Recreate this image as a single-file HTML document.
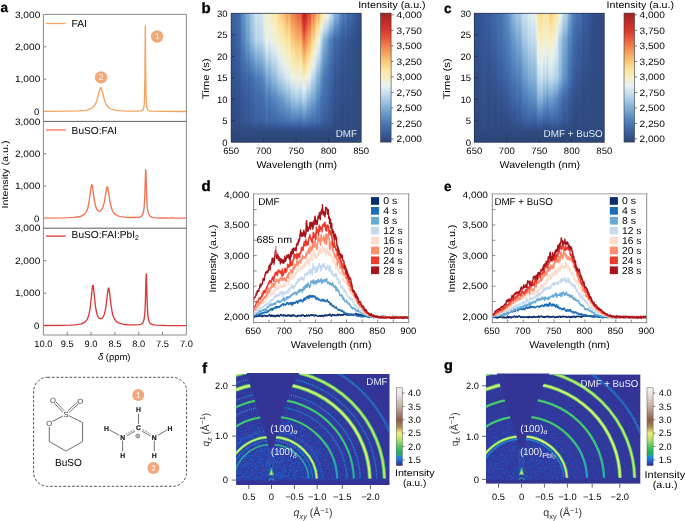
<!DOCTYPE html><html><head><meta charset="utf-8"><style>html,body{margin:0;padding:0;background:#fff;width:685px;height:521px;overflow:hidden}svg{display:block;font-family:"Liberation Sans",sans-serif;will-change:transform;text-rendering:geometricPrecision}</style></head><body><svg width="685" height="521" viewBox="0 0 685 521"><defs><linearGradient id="hb0" x2="0" y2="1"><stop offset="0" stop-color="#3d62a2"/><stop offset=".033" stop-color="#3d62a2"/><stop offset=".117" stop-color="#3a5c9d"/><stop offset=".207" stop-color="#365695"/><stop offset=".3" stop-color="#355492"/><stop offset=".4" stop-color="#34528e"/><stop offset=".5" stop-color="#32508a"/><stop offset=".583" stop-color="#324f88"/><stop offset=".667" stop-color="#314e87"/><stop offset=".75" stop-color="#304d84"/><stop offset=".833" stop-color="#2f4b81"/><stop offset=".86" stop-color="#2f4b81"/><stop offset=".88" stop-color="#2f4b80"/><stop offset=".9" stop-color="#2f4a7f"/><stop offset=".917" stop-color="#2e4a7f"/><stop offset="1" stop-color="#2c4678"/></linearGradient><linearGradient id="hb1" x2="0" y2="1"><stop offset="0" stop-color="#3e65a4"/><stop offset=".033" stop-color="#3e65a4"/><stop offset=".117" stop-color="#3b5f9f"/><stop offset=".207" stop-color="#38599a"/><stop offset=".3" stop-color="#375796"/><stop offset=".4" stop-color="#355491"/><stop offset=".5" stop-color="#33528d"/><stop offset=".583" stop-color="#33518b"/><stop offset=".667" stop-color="#324f89"/><stop offset=".75" stop-color="#314e86"/><stop offset=".833" stop-color="#304c83"/><stop offset=".86" stop-color="#304c83"/><stop offset=".88" stop-color="#304c82"/><stop offset=".9" stop-color="#2f4b80"/><stop offset=".917" stop-color="#2f4a7f"/><stop offset="1" stop-color="#2c4679"/></linearGradient><linearGradient id="hb2" x2="0" y2="1"><stop offset="0" stop-color="#3d62a2"/><stop offset=".033" stop-color="#3d62a2"/><stop offset=".117" stop-color="#3a5d9e"/><stop offset=".207" stop-color="#385899"/><stop offset=".3" stop-color="#365694"/><stop offset=".4" stop-color="#345390"/><stop offset=".5" stop-color="#33518b"/><stop offset=".583" stop-color="#324f89"/><stop offset=".667" stop-color="#314e86"/><stop offset=".75" stop-color="#304c84"/><stop offset=".833" stop-color="#2f4b81"/><stop offset=".86" stop-color="#2f4a80"/><stop offset=".88" stop-color="#2e4a7f"/><stop offset=".9" stop-color="#2e4a7f"/><stop offset=".917" stop-color="#2e4a7e"/><stop offset="1" stop-color="#2c4678"/></linearGradient><linearGradient id="hb3" x2="0" y2="1"><stop offset="0" stop-color="#3c61a1"/><stop offset=".033" stop-color="#3c61a1"/><stop offset=".117" stop-color="#3a5d9d"/><stop offset=".207" stop-color="#385899"/><stop offset=".3" stop-color="#365694"/><stop offset=".4" stop-color="#34538f"/><stop offset=".5" stop-color="#33508a"/><stop offset=".583" stop-color="#324f88"/><stop offset=".667" stop-color="#314d85"/><stop offset=".75" stop-color="#304c82"/><stop offset=".833" stop-color="#2f4a80"/><stop offset=".86" stop-color="#2e4a7e"/><stop offset=".88" stop-color="#2e497d"/><stop offset=".9" stop-color="#2e4a7e"/><stop offset=".917" stop-color="#2e497e"/><stop offset="1" stop-color="#2c4678"/></linearGradient><linearGradient id="hb4" x2="0" y2="1"><stop offset="0" stop-color="#3e64a4"/><stop offset=".033" stop-color="#3e64a4"/><stop offset=".117" stop-color="#3c60a1"/><stop offset=".207" stop-color="#3a5c9d"/><stop offset=".3" stop-color="#38599a"/><stop offset=".4" stop-color="#365694"/><stop offset=".5" stop-color="#34538f"/><stop offset=".583" stop-color="#33518c"/><stop offset=".667" stop-color="#324f88"/><stop offset=".75" stop-color="#314e86"/><stop offset=".833" stop-color="#304c83"/><stop offset=".86" stop-color="#2f4b81"/><stop offset=".88" stop-color="#2f4b80"/><stop offset=".9" stop-color="#2f4a7f"/><stop offset=".917" stop-color="#2e4a7e"/><stop offset="1" stop-color="#2c4678"/></linearGradient><linearGradient id="hb5" x2="0" y2="1"><stop offset="0" stop-color="#4068a7"/><stop offset=".033" stop-color="#4068a7"/><stop offset=".117" stop-color="#3e65a4"/><stop offset=".207" stop-color="#3c61a1"/><stop offset=".3" stop-color="#3a5d9e"/><stop offset=".4" stop-color="#38599a"/><stop offset=".5" stop-color="#365694"/><stop offset=".583" stop-color="#345390"/><stop offset=".667" stop-color="#33518c"/><stop offset=".75" stop-color="#325089"/><stop offset=".833" stop-color="#314e87"/><stop offset=".86" stop-color="#304d85"/><stop offset=".88" stop-color="#304c83"/><stop offset=".9" stop-color="#2f4b81"/><stop offset=".917" stop-color="#2f4a7f"/><stop offset="1" stop-color="#2c4678"/></linearGradient><linearGradient id="hb6" x2="0" y2="1"><stop offset="0" stop-color="#4069a8"/><stop offset=".033" stop-color="#4069a8"/><stop offset=".117" stop-color="#3f66a5"/><stop offset=".207" stop-color="#3d63a3"/><stop offset=".3" stop-color="#3b5f9f"/><stop offset=".4" stop-color="#395a9b"/><stop offset=".5" stop-color="#365695"/><stop offset=".583" stop-color="#355491"/><stop offset=".667" stop-color="#33528d"/><stop offset=".75" stop-color="#32508a"/><stop offset=".833" stop-color="#314f87"/><stop offset=".86" stop-color="#314d85"/><stop offset=".88" stop-color="#304c83"/><stop offset=".9" stop-color="#2f4b81"/><stop offset=".917" stop-color="#2f4a7f"/><stop offset="1" stop-color="#2c4678"/></linearGradient><linearGradient id="hb7" x2="0" y2="1"><stop offset="0" stop-color="#4069a8"/><stop offset=".033" stop-color="#4069a8"/><stop offset=".117" stop-color="#3f66a5"/><stop offset=".207" stop-color="#3d63a3"/><stop offset=".3" stop-color="#3b5e9f"/><stop offset=".4" stop-color="#38599a"/><stop offset=".5" stop-color="#355593"/><stop offset=".583" stop-color="#34528e"/><stop offset=".667" stop-color="#32508a"/><stop offset=".75" stop-color="#314e87"/><stop offset=".833" stop-color="#304d84"/><stop offset=".86" stop-color="#2f4b81"/><stop offset=".88" stop-color="#2f4a7f"/><stop offset=".9" stop-color="#2f4a7f"/><stop offset=".917" stop-color="#2e497e"/><stop offset="1" stop-color="#2c4678"/></linearGradient><linearGradient id="hb8" x2="0" y2="1"><stop offset="0" stop-color="#436eac"/><stop offset=".033" stop-color="#436dac"/><stop offset=".117" stop-color="#416aa9"/><stop offset=".207" stop-color="#3f67a6"/><stop offset=".3" stop-color="#3c61a1"/><stop offset=".4" stop-color="#395c9c"/><stop offset=".5" stop-color="#365695"/><stop offset=".583" stop-color="#345390"/><stop offset=".667" stop-color="#33508b"/><stop offset=".75" stop-color="#324f88"/><stop offset=".833" stop-color="#314d85"/><stop offset=".86" stop-color="#2f4b82"/><stop offset=".88" stop-color="#2f4a80"/><stop offset=".9" stop-color="#2f4a7f"/><stop offset=".917" stop-color="#2e497e"/><stop offset="1" stop-color="#2c4678"/></linearGradient><linearGradient id="hb9" x2="0" y2="1"><stop offset="0" stop-color="#4c79b5"/><stop offset=".033" stop-color="#4b78b4"/><stop offset=".117" stop-color="#4774b1"/><stop offset=".207" stop-color="#4470ae"/><stop offset=".3" stop-color="#4069a8"/><stop offset=".4" stop-color="#3d62a2"/><stop offset=".5" stop-color="#395b9c"/><stop offset=".583" stop-color="#375797"/><stop offset=".667" stop-color="#355491"/><stop offset=".75" stop-color="#34528e"/><stop offset=".833" stop-color="#32508a"/><stop offset=".86" stop-color="#314e87"/><stop offset=".88" stop-color="#304d84"/><stop offset=".9" stop-color="#2f4b81"/><stop offset=".917" stop-color="#2e4a7f"/><stop offset="1" stop-color="#2c4678"/></linearGradient><linearGradient id="hb10" x2="0" y2="1"><stop offset="0" stop-color="#5483bc"/><stop offset=".033" stop-color="#5282bb"/><stop offset=".117" stop-color="#4f7db8"/><stop offset=".207" stop-color="#4b78b4"/><stop offset=".3" stop-color="#446fad"/><stop offset=".4" stop-color="#3f67a6"/><stop offset=".5" stop-color="#3b5f9f"/><stop offset=".583" stop-color="#395a9b"/><stop offset=".667" stop-color="#365695"/><stop offset=".75" stop-color="#355492"/><stop offset=".833" stop-color="#34528e"/><stop offset=".86" stop-color="#32508a"/><stop offset=".88" stop-color="#314e87"/><stop offset=".9" stop-color="#304c82"/><stop offset=".917" stop-color="#2f4a80"/><stop offset="1" stop-color="#2c4679"/></linearGradient><linearGradient id="hb11" x2="0" y2="1"><stop offset="0" stop-color="#5b8cc3"/><stop offset=".033" stop-color="#598ac2"/><stop offset=".117" stop-color="#5585be"/><stop offset=".207" stop-color="#5180ba"/><stop offset=".3" stop-color="#4976b2"/><stop offset=".4" stop-color="#426caa"/><stop offset=".5" stop-color="#3d63a2"/><stop offset=".583" stop-color="#3a5d9e"/><stop offset=".667" stop-color="#385899"/><stop offset=".75" stop-color="#365695"/><stop offset=".833" stop-color="#355491"/><stop offset=".86" stop-color="#33518d"/><stop offset=".88" stop-color="#325089"/><stop offset=".9" stop-color="#304c83"/><stop offset=".917" stop-color="#2f4b80"/><stop offset="1" stop-color="#2c4779"/></linearGradient><linearGradient id="hb12" x2="0" y2="1"><stop offset="0" stop-color="#6191c5"/><stop offset=".033" stop-color="#5f8fc4"/><stop offset=".117" stop-color="#5989c1"/><stop offset=".207" stop-color="#5484bd"/><stop offset=".3" stop-color="#4b79b5"/><stop offset=".4" stop-color="#436eac"/><stop offset=".5" stop-color="#3d63a3"/><stop offset=".583" stop-color="#3b5e9e"/><stop offset=".667" stop-color="#385999"/><stop offset=".75" stop-color="#365695"/><stop offset=".833" stop-color="#355491"/><stop offset=".86" stop-color="#33518c"/><stop offset=".88" stop-color="#324f89"/><stop offset=".9" stop-color="#304c83"/><stop offset=".917" stop-color="#2f4a80"/><stop offset="1" stop-color="#2c4679"/></linearGradient><linearGradient id="hb13" x2="0" y2="1"><stop offset="0" stop-color="#6494c7"/><stop offset=".033" stop-color="#6191c5"/><stop offset=".117" stop-color="#5b8cc2"/><stop offset=".207" stop-color="#5686be"/><stop offset=".3" stop-color="#4c7ab5"/><stop offset=".4" stop-color="#436dac"/><stop offset=".5" stop-color="#3d63a2"/><stop offset=".583" stop-color="#3a5d9d"/><stop offset=".667" stop-color="#375897"/><stop offset=".75" stop-color="#365593"/><stop offset=".833" stop-color="#34538f"/><stop offset=".86" stop-color="#32508a"/><stop offset=".88" stop-color="#314e86"/><stop offset=".9" stop-color="#304c82"/><stop offset=".917" stop-color="#2e4a7f"/><stop offset="1" stop-color="#2c4678"/></linearGradient><linearGradient id="hb14" x2="0" y2="1"><stop offset="0" stop-color="#709fcd"/><stop offset=".033" stop-color="#6e9ccc"/><stop offset=".117" stop-color="#6796c8"/><stop offset=".207" stop-color="#6090c5"/><stop offset=".3" stop-color="#5282bb"/><stop offset=".4" stop-color="#4673b0"/><stop offset=".5" stop-color="#3e65a5"/><stop offset=".583" stop-color="#3b60a0"/><stop offset=".667" stop-color="#385a9b"/><stop offset=".75" stop-color="#375797"/><stop offset=".833" stop-color="#355593"/><stop offset=".86" stop-color="#33528d"/><stop offset=".88" stop-color="#324f89"/><stop offset=".9" stop-color="#304c83"/><stop offset=".917" stop-color="#2f4a7f"/><stop offset="1" stop-color="#2c4678"/></linearGradient><linearGradient id="hb15" x2="0" y2="1"><stop offset="0" stop-color="#83aed6"/><stop offset=".033" stop-color="#80acd4"/><stop offset=".117" stop-color="#78a6d1"/><stop offset=".207" stop-color="#719fcd"/><stop offset=".3" stop-color="#5c8dc3"/><stop offset=".4" stop-color="#4d7bb6"/><stop offset=".5" stop-color="#416ba9"/><stop offset=".583" stop-color="#3e64a4"/><stop offset=".667" stop-color="#3b5e9e"/><stop offset=".75" stop-color="#395b9c"/><stop offset=".833" stop-color="#385899"/><stop offset=".86" stop-color="#355592"/><stop offset=".88" stop-color="#33528d"/><stop offset=".9" stop-color="#314d85"/><stop offset=".917" stop-color="#2f4b80"/><stop offset="1" stop-color="#2c4779"/></linearGradient><linearGradient id="hb16" x2="0" y2="1"><stop offset="0" stop-color="#83aed6"/><stop offset=".033" stop-color="#80acd4"/><stop offset=".117" stop-color="#79a6d1"/><stop offset=".207" stop-color="#719fcd"/><stop offset=".3" stop-color="#5c8cc3"/><stop offset=".4" stop-color="#4c7ab5"/><stop offset=".5" stop-color="#4068a7"/><stop offset=".583" stop-color="#3d62a2"/><stop offset=".667" stop-color="#3a5c9d"/><stop offset=".75" stop-color="#38599a"/><stop offset=".833" stop-color="#375796"/><stop offset=".86" stop-color="#34538f"/><stop offset=".88" stop-color="#32508a"/><stop offset=".9" stop-color="#304c84"/><stop offset=".917" stop-color="#2f4a7f"/><stop offset="1" stop-color="#2c4678"/></linearGradient><linearGradient id="hb17" x2="0" y2="1"><stop offset="0" stop-color="#83aed5"/><stop offset=".033" stop-color="#80acd4"/><stop offset=".117" stop-color="#78a6d1"/><stop offset=".207" stop-color="#719fcd"/><stop offset=".3" stop-color="#5a8bc2"/><stop offset=".4" stop-color="#4a78b4"/><stop offset=".5" stop-color="#3f66a5"/><stop offset=".583" stop-color="#3c60a0"/><stop offset=".667" stop-color="#385a9b"/><stop offset=".75" stop-color="#375897"/><stop offset=".833" stop-color="#365594"/><stop offset=".86" stop-color="#33518c"/><stop offset=".88" stop-color="#314e86"/><stop offset=".9" stop-color="#304c82"/><stop offset=".917" stop-color="#2e497e"/><stop offset="1" stop-color="#2c4678"/></linearGradient><linearGradient id="hb18" x2="0" y2="1"><stop offset="0" stop-color="#8db6da"/><stop offset=".033" stop-color="#8ab3d9"/><stop offset=".117" stop-color="#82add5"/><stop offset=".207" stop-color="#7aa7d1"/><stop offset=".3" stop-color="#6191c5"/><stop offset=".4" stop-color="#4d7bb6"/><stop offset=".5" stop-color="#3f67a6"/><stop offset=".583" stop-color="#3c61a1"/><stop offset=".667" stop-color="#395b9c"/><stop offset=".75" stop-color="#385999"/><stop offset=".833" stop-color="#365695"/><stop offset=".86" stop-color="#33528d"/><stop offset=".88" stop-color="#314e87"/><stop offset=".9" stop-color="#304c83"/><stop offset=".917" stop-color="#2e497e"/><stop offset="1" stop-color="#2c4678"/></linearGradient><linearGradient id="hb19" x2="0" y2="1"><stop offset="0" stop-color="#9ec3e2"/><stop offset=".033" stop-color="#9bc1e0"/><stop offset=".117" stop-color="#93bbdd"/><stop offset=".207" stop-color="#8ab4d9"/><stop offset=".3" stop-color="#6e9ccb"/><stop offset=".4" stop-color="#5383bc"/><stop offset=".5" stop-color="#426caa"/><stop offset=".583" stop-color="#3e65a5"/><stop offset=".667" stop-color="#3b5f9f"/><stop offset=".75" stop-color="#3a5c9d"/><stop offset=".833" stop-color="#38599a"/><stop offset=".86" stop-color="#355491"/><stop offset=".88" stop-color="#32508a"/><stop offset=".9" stop-color="#304d84"/><stop offset=".917" stop-color="#2e4a7f"/><stop offset="1" stop-color="#2c4678"/></linearGradient><linearGradient id="hb20" x2="0" y2="1"><stop offset="0" stop-color="#a7c9e4"/><stop offset=".033" stop-color="#a4c7e3"/><stop offset=".117" stop-color="#9cc1e1"/><stop offset=".207" stop-color="#93badd"/><stop offset=".3" stop-color="#74a2cf"/><stop offset=".4" stop-color="#5787bf"/><stop offset=".5" stop-color="#436ead"/><stop offset=".583" stop-color="#4068a7"/><stop offset=".667" stop-color="#3c61a1"/><stop offset=".75" stop-color="#3b5e9e"/><stop offset=".833" stop-color="#395b9c"/><stop offset=".86" stop-color="#355593"/><stop offset=".88" stop-color="#33518c"/><stop offset=".9" stop-color="#304d85"/><stop offset=".917" stop-color="#2e4a7f"/><stop offset="1" stop-color="#2c4678"/></linearGradient><linearGradient id="hb21" x2="0" y2="1"><stop offset="0" stop-color="#abcce5"/><stop offset=".033" stop-color="#a8cae4"/><stop offset=".117" stop-color="#a0c4e2"/><stop offset=".207" stop-color="#97bdde"/><stop offset=".3" stop-color="#77a5d0"/><stop offset=".4" stop-color="#5889c1"/><stop offset=".5" stop-color="#4470ae"/><stop offset=".583" stop-color="#4069a8"/><stop offset=".667" stop-color="#3c62a1"/><stop offset=".75" stop-color="#3b5e9f"/><stop offset=".833" stop-color="#395b9c"/><stop offset=".86" stop-color="#355593"/><stop offset=".88" stop-color="#33518b"/><stop offset=".9" stop-color="#304d84"/><stop offset=".917" stop-color="#2e4a7f"/><stop offset="1" stop-color="#2c4678"/></linearGradient><linearGradient id="hb22" x2="0" y2="1"><stop offset="0" stop-color="#b3d1e7"/><stop offset=".033" stop-color="#b0cfe7"/><stop offset=".117" stop-color="#a8c9e4"/><stop offset=".207" stop-color="#9ec3e2"/><stop offset=".3" stop-color="#7daad3"/><stop offset=".4" stop-color="#5c8dc3"/><stop offset=".5" stop-color="#4672b0"/><stop offset=".583" stop-color="#416ba9"/><stop offset=".667" stop-color="#3d63a3"/><stop offset=".75" stop-color="#3c60a0"/><stop offset=".833" stop-color="#3a5c9d"/><stop offset=".86" stop-color="#365694"/><stop offset=".88" stop-color="#33518c"/><stop offset=".9" stop-color="#314d85"/><stop offset=".917" stop-color="#2e4a7f"/><stop offset="1" stop-color="#2c4678"/></linearGradient><linearGradient id="hb23" x2="0" y2="1"><stop offset="0" stop-color="#bfd8ea"/><stop offset=".033" stop-color="#bcd6ea"/><stop offset=".117" stop-color="#b3d1e7"/><stop offset=".207" stop-color="#a9cbe5"/><stop offset=".3" stop-color="#86b1d7"/><stop offset=".4" stop-color="#6393c6"/><stop offset=".5" stop-color="#4977b3"/><stop offset=".583" stop-color="#436eac"/><stop offset=".667" stop-color="#3f66a6"/><stop offset=".75" stop-color="#3d62a2"/><stop offset=".833" stop-color="#3b5e9f"/><stop offset=".86" stop-color="#375797"/><stop offset=".88" stop-color="#34528e"/><stop offset=".9" stop-color="#314e86"/><stop offset=".917" stop-color="#2f4a7f"/><stop offset="1" stop-color="#2c4678"/></linearGradient><linearGradient id="hb24" x2="0" y2="1"><stop offset="0" stop-color="#cbe0ed"/><stop offset=".033" stop-color="#c8deed"/><stop offset=".117" stop-color="#bfd8ea"/><stop offset=".207" stop-color="#b5d2e8"/><stop offset=".3" stop-color="#90b8db"/><stop offset=".4" stop-color="#6a99ca"/><stop offset=".5" stop-color="#4d7bb6"/><stop offset=".583" stop-color="#4572af"/><stop offset=".667" stop-color="#4169a8"/><stop offset=".75" stop-color="#3e65a4"/><stop offset=".833" stop-color="#3c61a1"/><stop offset=".86" stop-color="#385999"/><stop offset=".88" stop-color="#355390"/><stop offset=".9" stop-color="#314e86"/><stop offset=".917" stop-color="#2f4a80"/><stop offset="1" stop-color="#2c4679"/></linearGradient><linearGradient id="hb25" x2="0" y2="1"><stop offset="0" stop-color="#d3e5ee"/><stop offset=".033" stop-color="#d0e3ee"/><stop offset=".117" stop-color="#c7deec"/><stop offset=".207" stop-color="#bed7ea"/><stop offset=".3" stop-color="#97bdde"/><stop offset=".4" stop-color="#6f9ecc"/><stop offset=".5" stop-color="#507eb9"/><stop offset=".583" stop-color="#4874b1"/><stop offset=".667" stop-color="#426baa"/><stop offset=".75" stop-color="#3f67a6"/><stop offset=".833" stop-color="#3d62a2"/><stop offset=".86" stop-color="#38599a"/><stop offset=".88" stop-color="#355491"/><stop offset=".9" stop-color="#314e87"/><stop offset=".917" stop-color="#2f4a80"/><stop offset="1" stop-color="#2c4679"/></linearGradient><linearGradient id="hb26" x2="0" y2="1"><stop offset="0" stop-color="#cce0ed"/><stop offset=".033" stop-color="#c9dfed"/><stop offset=".117" stop-color="#c1d9eb"/><stop offset=".207" stop-color="#b8d3e8"/><stop offset=".3" stop-color="#92badc"/><stop offset=".4" stop-color="#6c9bcb"/><stop offset=".5" stop-color="#4e7cb7"/><stop offset=".583" stop-color="#4672af"/><stop offset=".667" stop-color="#4069a8"/><stop offset=".75" stop-color="#3e64a4"/><stop offset=".833" stop-color="#3b60a0"/><stop offset=".86" stop-color="#375797"/><stop offset=".88" stop-color="#34528e"/><stop offset=".9" stop-color="#314e86"/><stop offset=".917" stop-color="#2e4a7f"/><stop offset="1" stop-color="#2c4678"/></linearGradient><linearGradient id="hb27" x2="0" y2="1"><stop offset="0" stop-color="#c6ddec"/><stop offset=".033" stop-color="#c3dbec"/><stop offset=".117" stop-color="#bbd6e9"/><stop offset=".207" stop-color="#b2d0e7"/><stop offset=".3" stop-color="#8db6da"/><stop offset=".4" stop-color="#6998c9"/><stop offset=".5" stop-color="#4d7bb6"/><stop offset=".583" stop-color="#4470ae"/><stop offset=".667" stop-color="#4067a7"/><stop offset=".75" stop-color="#3d63a2"/><stop offset=".833" stop-color="#3b5e9e"/><stop offset=".86" stop-color="#365694"/><stop offset=".88" stop-color="#33518b"/><stop offset=".9" stop-color="#304d85"/><stop offset=".917" stop-color="#2e497e"/><stop offset="1" stop-color="#2c4678"/></linearGradient><linearGradient id="hb28" x2="0" y2="1"><stop offset="0" stop-color="#d0e3ee"/><stop offset=".033" stop-color="#cee1ed"/><stop offset=".117" stop-color="#c6dcec"/><stop offset=".207" stop-color="#bcd7ea"/><stop offset=".3" stop-color="#96bdde"/><stop offset=".4" stop-color="#709fcd"/><stop offset=".5" stop-color="#5180ba"/><stop offset=".583" stop-color="#4875b2"/><stop offset=".667" stop-color="#416ba9"/><stop offset=".75" stop-color="#3f65a5"/><stop offset=".833" stop-color="#3c60a0"/><stop offset=".86" stop-color="#375897"/><stop offset=".88" stop-color="#34528d"/><stop offset=".9" stop-color="#314e85"/><stop offset=".917" stop-color="#2e4a7e"/><stop offset="1" stop-color="#2c4678"/></linearGradient><linearGradient id="hb29" x2="0" y2="1"><stop offset="0" stop-color="#d0e3ee"/><stop offset=".033" stop-color="#cde1ed"/><stop offset=".117" stop-color="#c5dcec"/><stop offset=".207" stop-color="#bcd7ea"/><stop offset=".3" stop-color="#97bede"/><stop offset=".4" stop-color="#719fcd"/><stop offset=".5" stop-color="#5281bb"/><stop offset=".583" stop-color="#4875b2"/><stop offset=".667" stop-color="#416ba9"/><stop offset=".75" stop-color="#3e65a5"/><stop offset=".833" stop-color="#3c60a0"/><stop offset=".86" stop-color="#375797"/><stop offset=".88" stop-color="#33518c"/><stop offset=".9" stop-color="#314d85"/><stop offset=".917" stop-color="#2e497e"/><stop offset="1" stop-color="#2c4678"/></linearGradient><linearGradient id="hb30" x2="0" y2="1"><stop offset="0" stop-color="#d3e5ee"/><stop offset=".033" stop-color="#d0e3ee"/><stop offset=".117" stop-color="#c8deed"/><stop offset=".207" stop-color="#bfd8eb"/><stop offset=".3" stop-color="#9ac0e0"/><stop offset=".4" stop-color="#74a2cf"/><stop offset=".5" stop-color="#5483bc"/><stop offset=".583" stop-color="#4a77b3"/><stop offset=".667" stop-color="#426caa"/><stop offset=".75" stop-color="#3f66a5"/><stop offset=".833" stop-color="#3c60a0"/><stop offset=".86" stop-color="#375797"/><stop offset=".88" stop-color="#33518c"/><stop offset=".9" stop-color="#314d85"/><stop offset=".917" stop-color="#2e497e"/><stop offset="1" stop-color="#2c4678"/></linearGradient><linearGradient id="hb31" x2="0" y2="1"><stop offset="0" stop-color="#d5e6ef"/><stop offset=".033" stop-color="#d3e5ee"/><stop offset=".117" stop-color="#cbe0ed"/><stop offset=".207" stop-color="#c2daeb"/><stop offset=".3" stop-color="#9dc2e1"/><stop offset=".4" stop-color="#77a4d0"/><stop offset=".5" stop-color="#5686be"/><stop offset=".583" stop-color="#4b79b5"/><stop offset=".667" stop-color="#426dab"/><stop offset=".75" stop-color="#3f67a6"/><stop offset=".833" stop-color="#3c61a1"/><stop offset=".86" stop-color="#375797"/><stop offset=".88" stop-color="#33518c"/><stop offset=".9" stop-color="#314d85"/><stop offset=".917" stop-color="#2e497e"/><stop offset="1" stop-color="#2c4678"/></linearGradient><linearGradient id="hb32" x2="0" y2="1"><stop offset="0" stop-color="#dfecf0"/><stop offset=".033" stop-color="#dceaf0"/><stop offset=".117" stop-color="#d4e5ef"/><stop offset=".207" stop-color="#cce0ed"/><stop offset=".3" stop-color="#a6c8e4"/><stop offset=".4" stop-color="#7eaad3"/><stop offset=".5" stop-color="#5a8bc2"/><stop offset=".583" stop-color="#4f7db8"/><stop offset=".667" stop-color="#446fae"/><stop offset=".75" stop-color="#4069a8"/><stop offset=".833" stop-color="#3d63a3"/><stop offset=".86" stop-color="#38599a"/><stop offset=".88" stop-color="#34528e"/><stop offset=".9" stop-color="#314e86"/><stop offset=".917" stop-color="#2e497e"/><stop offset="1" stop-color="#2c4678"/></linearGradient><linearGradient id="hb33" x2="0" y2="1"><stop offset="0" stop-color="#e6f1f2"/><stop offset=".033" stop-color="#e3eff1"/><stop offset=".117" stop-color="#dae9f0"/><stop offset=".207" stop-color="#d1e4ee"/><stop offset=".3" stop-color="#accce5"/><stop offset=".4" stop-color="#84afd6"/><stop offset=".5" stop-color="#6090c5"/><stop offset=".583" stop-color="#5181ba"/><stop offset=".667" stop-color="#4571af"/><stop offset=".75" stop-color="#416aa9"/><stop offset=".833" stop-color="#3e64a3"/><stop offset=".86" stop-color="#38599a"/><stop offset=".88" stop-color="#34538f"/><stop offset=".9" stop-color="#314e86"/><stop offset=".917" stop-color="#2e4a7e"/><stop offset="1" stop-color="#2c4678"/></linearGradient><linearGradient id="hb34" x2="0" y2="1"><stop offset="0" stop-color="#f1f0d7"/><stop offset=".033" stop-color="#eff0db"/><stop offset=".117" stop-color="#ebf1e8"/><stop offset=".207" stop-color="#e4f0f1"/><stop offset=".3" stop-color="#bfd8ea"/><stop offset=".4" stop-color="#95bcde"/><stop offset=".5" stop-color="#6e9ccc"/><stop offset=".583" stop-color="#598ac1"/><stop offset=".667" stop-color="#4b79b4"/><stop offset=".75" stop-color="#4470ae"/><stop offset=".833" stop-color="#4068a7"/><stop offset=".86" stop-color="#3a5d9e"/><stop offset=".88" stop-color="#365694"/><stop offset=".9" stop-color="#324f88"/><stop offset=".917" stop-color="#2f4a80"/><stop offset="1" stop-color="#2c4679"/></linearGradient><linearGradient id="hb35" x2="0" y2="1"><stop offset="0" stop-color="#f8ebb9"/><stop offset=".033" stop-color="#f8ecbc"/><stop offset=".117" stop-color="#f5efca"/><stop offset=".207" stop-color="#eff0db"/><stop offset=".3" stop-color="#d3e5ee"/><stop offset=".4" stop-color="#a8cae4"/><stop offset=".5" stop-color="#7daad3"/><stop offset=".583" stop-color="#6595c7"/><stop offset=".667" stop-color="#5180ba"/><stop offset=".75" stop-color="#4977b3"/><stop offset=".833" stop-color="#436dac"/><stop offset=".86" stop-color="#3c61a1"/><stop offset=".88" stop-color="#385999"/><stop offset=".9" stop-color="#32508a"/><stop offset=".917" stop-color="#2f4b81"/><stop offset="1" stop-color="#2d477a"/></linearGradient><linearGradient id="hb36" x2="0" y2="1"><stop offset="0" stop-color="#f7eec3"/><stop offset=".033" stop-color="#f5eec7"/><stop offset=".117" stop-color="#f0f0d7"/><stop offset=".207" stop-color="#ebf1e9"/><stop offset=".3" stop-color="#cbe0ed"/><stop offset=".4" stop-color="#a2c6e3"/><stop offset=".5" stop-color="#7aa7d1"/><stop offset=".583" stop-color="#6191c5"/><stop offset=".667" stop-color="#4e7db7"/><stop offset=".75" stop-color="#4673b0"/><stop offset=".833" stop-color="#416aa9"/><stop offset=".86" stop-color="#3b5e9f"/><stop offset=".88" stop-color="#365695"/><stop offset=".9" stop-color="#324f89"/><stop offset=".917" stop-color="#2f4a80"/><stop offset="1" stop-color="#2c4779"/></linearGradient><linearGradient id="hb37" x2="0" y2="1"><stop offset="0" stop-color="#f4efcd"/><stop offset=".033" stop-color="#f2efd1"/><stop offset=".117" stop-color="#edf1e2"/><stop offset=".207" stop-color="#e6f1f2"/><stop offset=".3" stop-color="#c4dcec"/><stop offset=".4" stop-color="#9dc2e1"/><stop offset=".5" stop-color="#78a5d0"/><stop offset=".583" stop-color="#5e8fc4"/><stop offset=".667" stop-color="#4c7ab5"/><stop offset=".75" stop-color="#4470ae"/><stop offset=".833" stop-color="#3f67a6"/><stop offset=".86" stop-color="#3a5c9d"/><stop offset=".88" stop-color="#355592"/><stop offset=".9" stop-color="#314f88"/><stop offset=".917" stop-color="#2e4a7f"/><stop offset="1" stop-color="#2c4678"/></linearGradient><linearGradient id="hb38" x2="0" y2="1"><stop offset="0" stop-color="#f0f0d7"/><stop offset=".033" stop-color="#eff0db"/><stop offset=".117" stop-color="#eaf2ec"/><stop offset=".207" stop-color="#deecf0"/><stop offset=".3" stop-color="#bed7ea"/><stop offset=".4" stop-color="#98bfdf"/><stop offset=".5" stop-color="#75a3cf"/><stop offset=".583" stop-color="#5b8cc3"/><stop offset=".667" stop-color="#4977b3"/><stop offset=".75" stop-color="#426dab"/><stop offset=".833" stop-color="#3e64a4"/><stop offset=".86" stop-color="#385a9b"/><stop offset=".88" stop-color="#34538f"/><stop offset=".9" stop-color="#314e86"/><stop offset=".917" stop-color="#2e497e"/><stop offset="1" stop-color="#2c4678"/></linearGradient><linearGradient id="hb39" x2="0" y2="1"><stop offset="0" stop-color="#f5efca"/><stop offset=".033" stop-color="#f3efce"/><stop offset=".117" stop-color="#eef1e0"/><stop offset=".207" stop-color="#e6f1f2"/><stop offset=".3" stop-color="#c6ddec"/><stop offset=".4" stop-color="#a1c5e2"/><stop offset=".5" stop-color="#7daad3"/><stop offset=".583" stop-color="#6191c5"/><stop offset=".667" stop-color="#4c7ab5"/><stop offset=".75" stop-color="#446fad"/><stop offset=".833" stop-color="#3f66a5"/><stop offset=".86" stop-color="#395b9c"/><stop offset=".88" stop-color="#355491"/><stop offset=".9" stop-color="#314e87"/><stop offset=".917" stop-color="#2e4a7e"/><stop offset="1" stop-color="#2c4678"/></linearGradient><linearGradient id="hb40" x2="0" y2="1"><stop offset="0" stop-color="#f8ebb8"/><stop offset=".033" stop-color="#f8ecbb"/><stop offset=".117" stop-color="#f3efce"/><stop offset=".207" stop-color="#ecf1e4"/><stop offset=".3" stop-color="#d2e4ee"/><stop offset=".4" stop-color="#adcde6"/><stop offset=".5" stop-color="#88b2d8"/><stop offset=".583" stop-color="#6a99ca"/><stop offset=".667" stop-color="#5180ba"/><stop offset=".75" stop-color="#4774b1"/><stop offset=".833" stop-color="#4069a8"/><stop offset=".86" stop-color="#3a5d9e"/><stop offset=".88" stop-color="#365594"/><stop offset=".9" stop-color="#324f88"/><stop offset=".917" stop-color="#2f4a7f"/><stop offset="1" stop-color="#2c4678"/></linearGradient><linearGradient id="hb41" x2="0" y2="1"><stop offset="0" stop-color="#f8eab5"/><stop offset=".033" stop-color="#f8ebb8"/><stop offset=".117" stop-color="#f5efca"/><stop offset=".207" stop-color="#edf1e1"/><stop offset=".3" stop-color="#d4e6ef"/><stop offset=".4" stop-color="#b1cfe7"/><stop offset=".5" stop-color="#8db6da"/><stop offset=".583" stop-color="#6d9bcb"/><stop offset=".667" stop-color="#5281bb"/><stop offset=".75" stop-color="#4875b1"/><stop offset=".833" stop-color="#4069a8"/><stop offset=".86" stop-color="#3a5d9e"/><stop offset=".88" stop-color="#365593"/><stop offset=".9" stop-color="#324f88"/><stop offset=".917" stop-color="#2e4a7f"/><stop offset="1" stop-color="#2c4678"/></linearGradient><linearGradient id="hb42" x2="0" y2="1"><stop offset="0" stop-color="#f9e9b0"/><stop offset=".033" stop-color="#f9eab2"/><stop offset=".117" stop-color="#f6eec4"/><stop offset=".207" stop-color="#eff0dc"/><stop offset=".3" stop-color="#d8e8ef"/><stop offset=".4" stop-color="#b6d2e8"/><stop offset=".5" stop-color="#92badc"/><stop offset=".583" stop-color="#719fcd"/><stop offset=".667" stop-color="#5484bd"/><stop offset=".75" stop-color="#4976b3"/><stop offset=".833" stop-color="#416aa8"/><stop offset=".86" stop-color="#3a5e9e"/><stop offset=".88" stop-color="#365694"/><stop offset=".9" stop-color="#324f88"/><stop offset=".917" stop-color="#2e4a7f"/><stop offset="1" stop-color="#2c4678"/></linearGradient><linearGradient id="hb43" x2="0" y2="1"><stop offset="0" stop-color="#f9e9b0"/><stop offset=".033" stop-color="#f9eab3"/><stop offset=".117" stop-color="#f6eec5"/><stop offset=".207" stop-color="#eef0df"/><stop offset=".3" stop-color="#d8e8ef"/><stop offset=".4" stop-color="#b6d3e8"/><stop offset=".5" stop-color="#93bbdd"/><stop offset=".583" stop-color="#72a0cd"/><stop offset=".667" stop-color="#5484bd"/><stop offset=".75" stop-color="#4976b2"/><stop offset=".833" stop-color="#4069a8"/><stop offset=".86" stop-color="#3a5d9d"/><stop offset=".88" stop-color="#355593"/><stop offset=".9" stop-color="#324f88"/><stop offset=".917" stop-color="#2e4a7f"/><stop offset="1" stop-color="#2c4678"/></linearGradient><linearGradient id="hb44" x2="0" y2="1"><stop offset="0" stop-color="#f9e9b1"/><stop offset=".033" stop-color="#f9eab4"/><stop offset=".117" stop-color="#f5eec7"/><stop offset=".207" stop-color="#edf1e1"/><stop offset=".3" stop-color="#d7e7ef"/><stop offset=".4" stop-color="#b6d3e8"/><stop offset=".5" stop-color="#95bcdd"/><stop offset=".583" stop-color="#72a0ce"/><stop offset=".667" stop-color="#5584bd"/><stop offset=".75" stop-color="#4976b2"/><stop offset=".833" stop-color="#4068a7"/><stop offset=".86" stop-color="#3a5c9d"/><stop offset=".88" stop-color="#355492"/><stop offset=".9" stop-color="#314f87"/><stop offset=".917" stop-color="#2e4a7e"/><stop offset="1" stop-color="#2c4678"/></linearGradient><linearGradient id="hb45" x2="0" y2="1"><stop offset="0" stop-color="#fae6a6"/><stop offset=".033" stop-color="#fae7a9"/><stop offset=".117" stop-color="#f8ecbc"/><stop offset=".207" stop-color="#f1f0d6"/><stop offset=".3" stop-color="#dfecf0"/><stop offset=".4" stop-color="#bfd8ea"/><stop offset=".5" stop-color="#9dc3e1"/><stop offset=".583" stop-color="#79a6d1"/><stop offset=".667" stop-color="#5889c0"/><stop offset=".75" stop-color="#4b79b4"/><stop offset=".833" stop-color="#416aa9"/><stop offset=".86" stop-color="#3a5e9e"/><stop offset=".88" stop-color="#365593"/><stop offset=".9" stop-color="#324f88"/><stop offset=".917" stop-color="#2e4a7f"/><stop offset="1" stop-color="#2c4678"/></linearGradient><linearGradient id="hb46" x2="0" y2="1"><stop offset="0" stop-color="#fbe39d"/><stop offset=".033" stop-color="#fbe5a0"/><stop offset=".117" stop-color="#f9eab4"/><stop offset=".207" stop-color="#f4efcd"/><stop offset=".3" stop-color="#e6f1f2"/><stop offset=".4" stop-color="#c7ddec"/><stop offset=".5" stop-color="#a5c8e4"/><stop offset=".583" stop-color="#7fabd4"/><stop offset=".667" stop-color="#5b8cc3"/><stop offset=".75" stop-color="#4d7bb6"/><stop offset=".833" stop-color="#426caa"/><stop offset=".86" stop-color="#3b5f9f"/><stop offset=".88" stop-color="#365694"/><stop offset=".9" stop-color="#324f89"/><stop offset=".917" stop-color="#2e4a7f"/><stop offset="1" stop-color="#2c4678"/></linearGradient><linearGradient id="hb47" x2="0" y2="1"><stop offset="0" stop-color="#fad58c"/><stop offset=".033" stop-color="#fbd88f"/><stop offset=".117" stop-color="#fae6a5"/><stop offset=".207" stop-color="#f8ecbc"/><stop offset=".3" stop-color="#edf1e3"/><stop offset=".4" stop-color="#d4e5ef"/><stop offset=".5" stop-color="#b3d1e7"/><stop offset=".583" stop-color="#89b3d8"/><stop offset=".667" stop-color="#6393c6"/><stop offset=".75" stop-color="#5180ba"/><stop offset=".833" stop-color="#436fad"/><stop offset=".86" stop-color="#3c61a1"/><stop offset=".88" stop-color="#375898"/><stop offset=".9" stop-color="#32508a"/><stop offset=".917" stop-color="#2f4a80"/><stop offset="1" stop-color="#2c4679"/></linearGradient><linearGradient id="hb48" x2="0" y2="1"><stop offset="0" stop-color="#fbd88f"/><stop offset=".033" stop-color="#fbda92"/><stop offset=".117" stop-color="#fae7a8"/><stop offset=".207" stop-color="#f7eec0"/><stop offset=".3" stop-color="#ecf1e6"/><stop offset=".4" stop-color="#d2e4ee"/><stop offset=".5" stop-color="#b3d0e7"/><stop offset=".583" stop-color="#89b3d8"/><stop offset=".667" stop-color="#6292c6"/><stop offset=".75" stop-color="#5180b9"/><stop offset=".833" stop-color="#436dac"/><stop offset=".86" stop-color="#3c60a0"/><stop offset=".88" stop-color="#375796"/><stop offset=".9" stop-color="#325089"/><stop offset=".917" stop-color="#2f4a7f"/><stop offset="1" stop-color="#2c4678"/></linearGradient><linearGradient id="hb49" x2="0" y2="1"><stop offset="0" stop-color="#fad48a"/><stop offset=".033" stop-color="#fbd78e"/><stop offset=".117" stop-color="#fae6a5"/><stop offset=".207" stop-color="#f8edbd"/><stop offset=".3" stop-color="#edf1e2"/><stop offset=".4" stop-color="#d6e7ef"/><stop offset=".5" stop-color="#b7d3e8"/><stop offset=".583" stop-color="#8db6da"/><stop offset=".667" stop-color="#6695c8"/><stop offset=".75" stop-color="#5281bb"/><stop offset=".833" stop-color="#436eac"/><stop offset=".86" stop-color="#3c60a1"/><stop offset=".88" stop-color="#375796"/><stop offset=".9" stop-color="#325089"/><stop offset=".917" stop-color="#2f4a7f"/><stop offset="1" stop-color="#2c4678"/></linearGradient><linearGradient id="hb50" x2="0" y2="1"><stop offset="0" stop-color="#face82"/><stop offset=".033" stop-color="#fad186"/><stop offset=".117" stop-color="#fbe49e"/><stop offset=".207" stop-color="#f8ebb7"/><stop offset=".3" stop-color="#eff0da"/><stop offset=".4" stop-color="#dceaf0"/><stop offset=".5" stop-color="#bdd7ea"/><stop offset=".583" stop-color="#92badc"/><stop offset=".667" stop-color="#6b9aca"/><stop offset=".75" stop-color="#5484bd"/><stop offset=".833" stop-color="#446fad"/><stop offset=".86" stop-color="#3c61a1"/><stop offset=".88" stop-color="#375797"/><stop offset=".9" stop-color="#32508a"/><stop offset=".917" stop-color="#2f4a7f"/><stop offset="1" stop-color="#2c4678"/></linearGradient><linearGradient id="hb51" x2="0" y2="1"><stop offset="0" stop-color="#fac97d"/><stop offset=".033" stop-color="#facc80"/><stop offset=".117" stop-color="#fbe099"/><stop offset=".207" stop-color="#f9eab3"/><stop offset=".3" stop-color="#f1f0d4"/><stop offset=".4" stop-color="#e0edf1"/><stop offset=".5" stop-color="#c2daeb"/><stop offset=".583" stop-color="#97bede"/><stop offset=".667" stop-color="#6e9dcc"/><stop offset=".75" stop-color="#5686be"/><stop offset=".833" stop-color="#4470ae"/><stop offset=".86" stop-color="#3d62a2"/><stop offset=".88" stop-color="#375898"/><stop offset=".9" stop-color="#32508a"/><stop offset=".917" stop-color="#2f4a7f"/><stop offset="1" stop-color="#2c4678"/></linearGradient><linearGradient id="hb52" x2="0" y2="1"><stop offset="0" stop-color="#fac97c"/><stop offset=".033" stop-color="#facc80"/><stop offset=".117" stop-color="#fbe099"/><stop offset=".207" stop-color="#f9eab4"/><stop offset=".3" stop-color="#f1f0d5"/><stop offset=".4" stop-color="#e0edf1"/><stop offset=".5" stop-color="#c3dbeb"/><stop offset=".583" stop-color="#98bfdf"/><stop offset=".667" stop-color="#709ecd"/><stop offset=".75" stop-color="#5686be"/><stop offset=".833" stop-color="#4470ae"/><stop offset=".86" stop-color="#3c61a1"/><stop offset=".88" stop-color="#375797"/><stop offset=".9" stop-color="#32508a"/><stop offset=".917" stop-color="#2e4a7f"/><stop offset="1" stop-color="#2c4678"/></linearGradient><linearGradient id="hb53" x2="0" y2="1"><stop offset="0" stop-color="#f9be73"/><stop offset=".033" stop-color="#fac377"/><stop offset=".117" stop-color="#fbd890"/><stop offset=".207" stop-color="#f9e8ac"/><stop offset=".3" stop-color="#f5efca"/><stop offset=".4" stop-color="#e8f2f2"/><stop offset=".5" stop-color="#cbe0ed"/><stop offset=".583" stop-color="#a0c4e2"/><stop offset=".667" stop-color="#76a4d0"/><stop offset=".75" stop-color="#598ac1"/><stop offset=".833" stop-color="#4672af"/><stop offset=".86" stop-color="#3d63a3"/><stop offset=".88" stop-color="#375898"/><stop offset=".9" stop-color="#32508a"/><stop offset=".917" stop-color="#2f4a7f"/><stop offset="1" stop-color="#2c4678"/></linearGradient><linearGradient id="hb54" x2="0" y2="1"><stop offset="0" stop-color="#f8b76e"/><stop offset=".033" stop-color="#f9bc72"/><stop offset=".117" stop-color="#fad389"/><stop offset=".207" stop-color="#fae6a6"/><stop offset=".3" stop-color="#f7eec3"/><stop offset=".4" stop-color="#eaf1ea"/><stop offset=".5" stop-color="#d0e3ee"/><stop offset=".583" stop-color="#a5c8e4"/><stop offset=".667" stop-color="#7ba8d2"/><stop offset=".75" stop-color="#5c8dc3"/><stop offset=".833" stop-color="#4773b0"/><stop offset=".86" stop-color="#3e64a3"/><stop offset=".88" stop-color="#385999"/><stop offset=".9" stop-color="#33508b"/><stop offset=".917" stop-color="#2f4a7f"/><stop offset="1" stop-color="#2c4678"/></linearGradient><linearGradient id="hb55" x2="0" y2="1"><stop offset="0" stop-color="#f7a964"/><stop offset=".033" stop-color="#f7af68"/><stop offset=".117" stop-color="#faca7e"/><stop offset=".207" stop-color="#fbe29c"/><stop offset=".3" stop-color="#f8ebb8"/><stop offset=".4" stop-color="#eff0dd"/><stop offset=".5" stop-color="#dae9f0"/><stop offset=".583" stop-color="#aecee6"/><stop offset=".667" stop-color="#83aed5"/><stop offset=".75" stop-color="#6191c5"/><stop offset=".833" stop-color="#4976b2"/><stop offset=".86" stop-color="#3f66a5"/><stop offset=".88" stop-color="#385a9b"/><stop offset=".9" stop-color="#33518b"/><stop offset=".917" stop-color="#2f4a80"/><stop offset="1" stop-color="#2c4679"/></linearGradient><linearGradient id="hb56" x2="0" y2="1"><stop offset="0" stop-color="#f6a762"/><stop offset=".033" stop-color="#f7ac66"/><stop offset=".117" stop-color="#fac87c"/><stop offset=".207" stop-color="#fbe19b"/><stop offset=".3" stop-color="#f8ebb6"/><stop offset=".4" stop-color="#eff0da"/><stop offset=".5" stop-color="#dcebf0"/><stop offset=".583" stop-color="#b1cfe7"/><stop offset=".667" stop-color="#85b0d7"/><stop offset=".75" stop-color="#6292c6"/><stop offset=".833" stop-color="#4976b3"/><stop offset=".86" stop-color="#3f65a5"/><stop offset=".88" stop-color="#385a9b"/><stop offset=".9" stop-color="#33518b"/><stop offset=".917" stop-color="#2f4a80"/><stop offset="1" stop-color="#2c4679"/></linearGradient><linearGradient id="hb57" x2="0" y2="1"><stop offset="0" stop-color="#f7af68"/><stop offset=".033" stop-color="#f8b46c"/><stop offset=".117" stop-color="#facf84"/><stop offset=".207" stop-color="#fbe5a2"/><stop offset=".3" stop-color="#f8edbd"/><stop offset=".4" stop-color="#edf1e2"/><stop offset=".5" stop-color="#d8e8ef"/><stop offset=".583" stop-color="#adcde6"/><stop offset=".667" stop-color="#83aed5"/><stop offset=".75" stop-color="#6090c5"/><stop offset=".833" stop-color="#4774b1"/><stop offset=".86" stop-color="#3e64a3"/><stop offset=".88" stop-color="#375898"/><stop offset=".9" stop-color="#33508a"/><stop offset=".917" stop-color="#2e4a7f"/><stop offset="1" stop-color="#2c4678"/></linearGradient><linearGradient id="hb58" x2="0" y2="1"><stop offset="0" stop-color="#f7af68"/><stop offset=".033" stop-color="#f8b56c"/><stop offset=".117" stop-color="#fad085"/><stop offset=".207" stop-color="#fae6a4"/><stop offset=".3" stop-color="#f7edbe"/><stop offset=".4" stop-color="#edf1e2"/><stop offset=".5" stop-color="#d8e8ef"/><stop offset=".583" stop-color="#aecee6"/><stop offset=".667" stop-color="#84afd6"/><stop offset=".75" stop-color="#6090c5"/><stop offset=".833" stop-color="#4773b0"/><stop offset=".86" stop-color="#3d63a3"/><stop offset=".88" stop-color="#375898"/><stop offset=".9" stop-color="#32508a"/><stop offset=".917" stop-color="#2e4a7f"/><stop offset="1" stop-color="#2c4678"/></linearGradient><linearGradient id="hb59" x2="0" y2="1"><stop offset="0" stop-color="#f49b5b"/><stop offset=".033" stop-color="#f6a25e"/><stop offset=".117" stop-color="#f9bf74"/><stop offset=".207" stop-color="#fbda92"/><stop offset=".3" stop-color="#f9e8ae"/><stop offset=".4" stop-color="#f3efcf"/><stop offset=".5" stop-color="#e5f0f1"/><stop offset=".583" stop-color="#bad5e9"/><stop offset=".667" stop-color="#8fb7db"/><stop offset=".75" stop-color="#6797c8"/><stop offset=".833" stop-color="#4a77b3"/><stop offset=".86" stop-color="#3f66a5"/><stop offset=".88" stop-color="#38599a"/><stop offset=".9" stop-color="#33518b"/><stop offset=".917" stop-color="#2f4a7f"/><stop offset="1" stop-color="#2c4678"/></linearGradient><linearGradient id="hb60" x2="0" y2="1"><stop offset="0" stop-color="#f08952"/><stop offset=".033" stop-color="#f29055"/><stop offset=".117" stop-color="#f7af68"/><stop offset=".207" stop-color="#facd82"/><stop offset=".3" stop-color="#fbe49f"/><stop offset=".4" stop-color="#f7edbf"/><stop offset=".5" stop-color="#ebf1e8"/><stop offset=".583" stop-color="#c5dcec"/><stop offset=".667" stop-color="#98bfdf"/><stop offset=".75" stop-color="#6d9ccb"/><stop offset=".833" stop-color="#4c7ab5"/><stop offset=".86" stop-color="#4068a7"/><stop offset=".88" stop-color="#395b9c"/><stop offset=".9" stop-color="#33518c"/><stop offset=".917" stop-color="#2f4a80"/><stop offset="1" stop-color="#2c4679"/></linearGradient><linearGradient id="hb61" x2="0" y2="1"><stop offset="0" stop-color="#ee7f4d"/><stop offset=".033" stop-color="#f08651"/><stop offset=".117" stop-color="#f6a661"/><stop offset=".207" stop-color="#fac679"/><stop offset=".3" stop-color="#fbde97"/><stop offset=".4" stop-color="#f8ebb8"/><stop offset=".5" stop-color="#eef0e0"/><stop offset=".583" stop-color="#cbe0ed"/><stop offset=".667" stop-color="#9ec3e1"/><stop offset=".75" stop-color="#719fcd"/><stop offset=".833" stop-color="#4d7bb6"/><stop offset=".86" stop-color="#4068a7"/><stop offset=".88" stop-color="#395b9c"/><stop offset=".9" stop-color="#33518d"/><stop offset=".917" stop-color="#2f4a80"/><stop offset="1" stop-color="#2c4779"/></linearGradient><linearGradient id="hb62" x2="0" y2="1"><stop offset="0" stop-color="#f08751"/><stop offset=".033" stop-color="#f28f55"/><stop offset=".117" stop-color="#f7ad66"/><stop offset=".207" stop-color="#facb7f"/><stop offset=".3" stop-color="#fbe39d"/><stop offset=".4" stop-color="#f7edbe"/><stop offset=".5" stop-color="#ebf1e7"/><stop offset=".583" stop-color="#c7ddec"/><stop offset=".667" stop-color="#9ac0e0"/><stop offset=".75" stop-color="#6d9ccb"/><stop offset=".833" stop-color="#4b78b4"/><stop offset=".86" stop-color="#3f66a5"/><stop offset=".88" stop-color="#385a9a"/><stop offset=".9" stop-color="#33518b"/><stop offset=".917" stop-color="#2f4a7f"/><stop offset="1" stop-color="#2c4678"/></linearGradient><linearGradient id="hb63" x2="0" y2="1"><stop offset="0" stop-color="#ee7f4d"/><stop offset=".033" stop-color="#f08751"/><stop offset=".117" stop-color="#f6a561"/><stop offset=".207" stop-color="#fac478"/><stop offset=".3" stop-color="#fbde96"/><stop offset=".4" stop-color="#f8ebb8"/><stop offset=".5" stop-color="#edf1e1"/><stop offset=".583" stop-color="#cbe0ed"/><stop offset=".667" stop-color="#9fc4e2"/><stop offset=".75" stop-color="#709ecd"/><stop offset=".833" stop-color="#4b79b5"/><stop offset=".86" stop-color="#3f67a6"/><stop offset=".88" stop-color="#385a9b"/><stop offset=".9" stop-color="#33518c"/><stop offset=".917" stop-color="#2f4a7f"/><stop offset="1" stop-color="#2c4678"/></linearGradient><linearGradient id="hb64" x2="0" y2="1"><stop offset="0" stop-color="#eb7448"/><stop offset=".033" stop-color="#ee7d4c"/><stop offset=".117" stop-color="#f49b5b"/><stop offset=".207" stop-color="#f9bb71"/><stop offset=".3" stop-color="#fbd78e"/><stop offset=".4" stop-color="#f9e9b0"/><stop offset=".5" stop-color="#f0f0d8"/><stop offset=".583" stop-color="#d1e4ee"/><stop offset=".667" stop-color="#a5c8e4"/><stop offset=".75" stop-color="#73a1ce"/><stop offset=".833" stop-color="#4c7ab6"/><stop offset=".86" stop-color="#4067a7"/><stop offset=".88" stop-color="#395a9b"/><stop offset=".9" stop-color="#33518c"/><stop offset=".917" stop-color="#2f4a7f"/><stop offset="1" stop-color="#2c4678"/></linearGradient><linearGradient id="hb65" x2="0" y2="1"><stop offset="0" stop-color="#ea7046"/><stop offset=".033" stop-color="#ed7a4b"/><stop offset=".117" stop-color="#f49859"/><stop offset=".207" stop-color="#f8b76e"/><stop offset=".3" stop-color="#fad58b"/><stop offset=".4" stop-color="#f9e8ae"/><stop offset=".5" stop-color="#f1f0d6"/><stop offset=".583" stop-color="#d3e5ee"/><stop offset=".667" stop-color="#a7c9e4"/><stop offset=".75" stop-color="#74a2cf"/><stop offset=".833" stop-color="#4c7ab5"/><stop offset=".86" stop-color="#3f67a6"/><stop offset=".88" stop-color="#395a9b"/><stop offset=".9" stop-color="#33518c"/><stop offset=".917" stop-color="#2f4a7f"/><stop offset="1" stop-color="#2c4678"/></linearGradient><linearGradient id="hb66" x2="0" y2="1"><stop offset="0" stop-color="#e86b44"/><stop offset=".033" stop-color="#eb7448"/><stop offset=".117" stop-color="#f39357"/><stop offset=".207" stop-color="#f8b36b"/><stop offset=".3" stop-color="#fad287"/><stop offset=".4" stop-color="#fae8ab"/><stop offset=".5" stop-color="#f1efd4"/><stop offset=".583" stop-color="#d5e6ef"/><stop offset=".667" stop-color="#aacbe5"/><stop offset=".75" stop-color="#75a3cf"/><stop offset=".833" stop-color="#4c7ab5"/><stop offset=".86" stop-color="#3f67a6"/><stop offset=".88" stop-color="#385a9b"/><stop offset=".9" stop-color="#33518c"/><stop offset=".917" stop-color="#2f4a7f"/><stop offset="1" stop-color="#2c4678"/></linearGradient><linearGradient id="hb67" x2="0" y2="1"><stop offset="0" stop-color="#e66441"/><stop offset=".033" stop-color="#e96e45"/><stop offset=".117" stop-color="#f28f55"/><stop offset=".207" stop-color="#f8b16a"/><stop offset=".3" stop-color="#fad287"/><stop offset=".4" stop-color="#f9e8ad"/><stop offset=".5" stop-color="#f0f0d8"/><stop offset=".583" stop-color="#d2e4ee"/><stop offset=".667" stop-color="#a7c9e4"/><stop offset=".75" stop-color="#73a1ce"/><stop offset=".833" stop-color="#4b79b4"/><stop offset=".86" stop-color="#3f66a5"/><stop offset=".88" stop-color="#38599a"/><stop offset=".9" stop-color="#33518b"/><stop offset=".917" stop-color="#2e4a7f"/><stop offset="1" stop-color="#2c4678"/></linearGradient><linearGradient id="hb68" x2="0" y2="1"><stop offset="0" stop-color="#e76642"/><stop offset=".033" stop-color="#ea7046"/><stop offset=".117" stop-color="#f39357"/><stop offset=".207" stop-color="#f8b76e"/><stop offset=".3" stop-color="#fbd78e"/><stop offset=".4" stop-color="#f8eab5"/><stop offset=".5" stop-color="#edf1e3"/><stop offset=".583" stop-color="#cbe0ed"/><stop offset=".667" stop-color="#a0c4e2"/><stop offset=".75" stop-color="#6e9dcc"/><stop offset=".833" stop-color="#4976b2"/><stop offset=".86" stop-color="#3e64a4"/><stop offset=".88" stop-color="#375897"/><stop offset=".9" stop-color="#32508a"/><stop offset=".917" stop-color="#2e497e"/><stop offset="1" stop-color="#2c4678"/></linearGradient><linearGradient id="hb69" x2="0" y2="1"><stop offset="0" stop-color="#e66140"/><stop offset=".033" stop-color="#e96c44"/><stop offset=".117" stop-color="#f29156"/><stop offset=".207" stop-color="#f8b76e"/><stop offset=".3" stop-color="#fbd88f"/><stop offset=".4" stop-color="#f8ebb7"/><stop offset=".5" stop-color="#ebf1e9"/><stop offset=".583" stop-color="#c7ddec"/><stop offset=".667" stop-color="#9cc2e1"/><stop offset=".75" stop-color="#6c9bcb"/><stop offset=".833" stop-color="#4774b1"/><stop offset=".86" stop-color="#3d63a3"/><stop offset=".88" stop-color="#375796"/><stop offset=".9" stop-color="#32508a"/><stop offset=".917" stop-color="#2e497e"/><stop offset="1" stop-color="#2c4678"/></linearGradient><linearGradient id="hb70" x2="0" y2="1"><stop offset="0" stop-color="#dd4935"/><stop offset=".033" stop-color="#e15239"/><stop offset=".117" stop-color="#ee7c4b"/><stop offset=".207" stop-color="#f6a662"/><stop offset=".3" stop-color="#facd81"/><stop offset=".4" stop-color="#f9e8ac"/><stop offset=".5" stop-color="#eef0de"/><stop offset=".583" stop-color="#cee2ee"/><stop offset=".667" stop-color="#a2c6e3"/><stop offset=".75" stop-color="#709ecd"/><stop offset=".833" stop-color="#4a77b3"/><stop offset=".86" stop-color="#3e65a4"/><stop offset=".88" stop-color="#375898"/><stop offset=".9" stop-color="#33508b"/><stop offset=".917" stop-color="#2e4a7e"/><stop offset="1" stop-color="#2c4678"/></linearGradient><linearGradient id="hb71" x2="0" y2="1"><stop offset="0" stop-color="#cd302b"/><stop offset=".033" stop-color="#d3332b"/><stop offset=".117" stop-color="#e3593c"/><stop offset=".207" stop-color="#f18a53"/><stop offset=".3" stop-color="#f8b76e"/><stop offset=".4" stop-color="#fbe099"/><stop offset=".5" stop-color="#f5efc9"/><stop offset=".583" stop-color="#dbeaf0"/><stop offset=".667" stop-color="#aecee6"/><stop offset=".75" stop-color="#78a6d1"/><stop offset=".833" stop-color="#4e7cb7"/><stop offset=".86" stop-color="#4068a7"/><stop offset=".88" stop-color="#395b9c"/><stop offset=".9" stop-color="#33518c"/><stop offset=".917" stop-color="#2f4a80"/><stop offset="1" stop-color="#2c4679"/></linearGradient><linearGradient id="hb72" x2="0" y2="1"><stop offset="0" stop-color="#b92828"/><stop offset=".033" stop-color="#c32b2a"/><stop offset=".117" stop-color="#da4131"/><stop offset=".207" stop-color="#eb7448"/><stop offset=".3" stop-color="#f6a661"/><stop offset=".4" stop-color="#fad48b"/><stop offset=".5" stop-color="#f8edbd"/><stop offset=".583" stop-color="#e4eff1"/><stop offset=".667" stop-color="#b6d3e8"/><stop offset=".75" stop-color="#7eabd4"/><stop offset=".833" stop-color="#517fb9"/><stop offset=".86" stop-color="#416ba9"/><stop offset=".88" stop-color="#3a5d9d"/><stop offset=".9" stop-color="#34528d"/><stop offset=".917" stop-color="#2f4b80"/><stop offset="1" stop-color="#2c4779"/></linearGradient><linearGradient id="hb73" x2="0" y2="1"><stop offset="0" stop-color="#af2626"/><stop offset=".033" stop-color="#bc2929"/><stop offset=".117" stop-color="#d83b2e"/><stop offset=".207" stop-color="#ea7046"/><stop offset=".3" stop-color="#f6a35f"/><stop offset=".4" stop-color="#fad48a"/><stop offset=".5" stop-color="#f7edbe"/><stop offset=".583" stop-color="#e3eff1"/><stop offset=".667" stop-color="#b5d2e8"/><stop offset=".75" stop-color="#7daad3"/><stop offset=".833" stop-color="#507fb9"/><stop offset=".86" stop-color="#416aa9"/><stop offset=".88" stop-color="#3a5d9d"/><stop offset=".9" stop-color="#34528d"/><stop offset=".917" stop-color="#2f4b80"/><stop offset="1" stop-color="#2c4779"/></linearGradient><linearGradient id="hb74" x2="0" y2="1"><stop offset="0" stop-color="#c12b2a"/><stop offset=".033" stop-color="#c82e2a"/><stop offset=".117" stop-color="#dd4935"/><stop offset=".207" stop-color="#ee7e4c"/><stop offset=".3" stop-color="#f7af68"/><stop offset=".4" stop-color="#fbdd95"/><stop offset=".5" stop-color="#f5efca"/><stop offset=".583" stop-color="#d9e9ef"/><stop offset=".667" stop-color="#abcce5"/><stop offset=".75" stop-color="#78a5d0"/><stop offset=".833" stop-color="#4e7db8"/><stop offset=".86" stop-color="#4069a8"/><stop offset=".88" stop-color="#3a5c9d"/><stop offset=".9" stop-color="#33528d"/><stop offset=".917" stop-color="#2f4b80"/><stop offset="1" stop-color="#2c4779"/></linearGradient><linearGradient id="hb75" x2="0" y2="1"><stop offset="0" stop-color="#cc302b"/><stop offset=".033" stop-color="#d2332b"/><stop offset=".117" stop-color="#e3583b"/><stop offset=".207" stop-color="#f18b53"/><stop offset=".3" stop-color="#f9bb71"/><stop offset=".4" stop-color="#fbe5a0"/><stop offset=".5" stop-color="#f0f0d7"/><stop offset=".583" stop-color="#d0e3ee"/><stop offset=".667" stop-color="#a1c6e3"/><stop offset=".75" stop-color="#72a0ce"/><stop offset=".833" stop-color="#4d7bb6"/><stop offset=".86" stop-color="#4068a7"/><stop offset=".88" stop-color="#395b9c"/><stop offset=".9" stop-color="#33518c"/><stop offset=".917" stop-color="#2f4a80"/><stop offset="1" stop-color="#2c4679"/></linearGradient><linearGradient id="hb76" x2="0" y2="1"><stop offset="0" stop-color="#d6382d"/><stop offset=".033" stop-color="#da4131"/><stop offset=".117" stop-color="#e86a44"/><stop offset=".207" stop-color="#f49a5b"/><stop offset=".3" stop-color="#fac87b"/><stop offset=".4" stop-color="#f9e8ac"/><stop offset=".5" stop-color="#ecf1e6"/><stop offset=".583" stop-color="#c6dcec"/><stop offset=".667" stop-color="#97bedf"/><stop offset=".75" stop-color="#6c9bcb"/><stop offset=".833" stop-color="#4b78b4"/><stop offset=".86" stop-color="#3f66a6"/><stop offset=".88" stop-color="#385a9b"/><stop offset=".9" stop-color="#33518c"/><stop offset=".917" stop-color="#2f4a80"/><stop offset="1" stop-color="#2c4679"/></linearGradient><linearGradient id="hb77" x2="0" y2="1"><stop offset="0" stop-color="#dd4834"/><stop offset=".033" stop-color="#e05138"/><stop offset=".117" stop-color="#ed7b4b"/><stop offset=".207" stop-color="#f7a862"/><stop offset=".3" stop-color="#fad287"/><stop offset=".4" stop-color="#f8ebb7"/><stop offset=".5" stop-color="#e7f2f2"/><stop offset=".583" stop-color="#bcd6ea"/><stop offset=".667" stop-color="#8eb7da"/><stop offset=".75" stop-color="#6696c8"/><stop offset=".833" stop-color="#4976b2"/><stop offset=".86" stop-color="#3e65a4"/><stop offset=".88" stop-color="#38599a"/><stop offset=".9" stop-color="#33518b"/><stop offset=".917" stop-color="#2f4a7f"/><stop offset="1" stop-color="#2c4678"/></linearGradient><linearGradient id="hb78" x2="0" y2="1"><stop offset="0" stop-color="#de4a35"/><stop offset=".033" stop-color="#e15339"/><stop offset=".117" stop-color="#ee7c4c"/><stop offset=".207" stop-color="#f6a762"/><stop offset=".3" stop-color="#fad287"/><stop offset=".4" stop-color="#f8ebb7"/><stop offset=".5" stop-color="#e6f1f2"/><stop offset=".583" stop-color="#bad5e9"/><stop offset=".667" stop-color="#8bb5d9"/><stop offset=".75" stop-color="#6695c8"/><stop offset=".833" stop-color="#4a77b3"/><stop offset=".86" stop-color="#3f66a5"/><stop offset=".88" stop-color="#395a9b"/><stop offset=".9" stop-color="#33518c"/><stop offset=".917" stop-color="#2f4a80"/><stop offset="1" stop-color="#2c4679"/></linearGradient><linearGradient id="hb79" x2="0" y2="1"><stop offset="0" stop-color="#e05138"/><stop offset=".033" stop-color="#e35a3c"/><stop offset=".117" stop-color="#ef844f"/><stop offset=".207" stop-color="#f7af68"/><stop offset=".3" stop-color="#fbd78e"/><stop offset=".4" stop-color="#f7edbe"/><stop offset=".5" stop-color="#e0edf1"/><stop offset=".583" stop-color="#b5d2e8"/><stop offset=".667" stop-color="#88b2d8"/><stop offset=".75" stop-color="#6494c7"/><stop offset=".833" stop-color="#4a77b3"/><stop offset=".86" stop-color="#3f66a5"/><stop offset=".88" stop-color="#395a9b"/><stop offset=".9" stop-color="#33518c"/><stop offset=".917" stop-color="#2f4b80"/><stop offset="1" stop-color="#2c4779"/></linearGradient><linearGradient id="hb80" x2="0" y2="1"><stop offset="0" stop-color="#ed794a"/><stop offset=".033" stop-color="#ef824e"/><stop offset=".117" stop-color="#f7a863"/><stop offset=".207" stop-color="#face83"/><stop offset=".3" stop-color="#f9e8ad"/><stop offset=".4" stop-color="#edf1e2"/><stop offset=".5" stop-color="#c8deec"/><stop offset=".583" stop-color="#9fc4e2"/><stop offset=".667" stop-color="#79a7d1"/><stop offset=".75" stop-color="#5a8ac2"/><stop offset=".833" stop-color="#4470ae"/><stop offset=".86" stop-color="#3d62a2"/><stop offset=".88" stop-color="#375797"/><stop offset=".9" stop-color="#32508a"/><stop offset=".917" stop-color="#2e4a7f"/><stop offset="1" stop-color="#2c4678"/></linearGradient><linearGradient id="hb81" x2="0" y2="1"><stop offset="0" stop-color="#f08851"/><stop offset=".033" stop-color="#f28f55"/><stop offset=".117" stop-color="#f8b56d"/><stop offset=".207" stop-color="#fbd990"/><stop offset=".3" stop-color="#f8ecb9"/><stop offset=".4" stop-color="#e8f2f2"/><stop offset=".5" stop-color="#bcd6ea"/><stop offset=".583" stop-color="#97bedf"/><stop offset=".667" stop-color="#75a2cf"/><stop offset=".75" stop-color="#5788c0"/><stop offset=".833" stop-color="#436fad"/><stop offset=".86" stop-color="#3c61a1"/><stop offset=".88" stop-color="#375796"/><stop offset=".9" stop-color="#325089"/><stop offset=".917" stop-color="#2e4a7f"/><stop offset="1" stop-color="#2c4678"/></linearGradient><linearGradient id="hb82" x2="0" y2="1"><stop offset="0" stop-color="#ee7c4b"/><stop offset=".033" stop-color="#ef834f"/><stop offset=".117" stop-color="#f7ab65"/><stop offset=".207" stop-color="#fad288"/><stop offset=".3" stop-color="#f9eab3"/><stop offset=".4" stop-color="#eaf1ec"/><stop offset=".5" stop-color="#bfd8eb"/><stop offset=".583" stop-color="#9cc1e0"/><stop offset=".667" stop-color="#7aa7d1"/><stop offset=".75" stop-color="#5b8cc2"/><stop offset=".833" stop-color="#4672b0"/><stop offset=".86" stop-color="#3e64a3"/><stop offset=".88" stop-color="#38599a"/><stop offset=".9" stop-color="#33508b"/><stop offset=".917" stop-color="#2f4b80"/><stop offset="1" stop-color="#2c4779"/></linearGradient><linearGradient id="hb83" x2="0" y2="1"><stop offset="0" stop-color="#f18d54"/><stop offset=".033" stop-color="#f39357"/><stop offset=".117" stop-color="#f9bb71"/><stop offset=".207" stop-color="#fbdf98"/><stop offset=".3" stop-color="#f7eec2"/><stop offset=".4" stop-color="#dfedf1"/><stop offset=".5" stop-color="#b2d0e7"/><stop offset=".583" stop-color="#92badc"/><stop offset=".667" stop-color="#74a2cf"/><stop offset=".75" stop-color="#5888c0"/><stop offset=".833" stop-color="#4470ae"/><stop offset=".86" stop-color="#3d62a2"/><stop offset=".88" stop-color="#375899"/><stop offset=".9" stop-color="#32508a"/><stop offset=".917" stop-color="#2f4a80"/><stop offset="1" stop-color="#2c4679"/></linearGradient><linearGradient id="hb84" x2="0" y2="1"><stop offset="0" stop-color="#f49b5b"/><stop offset=".033" stop-color="#f5a05e"/><stop offset=".117" stop-color="#fac97c"/><stop offset=".207" stop-color="#fae7a7"/><stop offset=".3" stop-color="#f1f0d5"/><stop offset=".4" stop-color="#d2e4ee"/><stop offset=".5" stop-color="#a5c8e4"/><stop offset=".583" stop-color="#88b2d8"/><stop offset=".667" stop-color="#6d9bcb"/><stop offset=".75" stop-color="#5584bd"/><stop offset=".833" stop-color="#436fad"/><stop offset=".86" stop-color="#3c61a1"/><stop offset=".88" stop-color="#375898"/><stop offset=".9" stop-color="#32508a"/><stop offset=".917" stop-color="#2f4a80"/><stop offset="1" stop-color="#2c4679"/></linearGradient><linearGradient id="hb85" x2="0" y2="1"><stop offset="0" stop-color="#f7b069"/><stop offset=".033" stop-color="#f8b56c"/><stop offset=".117" stop-color="#fbda92"/><stop offset=".207" stop-color="#f7edbf"/><stop offset=".3" stop-color="#e8f2f1"/><stop offset=".4" stop-color="#c0d9eb"/><stop offset=".5" stop-color="#94bcdd"/><stop offset=".583" stop-color="#7aa7d1"/><stop offset=".667" stop-color="#6191c6"/><stop offset=".75" stop-color="#4f7eb8"/><stop offset=".833" stop-color="#426caa"/><stop offset=".86" stop-color="#3b5f9f"/><stop offset=".88" stop-color="#365695"/><stop offset=".9" stop-color="#324f89"/><stop offset=".917" stop-color="#2f4a7f"/><stop offset="1" stop-color="#2c4678"/></linearGradient><linearGradient id="hb86" x2="0" y2="1"><stop offset="0" stop-color="#fac377"/><stop offset=".033" stop-color="#fac87b"/><stop offset=".117" stop-color="#fae6a6"/><stop offset=".207" stop-color="#eff0db"/><stop offset=".3" stop-color="#d5e6ef"/><stop offset=".4" stop-color="#adcde6"/><stop offset=".5" stop-color="#84afd6"/><stop offset=".583" stop-color="#6d9ccb"/><stop offset=".667" stop-color="#5888c0"/><stop offset=".75" stop-color="#4b78b4"/><stop offset=".833" stop-color="#4069a8"/><stop offset=".86" stop-color="#3a5d9e"/><stop offset=".88" stop-color="#365593"/><stop offset=".9" stop-color="#324f88"/><stop offset=".917" stop-color="#2e4a7f"/><stop offset="1" stop-color="#2c4678"/></linearGradient><linearGradient id="hb87" x2="0" y2="1"><stop offset="0" stop-color="#f8b46c"/><stop offset=".033" stop-color="#f8b86f"/><stop offset=".117" stop-color="#fbe29c"/><stop offset=".207" stop-color="#f1f0d5"/><stop offset=".3" stop-color="#d8e8ef"/><stop offset=".4" stop-color="#afcee6"/><stop offset=".5" stop-color="#86b1d7"/><stop offset=".583" stop-color="#6f9dcc"/><stop offset=".667" stop-color="#598ac1"/><stop offset=".75" stop-color="#4d7bb6"/><stop offset=".833" stop-color="#436dac"/><stop offset=".86" stop-color="#3c61a1"/><stop offset=".88" stop-color="#375898"/><stop offset=".9" stop-color="#32508a"/><stop offset=".917" stop-color="#2f4b81"/><stop offset="1" stop-color="#2d4779"/></linearGradient><linearGradient id="hb88" x2="0" y2="1"><stop offset="0" stop-color="#f9c075"/><stop offset=".033" stop-color="#fac478"/><stop offset=".117" stop-color="#fae7aa"/><stop offset=".207" stop-color="#eaf1eb"/><stop offset=".3" stop-color="#cadfed"/><stop offset=".4" stop-color="#a1c5e3"/><stop offset=".5" stop-color="#7aa7d2"/><stop offset=".583" stop-color="#6595c7"/><stop offset=".667" stop-color="#5483bc"/><stop offset=".75" stop-color="#4a77b3"/><stop offset=".833" stop-color="#426cab"/><stop offset=".86" stop-color="#3c60a0"/><stop offset=".88" stop-color="#375898"/><stop offset=".9" stop-color="#32508a"/><stop offset=".917" stop-color="#2f4b81"/><stop offset="1" stop-color="#2d477a"/></linearGradient><linearGradient id="hb89" x2="0" y2="1"><stop offset="0" stop-color="#fbda92"/><stop offset=".033" stop-color="#fbdc95"/><stop offset=".117" stop-color="#f5efc9"/><stop offset=".207" stop-color="#d0e3ee"/><stop offset=".3" stop-color="#aecde6"/><stop offset=".4" stop-color="#8ab4d9"/><stop offset=".5" stop-color="#6897c9"/><stop offset=".583" stop-color="#5788c0"/><stop offset=".667" stop-color="#4b79b5"/><stop offset=".75" stop-color="#446fad"/><stop offset=".833" stop-color="#3f67a6"/><stop offset=".86" stop-color="#3a5c9d"/><stop offset=".88" stop-color="#355593"/><stop offset=".9" stop-color="#324f88"/><stop offset=".917" stop-color="#2f4a80"/><stop offset="1" stop-color="#2c4679"/></linearGradient><linearGradient id="hb90" x2="0" y2="1"><stop offset="0" stop-color="#fbe5a1"/><stop offset=".033" stop-color="#fae6a4"/><stop offset=".117" stop-color="#eef0e0"/><stop offset=".207" stop-color="#bdd7ea"/><stop offset=".3" stop-color="#9dc3e1"/><stop offset=".4" stop-color="#7da9d3"/><stop offset=".5" stop-color="#5f8fc4"/><stop offset=".583" stop-color="#5382bb"/><stop offset=".667" stop-color="#4875b2"/><stop offset=".75" stop-color="#426cab"/><stop offset=".833" stop-color="#3e64a3"/><stop offset=".86" stop-color="#395a9b"/><stop offset=".88" stop-color="#355491"/><stop offset=".9" stop-color="#314e87"/><stop offset=".917" stop-color="#2f4a7f"/><stop offset="1" stop-color="#2c4678"/></linearGradient><linearGradient id="hb91" x2="0" y2="1"><stop offset="0" stop-color="#f9eab4"/><stop offset=".033" stop-color="#f8ebb7"/><stop offset=".117" stop-color="#e1eef1"/><stop offset=".207" stop-color="#a7c9e4"/><stop offset=".3" stop-color="#8bb4d9"/><stop offset=".4" stop-color="#6e9dcc"/><stop offset=".5" stop-color="#5686be"/><stop offset=".583" stop-color="#4d7bb6"/><stop offset=".667" stop-color="#4471ae"/><stop offset=".75" stop-color="#4068a7"/><stop offset=".833" stop-color="#3c60a0"/><stop offset=".86" stop-color="#375797"/><stop offset=".88" stop-color="#34528d"/><stop offset=".9" stop-color="#314e85"/><stop offset=".917" stop-color="#2e4a7f"/><stop offset="1" stop-color="#2c4678"/></linearGradient><linearGradient id="hb92" x2="0" y2="1"><stop offset="0" stop-color="#f4efcb"/><stop offset=".033" stop-color="#f3efce"/><stop offset=".117" stop-color="#cde1ed"/><stop offset=".207" stop-color="#90b9dc"/><stop offset=".3" stop-color="#78a6d1"/><stop offset=".4" stop-color="#6090c5"/><stop offset=".5" stop-color="#4e7cb7"/><stop offset=".583" stop-color="#4774b1"/><stop offset=".667" stop-color="#426cab"/><stop offset=".75" stop-color="#3e64a4"/><stop offset=".833" stop-color="#3a5c9d"/><stop offset=".86" stop-color="#355593"/><stop offset=".88" stop-color="#32508a"/><stop offset=".9" stop-color="#304d84"/><stop offset=".917" stop-color="#2e497e"/><stop offset="1" stop-color="#2c4678"/></linearGradient><linearGradient id="hb93" x2="0" y2="1"><stop offset="0" stop-color="#f2efd2"/><stop offset=".033" stop-color="#f1f0d6"/><stop offset=".117" stop-color="#c5dcec"/><stop offset=".207" stop-color="#85b0d6"/><stop offset=".3" stop-color="#6f9ecc"/><stop offset=".4" stop-color="#598ac1"/><stop offset=".5" stop-color="#4b78b4"/><stop offset=".583" stop-color="#4571af"/><stop offset=".667" stop-color="#426baa"/><stop offset=".75" stop-color="#3d63a3"/><stop offset=".833" stop-color="#395b9c"/><stop offset=".86" stop-color="#355592"/><stop offset=".88" stop-color="#32508a"/><stop offset=".9" stop-color="#304d84"/><stop offset=".917" stop-color="#2e4a7f"/><stop offset="1" stop-color="#2c4678"/></linearGradient><linearGradient id="hb94" x2="0" y2="1"><stop offset="0" stop-color="#f2efd3"/><stop offset=".033" stop-color="#f0f0d7"/><stop offset=".117" stop-color="#c0d9eb"/><stop offset=".207" stop-color="#7daad3"/><stop offset=".3" stop-color="#6a99ca"/><stop offset=".4" stop-color="#5787bf"/><stop offset=".5" stop-color="#4976b2"/><stop offset=".583" stop-color="#4470ae"/><stop offset=".667" stop-color="#426caa"/><stop offset=".75" stop-color="#3d63a3"/><stop offset=".833" stop-color="#395b9c"/><stop offset=".86" stop-color="#355593"/><stop offset=".88" stop-color="#33518b"/><stop offset=".9" stop-color="#304d84"/><stop offset=".917" stop-color="#2f4a7f"/><stop offset="1" stop-color="#2c4678"/></linearGradient><linearGradient id="hb95" x2="0" y2="1"><stop offset="0" stop-color="#f0f0d9"/><stop offset=".033" stop-color="#eff0dd"/><stop offset=".117" stop-color="#bbd6e9"/><stop offset=".207" stop-color="#77a5d0"/><stop offset=".3" stop-color="#6595c7"/><stop offset=".4" stop-color="#5484bd"/><stop offset=".5" stop-color="#4774b1"/><stop offset=".583" stop-color="#436fad"/><stop offset=".667" stop-color="#416aa9"/><stop offset=".75" stop-color="#3d63a2"/><stop offset=".833" stop-color="#395b9c"/><stop offset=".86" stop-color="#365593"/><stop offset=".88" stop-color="#33518c"/><stop offset=".9" stop-color="#304d85"/><stop offset=".917" stop-color="#2f4a80"/><stop offset="1" stop-color="#2c4679"/></linearGradient><linearGradient id="hb96" x2="0" y2="1"><stop offset="0" stop-color="#eaf2ed"/><stop offset=".033" stop-color="#e8f2f1"/><stop offset=".117" stop-color="#adcde6"/><stop offset=".207" stop-color="#6c9bcb"/><stop offset=".3" stop-color="#5c8cc3"/><stop offset=".4" stop-color="#4f7eb8"/><stop offset=".5" stop-color="#446fad"/><stop offset=".583" stop-color="#416baa"/><stop offset=".667" stop-color="#3f67a6"/><stop offset=".75" stop-color="#3c60a0"/><stop offset=".833" stop-color="#38599a"/><stop offset=".86" stop-color="#355491"/><stop offset=".88" stop-color="#33508b"/><stop offset=".9" stop-color="#304d84"/><stop offset=".917" stop-color="#2f4a80"/><stop offset="1" stop-color="#2c4679"/></linearGradient><linearGradient id="hb97" x2="0" y2="1"><stop offset="0" stop-color="#dfecf0"/><stop offset=".033" stop-color="#dceaf0"/><stop offset=".117" stop-color="#9fc4e2"/><stop offset=".207" stop-color="#6192c6"/><stop offset=".3" stop-color="#5585bd"/><stop offset=".4" stop-color="#4a78b4"/><stop offset=".5" stop-color="#426baa"/><stop offset=".583" stop-color="#3f67a6"/><stop offset=".667" stop-color="#3d63a3"/><stop offset=".75" stop-color="#3a5d9e"/><stop offset=".833" stop-color="#375797"/><stop offset=".86" stop-color="#34538f"/><stop offset=".88" stop-color="#325089"/><stop offset=".9" stop-color="#304c83"/><stop offset=".917" stop-color="#2f4a7f"/><stop offset="1" stop-color="#2c4678"/></linearGradient><linearGradient id="hb98" x2="0" y2="1"><stop offset="0" stop-color="#d5e6ef"/><stop offset=".033" stop-color="#d2e4ee"/><stop offset=".117" stop-color="#95bcde"/><stop offset=".207" stop-color="#598ac1"/><stop offset=".3" stop-color="#507fb9"/><stop offset=".4" stop-color="#4673b0"/><stop offset=".5" stop-color="#4068a7"/><stop offset=".583" stop-color="#3e65a4"/><stop offset=".667" stop-color="#3c61a1"/><stop offset=".75" stop-color="#395b9c"/><stop offset=".833" stop-color="#365695"/><stop offset=".86" stop-color="#34528e"/><stop offset=".88" stop-color="#324f89"/><stop offset=".9" stop-color="#304c83"/><stop offset=".917" stop-color="#2f4a80"/><stop offset="1" stop-color="#2c4679"/></linearGradient><linearGradient id="hb99" x2="0" y2="1"><stop offset="0" stop-color="#c2daeb"/><stop offset=".033" stop-color="#bfd8eb"/><stop offset=".117" stop-color="#85b0d6"/><stop offset=".207" stop-color="#517fb9"/><stop offset=".3" stop-color="#4976b2"/><stop offset=".4" stop-color="#426cab"/><stop offset=".5" stop-color="#3d63a3"/><stop offset=".583" stop-color="#3b60a0"/><stop offset=".667" stop-color="#3a5c9d"/><stop offset=".75" stop-color="#375898"/><stop offset=".833" stop-color="#355491"/><stop offset=".86" stop-color="#33508b"/><stop offset=".88" stop-color="#314e86"/><stop offset=".9" stop-color="#304c82"/><stop offset=".917" stop-color="#2e4a7f"/><stop offset="1" stop-color="#2c4678"/></linearGradient><linearGradient id="hb100" x2="0" y2="1"><stop offset="0" stop-color="#bdd7ea"/><stop offset=".033" stop-color="#bad5e9"/><stop offset=".117" stop-color="#81add5"/><stop offset=".207" stop-color="#4f7eb8"/><stop offset=".3" stop-color="#4874b1"/><stop offset=".4" stop-color="#416baa"/><stop offset=".5" stop-color="#3d62a2"/><stop offset=".583" stop-color="#3b5f9f"/><stop offset=".667" stop-color="#395b9c"/><stop offset=".75" stop-color="#375797"/><stop offset=".833" stop-color="#355491"/><stop offset=".86" stop-color="#33518b"/><stop offset=".88" stop-color="#314e87"/><stop offset=".9" stop-color="#304c82"/><stop offset=".917" stop-color="#2f4a7f"/><stop offset="1" stop-color="#2c4679"/></linearGradient><linearGradient id="hb101" x2="0" y2="1"><stop offset="0" stop-color="#b4d1e7"/><stop offset=".033" stop-color="#b1cfe7"/><stop offset=".117" stop-color="#7ba8d2"/><stop offset=".207" stop-color="#4d7bb6"/><stop offset=".3" stop-color="#4572af"/><stop offset=".4" stop-color="#4069a8"/><stop offset=".5" stop-color="#3c61a1"/><stop offset=".583" stop-color="#3a5d9e"/><stop offset=".667" stop-color="#385a9b"/><stop offset=".75" stop-color="#365695"/><stop offset=".833" stop-color="#34538f"/><stop offset=".86" stop-color="#33508a"/><stop offset=".88" stop-color="#314e87"/><stop offset=".9" stop-color="#304c82"/><stop offset=".917" stop-color="#2f4a80"/><stop offset="1" stop-color="#2c4679"/></linearGradient><linearGradient id="hb102" x2="0" y2="1"><stop offset="0" stop-color="#9ac0e0"/><stop offset=".033" stop-color="#98bedf"/><stop offset=".117" stop-color="#6998c9"/><stop offset=".207" stop-color="#4571af"/><stop offset=".3" stop-color="#416aa8"/><stop offset=".4" stop-color="#3d62a2"/><stop offset=".5" stop-color="#395a9b"/><stop offset=".583" stop-color="#375898"/><stop offset=".667" stop-color="#365593"/><stop offset=".75" stop-color="#34528e"/><stop offset=".833" stop-color="#324f89"/><stop offset=".86" stop-color="#314d85"/><stop offset=".88" stop-color="#304c82"/><stop offset=".9" stop-color="#2f4b80"/><stop offset=".917" stop-color="#2e4a7e"/><stop offset="1" stop-color="#2c4678"/></linearGradient><linearGradient id="hb103" x2="0" y2="1"><stop offset="0" stop-color="#85afd6"/><stop offset=".033" stop-color="#82add5"/><stop offset=".117" stop-color="#5a8bc2"/><stop offset=".207" stop-color="#4069a8"/><stop offset=".3" stop-color="#3d63a2"/><stop offset=".4" stop-color="#395c9c"/><stop offset=".5" stop-color="#365694"/><stop offset=".583" stop-color="#345390"/><stop offset=".667" stop-color="#33518c"/><stop offset=".75" stop-color="#314f87"/><stop offset=".833" stop-color="#304c83"/><stop offset=".86" stop-color="#2f4a80"/><stop offset=".88" stop-color="#2e497e"/><stop offset=".9" stop-color="#2e4a7f"/><stop offset=".917" stop-color="#2e497d"/><stop offset="1" stop-color="#2c4678"/></linearGradient><linearGradient id="hb104" x2="0" y2="1"><stop offset="0" stop-color="#7fabd4"/><stop offset=".033" stop-color="#7ca9d2"/><stop offset=".117" stop-color="#5788bf"/><stop offset=".207" stop-color="#4067a7"/><stop offset=".3" stop-color="#3c61a1"/><stop offset=".4" stop-color="#395b9b"/><stop offset=".5" stop-color="#355592"/><stop offset=".583" stop-color="#34538e"/><stop offset=".667" stop-color="#33508b"/><stop offset=".75" stop-color="#314e87"/><stop offset=".833" stop-color="#304c83"/><stop offset=".86" stop-color="#2f4b80"/><stop offset=".88" stop-color="#2e4a7e"/><stop offset=".9" stop-color="#2e4a7f"/><stop offset=".917" stop-color="#2e497e"/><stop offset="1" stop-color="#2c4678"/></linearGradient><linearGradient id="hb105" x2="0" y2="1"><stop offset="0" stop-color="#7fabd4"/><stop offset=".033" stop-color="#7ca9d2"/><stop offset=".117" stop-color="#5888c0"/><stop offset=".207" stop-color="#4069a8"/><stop offset=".3" stop-color="#3d63a2"/><stop offset=".4" stop-color="#3a5c9d"/><stop offset=".5" stop-color="#365695"/><stop offset=".583" stop-color="#355491"/><stop offset=".667" stop-color="#33528d"/><stop offset=".75" stop-color="#325089"/><stop offset=".833" stop-color="#314d85"/><stop offset=".86" stop-color="#304c83"/><stop offset=".88" stop-color="#2f4b81"/><stop offset=".9" stop-color="#2f4a80"/><stop offset=".917" stop-color="#2e4a7f"/><stop offset="1" stop-color="#2c4678"/></linearGradient><linearGradient id="hb106" x2="0" y2="1"><stop offset="0" stop-color="#7ba8d2"/><stop offset=".033" stop-color="#79a6d1"/><stop offset=".117" stop-color="#5787bf"/><stop offset=".207" stop-color="#4069a8"/><stop offset=".3" stop-color="#3d63a3"/><stop offset=".4" stop-color="#3a5d9d"/><stop offset=".5" stop-color="#365796"/><stop offset=".583" stop-color="#355592"/><stop offset=".667" stop-color="#34538f"/><stop offset=".75" stop-color="#33518b"/><stop offset=".833" stop-color="#314e87"/><stop offset=".86" stop-color="#314d85"/><stop offset=".88" stop-color="#304d84"/><stop offset=".9" stop-color="#2f4b81"/><stop offset=".917" stop-color="#2f4a80"/><stop offset="1" stop-color="#2c4679"/></linearGradient><linearGradient id="hb107" x2="0" y2="1"><stop offset="0" stop-color="#72a0ce"/><stop offset=".033" stop-color="#709ecd"/><stop offset=".117" stop-color="#5382bb"/><stop offset=".207" stop-color="#3f67a6"/><stop offset=".3" stop-color="#3c61a1"/><stop offset=".4" stop-color="#395b9c"/><stop offset=".5" stop-color="#365694"/><stop offset=".583" stop-color="#355491"/><stop offset=".667" stop-color="#34528e"/><stop offset=".75" stop-color="#32508a"/><stop offset=".833" stop-color="#314e86"/><stop offset=".86" stop-color="#314d85"/><stop offset=".88" stop-color="#304c84"/><stop offset=".9" stop-color="#2f4b81"/><stop offset=".917" stop-color="#2f4a80"/><stop offset="1" stop-color="#2c4679"/></linearGradient><linearGradient id="hb108" x2="0" y2="1"><stop offset="0" stop-color="#6191c5"/><stop offset=".033" stop-color="#5f8fc4"/><stop offset=".117" stop-color="#4a78b4"/><stop offset=".207" stop-color="#3c61a1"/><stop offset=".3" stop-color="#3a5c9d"/><stop offset=".4" stop-color="#375796"/><stop offset=".5" stop-color="#34528e"/><stop offset=".583" stop-color="#33518c"/><stop offset=".667" stop-color="#325089"/><stop offset=".75" stop-color="#314e86"/><stop offset=".833" stop-color="#304c82"/><stop offset=".86" stop-color="#2f4b81"/><stop offset=".88" stop-color="#2f4a80"/><stop offset=".9" stop-color="#2f4a7f"/><stop offset=".917" stop-color="#2e4a7f"/><stop offset="1" stop-color="#2c4678"/></linearGradient><linearGradient id="hb109" x2="0" y2="1"><stop offset="0" stop-color="#598ac1"/><stop offset=".033" stop-color="#5888c0"/><stop offset=".117" stop-color="#4773b0"/><stop offset=".207" stop-color="#3b60a0"/><stop offset=".3" stop-color="#395b9b"/><stop offset=".4" stop-color="#365694"/><stop offset=".5" stop-color="#33518d"/><stop offset=".583" stop-color="#33508b"/><stop offset=".667" stop-color="#324f89"/><stop offset=".75" stop-color="#314d85"/><stop offset=".833" stop-color="#2f4c82"/><stop offset=".86" stop-color="#2f4b81"/><stop offset=".88" stop-color="#2f4b80"/><stop offset=".9" stop-color="#2f4a7f"/><stop offset=".917" stop-color="#2e4a7f"/><stop offset="1" stop-color="#2c4678"/></linearGradient><linearGradient id="hb110" x2="0" y2="1"><stop offset="0" stop-color="#5585be"/><stop offset=".033" stop-color="#5483bc"/><stop offset=".117" stop-color="#4470ae"/><stop offset=".207" stop-color="#3b5f9f"/><stop offset=".3" stop-color="#395a9b"/><stop offset=".4" stop-color="#365694"/><stop offset=".5" stop-color="#33518c"/><stop offset=".583" stop-color="#33518b"/><stop offset=".667" stop-color="#32508a"/><stop offset=".75" stop-color="#314e86"/><stop offset=".833" stop-color="#304c83"/><stop offset=".86" stop-color="#304c82"/><stop offset=".88" stop-color="#2f4b81"/><stop offset=".9" stop-color="#2f4a80"/><stop offset=".917" stop-color="#2f4a7f"/><stop offset="1" stop-color="#2c4678"/></linearGradient><linearGradient id="hb111" x2="0" y2="1"><stop offset="0" stop-color="#4f7db8"/><stop offset=".033" stop-color="#4d7bb6"/><stop offset=".117" stop-color="#416aa9"/><stop offset=".207" stop-color="#395a9b"/><stop offset=".3" stop-color="#365796"/><stop offset=".4" stop-color="#34538f"/><stop offset=".5" stop-color="#324f88"/><stop offset=".583" stop-color="#314e87"/><stop offset=".667" stop-color="#314e86"/><stop offset=".75" stop-color="#304c83"/><stop offset=".833" stop-color="#2f4a80"/><stop offset=".86" stop-color="#2e4a7f"/><stop offset=".88" stop-color="#2e4a7e"/><stop offset=".9" stop-color="#2e4a7f"/><stop offset=".917" stop-color="#2e497e"/><stop offset="1" stop-color="#2c4678"/></linearGradient><linearGradient id="hb112" x2="0" y2="1"><stop offset="0" stop-color="#4976b2"/><stop offset=".033" stop-color="#4774b1"/><stop offset=".117" stop-color="#3e65a5"/><stop offset=".207" stop-color="#375796"/><stop offset=".3" stop-color="#355491"/><stop offset=".4" stop-color="#33518b"/><stop offset=".5" stop-color="#314d85"/><stop offset=".583" stop-color="#304d84"/><stop offset=".667" stop-color="#304c83"/><stop offset=".75" stop-color="#2f4a80"/><stop offset=".833" stop-color="#2e497d"/><stop offset=".86" stop-color="#2e487c"/><stop offset=".88" stop-color="#2d487c"/><stop offset=".9" stop-color="#2e497e"/><stop offset=".917" stop-color="#2e497d"/><stop offset="1" stop-color="#2c4678"/></linearGradient><linearGradient id="hb113" x2="0" y2="1"><stop offset="0" stop-color="#4d7bb6"/><stop offset=".033" stop-color="#4b79b5"/><stop offset=".117" stop-color="#4169a8"/><stop offset=".207" stop-color="#385a9b"/><stop offset=".3" stop-color="#375796"/><stop offset=".4" stop-color="#355491"/><stop offset=".5" stop-color="#33518b"/><stop offset=".583" stop-color="#32508a"/><stop offset=".667" stop-color="#324f88"/><stop offset=".75" stop-color="#314e86"/><stop offset=".833" stop-color="#304c83"/><stop offset=".86" stop-color="#304c82"/><stop offset=".88" stop-color="#2f4b82"/><stop offset=".9" stop-color="#2f4a80"/><stop offset=".917" stop-color="#2f4a7f"/><stop offset="1" stop-color="#2c4678"/></linearGradient><linearGradient id="hb114" x2="0" y2="1"><stop offset="0" stop-color="#507fb9"/><stop offset=".033" stop-color="#4e7cb7"/><stop offset=".117" stop-color="#426caa"/><stop offset=".207" stop-color="#3a5c9d"/><stop offset=".3" stop-color="#38599a"/><stop offset=".4" stop-color="#365695"/><stop offset=".5" stop-color="#345390"/><stop offset=".583" stop-color="#34528e"/><stop offset=".667" stop-color="#33528d"/><stop offset=".75" stop-color="#32508a"/><stop offset=".833" stop-color="#314e87"/><stop offset=".86" stop-color="#314e87"/><stop offset=".88" stop-color="#314e86"/><stop offset=".9" stop-color="#2f4b82"/><stop offset=".917" stop-color="#2f4b81"/><stop offset="1" stop-color="#2d477a"/></linearGradient><linearGradient id="hb115" x2="0" y2="1"><stop offset="0" stop-color="#4976b3"/><stop offset=".033" stop-color="#4774b1"/><stop offset=".117" stop-color="#3f66a5"/><stop offset=".207" stop-color="#375898"/><stop offset=".3" stop-color="#365694"/><stop offset=".4" stop-color="#345390"/><stop offset=".5" stop-color="#33518c"/><stop offset=".583" stop-color="#32508a"/><stop offset=".667" stop-color="#324f89"/><stop offset=".75" stop-color="#314e87"/><stop offset=".833" stop-color="#304d84"/><stop offset=".86" stop-color="#304c83"/><stop offset=".88" stop-color="#304c83"/><stop offset=".9" stop-color="#2f4b80"/><stop offset=".917" stop-color="#2f4a80"/><stop offset="1" stop-color="#2c4679"/></linearGradient><linearGradient id="hb116" x2="0" y2="1"><stop offset="0" stop-color="#426dab"/><stop offset=".033" stop-color="#416baa"/><stop offset=".117" stop-color="#3b5f9f"/><stop offset=".207" stop-color="#345390"/><stop offset=".3" stop-color="#33528d"/><stop offset=".4" stop-color="#32508a"/><stop offset=".5" stop-color="#314e86"/><stop offset=".583" stop-color="#314d85"/><stop offset=".667" stop-color="#304c84"/><stop offset=".75" stop-color="#2f4b81"/><stop offset=".833" stop-color="#2f4a7f"/><stop offset=".86" stop-color="#2e4a7f"/><stop offset=".88" stop-color="#2e4a7e"/><stop offset=".9" stop-color="#2e4a7f"/><stop offset=".917" stop-color="#2e4a7e"/><stop offset="1" stop-color="#2c4678"/></linearGradient><linearGradient id="hb117" x2="0" y2="1"><stop offset="0" stop-color="#416aa9"/><stop offset=".033" stop-color="#4068a7"/><stop offset=".117" stop-color="#3a5d9d"/><stop offset=".207" stop-color="#34528e"/><stop offset=".3" stop-color="#33518b"/><stop offset=".4" stop-color="#324f88"/><stop offset=".5" stop-color="#314e86"/><stop offset=".583" stop-color="#304d84"/><stop offset=".667" stop-color="#304c83"/><stop offset=".75" stop-color="#2f4b81"/><stop offset=".833" stop-color="#2f4a7f"/><stop offset=".86" stop-color="#2e4a7f"/><stop offset=".88" stop-color="#2e4a7e"/><stop offset=".9" stop-color="#2e4a7f"/><stop offset=".917" stop-color="#2e4a7e"/><stop offset="1" stop-color="#2c4678"/></linearGradient><linearGradient id="hb118" x2="0" y2="1"><stop offset="0" stop-color="#416baa"/><stop offset=".033" stop-color="#4069a8"/><stop offset=".117" stop-color="#3b5e9e"/><stop offset=".207" stop-color="#34538f"/><stop offset=".3" stop-color="#34528d"/><stop offset=".4" stop-color="#33518b"/><stop offset=".5" stop-color="#324f89"/><stop offset=".583" stop-color="#314f88"/><stop offset=".667" stop-color="#314e86"/><stop offset=".75" stop-color="#304d84"/><stop offset=".833" stop-color="#304c83"/><stop offset=".86" stop-color="#304c82"/><stop offset=".88" stop-color="#2f4c82"/><stop offset=".9" stop-color="#2f4a80"/><stop offset=".917" stop-color="#2f4a80"/><stop offset="1" stop-color="#2c4679"/></linearGradient><linearGradient id="hb119" x2="0" y2="1"><stop offset="0" stop-color="#426caa"/><stop offset=".033" stop-color="#416aa8"/><stop offset=".117" stop-color="#3b5f9f"/><stop offset=".207" stop-color="#355491"/><stop offset=".3" stop-color="#34538f"/><stop offset=".4" stop-color="#34528e"/><stop offset=".5" stop-color="#33518c"/><stop offset=".583" stop-color="#33508b"/><stop offset=".667" stop-color="#325089"/><stop offset=".75" stop-color="#324f88"/><stop offset=".833" stop-color="#314e86"/><stop offset=".86" stop-color="#314e86"/><stop offset=".88" stop-color="#314d85"/><stop offset=".9" stop-color="#2f4b81"/><stop offset=".917" stop-color="#2f4b81"/><stop offset="1" stop-color="#2d477a"/></linearGradient><linearGradient id="hb120" x2="0" y2="1"><stop offset="0" stop-color="#3f66a5"/><stop offset=".033" stop-color="#3e64a4"/><stop offset=".117" stop-color="#395a9b"/><stop offset=".207" stop-color="#33518c"/><stop offset=".3" stop-color="#33518b"/><stop offset=".4" stop-color="#32508a"/><stop offset=".5" stop-color="#325089"/><stop offset=".583" stop-color="#324f88"/><stop offset=".667" stop-color="#314e86"/><stop offset=".75" stop-color="#314d85"/><stop offset=".833" stop-color="#304c84"/><stop offset=".86" stop-color="#304c83"/><stop offset=".88" stop-color="#304c83"/><stop offset=".9" stop-color="#2f4b80"/><stop offset=".917" stop-color="#2f4a80"/><stop offset="1" stop-color="#2c4779"/></linearGradient><linearGradient id="hb121" x2="0" y2="1"><stop offset="0" stop-color="#3d62a2"/><stop offset=".033" stop-color="#3c60a0"/><stop offset=".117" stop-color="#375897"/><stop offset=".207" stop-color="#32508a"/><stop offset=".3" stop-color="#324f89"/><stop offset=".4" stop-color="#324f88"/><stop offset=".5" stop-color="#314e87"/><stop offset=".583" stop-color="#314e86"/><stop offset=".667" stop-color="#304d85"/><stop offset=".75" stop-color="#304c83"/><stop offset=".833" stop-color="#304c82"/><stop offset=".86" stop-color="#2f4b82"/><stop offset=".88" stop-color="#2f4b82"/><stop offset=".9" stop-color="#2f4a80"/><stop offset=".917" stop-color="#2f4a80"/><stop offset="1" stop-color="#2c4679"/></linearGradient><linearGradient id="hb122" x2="0" y2="1"><stop offset="0" stop-color="#3c60a0"/><stop offset=".033" stop-color="#3b5e9f"/><stop offset=".117" stop-color="#375796"/><stop offset=".207" stop-color="#32508a"/><stop offset=".3" stop-color="#325089"/><stop offset=".4" stop-color="#324f88"/><stop offset=".5" stop-color="#324f88"/><stop offset=".583" stop-color="#314e87"/><stop offset=".667" stop-color="#314e86"/><stop offset=".75" stop-color="#304d84"/><stop offset=".833" stop-color="#304c83"/><stop offset=".86" stop-color="#304c83"/><stop offset=".88" stop-color="#304c83"/><stop offset=".9" stop-color="#2f4b80"/><stop offset=".917" stop-color="#2f4a80"/><stop offset="1" stop-color="#2c4679"/></linearGradient><linearGradient id="hb123" x2="0" y2="1"><stop offset="0" stop-color="#3a5c9d"/><stop offset=".033" stop-color="#395b9c"/><stop offset=".117" stop-color="#365593"/><stop offset=".207" stop-color="#324f89"/><stop offset=".3" stop-color="#324f88"/><stop offset=".4" stop-color="#314f87"/><stop offset=".5" stop-color="#314e87"/><stop offset=".583" stop-color="#314e86"/><stop offset=".667" stop-color="#304d85"/><stop offset=".75" stop-color="#304c84"/><stop offset=".833" stop-color="#304c82"/><stop offset=".86" stop-color="#304c82"/><stop offset=".88" stop-color="#304c82"/><stop offset=".9" stop-color="#2f4a80"/><stop offset=".917" stop-color="#2f4a80"/><stop offset="1" stop-color="#2c4679"/></linearGradient><linearGradient id="hb124" x2="0" y2="1"><stop offset="0" stop-color="#385a9b"/><stop offset=".033" stop-color="#38599a"/><stop offset=".117" stop-color="#355491"/><stop offset=".207" stop-color="#324f88"/><stop offset=".3" stop-color="#314f88"/><stop offset=".4" stop-color="#314e87"/><stop offset=".5" stop-color="#314e86"/><stop offset=".583" stop-color="#314e86"/><stop offset=".667" stop-color="#314d85"/><stop offset=".75" stop-color="#304d84"/><stop offset=".833" stop-color="#304c83"/><stop offset=".86" stop-color="#304c82"/><stop offset=".88" stop-color="#304c82"/><stop offset=".9" stop-color="#2f4b80"/><stop offset=".917" stop-color="#2f4a80"/><stop offset="1" stop-color="#2c4679"/></linearGradient><linearGradient id="hb125" x2="0" y2="1"><stop offset="0" stop-color="#355593"/><stop offset=".033" stop-color="#355491"/><stop offset=".117" stop-color="#33518b"/><stop offset=".207" stop-color="#304d84"/><stop offset=".3" stop-color="#304c83"/><stop offset=".4" stop-color="#304c83"/><stop offset=".5" stop-color="#304c82"/><stop offset=".583" stop-color="#2f4b82"/><stop offset=".667" stop-color="#2f4b81"/><stop offset=".75" stop-color="#2f4b80"/><stop offset=".833" stop-color="#2f4a7f"/><stop offset=".86" stop-color="#2e4a7f"/><stop offset=".88" stop-color="#2e4a7f"/><stop offset=".9" stop-color="#2e4a7f"/><stop offset=".917" stop-color="#2e4a7f"/><stop offset="1" stop-color="#2c4678"/></linearGradient><linearGradient id="hb126" x2="0" y2="1"><stop offset="0" stop-color="#34528e"/><stop offset=".033" stop-color="#33528d"/><stop offset=".117" stop-color="#324f88"/><stop offset=".207" stop-color="#304c82"/><stop offset=".3" stop-color="#2f4b82"/><stop offset=".4" stop-color="#2f4b81"/><stop offset=".5" stop-color="#2f4b81"/><stop offset=".583" stop-color="#2f4b81"/><stop offset=".667" stop-color="#2f4b80"/><stop offset=".75" stop-color="#2f4a7f"/><stop offset=".833" stop-color="#2e4a7e"/><stop offset=".86" stop-color="#2e497e"/><stop offset=".88" stop-color="#2e497e"/><stop offset=".9" stop-color="#2e4a7f"/><stop offset=".917" stop-color="#2e4a7e"/><stop offset="1" stop-color="#2c4678"/></linearGradient><linearGradient id="hb127" x2="0" y2="1"><stop offset="0" stop-color="#33528d"/><stop offset=".033" stop-color="#33518c"/><stop offset=".117" stop-color="#324f89"/><stop offset=".207" stop-color="#304d85"/><stop offset=".3" stop-color="#304d84"/><stop offset=".4" stop-color="#304d84"/><stop offset=".5" stop-color="#304d84"/><stop offset=".583" stop-color="#304c83"/><stop offset=".667" stop-color="#304c83"/><stop offset=".75" stop-color="#304c82"/><stop offset=".833" stop-color="#2f4b81"/><stop offset=".86" stop-color="#2f4b81"/><stop offset=".88" stop-color="#2f4b81"/><stop offset=".9" stop-color="#2f4a80"/><stop offset=".917" stop-color="#2f4a80"/><stop offset="1" stop-color="#2c4679"/></linearGradient><linearGradient id="hb128" x2="0" y2="1"><stop offset="0" stop-color="#33518b"/><stop offset=".033" stop-color="#32508a"/><stop offset=".117" stop-color="#324f88"/><stop offset=".207" stop-color="#314e86"/><stop offset=".3" stop-color="#314d85"/><stop offset=".4" stop-color="#314d85"/><stop offset=".5" stop-color="#314d85"/><stop offset=".583" stop-color="#314d85"/><stop offset=".667" stop-color="#304d85"/><stop offset=".75" stop-color="#304d84"/><stop offset=".833" stop-color="#304c83"/><stop offset=".86" stop-color="#304c83"/><stop offset=".88" stop-color="#304c83"/><stop offset=".9" stop-color="#2f4b80"/><stop offset=".917" stop-color="#2f4b80"/><stop offset="1" stop-color="#2c4779"/></linearGradient><linearGradient id="hb129" x2="0" y2="1"><stop offset="0" stop-color="#314d85"/><stop offset=".033" stop-color="#314d85"/><stop offset=".117" stop-color="#304d84"/><stop offset=".207" stop-color="#304c83"/><stop offset=".3" stop-color="#304c83"/><stop offset=".4" stop-color="#304c83"/><stop offset=".5" stop-color="#304c83"/><stop offset=".583" stop-color="#304c83"/><stop offset=".667" stop-color="#304c83"/><stop offset=".75" stop-color="#304c82"/><stop offset=".833" stop-color="#2f4b82"/><stop offset=".86" stop-color="#2f4b82"/><stop offset=".88" stop-color="#2f4b82"/><stop offset=".9" stop-color="#2f4a80"/><stop offset=".917" stop-color="#2f4a80"/><stop offset="1" stop-color="#2c4679"/></linearGradient><linearGradient id="cbb" x1="0" y1="0" x2="0" y2="1"><stop offset="0.0000" stop-color="#9b2222"/><stop offset="0.0625" stop-color="#c02a2a"/><stop offset="0.1250" stop-color="#d5342b"/><stop offset="0.1875" stop-color="#e2553a"/><stop offset="0.2500" stop-color="#ee7d4c"/><stop offset="0.3125" stop-color="#f6a35f"/><stop offset="0.3750" stop-color="#fac77a"/><stop offset="0.4375" stop-color="#fbe49e"/><stop offset="0.5000" stop-color="#f7eec2"/><stop offset="0.5625" stop-color="#e8f2f2"/><stop offset="0.6250" stop-color="#c5dcec"/><stop offset="0.6875" stop-color="#9fc4e2"/><stop offset="0.7500" stop-color="#7ba8d2"/><stop offset="0.8125" stop-color="#5a8bc2"/><stop offset="0.8750" stop-color="#4470ae"/><stop offset="0.9375" stop-color="#38599a"/><stop offset="1.0000" stop-color="#2c4678"/></linearGradient><linearGradient id="hc0" x2="0" y2="1"><stop offset="0" stop-color="#34528e"/><stop offset=".033" stop-color="#34528e"/><stop offset=".117" stop-color="#33528d"/><stop offset=".207" stop-color="#33518b"/><stop offset=".3" stop-color="#324f89"/><stop offset=".4" stop-color="#314e86"/><stop offset=".5" stop-color="#304c83"/><stop offset=".583" stop-color="#304d84"/><stop offset=".667" stop-color="#314e86"/><stop offset=".75" stop-color="#304c84"/><stop offset=".833" stop-color="#2f4b81"/><stop offset=".86" stop-color="#2f4b80"/><stop offset=".88" stop-color="#2f4a80"/><stop offset=".9" stop-color="#2f4a7f"/><stop offset=".917" stop-color="#2e4a7f"/><stop offset="1" stop-color="#2c4678"/></linearGradient><linearGradient id="hc1" x2="0" y2="1"><stop offset="0" stop-color="#34528e"/><stop offset=".033" stop-color="#34528e"/><stop offset=".117" stop-color="#33528d"/><stop offset=".207" stop-color="#33518c"/><stop offset=".3" stop-color="#325089"/><stop offset=".4" stop-color="#314e86"/><stop offset=".5" stop-color="#304c84"/><stop offset=".583" stop-color="#304d85"/><stop offset=".667" stop-color="#314e85"/><stop offset=".75" stop-color="#304c83"/><stop offset=".833" stop-color="#2f4b81"/><stop offset=".86" stop-color="#2f4b80"/><stop offset=".88" stop-color="#2f4a7f"/><stop offset=".9" stop-color="#2e4a7f"/><stop offset=".917" stop-color="#2e4a7f"/><stop offset="1" stop-color="#2c4678"/></linearGradient><linearGradient id="hc2" x2="0" y2="1"><stop offset="0" stop-color="#34528e"/><stop offset=".033" stop-color="#34528e"/><stop offset=".117" stop-color="#33528d"/><stop offset=".207" stop-color="#33518c"/><stop offset=".3" stop-color="#325089"/><stop offset=".4" stop-color="#314e87"/><stop offset=".5" stop-color="#304d84"/><stop offset=".583" stop-color="#304d85"/><stop offset=".667" stop-color="#314d85"/><stop offset=".75" stop-color="#304c83"/><stop offset=".833" stop-color="#2f4b81"/><stop offset=".86" stop-color="#2f4a80"/><stop offset=".88" stop-color="#2e4a7f"/><stop offset=".9" stop-color="#2e4a7f"/><stop offset=".917" stop-color="#2e4a7e"/><stop offset="1" stop-color="#2c4678"/></linearGradient><linearGradient id="hc3" x2="0" y2="1"><stop offset="0" stop-color="#33528d"/><stop offset=".033" stop-color="#33528d"/><stop offset=".117" stop-color="#33518c"/><stop offset=".207" stop-color="#33518b"/><stop offset=".3" stop-color="#324f89"/><stop offset=".4" stop-color="#314e86"/><stop offset=".5" stop-color="#304c83"/><stop offset=".583" stop-color="#304c84"/><stop offset=".667" stop-color="#304d84"/><stop offset=".75" stop-color="#2f4b82"/><stop offset=".833" stop-color="#2f4a7f"/><stop offset=".86" stop-color="#2e497e"/><stop offset=".88" stop-color="#2e497d"/><stop offset=".9" stop-color="#2e4a7e"/><stop offset=".917" stop-color="#2e497e"/><stop offset="1" stop-color="#2c4678"/></linearGradient><linearGradient id="hc4" x2="0" y2="1"><stop offset="0" stop-color="#34528d"/><stop offset=".033" stop-color="#34528d"/><stop offset=".117" stop-color="#33528d"/><stop offset=".207" stop-color="#33518c"/><stop offset=".3" stop-color="#32508a"/><stop offset=".4" stop-color="#314e87"/><stop offset=".5" stop-color="#304d84"/><stop offset=".583" stop-color="#304d84"/><stop offset=".667" stop-color="#304d84"/><stop offset=".75" stop-color="#304c82"/><stop offset=".833" stop-color="#2f4a80"/><stop offset=".86" stop-color="#2e4a7e"/><stop offset=".88" stop-color="#2e497e"/><stop offset=".9" stop-color="#2e4a7e"/><stop offset=".917" stop-color="#2e497e"/><stop offset="1" stop-color="#2c4678"/></linearGradient><linearGradient id="hc5" x2="0" y2="1"><stop offset="0" stop-color="#34538f"/><stop offset=".033" stop-color="#34538f"/><stop offset=".117" stop-color="#34528e"/><stop offset=".207" stop-color="#34528e"/><stop offset=".3" stop-color="#33518b"/><stop offset=".4" stop-color="#324f88"/><stop offset=".5" stop-color="#314e86"/><stop offset=".583" stop-color="#314e86"/><stop offset=".667" stop-color="#314d85"/><stop offset=".75" stop-color="#304c83"/><stop offset=".833" stop-color="#2f4b81"/><stop offset=".86" stop-color="#2f4a7f"/><stop offset=".88" stop-color="#2e4a7e"/><stop offset=".9" stop-color="#2e4a7f"/><stop offset=".917" stop-color="#2e497e"/><stop offset="1" stop-color="#2c4678"/></linearGradient><linearGradient id="hc6" x2="0" y2="1"><stop offset="0" stop-color="#355491"/><stop offset=".033" stop-color="#355491"/><stop offset=".117" stop-color="#355491"/><stop offset=".207" stop-color="#355390"/><stop offset=".3" stop-color="#34528e"/><stop offset=".4" stop-color="#33508b"/><stop offset=".5" stop-color="#324f88"/><stop offset=".583" stop-color="#314f88"/><stop offset=".667" stop-color="#314e87"/><stop offset=".75" stop-color="#304d85"/><stop offset=".833" stop-color="#304c82"/><stop offset=".86" stop-color="#2f4b81"/><stop offset=".88" stop-color="#2f4a80"/><stop offset=".9" stop-color="#2f4a7f"/><stop offset=".917" stop-color="#2e4a7f"/><stop offset="1" stop-color="#2c4678"/></linearGradient><linearGradient id="hc7" x2="0" y2="1"><stop offset="0" stop-color="#365694"/><stop offset=".033" stop-color="#365694"/><stop offset=".117" stop-color="#365594"/><stop offset=".207" stop-color="#365593"/><stop offset=".3" stop-color="#355491"/><stop offset=".4" stop-color="#34528e"/><stop offset=".5" stop-color="#33518b"/><stop offset=".583" stop-color="#32508a"/><stop offset=".667" stop-color="#325089"/><stop offset=".75" stop-color="#314e87"/><stop offset=".833" stop-color="#304d84"/><stop offset=".86" stop-color="#304c83"/><stop offset=".88" stop-color="#2f4b82"/><stop offset=".9" stop-color="#2f4a80"/><stop offset=".917" stop-color="#2f4a7f"/><stop offset="1" stop-color="#2c4678"/></linearGradient><linearGradient id="hc8" x2="0" y2="1"><stop offset="0" stop-color="#365796"/><stop offset=".033" stop-color="#365796"/><stop offset=".117" stop-color="#365695"/><stop offset=".207" stop-color="#365695"/><stop offset=".3" stop-color="#355593"/><stop offset=".4" stop-color="#345390"/><stop offset=".5" stop-color="#33528d"/><stop offset=".583" stop-color="#33518c"/><stop offset=".667" stop-color="#33508b"/><stop offset=".75" stop-color="#324f88"/><stop offset=".833" stop-color="#314d85"/><stop offset=".86" stop-color="#304d84"/><stop offset=".88" stop-color="#304c83"/><stop offset=".9" stop-color="#2f4b80"/><stop offset=".917" stop-color="#2f4a80"/><stop offset="1" stop-color="#2c4679"/></linearGradient><linearGradient id="hc9" x2="0" y2="1"><stop offset="0" stop-color="#375796"/><stop offset=".033" stop-color="#375796"/><stop offset=".117" stop-color="#365796"/><stop offset=".207" stop-color="#365796"/><stop offset=".3" stop-color="#365593"/><stop offset=".4" stop-color="#355490"/><stop offset=".5" stop-color="#34528d"/><stop offset=".583" stop-color="#33518c"/><stop offset=".667" stop-color="#33508b"/><stop offset=".75" stop-color="#324f88"/><stop offset=".833" stop-color="#314d85"/><stop offset=".86" stop-color="#304c83"/><stop offset=".88" stop-color="#304c82"/><stop offset=".9" stop-color="#2f4b80"/><stop offset=".917" stop-color="#2f4a80"/><stop offset="1" stop-color="#2c4679"/></linearGradient><linearGradient id="hc10" x2="0" y2="1"><stop offset="0" stop-color="#385899"/><stop offset=".033" stop-color="#385899"/><stop offset=".117" stop-color="#375898"/><stop offset=".207" stop-color="#375898"/><stop offset=".3" stop-color="#365695"/><stop offset=".4" stop-color="#355492"/><stop offset=".5" stop-color="#34538f"/><stop offset=".583" stop-color="#33528d"/><stop offset=".667" stop-color="#33518b"/><stop offset=".75" stop-color="#324f88"/><stop offset=".833" stop-color="#314e86"/><stop offset=".86" stop-color="#304d84"/><stop offset=".88" stop-color="#304c83"/><stop offset=".9" stop-color="#2f4b80"/><stop offset=".917" stop-color="#2f4a80"/><stop offset="1" stop-color="#2c4679"/></linearGradient><linearGradient id="hc11" x2="0" y2="1"><stop offset="0" stop-color="#38599a"/><stop offset=".033" stop-color="#38599a"/><stop offset=".117" stop-color="#38599a"/><stop offset=".207" stop-color="#385899"/><stop offset=".3" stop-color="#365696"/><stop offset=".4" stop-color="#355492"/><stop offset=".5" stop-color="#34528e"/><stop offset=".583" stop-color="#33518c"/><stop offset=".667" stop-color="#32508a"/><stop offset=".75" stop-color="#314f88"/><stop offset=".833" stop-color="#314d85"/><stop offset=".86" stop-color="#304c83"/><stop offset=".88" stop-color="#304c82"/><stop offset=".9" stop-color="#2f4b80"/><stop offset=".917" stop-color="#2f4a7f"/><stop offset="1" stop-color="#2c4678"/></linearGradient><linearGradient id="hc12" x2="0" y2="1"><stop offset="0" stop-color="#385a9b"/><stop offset=".033" stop-color="#385a9b"/><stop offset=".117" stop-color="#38599a"/><stop offset=".207" stop-color="#385899"/><stop offset=".3" stop-color="#365695"/><stop offset=".4" stop-color="#355491"/><stop offset=".5" stop-color="#33528d"/><stop offset=".583" stop-color="#33508b"/><stop offset=".667" stop-color="#324f89"/><stop offset=".75" stop-color="#314e86"/><stop offset=".833" stop-color="#304c83"/><stop offset=".86" stop-color="#2f4b82"/><stop offset=".88" stop-color="#2f4b80"/><stop offset=".9" stop-color="#2f4a80"/><stop offset=".917" stop-color="#2e4a7f"/><stop offset="1" stop-color="#2c4678"/></linearGradient><linearGradient id="hc13" x2="0" y2="1"><stop offset="0" stop-color="#395a9b"/><stop offset=".033" stop-color="#395a9b"/><stop offset=".117" stop-color="#38599a"/><stop offset=".207" stop-color="#385899"/><stop offset=".3" stop-color="#365695"/><stop offset=".4" stop-color="#345390"/><stop offset=".5" stop-color="#33518c"/><stop offset=".583" stop-color="#325089"/><stop offset=".667" stop-color="#314e87"/><stop offset=".75" stop-color="#304d84"/><stop offset=".833" stop-color="#2f4b82"/><stop offset=".86" stop-color="#2f4a80"/><stop offset=".88" stop-color="#2e4a7f"/><stop offset=".9" stop-color="#2e4a7f"/><stop offset=".917" stop-color="#2e4a7e"/><stop offset="1" stop-color="#2c4678"/></linearGradient><linearGradient id="hc14" x2="0" y2="1"><stop offset="0" stop-color="#385a9b"/><stop offset=".033" stop-color="#385a9b"/><stop offset=".117" stop-color="#385999"/><stop offset=".207" stop-color="#375897"/><stop offset=".3" stop-color="#365593"/><stop offset=".4" stop-color="#34528e"/><stop offset=".5" stop-color="#325089"/><stop offset=".583" stop-color="#314e87"/><stop offset=".667" stop-color="#304d84"/><stop offset=".75" stop-color="#2f4b82"/><stop offset=".833" stop-color="#2f4a7f"/><stop offset=".86" stop-color="#2e497e"/><stop offset=".88" stop-color="#2e497d"/><stop offset=".9" stop-color="#2e497e"/><stop offset=".917" stop-color="#2e497e"/><stop offset="1" stop-color="#2c4678"/></linearGradient><linearGradient id="hc15" x2="0" y2="1"><stop offset="0" stop-color="#395b9c"/><stop offset=".033" stop-color="#395b9c"/><stop offset=".117" stop-color="#385a9a"/><stop offset=".207" stop-color="#375898"/><stop offset=".3" stop-color="#365594"/><stop offset=".4" stop-color="#34538e"/><stop offset=".5" stop-color="#325089"/><stop offset=".583" stop-color="#314e86"/><stop offset=".667" stop-color="#304c84"/><stop offset=".75" stop-color="#2f4b81"/><stop offset=".833" stop-color="#2e4a7e"/><stop offset=".86" stop-color="#2e497d"/><stop offset=".88" stop-color="#2d487c"/><stop offset=".9" stop-color="#2e497e"/><stop offset=".917" stop-color="#2e497d"/><stop offset="1" stop-color="#2c4678"/></linearGradient><linearGradient id="hc16" x2="0" y2="1"><stop offset="0" stop-color="#3b5f9f"/><stop offset=".033" stop-color="#3b5f9f"/><stop offset=".117" stop-color="#3a5e9e"/><stop offset=".207" stop-color="#395c9c"/><stop offset=".3" stop-color="#375898"/><stop offset=".4" stop-color="#355592"/><stop offset=".5" stop-color="#33528d"/><stop offset=".583" stop-color="#325089"/><stop offset=".667" stop-color="#314e86"/><stop offset=".75" stop-color="#304d84"/><stop offset=".833" stop-color="#2f4b81"/><stop offset=".86" stop-color="#2f4a7f"/><stop offset=".88" stop-color="#2e4a7e"/><stop offset=".9" stop-color="#2e4a7f"/><stop offset=".917" stop-color="#2e497e"/><stop offset="1" stop-color="#2c4678"/></linearGradient><linearGradient id="hc17" x2="0" y2="1"><stop offset="0" stop-color="#3d63a2"/><stop offset=".033" stop-color="#3d63a2"/><stop offset=".117" stop-color="#3c61a1"/><stop offset=".207" stop-color="#3b5e9f"/><stop offset=".3" stop-color="#395a9b"/><stop offset=".4" stop-color="#365695"/><stop offset=".5" stop-color="#34538f"/><stop offset=".583" stop-color="#33518b"/><stop offset=".667" stop-color="#324f88"/><stop offset=".75" stop-color="#314d85"/><stop offset=".833" stop-color="#304c83"/><stop offset=".86" stop-color="#2f4b81"/><stop offset=".88" stop-color="#2f4a80"/><stop offset=".9" stop-color="#2f4a7f"/><stop offset=".917" stop-color="#2e4a7f"/><stop offset="1" stop-color="#2c4678"/></linearGradient><linearGradient id="hc18" x2="0" y2="1"><stop offset="0" stop-color="#3f66a5"/><stop offset=".033" stop-color="#3f66a5"/><stop offset=".117" stop-color="#3d63a3"/><stop offset=".207" stop-color="#3c61a1"/><stop offset=".3" stop-color="#3a5c9d"/><stop offset=".4" stop-color="#375898"/><stop offset=".5" stop-color="#355491"/><stop offset=".583" stop-color="#33528d"/><stop offset=".667" stop-color="#324f89"/><stop offset=".75" stop-color="#314e86"/><stop offset=".833" stop-color="#304c83"/><stop offset=".86" stop-color="#304c82"/><stop offset=".88" stop-color="#2f4b81"/><stop offset=".9" stop-color="#2f4a80"/><stop offset=".917" stop-color="#2e4a7f"/><stop offset="1" stop-color="#2c4678"/></linearGradient><linearGradient id="hc19" x2="0" y2="1"><stop offset="0" stop-color="#3f66a6"/><stop offset=".033" stop-color="#3f66a6"/><stop offset=".117" stop-color="#3e64a3"/><stop offset=".207" stop-color="#3c61a1"/><stop offset=".3" stop-color="#3a5c9d"/><stop offset=".4" stop-color="#375897"/><stop offset=".5" stop-color="#355390"/><stop offset=".583" stop-color="#33518c"/><stop offset=".667" stop-color="#324f88"/><stop offset=".75" stop-color="#314d85"/><stop offset=".833" stop-color="#304c83"/><stop offset=".86" stop-color="#2f4b81"/><stop offset=".88" stop-color="#2f4a80"/><stop offset=".9" stop-color="#2f4a7f"/><stop offset=".917" stop-color="#2e4a7f"/><stop offset="1" stop-color="#2c4678"/></linearGradient><linearGradient id="hc20" x2="0" y2="1"><stop offset="0" stop-color="#3e65a5"/><stop offset=".033" stop-color="#3e65a5"/><stop offset=".117" stop-color="#3d63a3"/><stop offset=".207" stop-color="#3c60a0"/><stop offset=".3" stop-color="#395c9c"/><stop offset=".4" stop-color="#375796"/><stop offset=".5" stop-color="#34538f"/><stop offset=".583" stop-color="#33508a"/><stop offset=".667" stop-color="#314e86"/><stop offset=".75" stop-color="#304c83"/><stop offset=".833" stop-color="#2f4a80"/><stop offset=".86" stop-color="#2e4a7e"/><stop offset=".88" stop-color="#2e497d"/><stop offset=".9" stop-color="#2e4a7e"/><stop offset=".917" stop-color="#2e497e"/><stop offset="1" stop-color="#2c4678"/></linearGradient><linearGradient id="hc21" x2="0" y2="1"><stop offset="0" stop-color="#3f66a6"/><stop offset=".033" stop-color="#3f66a6"/><stop offset=".117" stop-color="#3e64a4"/><stop offset=".207" stop-color="#3c62a1"/><stop offset=".3" stop-color="#3a5d9d"/><stop offset=".4" stop-color="#375898"/><stop offset=".5" stop-color="#355491"/><stop offset=".583" stop-color="#33518b"/><stop offset=".667" stop-color="#314e86"/><stop offset=".75" stop-color="#304c83"/><stop offset=".833" stop-color="#2f4a7f"/><stop offset=".86" stop-color="#2e497e"/><stop offset=".88" stop-color="#2e497d"/><stop offset=".9" stop-color="#2e497e"/><stop offset=".917" stop-color="#2e497e"/><stop offset="1" stop-color="#2c4678"/></linearGradient><linearGradient id="hc22" x2="0" y2="1"><stop offset="0" stop-color="#416aa9"/><stop offset=".033" stop-color="#416aa9"/><stop offset=".117" stop-color="#4068a7"/><stop offset=".207" stop-color="#3e65a4"/><stop offset=".3" stop-color="#3c60a0"/><stop offset=".4" stop-color="#395b9c"/><stop offset=".5" stop-color="#365695"/><stop offset=".583" stop-color="#34538f"/><stop offset=".667" stop-color="#324f88"/><stop offset=".75" stop-color="#304d85"/><stop offset=".833" stop-color="#2f4b81"/><stop offset=".86" stop-color="#2f4a7f"/><stop offset=".88" stop-color="#2e497e"/><stop offset=".9" stop-color="#2e4a7f"/><stop offset=".917" stop-color="#2e497e"/><stop offset="1" stop-color="#2c4678"/></linearGradient><linearGradient id="hc23" x2="0" y2="1"><stop offset="0" stop-color="#446fad"/><stop offset=".033" stop-color="#446fad"/><stop offset=".117" stop-color="#426dab"/><stop offset=".207" stop-color="#416aa9"/><stop offset=".3" stop-color="#3e65a5"/><stop offset=".4" stop-color="#3b60a0"/><stop offset=".5" stop-color="#395a9b"/><stop offset=".583" stop-color="#365694"/><stop offset=".667" stop-color="#33518d"/><stop offset=".75" stop-color="#324f88"/><stop offset=".833" stop-color="#304d84"/><stop offset=".86" stop-color="#304c82"/><stop offset=".88" stop-color="#2f4b81"/><stop offset=".9" stop-color="#2f4a80"/><stop offset=".917" stop-color="#2e4a7f"/><stop offset="1" stop-color="#2c4678"/></linearGradient><linearGradient id="hc24" x2="0" y2="1"><stop offset="0" stop-color="#4571af"/><stop offset=".033" stop-color="#4571af"/><stop offset=".117" stop-color="#436fad"/><stop offset=".207" stop-color="#426cab"/><stop offset=".3" stop-color="#3f67a6"/><stop offset=".4" stop-color="#3c61a1"/><stop offset=".5" stop-color="#395c9c"/><stop offset=".583" stop-color="#365695"/><stop offset=".667" stop-color="#33528d"/><stop offset=".75" stop-color="#324f89"/><stop offset=".833" stop-color="#304d84"/><stop offset=".86" stop-color="#304c82"/><stop offset=".88" stop-color="#2f4b81"/><stop offset=".9" stop-color="#2f4a80"/><stop offset=".917" stop-color="#2e4a7f"/><stop offset="1" stop-color="#2c4678"/></linearGradient><linearGradient id="hc25" x2="0" y2="1"><stop offset="0" stop-color="#4571af"/><stop offset=".033" stop-color="#4571af"/><stop offset=".117" stop-color="#436fad"/><stop offset=".207" stop-color="#426dab"/><stop offset=".3" stop-color="#4067a7"/><stop offset=".4" stop-color="#3d62a2"/><stop offset=".5" stop-color="#3a5c9d"/><stop offset=".583" stop-color="#365695"/><stop offset=".667" stop-color="#33518c"/><stop offset=".75" stop-color="#324f88"/><stop offset=".833" stop-color="#304c83"/><stop offset=".86" stop-color="#2f4b81"/><stop offset=".88" stop-color="#2f4a80"/><stop offset=".9" stop-color="#2f4a7f"/><stop offset=".917" stop-color="#2e4a7f"/><stop offset="1" stop-color="#2c4678"/></linearGradient><linearGradient id="hc26" x2="0" y2="1"><stop offset="0" stop-color="#4470ae"/><stop offset=".033" stop-color="#4470ae"/><stop offset=".117" stop-color="#436eac"/><stop offset=".207" stop-color="#426cab"/><stop offset=".3" stop-color="#3f67a6"/><stop offset=".4" stop-color="#3c61a1"/><stop offset=".5" stop-color="#395c9c"/><stop offset=".583" stop-color="#365694"/><stop offset=".667" stop-color="#33508b"/><stop offset=".75" stop-color="#314e86"/><stop offset=".833" stop-color="#2f4b81"/><stop offset=".86" stop-color="#2e4a7f"/><stop offset=".88" stop-color="#2e497e"/><stop offset=".9" stop-color="#2e4a7e"/><stop offset=".917" stop-color="#2e497e"/><stop offset="1" stop-color="#2c4678"/></linearGradient><linearGradient id="hc27" x2="0" y2="1"><stop offset="0" stop-color="#4571af"/><stop offset=".033" stop-color="#4571af"/><stop offset=".117" stop-color="#436fad"/><stop offset=".207" stop-color="#426dab"/><stop offset=".3" stop-color="#4068a7"/><stop offset=".4" stop-color="#3d62a2"/><stop offset=".5" stop-color="#3a5c9d"/><stop offset=".583" stop-color="#365694"/><stop offset=".667" stop-color="#32508a"/><stop offset=".75" stop-color="#314d85"/><stop offset=".833" stop-color="#2f4a80"/><stop offset=".86" stop-color="#2e497e"/><stop offset=".88" stop-color="#2e497d"/><stop offset=".9" stop-color="#2e497e"/><stop offset=".917" stop-color="#2e497d"/><stop offset="1" stop-color="#2c4678"/></linearGradient><linearGradient id="hc28" x2="0" y2="1"><stop offset="0" stop-color="#4875b2"/><stop offset=".033" stop-color="#4875b2"/><stop offset=".117" stop-color="#4773b0"/><stop offset=".207" stop-color="#4571af"/><stop offset=".3" stop-color="#416baa"/><stop offset=".4" stop-color="#3e65a5"/><stop offset=".5" stop-color="#3b5f9f"/><stop offset=".583" stop-color="#375898"/><stop offset=".667" stop-color="#33528d"/><stop offset=".75" stop-color="#314e87"/><stop offset=".833" stop-color="#2f4b81"/><stop offset=".86" stop-color="#2f4a80"/><stop offset=".88" stop-color="#2e497e"/><stop offset=".9" stop-color="#2e4a7f"/><stop offset=".917" stop-color="#2e497e"/><stop offset="1" stop-color="#2c4678"/></linearGradient><linearGradient id="hc29" x2="0" y2="1"><stop offset="0" stop-color="#4d7bb6"/><stop offset=".033" stop-color="#4d7bb6"/><stop offset=".117" stop-color="#4b79b5"/><stop offset=".207" stop-color="#4976b3"/><stop offset=".3" stop-color="#4470ae"/><stop offset=".4" stop-color="#4069a8"/><stop offset=".5" stop-color="#3d63a3"/><stop offset=".583" stop-color="#395b9c"/><stop offset=".667" stop-color="#355490"/><stop offset=".75" stop-color="#32508a"/><stop offset=".833" stop-color="#304d84"/><stop offset=".86" stop-color="#2f4b82"/><stop offset=".88" stop-color="#2f4b80"/><stop offset=".9" stop-color="#2f4a80"/><stop offset=".917" stop-color="#2e4a7f"/><stop offset="1" stop-color="#2c4678"/></linearGradient><linearGradient id="hc30" x2="0" y2="1"><stop offset="0" stop-color="#5180ba"/><stop offset=".033" stop-color="#5180ba"/><stop offset=".117" stop-color="#4e7cb7"/><stop offset=".207" stop-color="#4b79b4"/><stop offset=".3" stop-color="#4572af"/><stop offset=".4" stop-color="#416baa"/><stop offset=".5" stop-color="#3e65a4"/><stop offset=".583" stop-color="#3a5c9d"/><stop offset=".667" stop-color="#355593"/><stop offset=".75" stop-color="#33518c"/><stop offset=".833" stop-color="#304d84"/><stop offset=".86" stop-color="#304c82"/><stop offset=".88" stop-color="#2f4b80"/><stop offset=".9" stop-color="#2f4a80"/><stop offset=".917" stop-color="#2e4a7f"/><stop offset="1" stop-color="#2c4678"/></linearGradient><linearGradient id="hc31" x2="0" y2="1"><stop offset="0" stop-color="#5382bb"/><stop offset=".033" stop-color="#5281bb"/><stop offset=".117" stop-color="#4f7db8"/><stop offset=".207" stop-color="#4b78b4"/><stop offset=".3" stop-color="#4571af"/><stop offset=".4" stop-color="#416baa"/><stop offset=".5" stop-color="#3e65a4"/><stop offset=".583" stop-color="#3a5c9d"/><stop offset=".667" stop-color="#355593"/><stop offset=".75" stop-color="#33508b"/><stop offset=".833" stop-color="#304c83"/><stop offset=".86" stop-color="#2f4b81"/><stop offset=".88" stop-color="#2e4a7f"/><stop offset=".9" stop-color="#2e4a7f"/><stop offset=".917" stop-color="#2e497e"/><stop offset="1" stop-color="#2c4678"/></linearGradient><linearGradient id="hc32" x2="0" y2="1"><stop offset="0" stop-color="#5989c1"/><stop offset=".033" stop-color="#5888c0"/><stop offset=".117" stop-color="#5383bc"/><stop offset=".207" stop-color="#4e7db7"/><stop offset=".3" stop-color="#4875b2"/><stop offset=".4" stop-color="#436eac"/><stop offset=".5" stop-color="#4068a7"/><stop offset=".583" stop-color="#3b5f9f"/><stop offset=".667" stop-color="#375797"/><stop offset=".75" stop-color="#34528e"/><stop offset=".833" stop-color="#304d85"/><stop offset=".86" stop-color="#304c82"/><stop offset=".88" stop-color="#2f4b80"/><stop offset=".9" stop-color="#2f4a80"/><stop offset=".917" stop-color="#2e497e"/><stop offset="1" stop-color="#2c4678"/></linearGradient><linearGradient id="hc33" x2="0" y2="1"><stop offset="0" stop-color="#5d8ec3"/><stop offset=".033" stop-color="#5b8cc3"/><stop offset=".117" stop-color="#5585be"/><stop offset=".207" stop-color="#507eb9"/><stop offset=".3" stop-color="#4a77b3"/><stop offset=".4" stop-color="#4470ae"/><stop offset=".5" stop-color="#4069a8"/><stop offset=".583" stop-color="#3c60a0"/><stop offset=".667" stop-color="#375898"/><stop offset=".75" stop-color="#34538e"/><stop offset=".833" stop-color="#304d85"/><stop offset=".86" stop-color="#304c82"/><stop offset=".88" stop-color="#2f4a80"/><stop offset=".9" stop-color="#2f4a80"/><stop offset=".917" stop-color="#2e497e"/><stop offset="1" stop-color="#2c4678"/></linearGradient><linearGradient id="hc34" x2="0" y2="1"><stop offset="0" stop-color="#6393c6"/><stop offset=".033" stop-color="#6191c5"/><stop offset=".117" stop-color="#5889c0"/><stop offset=".207" stop-color="#5181ba"/><stop offset=".3" stop-color="#4c79b5"/><stop offset=".4" stop-color="#4572af"/><stop offset=".5" stop-color="#416ba9"/><stop offset=".583" stop-color="#3d62a2"/><stop offset=".667" stop-color="#38599a"/><stop offset=".75" stop-color="#345390"/><stop offset=".833" stop-color="#314d85"/><stop offset=".86" stop-color="#304c82"/><stop offset=".88" stop-color="#2f4b80"/><stop offset=".9" stop-color="#2f4a80"/><stop offset=".917" stop-color="#2e497e"/><stop offset="1" stop-color="#2c4678"/></linearGradient><linearGradient id="hc35" x2="0" y2="1"><stop offset="0" stop-color="#6b9aca"/><stop offset=".033" stop-color="#6897c9"/><stop offset=".117" stop-color="#5d8ec4"/><stop offset=".207" stop-color="#5484bd"/><stop offset=".3" stop-color="#4e7db7"/><stop offset=".4" stop-color="#4875b2"/><stop offset=".5" stop-color="#436dac"/><stop offset=".583" stop-color="#3e64a4"/><stop offset=".667" stop-color="#395c9c"/><stop offset=".75" stop-color="#355592"/><stop offset=".833" stop-color="#314e86"/><stop offset=".86" stop-color="#304c83"/><stop offset=".88" stop-color="#2f4b81"/><stop offset=".9" stop-color="#2f4a80"/><stop offset=".917" stop-color="#2e497e"/><stop offset="1" stop-color="#2c4678"/></linearGradient><linearGradient id="hc36" x2="0" y2="1"><stop offset="0" stop-color="#72a0ce"/><stop offset=".033" stop-color="#709ecd"/><stop offset=".117" stop-color="#6494c7"/><stop offset=".207" stop-color="#5889c0"/><stop offset=".3" stop-color="#5281ba"/><stop offset=".4" stop-color="#4b78b4"/><stop offset=".5" stop-color="#4470ae"/><stop offset=".583" stop-color="#3f67a6"/><stop offset=".667" stop-color="#3b5e9e"/><stop offset=".75" stop-color="#365695"/><stop offset=".833" stop-color="#324f88"/><stop offset=".86" stop-color="#304d85"/><stop offset=".88" stop-color="#304c82"/><stop offset=".9" stop-color="#2f4b80"/><stop offset=".917" stop-color="#2e4a7e"/><stop offset="1" stop-color="#2c4678"/></linearGradient><linearGradient id="hc37" x2="0" y2="1"><stop offset="0" stop-color="#7eaad3"/><stop offset=".033" stop-color="#7ba8d2"/><stop offset=".117" stop-color="#6e9dcc"/><stop offset=".207" stop-color="#6090c5"/><stop offset=".3" stop-color="#5787bf"/><stop offset=".4" stop-color="#507eb9"/><stop offset=".5" stop-color="#4875b2"/><stop offset=".583" stop-color="#416baa"/><stop offset=".667" stop-color="#3c62a1"/><stop offset=".75" stop-color="#385999"/><stop offset=".833" stop-color="#33518c"/><stop offset=".86" stop-color="#324f88"/><stop offset=".88" stop-color="#314d85"/><stop offset=".9" stop-color="#2f4b81"/><stop offset=".917" stop-color="#2f4a7f"/><stop offset="1" stop-color="#2c4678"/></linearGradient><linearGradient id="hc38" x2="0" y2="1"><stop offset="0" stop-color="#88b2d8"/><stop offset=".033" stop-color="#85b0d7"/><stop offset=".117" stop-color="#76a4d0"/><stop offset=".207" stop-color="#6797c8"/><stop offset=".3" stop-color="#5c8dc3"/><stop offset=".4" stop-color="#5383bc"/><stop offset=".5" stop-color="#4b79b4"/><stop offset=".583" stop-color="#436eac"/><stop offset=".667" stop-color="#3e64a4"/><stop offset=".75" stop-color="#395b9c"/><stop offset=".833" stop-color="#34528e"/><stop offset=".86" stop-color="#32508a"/><stop offset=".88" stop-color="#314e87"/><stop offset=".9" stop-color="#304c82"/><stop offset=".917" stop-color="#2f4a80"/><stop offset="1" stop-color="#2c4679"/></linearGradient><linearGradient id="hc39" x2="0" y2="1"><stop offset="0" stop-color="#8bb4d9"/><stop offset=".033" stop-color="#88b2d8"/><stop offset=".117" stop-color="#78a5d1"/><stop offset=".207" stop-color="#6898c9"/><stop offset=".3" stop-color="#5d8dc3"/><stop offset=".4" stop-color="#5383bc"/><stop offset=".5" stop-color="#4b79b4"/><stop offset=".583" stop-color="#436eac"/><stop offset=".667" stop-color="#3e65a4"/><stop offset=".75" stop-color="#395b9c"/><stop offset=".833" stop-color="#34528e"/><stop offset=".86" stop-color="#325089"/><stop offset=".88" stop-color="#314e86"/><stop offset=".9" stop-color="#2f4b82"/><stop offset=".917" stop-color="#2e4a7f"/><stop offset="1" stop-color="#2c4678"/></linearGradient><linearGradient id="hc40" x2="0" y2="1"><stop offset="0" stop-color="#8db6da"/><stop offset=".033" stop-color="#8ab4d9"/><stop offset=".117" stop-color="#7aa7d1"/><stop offset=".207" stop-color="#6a99ca"/><stop offset=".3" stop-color="#5d8ec4"/><stop offset=".4" stop-color="#5483bc"/><stop offset=".5" stop-color="#4b78b4"/><stop offset=".583" stop-color="#436eac"/><stop offset=".667" stop-color="#3e65a4"/><stop offset=".75" stop-color="#395b9b"/><stop offset=".833" stop-color="#34528d"/><stop offset=".86" stop-color="#324f88"/><stop offset=".88" stop-color="#304d85"/><stop offset=".9" stop-color="#2f4b81"/><stop offset=".917" stop-color="#2e4a7f"/><stop offset="1" stop-color="#2c4678"/></linearGradient><linearGradient id="hc41" x2="0" y2="1"><stop offset="0" stop-color="#97bede"/><stop offset=".033" stop-color="#94bcdd"/><stop offset=".117" stop-color="#83aed5"/><stop offset=".207" stop-color="#719fcd"/><stop offset=".3" stop-color="#6494c7"/><stop offset=".4" stop-color="#5788bf"/><stop offset=".5" stop-color="#4e7cb7"/><stop offset=".583" stop-color="#4571af"/><stop offset=".667" stop-color="#4068a7"/><stop offset=".75" stop-color="#3a5d9e"/><stop offset=".833" stop-color="#345390"/><stop offset=".86" stop-color="#33508a"/><stop offset=".88" stop-color="#314e86"/><stop offset=".9" stop-color="#304c82"/><stop offset=".917" stop-color="#2e4a7f"/><stop offset="1" stop-color="#2c4678"/></linearGradient><linearGradient id="hc42" x2="0" y2="1"><stop offset="0" stop-color="#a1c5e3"/><stop offset=".033" stop-color="#9ec3e2"/><stop offset=".117" stop-color="#8cb5da"/><stop offset=".207" stop-color="#78a6d1"/><stop offset=".3" stop-color="#6a99ca"/><stop offset=".4" stop-color="#5c8cc3"/><stop offset=".5" stop-color="#5180ba"/><stop offset=".583" stop-color="#4875b2"/><stop offset=".667" stop-color="#416baa"/><stop offset=".75" stop-color="#3b60a0"/><stop offset=".833" stop-color="#365593"/><stop offset=".86" stop-color="#33528d"/><stop offset=".88" stop-color="#324f88"/><stop offset=".9" stop-color="#304c83"/><stop offset=".917" stop-color="#2f4a7f"/><stop offset="1" stop-color="#2c4678"/></linearGradient><linearGradient id="hc43" x2="0" y2="1"><stop offset="0" stop-color="#a9cae5"/><stop offset=".033" stop-color="#a5c8e4"/><stop offset=".117" stop-color="#93bbdd"/><stop offset=".207" stop-color="#7fabd4"/><stop offset=".3" stop-color="#709fcd"/><stop offset=".4" stop-color="#6191c5"/><stop offset=".5" stop-color="#5484bd"/><stop offset=".583" stop-color="#4b78b4"/><stop offset=".667" stop-color="#436dac"/><stop offset=".75" stop-color="#3d62a2"/><stop offset=".833" stop-color="#375796"/><stop offset=".86" stop-color="#34538f"/><stop offset=".88" stop-color="#32508a"/><stop offset=".9" stop-color="#304c83"/><stop offset=".917" stop-color="#2f4a80"/><stop offset="1" stop-color="#2c4679"/></linearGradient><linearGradient id="hc44" x2="0" y2="1"><stop offset="0" stop-color="#a6c8e4"/><stop offset=".033" stop-color="#a3c6e3"/><stop offset=".117" stop-color="#91b9dc"/><stop offset=".207" stop-color="#7eabd3"/><stop offset=".3" stop-color="#6f9ecc"/><stop offset=".4" stop-color="#6090c5"/><stop offset=".5" stop-color="#5483bc"/><stop offset=".583" stop-color="#4a78b4"/><stop offset=".667" stop-color="#426dab"/><stop offset=".75" stop-color="#3c61a1"/><stop offset=".833" stop-color="#365796"/><stop offset=".86" stop-color="#34528e"/><stop offset=".88" stop-color="#324f88"/><stop offset=".9" stop-color="#304c83"/><stop offset=".917" stop-color="#2e4a7f"/><stop offset="1" stop-color="#2c4678"/></linearGradient><linearGradient id="hc45" x2="0" y2="1"><stop offset="0" stop-color="#9ec3e2"/><stop offset=".033" stop-color="#9cc1e0"/><stop offset=".117" stop-color="#8bb5d9"/><stop offset=".207" stop-color="#7aa7d1"/><stop offset=".3" stop-color="#6b9aca"/><stop offset=".4" stop-color="#5c8dc3"/><stop offset=".5" stop-color="#5180ba"/><stop offset=".583" stop-color="#4875b1"/><stop offset=".667" stop-color="#416aa9"/><stop offset=".75" stop-color="#3b60a0"/><stop offset=".833" stop-color="#365593"/><stop offset=".86" stop-color="#33518b"/><stop offset=".88" stop-color="#314d85"/><stop offset=".9" stop-color="#304c82"/><stop offset=".917" stop-color="#2e497d"/><stop offset="1" stop-color="#2c4678"/></linearGradient><linearGradient id="hc46" x2="0" y2="1"><stop offset="0" stop-color="#a5c8e4"/><stop offset=".033" stop-color="#a2c6e3"/><stop offset=".117" stop-color="#92badc"/><stop offset=".207" stop-color="#80acd4"/><stop offset=".3" stop-color="#719fcd"/><stop offset=".4" stop-color="#6191c5"/><stop offset=".5" stop-color="#5484bc"/><stop offset=".583" stop-color="#4a78b4"/><stop offset=".667" stop-color="#426dab"/><stop offset=".75" stop-color="#3d62a2"/><stop offset=".833" stop-color="#375796"/><stop offset=".86" stop-color="#33528d"/><stop offset=".88" stop-color="#314e86"/><stop offset=".9" stop-color="#304c83"/><stop offset=".917" stop-color="#2e497e"/><stop offset="1" stop-color="#2c4678"/></linearGradient><linearGradient id="hc47" x2="0" y2="1"><stop offset="0" stop-color="#b4d1e8"/><stop offset=".033" stop-color="#b1d0e7"/><stop offset=".117" stop-color="#a0c4e2"/><stop offset=".207" stop-color="#8eb7da"/><stop offset=".3" stop-color="#7ca9d3"/><stop offset=".4" stop-color="#6b9aca"/><stop offset=".5" stop-color="#5a8bc2"/><stop offset=".583" stop-color="#507fb9"/><stop offset=".667" stop-color="#4672b0"/><stop offset=".75" stop-color="#3f66a6"/><stop offset=".833" stop-color="#395b9b"/><stop offset=".86" stop-color="#355592"/><stop offset=".88" stop-color="#32508a"/><stop offset=".9" stop-color="#304d84"/><stop offset=".917" stop-color="#2e4a7e"/><stop offset="1" stop-color="#2c4678"/></linearGradient><linearGradient id="hc48" x2="0" y2="1"><stop offset="0" stop-color="#c2daeb"/><stop offset=".033" stop-color="#bfd8ea"/><stop offset=".117" stop-color="#adcde6"/><stop offset=".207" stop-color="#9ac0e0"/><stop offset=".3" stop-color="#88b2d8"/><stop offset=".4" stop-color="#74a2cf"/><stop offset=".5" stop-color="#6292c6"/><stop offset=".583" stop-color="#5585bd"/><stop offset=".667" stop-color="#4a78b4"/><stop offset=".75" stop-color="#416aa9"/><stop offset=".833" stop-color="#3b5e9f"/><stop offset=".86" stop-color="#375796"/><stop offset=".88" stop-color="#34528d"/><stop offset=".9" stop-color="#314d85"/><stop offset=".917" stop-color="#2f4a7f"/><stop offset="1" stop-color="#2c4678"/></linearGradient><linearGradient id="hc49" x2="0" y2="1"><stop offset="0" stop-color="#c7ddec"/><stop offset=".033" stop-color="#c3dbec"/><stop offset=".117" stop-color="#b2d0e7"/><stop offset=".207" stop-color="#9fc4e2"/><stop offset=".3" stop-color="#8cb6da"/><stop offset=".4" stop-color="#79a6d1"/><stop offset=".5" stop-color="#6796c8"/><stop offset=".583" stop-color="#5788c0"/><stop offset=".667" stop-color="#4c7ab5"/><stop offset=".75" stop-color="#426caa"/><stop offset=".833" stop-color="#3b5fa0"/><stop offset=".86" stop-color="#375797"/><stop offset=".88" stop-color="#34528e"/><stop offset=".9" stop-color="#314e86"/><stop offset=".917" stop-color="#2f4a7f"/><stop offset="1" stop-color="#2c4678"/></linearGradient><linearGradient id="hc50" x2="0" y2="1"><stop offset="0" stop-color="#cee2ee"/><stop offset=".033" stop-color="#cadfed"/><stop offset=".117" stop-color="#bad5e9"/><stop offset=".207" stop-color="#a7c9e4"/><stop offset=".3" stop-color="#94bbdd"/><stop offset=".4" stop-color="#80acd4"/><stop offset=".5" stop-color="#6d9ccb"/><stop offset=".583" stop-color="#5b8cc3"/><stop offset=".667" stop-color="#4f7eb8"/><stop offset=".75" stop-color="#436fad"/><stop offset=".833" stop-color="#3c61a1"/><stop offset=".86" stop-color="#385999"/><stop offset=".88" stop-color="#34538f"/><stop offset=".9" stop-color="#314e86"/><stop offset=".917" stop-color="#2f4a7f"/><stop offset="1" stop-color="#2c4678"/></linearGradient><linearGradient id="hc51" x2="0" y2="1"><stop offset="0" stop-color="#cde1ed"/><stop offset=".033" stop-color="#c9deed"/><stop offset=".117" stop-color="#b9d4e9"/><stop offset=".207" stop-color="#a7c9e4"/><stop offset=".3" stop-color="#94bcdd"/><stop offset=".4" stop-color="#81acd5"/><stop offset=".5" stop-color="#6e9dcc"/><stop offset=".583" stop-color="#5c8dc3"/><stop offset=".667" stop-color="#4f7eb8"/><stop offset=".75" stop-color="#436ead"/><stop offset=".833" stop-color="#3c61a1"/><stop offset=".86" stop-color="#375898"/><stop offset=".88" stop-color="#34528e"/><stop offset=".9" stop-color="#314e86"/><stop offset=".917" stop-color="#2e4a7f"/><stop offset="1" stop-color="#2c4678"/></linearGradient><linearGradient id="hc52" x2="0" y2="1"><stop offset="0" stop-color="#c8deed"/><stop offset=".033" stop-color="#c4dbec"/><stop offset=".117" stop-color="#b4d1e8"/><stop offset=".207" stop-color="#a4c7e3"/><stop offset=".3" stop-color="#92badc"/><stop offset=".4" stop-color="#7fabd4"/><stop offset=".5" stop-color="#6d9ccb"/><stop offset=".583" stop-color="#5b8cc2"/><stop offset=".667" stop-color="#4e7db7"/><stop offset=".75" stop-color="#426dab"/><stop offset=".833" stop-color="#3b5fa0"/><stop offset=".86" stop-color="#375796"/><stop offset=".88" stop-color="#33518c"/><stop offset=".9" stop-color="#314d85"/><stop offset=".917" stop-color="#2e497e"/><stop offset="1" stop-color="#2c4678"/></linearGradient><linearGradient id="hc53" x2="0" y2="1"><stop offset="0" stop-color="#d3e5ee"/><stop offset=".033" stop-color="#cee2ee"/><stop offset=".117" stop-color="#c0d9eb"/><stop offset=".207" stop-color="#afcee6"/><stop offset=".3" stop-color="#9cc2e1"/><stop offset=".4" stop-color="#89b3d8"/><stop offset=".5" stop-color="#76a4d0"/><stop offset=".583" stop-color="#6292c6"/><stop offset=".667" stop-color="#5382bb"/><stop offset=".75" stop-color="#4571af"/><stop offset=".833" stop-color="#3d62a2"/><stop offset=".86" stop-color="#385999"/><stop offset=".88" stop-color="#34538f"/><stop offset=".9" stop-color="#314e86"/><stop offset=".917" stop-color="#2e4a7f"/><stop offset="1" stop-color="#2c4678"/></linearGradient><linearGradient id="hc54" x2="0" y2="1"><stop offset="0" stop-color="#e0edf1"/><stop offset=".033" stop-color="#dae9f0"/><stop offset=".117" stop-color="#cce1ed"/><stop offset=".207" stop-color="#bcd7ea"/><stop offset=".3" stop-color="#a9cae5"/><stop offset=".4" stop-color="#94bcdd"/><stop offset=".5" stop-color="#80acd4"/><stop offset=".583" stop-color="#6b9aca"/><stop offset=".667" stop-color="#5788c0"/><stop offset=".75" stop-color="#4976b2"/><stop offset=".833" stop-color="#3e65a5"/><stop offset=".86" stop-color="#395b9c"/><stop offset=".88" stop-color="#355491"/><stop offset=".9" stop-color="#314e87"/><stop offset=".917" stop-color="#2f4a7f"/><stop offset="1" stop-color="#2c4678"/></linearGradient><linearGradient id="hc55" x2="0" y2="1"><stop offset="0" stop-color="#dfecf0"/><stop offset=".033" stop-color="#d9e9ef"/><stop offset=".117" stop-color="#cce0ed"/><stop offset=".207" stop-color="#bcd7ea"/><stop offset=".3" stop-color="#a9cae5"/><stop offset=".4" stop-color="#95bcdd"/><stop offset=".5" stop-color="#81add5"/><stop offset=".583" stop-color="#6c9acb"/><stop offset=".667" stop-color="#5888c0"/><stop offset=".75" stop-color="#4976b2"/><stop offset=".833" stop-color="#3e65a4"/><stop offset=".86" stop-color="#395a9b"/><stop offset=".88" stop-color="#355490"/><stop offset=".9" stop-color="#314e87"/><stop offset=".917" stop-color="#2e4a7f"/><stop offset="1" stop-color="#2c4678"/></linearGradient><linearGradient id="hc56" x2="0" y2="1"><stop offset="0" stop-color="#dbeaf0"/><stop offset=".033" stop-color="#d5e6ef"/><stop offset=".117" stop-color="#c8deed"/><stop offset=".207" stop-color="#b9d4e9"/><stop offset=".3" stop-color="#a6c8e4"/><stop offset=".4" stop-color="#92badc"/><stop offset=".5" stop-color="#7fabd4"/><stop offset=".583" stop-color="#6a99ca"/><stop offset=".667" stop-color="#5787bf"/><stop offset=".75" stop-color="#4774b1"/><stop offset=".833" stop-color="#3d63a2"/><stop offset=".86" stop-color="#385899"/><stop offset=".88" stop-color="#34528e"/><stop offset=".9" stop-color="#314e86"/><stop offset=".917" stop-color="#2e497e"/><stop offset="1" stop-color="#2c4678"/></linearGradient><linearGradient id="hc57" x2="0" y2="1"><stop offset="0" stop-color="#e6f1f2"/><stop offset=".033" stop-color="#e1edf1"/><stop offset=".117" stop-color="#d3e5ee"/><stop offset=".207" stop-color="#c4dbec"/><stop offset=".3" stop-color="#b0cfe7"/><stop offset=".4" stop-color="#9bc1e0"/><stop offset=".5" stop-color="#87b2d7"/><stop offset=".583" stop-color="#71a0cd"/><stop offset=".667" stop-color="#5d8dc3"/><stop offset=".75" stop-color="#4a78b4"/><stop offset=".833" stop-color="#3e64a4"/><stop offset=".86" stop-color="#385a9b"/><stop offset=".88" stop-color="#345390"/><stop offset=".9" stop-color="#314e87"/><stop offset=".917" stop-color="#2e4a7e"/><stop offset="1" stop-color="#2c4678"/></linearGradient><linearGradient id="hc58" x2="0" y2="1"><stop offset="0" stop-color="#e4f0f1"/><stop offset=".033" stop-color="#dfecf0"/><stop offset=".117" stop-color="#d1e4ee"/><stop offset=".207" stop-color="#c2daeb"/><stop offset=".3" stop-color="#afcee6"/><stop offset=".4" stop-color="#9ac0e0"/><stop offset=".5" stop-color="#86b1d7"/><stop offset=".583" stop-color="#719fcd"/><stop offset=".667" stop-color="#5d8dc3"/><stop offset=".75" stop-color="#4a77b3"/><stop offset=".833" stop-color="#3d63a3"/><stop offset=".86" stop-color="#385999"/><stop offset=".88" stop-color="#34528e"/><stop offset=".9" stop-color="#314e86"/><stop offset=".917" stop-color="#2e497e"/><stop offset="1" stop-color="#2c4678"/></linearGradient><linearGradient id="hc59" x2="0" y2="1"><stop offset="0" stop-color="#deecf0"/><stop offset=".033" stop-color="#d9e9ef"/><stop offset=".117" stop-color="#cce0ed"/><stop offset=".207" stop-color="#bdd7ea"/><stop offset=".3" stop-color="#aacbe5"/><stop offset=".4" stop-color="#96bdde"/><stop offset=".5" stop-color="#82aed5"/><stop offset=".583" stop-color="#6e9dcc"/><stop offset=".667" stop-color="#5a8bc2"/><stop offset=".75" stop-color="#4874b1"/><stop offset=".833" stop-color="#3c60a0"/><stop offset=".86" stop-color="#375796"/><stop offset=".88" stop-color="#33508b"/><stop offset=".9" stop-color="#304d85"/><stop offset=".917" stop-color="#2e497d"/><stop offset="1" stop-color="#2c4678"/></linearGradient><linearGradient id="hc60" x2="0" y2="1"><stop offset="0" stop-color="#e6f1f2"/><stop offset=".033" stop-color="#e1eef1"/><stop offset=".117" stop-color="#d3e5ee"/><stop offset=".207" stop-color="#c5dcec"/><stop offset=".3" stop-color="#b1cfe7"/><stop offset=".4" stop-color="#9cc2e1"/><stop offset=".5" stop-color="#88b2d8"/><stop offset=".583" stop-color="#74a1ce"/><stop offset=".667" stop-color="#6090c5"/><stop offset=".75" stop-color="#4a77b3"/><stop offset=".833" stop-color="#3c61a1"/><stop offset=".86" stop-color="#375797"/><stop offset=".88" stop-color="#33518c"/><stop offset=".9" stop-color="#314d85"/><stop offset=".917" stop-color="#2e497d"/><stop offset="1" stop-color="#2c4678"/></linearGradient><linearGradient id="hc61" x2="0" y2="1"><stop offset="0" stop-color="#e7f2f2"/><stop offset=".033" stop-color="#e2eef1"/><stop offset=".117" stop-color="#d5e6ef"/><stop offset=".207" stop-color="#c6ddec"/><stop offset=".3" stop-color="#b2d0e7"/><stop offset=".4" stop-color="#9dc3e1"/><stop offset=".5" stop-color="#8ab3d8"/><stop offset=".583" stop-color="#75a3cf"/><stop offset=".667" stop-color="#6191c6"/><stop offset=".75" stop-color="#4a77b3"/><stop offset=".833" stop-color="#3c60a1"/><stop offset=".86" stop-color="#375796"/><stop offset=".88" stop-color="#33508b"/><stop offset=".9" stop-color="#304d85"/><stop offset=".917" stop-color="#2e497d"/><stop offset="1" stop-color="#2c4678"/></linearGradient><linearGradient id="hc62" x2="0" y2="1"><stop offset="0" stop-color="#f0f0da"/><stop offset=".033" stop-color="#edf1e1"/><stop offset=".117" stop-color="#e5f0f2"/><stop offset=".207" stop-color="#d5e6ef"/><stop offset=".3" stop-color="#c3daeb"/><stop offset=".4" stop-color="#adcde6"/><stop offset=".5" stop-color="#97bedf"/><stop offset=".583" stop-color="#80acd4"/><stop offset=".667" stop-color="#6a99ca"/><stop offset=".75" stop-color="#4e7db7"/><stop offset=".833" stop-color="#3d63a3"/><stop offset=".86" stop-color="#38599a"/><stop offset=".88" stop-color="#34528e"/><stop offset=".9" stop-color="#314e86"/><stop offset=".917" stop-color="#2e497e"/><stop offset="1" stop-color="#2c4678"/></linearGradient><linearGradient id="hc63" x2="0" y2="1"><stop offset="0" stop-color="#fae8ab"/><stop offset=".033" stop-color="#f9e9b1"/><stop offset=".117" stop-color="#f7eec3"/><stop offset=".207" stop-color="#eff0dc"/><stop offset=".3" stop-color="#e4eff1"/><stop offset=".4" stop-color="#cee1ed"/><stop offset=".5" stop-color="#b6d3e8"/><stop offset=".583" stop-color="#9ac0e0"/><stop offset=".667" stop-color="#7fabd4"/><stop offset=".75" stop-color="#5989c1"/><stop offset=".833" stop-color="#416ba9"/><stop offset=".86" stop-color="#3b5f9f"/><stop offset=".88" stop-color="#375796"/><stop offset=".9" stop-color="#325089"/><stop offset=".917" stop-color="#2f4b80"/><stop offset="1" stop-color="#2c4779"/></linearGradient><linearGradient id="hc64" x2="0" y2="1"><stop offset="0" stop-color="#fbdb93"/><stop offset=".033" stop-color="#fbe099"/><stop offset=".117" stop-color="#f9e8ac"/><stop offset=".207" stop-color="#f7eec1"/><stop offset=".3" stop-color="#eef0de"/><stop offset=".4" stop-color="#e0edf1"/><stop offset=".5" stop-color="#c9deed"/><stop offset=".583" stop-color="#aacbe5"/><stop offset=".667" stop-color="#8bb5d9"/><stop offset=".75" stop-color="#6090c5"/><stop offset=".833" stop-color="#436eac"/><stop offset=".86" stop-color="#3d62a2"/><stop offset=".88" stop-color="#38599a"/><stop offset=".9" stop-color="#33508b"/><stop offset=".917" stop-color="#2f4b81"/><stop offset="1" stop-color="#2d477a"/></linearGradient><linearGradient id="hc65" x2="0" y2="1"><stop offset="0" stop-color="#fbde96"/><stop offset=".033" stop-color="#fbe39c"/><stop offset=".117" stop-color="#f9e9b0"/><stop offset=".207" stop-color="#f6eec6"/><stop offset=".3" stop-color="#edf1e3"/><stop offset=".4" stop-color="#ddebf0"/><stop offset=".5" stop-color="#c7ddec"/><stop offset=".583" stop-color="#a7c9e4"/><stop offset=".667" stop-color="#88b2d8"/><stop offset=".75" stop-color="#5c8dc3"/><stop offset=".833" stop-color="#426baa"/><stop offset=".86" stop-color="#3c60a0"/><stop offset=".88" stop-color="#375797"/><stop offset=".9" stop-color="#325089"/><stop offset=".917" stop-color="#2f4b80"/><stop offset="1" stop-color="#2c4779"/></linearGradient><linearGradient id="hc66" x2="0" y2="1"><stop offset="0" stop-color="#fbdc94"/><stop offset=".033" stop-color="#fbe19a"/><stop offset=".117" stop-color="#f9e9ae"/><stop offset=".207" stop-color="#f6eec4"/><stop offset=".3" stop-color="#edf1e1"/><stop offset=".4" stop-color="#dfecf0"/><stop offset=".5" stop-color="#c9deed"/><stop offset=".583" stop-color="#a7c9e4"/><stop offset=".667" stop-color="#87b1d7"/><stop offset=".75" stop-color="#5b8cc3"/><stop offset=".833" stop-color="#416aa9"/><stop offset=".86" stop-color="#3b5f9f"/><stop offset=".88" stop-color="#365796"/><stop offset=".9" stop-color="#324f89"/><stop offset=".917" stop-color="#2f4a80"/><stop offset="1" stop-color="#2c4679"/></linearGradient><linearGradient id="hc67" x2="0" y2="1"><stop offset="0" stop-color="#fad389"/><stop offset=".033" stop-color="#fbd88f"/><stop offset=".117" stop-color="#fbe5a2"/><stop offset=".207" stop-color="#f8ebb7"/><stop offset=".3" stop-color="#f2efd2"/><stop offset=".4" stop-color="#e8f2f1"/><stop offset=".5" stop-color="#d1e4ee"/><stop offset=".583" stop-color="#aecee6"/><stop offset=".667" stop-color="#8bb5d9"/><stop offset=".75" stop-color="#5e8fc4"/><stop offset=".833" stop-color="#426baa"/><stop offset=".86" stop-color="#3b60a0"/><stop offset=".88" stop-color="#375797"/><stop offset=".9" stop-color="#325089"/><stop offset=".917" stop-color="#2f4b80"/><stop offset="1" stop-color="#2c4779"/></linearGradient><linearGradient id="hc68" x2="0" y2="1"><stop offset="0" stop-color="#fbdb93"/><stop offset=".033" stop-color="#fbe099"/><stop offset=".117" stop-color="#fae8ab"/><stop offset=".207" stop-color="#f7edbe"/><stop offset=".3" stop-color="#eff0db"/><stop offset=".4" stop-color="#e2eef1"/><stop offset=".5" stop-color="#cadfed"/><stop offset=".583" stop-color="#a6c9e4"/><stop offset=".667" stop-color="#83aed6"/><stop offset=".75" stop-color="#5989c1"/><stop offset=".833" stop-color="#4068a7"/><stop offset=".86" stop-color="#3a5d9d"/><stop offset=".88" stop-color="#365593"/><stop offset=".9" stop-color="#324f88"/><stop offset=".917" stop-color="#2f4a7f"/><stop offset="1" stop-color="#2c4678"/></linearGradient><linearGradient id="hc69" x2="0" y2="1"><stop offset="0" stop-color="#fae7aa"/><stop offset=".033" stop-color="#f9e9af"/><stop offset=".117" stop-color="#f7edbf"/><stop offset=".207" stop-color="#f1f0d5"/><stop offset=".3" stop-color="#e8f2f1"/><stop offset=".4" stop-color="#d2e4ee"/><stop offset=".5" stop-color="#bbd5e9"/><stop offset=".583" stop-color="#97bede"/><stop offset=".667" stop-color="#76a3cf"/><stop offset=".75" stop-color="#5281ba"/><stop offset=".833" stop-color="#3d62a2"/><stop offset=".86" stop-color="#375899"/><stop offset=".88" stop-color="#33528d"/><stop offset=".9" stop-color="#314e86"/><stop offset=".917" stop-color="#2e497d"/><stop offset="1" stop-color="#2c4678"/></linearGradient><linearGradient id="hc70" x2="0" y2="1"><stop offset="0" stop-color="#fae7a9"/><stop offset=".033" stop-color="#f9e9ae"/><stop offset=".117" stop-color="#f7edbe"/><stop offset=".207" stop-color="#f1efd4"/><stop offset=".3" stop-color="#e8f2f2"/><stop offset=".4" stop-color="#d1e3ee"/><stop offset=".5" stop-color="#b8d4e9"/><stop offset=".583" stop-color="#93bbdd"/><stop offset=".667" stop-color="#719fcd"/><stop offset=".75" stop-color="#4f7eb8"/><stop offset=".833" stop-color="#3c61a1"/><stop offset=".86" stop-color="#375797"/><stop offset=".88" stop-color="#33518b"/><stop offset=".9" stop-color="#314d85"/><stop offset=".917" stop-color="#2e497d"/><stop offset="1" stop-color="#2c4678"/></linearGradient><linearGradient id="hc71" x2="0" y2="1"><stop offset="0" stop-color="#fbda92"/><stop offset=".033" stop-color="#fbdf97"/><stop offset=".117" stop-color="#fae7a8"/><stop offset=".207" stop-color="#f8ecba"/><stop offset=".3" stop-color="#f0f0d9"/><stop offset=".4" stop-color="#e0edf1"/><stop offset=".5" stop-color="#c7ddec"/><stop offset=".583" stop-color="#9ec3e1"/><stop offset=".667" stop-color="#77a4d0"/><stop offset=".75" stop-color="#5382bc"/><stop offset=".833" stop-color="#3e64a4"/><stop offset=".86" stop-color="#385a9a"/><stop offset=".88" stop-color="#34538f"/><stop offset=".9" stop-color="#314e86"/><stop offset=".917" stop-color="#2e497e"/><stop offset="1" stop-color="#2c4678"/></linearGradient><linearGradient id="hc72" x2="0" y2="1"><stop offset="0" stop-color="#fbe5a1"/><stop offset=".033" stop-color="#fae6a6"/><stop offset=".117" stop-color="#f8ebb6"/><stop offset=".207" stop-color="#f4efca"/><stop offset=".3" stop-color="#eaf1eb"/><stop offset=".4" stop-color="#d3e5ee"/><stop offset=".5" stop-color="#b8d4e9"/><stop offset=".583" stop-color="#90b8db"/><stop offset=".667" stop-color="#6b9aca"/><stop offset=".75" stop-color="#4d7bb6"/><stop offset=".833" stop-color="#3c60a0"/><stop offset=".86" stop-color="#365695"/><stop offset=".88" stop-color="#32508a"/><stop offset=".9" stop-color="#304d84"/><stop offset=".917" stop-color="#2e497d"/><stop offset="1" stop-color="#2c4678"/></linearGradient><linearGradient id="hc73" x2="0" y2="1"><stop offset="0" stop-color="#f9e8ac"/><stop offset=".033" stop-color="#f9e9b1"/><stop offset=".117" stop-color="#f7eec2"/><stop offset=".207" stop-color="#eff0da"/><stop offset=".3" stop-color="#e2eef1"/><stop offset=".4" stop-color="#c9dfed"/><stop offset=".5" stop-color="#afcee6"/><stop offset=".583" stop-color="#88b2d8"/><stop offset=".667" stop-color="#6393c7"/><stop offset=".75" stop-color="#4977b3"/><stop offset=".833" stop-color="#3a5e9e"/><stop offset=".86" stop-color="#355592"/><stop offset=".88" stop-color="#314f88"/><stop offset=".9" stop-color="#304c83"/><stop offset=".917" stop-color="#2d487c"/><stop offset="1" stop-color="#2c4678"/></linearGradient><linearGradient id="hc74" x2="0" y2="1"><stop offset="0" stop-color="#fbdc94"/><stop offset=".033" stop-color="#fbe099"/><stop offset=".117" stop-color="#f9e8ad"/><stop offset=".207" stop-color="#f7eec3"/><stop offset=".3" stop-color="#ecf1e4"/><stop offset=".4" stop-color="#d9e8ef"/><stop offset=".5" stop-color="#bfd8ea"/><stop offset=".583" stop-color="#94bbdd"/><stop offset=".667" stop-color="#6c9bcb"/><stop offset=".75" stop-color="#4f7db8"/><stop offset=".833" stop-color="#3d63a2"/><stop offset=".86" stop-color="#385899"/><stop offset=".88" stop-color="#33528d"/><stop offset=".9" stop-color="#314e86"/><stop offset=".917" stop-color="#2e497d"/><stop offset="1" stop-color="#2c4678"/></linearGradient><linearGradient id="hc75" x2="0" y2="1"><stop offset="0" stop-color="#fad288"/><stop offset=".033" stop-color="#fbd78e"/><stop offset=".117" stop-color="#fae6a4"/><stop offset=".207" stop-color="#f8ecbc"/><stop offset=".3" stop-color="#eff0db"/><stop offset=".4" stop-color="#dfedf1"/><stop offset=".5" stop-color="#c6ddec"/><stop offset=".583" stop-color="#9ac0e0"/><stop offset=".667" stop-color="#709ecd"/><stop offset=".75" stop-color="#5180ba"/><stop offset=".833" stop-color="#3e65a5"/><stop offset=".86" stop-color="#395a9b"/><stop offset=".88" stop-color="#355390"/><stop offset=".9" stop-color="#314e87"/><stop offset=".917" stop-color="#2e4a7e"/><stop offset="1" stop-color="#2c4678"/></linearGradient><linearGradient id="hc76" x2="0" y2="1"><stop offset="0" stop-color="#fad288"/><stop offset=".033" stop-color="#fbd78e"/><stop offset=".117" stop-color="#fae6a6"/><stop offset=".207" stop-color="#f7eec0"/><stop offset=".3" stop-color="#eef0df"/><stop offset=".4" stop-color="#ddebf0"/><stop offset=".5" stop-color="#c4dcec"/><stop offset=".583" stop-color="#98bedf"/><stop offset=".667" stop-color="#6e9dcc"/><stop offset=".75" stop-color="#5180ba"/><stop offset=".833" stop-color="#3f66a5"/><stop offset=".86" stop-color="#395b9c"/><stop offset=".88" stop-color="#355491"/><stop offset=".9" stop-color="#314e87"/><stop offset=".917" stop-color="#2e4a7e"/><stop offset="1" stop-color="#2c4678"/></linearGradient><linearGradient id="hc77" x2="0" y2="1"><stop offset="0" stop-color="#facd82"/><stop offset=".033" stop-color="#fad288"/><stop offset=".117" stop-color="#fbe5a1"/><stop offset=".207" stop-color="#f8ecbc"/><stop offset=".3" stop-color="#f0f0da"/><stop offset=".4" stop-color="#e1eef1"/><stop offset=".5" stop-color="#c9deed"/><stop offset=".583" stop-color="#9bc1e0"/><stop offset=".667" stop-color="#709ecd"/><stop offset=".75" stop-color="#5282bb"/><stop offset=".833" stop-color="#4068a7"/><stop offset=".86" stop-color="#3a5d9d"/><stop offset=".88" stop-color="#355593"/><stop offset=".9" stop-color="#324f88"/><stop offset=".917" stop-color="#2f4a7f"/><stop offset="1" stop-color="#2c4678"/></linearGradient><linearGradient id="hc78" x2="0" y2="1"><stop offset="0" stop-color="#fad48b"/><stop offset=".033" stop-color="#fbd990"/><stop offset=".117" stop-color="#fae7aa"/><stop offset=".207" stop-color="#f6eec6"/><stop offset=".3" stop-color="#ecf1e4"/><stop offset=".4" stop-color="#dbeaf0"/><stop offset=".5" stop-color="#c3dbec"/><stop offset=".583" stop-color="#96bdde"/><stop offset=".667" stop-color="#6c9bcb"/><stop offset=".75" stop-color="#507fb9"/><stop offset=".833" stop-color="#3f67a6"/><stop offset=".86" stop-color="#395c9c"/><stop offset=".88" stop-color="#355592"/><stop offset=".9" stop-color="#314f87"/><stop offset=".917" stop-color="#2e4a7f"/><stop offset="1" stop-color="#2c4678"/></linearGradient><linearGradient id="hc79" x2="0" y2="1"><stop offset="0" stop-color="#fbda92"/><stop offset=".033" stop-color="#fbdf98"/><stop offset=".117" stop-color="#f9e9b1"/><stop offset=".207" stop-color="#f3efcf"/><stop offset=".3" stop-color="#eaf2ec"/><stop offset=".4" stop-color="#d6e7ef"/><stop offset=".5" stop-color="#bfd8ea"/><stop offset=".583" stop-color="#92badc"/><stop offset=".667" stop-color="#6897c9"/><stop offset=".75" stop-color="#4f7db8"/><stop offset=".833" stop-color="#3f66a5"/><stop offset=".86" stop-color="#395b9c"/><stop offset=".88" stop-color="#355492"/><stop offset=".9" stop-color="#314f87"/><stop offset=".917" stop-color="#2e4a7f"/><stop offset="1" stop-color="#2c4678"/></linearGradient><linearGradient id="hc80" x2="0" y2="1"><stop offset="0" stop-color="#fbe099"/><stop offset=".033" stop-color="#fbe49f"/><stop offset=".117" stop-color="#f8ebb8"/><stop offset=".207" stop-color="#f0f0d8"/><stop offset=".3" stop-color="#e6f1f2"/><stop offset=".4" stop-color="#d1e3ee"/><stop offset=".5" stop-color="#bad5e9"/><stop offset=".583" stop-color="#8db6da"/><stop offset=".667" stop-color="#6494c7"/><stop offset=".75" stop-color="#4d7bb7"/><stop offset=".833" stop-color="#3f66a5"/><stop offset=".86" stop-color="#395b9c"/><stop offset=".88" stop-color="#355491"/><stop offset=".9" stop-color="#314e87"/><stop offset=".917" stop-color="#2e4a7f"/><stop offset="1" stop-color="#2c4678"/></linearGradient><linearGradient id="hc81" x2="0" y2="1"><stop offset="0" stop-color="#fae6a7"/><stop offset=".033" stop-color="#f9e8ac"/><stop offset=".117" stop-color="#f5eec7"/><stop offset=".207" stop-color="#eaf1eb"/><stop offset=".3" stop-color="#dae9f0"/><stop offset=".4" stop-color="#c6ddec"/><stop offset=".5" stop-color="#b1cfe7"/><stop offset=".583" stop-color="#85b0d6"/><stop offset=".667" stop-color="#5d8ec3"/><stop offset=".75" stop-color="#4a78b4"/><stop offset=".833" stop-color="#3e64a3"/><stop offset=".86" stop-color="#38599a"/><stop offset=".88" stop-color="#34538f"/><stop offset=".9" stop-color="#314e86"/><stop offset=".917" stop-color="#2e4a7e"/><stop offset="1" stop-color="#2c4678"/></linearGradient><linearGradient id="hc82" x2="0" y2="1"><stop offset="0" stop-color="#fae6a6"/><stop offset=".033" stop-color="#fae8ab"/><stop offset=".117" stop-color="#f5efc9"/><stop offset=".207" stop-color="#e8f2f2"/><stop offset=".3" stop-color="#d7e7ef"/><stop offset=".4" stop-color="#c5dcec"/><stop offset=".5" stop-color="#b2d0e7"/><stop offset=".583" stop-color="#85b0d6"/><stop offset=".667" stop-color="#5c8cc3"/><stop offset=".75" stop-color="#4b78b4"/><stop offset=".833" stop-color="#3f65a5"/><stop offset=".86" stop-color="#395b9c"/><stop offset=".88" stop-color="#355492"/><stop offset=".9" stop-color="#314f87"/><stop offset=".917" stop-color="#2f4a7f"/><stop offset="1" stop-color="#2c4678"/></linearGradient><linearGradient id="hc83" x2="0" y2="1"><stop offset="0" stop-color="#fae7a7"/><stop offset=".033" stop-color="#f9e8ac"/><stop offset=".117" stop-color="#f3efcf"/><stop offset=".207" stop-color="#e0edf1"/><stop offset=".3" stop-color="#d2e4ee"/><stop offset=".4" stop-color="#c2daeb"/><stop offset=".5" stop-color="#b2d0e7"/><stop offset=".583" stop-color="#84afd6"/><stop offset=".667" stop-color="#5a8ac2"/><stop offset=".75" stop-color="#4a78b4"/><stop offset=".833" stop-color="#3f67a6"/><stop offset=".86" stop-color="#3a5d9d"/><stop offset=".88" stop-color="#365694"/><stop offset=".9" stop-color="#324f88"/><stop offset=".917" stop-color="#2f4b80"/><stop offset="1" stop-color="#2c4779"/></linearGradient><linearGradient id="hc84" x2="0" y2="1"><stop offset="0" stop-color="#f5eec7"/><stop offset=".033" stop-color="#f4efcc"/><stop offset=".117" stop-color="#e4eff1"/><stop offset=".207" stop-color="#c1d9eb"/><stop offset=".3" stop-color="#b5d2e8"/><stop offset=".4" stop-color="#a9cae5"/><stop offset=".5" stop-color="#9cc2e1"/><stop offset=".583" stop-color="#72a0ce"/><stop offset=".667" stop-color="#507eb9"/><stop offset=".75" stop-color="#436fad"/><stop offset=".833" stop-color="#3d62a2"/><stop offset=".86" stop-color="#385999"/><stop offset=".88" stop-color="#34538f"/><stop offset=".9" stop-color="#314e86"/><stop offset=".917" stop-color="#2e4a7f"/><stop offset="1" stop-color="#2c4678"/></linearGradient><linearGradient id="hc85" x2="0" y2="1"><stop offset="0" stop-color="#f0f0d9"/><stop offset=".033" stop-color="#eff0dd"/><stop offset=".117" stop-color="#d7e7ef"/><stop offset=".207" stop-color="#b2d0e7"/><stop offset=".3" stop-color="#a8cae4"/><stop offset=".4" stop-color="#9ec3e1"/><stop offset=".5" stop-color="#94bbdd"/><stop offset=".583" stop-color="#6b9aca"/><stop offset=".667" stop-color="#4c79b5"/><stop offset=".75" stop-color="#426cab"/><stop offset=".833" stop-color="#3c60a0"/><stop offset=".86" stop-color="#375898"/><stop offset=".88" stop-color="#34528e"/><stop offset=".9" stop-color="#314e86"/><stop offset=".917" stop-color="#2e4a7f"/><stop offset="1" stop-color="#2c4678"/></linearGradient><linearGradient id="hc86" x2="0" y2="1"><stop offset="0" stop-color="#ecf1e5"/><stop offset=".033" stop-color="#ebf1e9"/><stop offset=".117" stop-color="#cfe2ee"/><stop offset=".207" stop-color="#abcce5"/><stop offset=".3" stop-color="#a1c5e3"/><stop offset=".4" stop-color="#97bede"/><stop offset=".5" stop-color="#8db6da"/><stop offset=".583" stop-color="#6696c8"/><stop offset=".667" stop-color="#4a77b3"/><stop offset=".75" stop-color="#416ba9"/><stop offset=".833" stop-color="#3b5f9f"/><stop offset=".86" stop-color="#375796"/><stop offset=".88" stop-color="#33528d"/><stop offset=".9" stop-color="#314d85"/><stop offset=".917" stop-color="#2e4a7f"/><stop offset="1" stop-color="#2c4678"/></linearGradient><linearGradient id="hc87" x2="0" y2="1"><stop offset="0" stop-color="#dfecf0"/><stop offset=".033" stop-color="#dcebf0"/><stop offset=".117" stop-color="#bfd8ea"/><stop offset=".207" stop-color="#9dc2e1"/><stop offset=".3" stop-color="#93bbdd"/><stop offset=".4" stop-color="#89b3d8"/><stop offset=".5" stop-color="#7fabd4"/><stop offset=".583" stop-color="#5d8dc3"/><stop offset=".667" stop-color="#4572af"/><stop offset=".75" stop-color="#3f67a6"/><stop offset=".833" stop-color="#395c9c"/><stop offset=".86" stop-color="#355593"/><stop offset=".88" stop-color="#32508a"/><stop offset=".9" stop-color="#304d84"/><stop offset=".917" stop-color="#2e4a7e"/><stop offset="1" stop-color="#2c4678"/></linearGradient><linearGradient id="hc88" x2="0" y2="1"><stop offset="0" stop-color="#cee2ee"/><stop offset=".033" stop-color="#cbe0ed"/><stop offset=".117" stop-color="#aecee6"/><stop offset=".207" stop-color="#90b8db"/><stop offset=".3" stop-color="#86b1d7"/><stop offset=".4" stop-color="#7ca9d2"/><stop offset=".5" stop-color="#73a1ce"/><stop offset=".583" stop-color="#5686be"/><stop offset=".667" stop-color="#426dab"/><stop offset=".75" stop-color="#3d63a2"/><stop offset=".833" stop-color="#385999"/><stop offset=".86" stop-color="#34538f"/><stop offset=".88" stop-color="#314f87"/><stop offset=".9" stop-color="#304c83"/><stop offset=".917" stop-color="#2e497e"/><stop offset="1" stop-color="#2c4678"/></linearGradient><linearGradient id="hc89" x2="0" y2="1"><stop offset="0" stop-color="#bad5e9"/><stop offset=".033" stop-color="#b7d3e8"/><stop offset=".117" stop-color="#9dc2e1"/><stop offset=".207" stop-color="#81add5"/><stop offset=".3" stop-color="#78a5d1"/><stop offset=".4" stop-color="#6f9dcc"/><stop offset=".5" stop-color="#6595c8"/><stop offset=".583" stop-color="#4f7eb8"/><stop offset=".667" stop-color="#4068a7"/><stop offset=".75" stop-color="#3b5e9f"/><stop offset=".833" stop-color="#365694"/><stop offset=".86" stop-color="#33518b"/><stop offset=".88" stop-color="#304d84"/><stop offset=".9" stop-color="#2f4b82"/><stop offset=".917" stop-color="#2e497d"/><stop offset="1" stop-color="#2c4678"/></linearGradient><linearGradient id="hc90" x2="0" y2="1"><stop offset="0" stop-color="#b3d1e7"/><stop offset=".033" stop-color="#b1cfe7"/><stop offset=".117" stop-color="#97bede"/><stop offset=".207" stop-color="#7ca9d2"/><stop offset=".3" stop-color="#73a1ce"/><stop offset=".4" stop-color="#6a99ca"/><stop offset=".5" stop-color="#6191c5"/><stop offset=".583" stop-color="#4d7bb6"/><stop offset=".667" stop-color="#3f67a6"/><stop offset=".75" stop-color="#3b5e9e"/><stop offset=".833" stop-color="#365694"/><stop offset=".86" stop-color="#33518b"/><stop offset=".88" stop-color="#314d85"/><stop offset=".9" stop-color="#2f4b82"/><stop offset=".917" stop-color="#2e497e"/><stop offset="1" stop-color="#2c4678"/></linearGradient><linearGradient id="hc91" x2="0" y2="1"><stop offset="0" stop-color="#b2d0e7"/><stop offset=".033" stop-color="#afcee6"/><stop offset=".117" stop-color="#94bcdd"/><stop offset=".207" stop-color="#79a6d1"/><stop offset=".3" stop-color="#719fcd"/><stop offset=".4" stop-color="#6897c9"/><stop offset=".5" stop-color="#5f8fc4"/><stop offset=".583" stop-color="#4c7ab6"/><stop offset=".667" stop-color="#3f67a6"/><stop offset=".75" stop-color="#3b5f9f"/><stop offset=".833" stop-color="#375796"/><stop offset=".86" stop-color="#34528e"/><stop offset=".88" stop-color="#314f87"/><stop offset=".9" stop-color="#304c83"/><stop offset=".917" stop-color="#2e4a7f"/><stop offset="1" stop-color="#2c4678"/></linearGradient><linearGradient id="hc92" x2="0" y2="1"><stop offset="0" stop-color="#adcde6"/><stop offset=".033" stop-color="#aacbe5"/><stop offset=".117" stop-color="#90b8db"/><stop offset=".207" stop-color="#75a2cf"/><stop offset=".3" stop-color="#6d9bcb"/><stop offset=".4" stop-color="#6494c7"/><stop offset=".5" stop-color="#5b8cc3"/><stop offset=".583" stop-color="#4b78b4"/><stop offset=".667" stop-color="#3f66a6"/><stop offset=".75" stop-color="#3b5f9f"/><stop offset=".833" stop-color="#375797"/><stop offset=".86" stop-color="#34538f"/><stop offset=".88" stop-color="#325089"/><stop offset=".9" stop-color="#304c83"/><stop offset=".917" stop-color="#2f4a80"/><stop offset="1" stop-color="#2c4679"/></linearGradient><linearGradient id="hc93" x2="0" y2="1"><stop offset="0" stop-color="#9dc2e1"/><stop offset=".033" stop-color="#9ac0e0"/><stop offset=".117" stop-color="#81add5"/><stop offset=".207" stop-color="#6897c9"/><stop offset=".3" stop-color="#6191c5"/><stop offset=".4" stop-color="#598ac1"/><stop offset=".5" stop-color="#5484bd"/><stop offset=".583" stop-color="#4572af"/><stop offset=".667" stop-color="#3d62a2"/><stop offset=".75" stop-color="#395c9c"/><stop offset=".833" stop-color="#365694"/><stop offset=".86" stop-color="#34528d"/><stop offset=".88" stop-color="#324f88"/><stop offset=".9" stop-color="#304c83"/><stop offset=".917" stop-color="#2f4a80"/><stop offset="1" stop-color="#2c4679"/></linearGradient><linearGradient id="hc94" x2="0" y2="1"><stop offset="0" stop-color="#84afd6"/><stop offset=".033" stop-color="#81add5"/><stop offset=".117" stop-color="#6c9bcb"/><stop offset=".207" stop-color="#5888c0"/><stop offset=".3" stop-color="#5383bc"/><stop offset=".4" stop-color="#4e7db7"/><stop offset=".5" stop-color="#4a77b3"/><stop offset=".583" stop-color="#4069a8"/><stop offset=".667" stop-color="#395b9c"/><stop offset=".75" stop-color="#365796"/><stop offset=".833" stop-color="#34528e"/><stop offset=".86" stop-color="#324f88"/><stop offset=".88" stop-color="#304c83"/><stop offset=".9" stop-color="#2f4b81"/><stop offset=".917" stop-color="#2e497e"/><stop offset="1" stop-color="#2c4678"/></linearGradient><linearGradient id="hc95" x2="0" y2="1"><stop offset="0" stop-color="#76a4d0"/><stop offset=".033" stop-color="#73a1ce"/><stop offset=".117" stop-color="#6292c6"/><stop offset=".207" stop-color="#5483bc"/><stop offset=".3" stop-color="#4f7db8"/><stop offset=".4" stop-color="#4a77b3"/><stop offset=".5" stop-color="#4470ae"/><stop offset=".583" stop-color="#3e65a4"/><stop offset=".667" stop-color="#38599a"/><stop offset=".75" stop-color="#355592"/><stop offset=".833" stop-color="#33508b"/><stop offset=".86" stop-color="#314e86"/><stop offset=".88" stop-color="#304c82"/><stop offset=".9" stop-color="#2f4b80"/><stop offset=".917" stop-color="#2e4a7e"/><stop offset="1" stop-color="#2c4678"/></linearGradient><linearGradient id="hc96" x2="0" y2="1"><stop offset="0" stop-color="#74a2ce"/><stop offset=".033" stop-color="#719fcd"/><stop offset=".117" stop-color="#6393c6"/><stop offset=".207" stop-color="#5686be"/><stop offset=".3" stop-color="#507fb9"/><stop offset=".4" stop-color="#4a78b4"/><stop offset=".5" stop-color="#4470ae"/><stop offset=".583" stop-color="#3e65a5"/><stop offset=".667" stop-color="#395a9b"/><stop offset=".75" stop-color="#365694"/><stop offset=".833" stop-color="#33528d"/><stop offset=".86" stop-color="#324f89"/><stop offset=".88" stop-color="#314e86"/><stop offset=".9" stop-color="#2f4b82"/><stop offset=".917" stop-color="#2f4a80"/><stop offset="1" stop-color="#2c4679"/></linearGradient><linearGradient id="hc97" x2="0" y2="1"><stop offset="0" stop-color="#6191c6"/><stop offset=".033" stop-color="#5f8fc4"/><stop offset=".117" stop-color="#5686bf"/><stop offset=".207" stop-color="#4f7db8"/><stop offset=".3" stop-color="#4976b3"/><stop offset=".4" stop-color="#436fad"/><stop offset=".5" stop-color="#4068a7"/><stop offset=".583" stop-color="#3b5f9f"/><stop offset=".667" stop-color="#365695"/><stop offset=".75" stop-color="#34528e"/><stop offset=".833" stop-color="#314f87"/><stop offset=".86" stop-color="#314d85"/><stop offset=".88" stop-color="#304c83"/><stop offset=".9" stop-color="#2f4b81"/><stop offset=".917" stop-color="#2f4a7f"/><stop offset="1" stop-color="#2c4678"/></linearGradient><linearGradient id="hc98" x2="0" y2="1"><stop offset="0" stop-color="#5483bc"/><stop offset=".033" stop-color="#5282bb"/><stop offset=".117" stop-color="#4c7ab5"/><stop offset=".207" stop-color="#4571af"/><stop offset=".3" stop-color="#426caa"/><stop offset=".4" stop-color="#3f66a5"/><stop offset=".5" stop-color="#3c60a0"/><stop offset=".583" stop-color="#385899"/><stop offset=".667" stop-color="#33528d"/><stop offset=".75" stop-color="#314f87"/><stop offset=".833" stop-color="#2f4b81"/><stop offset=".86" stop-color="#2f4a7f"/><stop offset=".88" stop-color="#2e497e"/><stop offset=".9" stop-color="#2e4a7f"/><stop offset=".917" stop-color="#2e497e"/><stop offset="1" stop-color="#2c4678"/></linearGradient><linearGradient id="hc99" x2="0" y2="1"><stop offset="0" stop-color="#517fb9"/><stop offset=".033" stop-color="#4f7eb8"/><stop offset=".117" stop-color="#4976b3"/><stop offset=".207" stop-color="#436ead"/><stop offset=".3" stop-color="#4069a8"/><stop offset=".4" stop-color="#3e64a3"/><stop offset=".5" stop-color="#3b5e9f"/><stop offset=".583" stop-color="#375797"/><stop offset=".667" stop-color="#33518c"/><stop offset=".75" stop-color="#314e87"/><stop offset=".833" stop-color="#2f4b81"/><stop offset=".86" stop-color="#2f4a7f"/><stop offset=".88" stop-color="#2e497e"/><stop offset=".9" stop-color="#2e4a7f"/><stop offset=".917" stop-color="#2e497e"/><stop offset="1" stop-color="#2c4678"/></linearGradient><linearGradient id="hc100" x2="0" y2="1"><stop offset="0" stop-color="#4d7cb7"/><stop offset=".033" stop-color="#4d7bb6"/><stop offset=".117" stop-color="#4673b0"/><stop offset=".207" stop-color="#426caa"/><stop offset=".3" stop-color="#3f67a6"/><stop offset=".4" stop-color="#3c62a1"/><stop offset=".5" stop-color="#3a5c9d"/><stop offset=".583" stop-color="#365695"/><stop offset=".667" stop-color="#33518b"/><stop offset=".75" stop-color="#314e86"/><stop offset=".833" stop-color="#2f4b81"/><stop offset=".86" stop-color="#2f4a7f"/><stop offset=".88" stop-color="#2e497e"/><stop offset=".9" stop-color="#2e4a7f"/><stop offset=".917" stop-color="#2e497e"/><stop offset="1" stop-color="#2c4678"/></linearGradient><linearGradient id="hc101" x2="0" y2="1"><stop offset="0" stop-color="#4976b2"/><stop offset=".033" stop-color="#4875b2"/><stop offset=".117" stop-color="#436eac"/><stop offset=".207" stop-color="#4067a7"/><stop offset=".3" stop-color="#3d63a3"/><stop offset=".4" stop-color="#3b5e9e"/><stop offset=".5" stop-color="#38599a"/><stop offset=".583" stop-color="#355491"/><stop offset=".667" stop-color="#324f88"/><stop offset=".75" stop-color="#304d84"/><stop offset=".833" stop-color="#2f4b80"/><stop offset=".86" stop-color="#2e4a7e"/><stop offset=".88" stop-color="#2e497d"/><stop offset=".9" stop-color="#2e4a7e"/><stop offset=".917" stop-color="#2e497e"/><stop offset="1" stop-color="#2c4678"/></linearGradient><linearGradient id="hc102" x2="0" y2="1"><stop offset="0" stop-color="#4470ae"/><stop offset=".033" stop-color="#4470ae"/><stop offset=".117" stop-color="#416aa9"/><stop offset=".207" stop-color="#3d63a3"/><stop offset=".3" stop-color="#3b5f9f"/><stop offset=".4" stop-color="#395a9b"/><stop offset=".5" stop-color="#365695"/><stop offset=".583" stop-color="#34528e"/><stop offset=".667" stop-color="#314e86"/><stop offset=".75" stop-color="#304c82"/><stop offset=".833" stop-color="#2e4a7f"/><stop offset=".86" stop-color="#2e497d"/><stop offset=".88" stop-color="#2d487c"/><stop offset=".9" stop-color="#2e497e"/><stop offset=".917" stop-color="#2e497d"/><stop offset="1" stop-color="#2c4678"/></linearGradient><linearGradient id="hc103" x2="0" y2="1"><stop offset="0" stop-color="#436ead"/><stop offset=".033" stop-color="#436eac"/><stop offset=".117" stop-color="#4068a7"/><stop offset=".207" stop-color="#3d62a2"/><stop offset=".3" stop-color="#3a5e9e"/><stop offset=".4" stop-color="#38599a"/><stop offset=".5" stop-color="#365694"/><stop offset=".583" stop-color="#33528d"/><stop offset=".667" stop-color="#314e86"/><stop offset=".75" stop-color="#304c83"/><stop offset=".833" stop-color="#2f4b80"/><stop offset=".86" stop-color="#2e4a7f"/><stop offset=".88" stop-color="#2e497d"/><stop offset=".9" stop-color="#2e4a7e"/><stop offset=".917" stop-color="#2e497e"/><stop offset="1" stop-color="#2c4678"/></linearGradient><linearGradient id="hc104" x2="0" y2="1"><stop offset="0" stop-color="#426cab"/><stop offset=".033" stop-color="#426cab"/><stop offset=".117" stop-color="#3f67a6"/><stop offset=".207" stop-color="#3c60a0"/><stop offset=".3" stop-color="#3a5c9d"/><stop offset=".4" stop-color="#385899"/><stop offset=".5" stop-color="#355593"/><stop offset=".583" stop-color="#33518c"/><stop offset=".667" stop-color="#314e86"/><stop offset=".75" stop-color="#304c83"/><stop offset=".833" stop-color="#2f4b81"/><stop offset=".86" stop-color="#2f4a7f"/><stop offset=".88" stop-color="#2e4a7e"/><stop offset=".9" stop-color="#2e4a7f"/><stop offset=".917" stop-color="#2e497e"/><stop offset="1" stop-color="#2c4678"/></linearGradient><linearGradient id="hc105" x2="0" y2="1"><stop offset="0" stop-color="#426baa"/><stop offset=".033" stop-color="#426baa"/><stop offset=".117" stop-color="#3f66a5"/><stop offset=".207" stop-color="#3c60a0"/><stop offset=".3" stop-color="#3a5c9d"/><stop offset=".4" stop-color="#375899"/><stop offset=".5" stop-color="#355592"/><stop offset=".583" stop-color="#33528d"/><stop offset=".667" stop-color="#314e87"/><stop offset=".75" stop-color="#304d85"/><stop offset=".833" stop-color="#304c82"/><stop offset=".86" stop-color="#2f4b81"/><stop offset=".88" stop-color="#2f4a80"/><stop offset=".9" stop-color="#2f4a7f"/><stop offset=".917" stop-color="#2e4a7f"/><stop offset="1" stop-color="#2c4678"/></linearGradient><linearGradient id="hc106" x2="0" y2="1"><stop offset="0" stop-color="#416baa"/><stop offset=".033" stop-color="#416baa"/><stop offset=".117" stop-color="#3f66a5"/><stop offset=".207" stop-color="#3c60a0"/><stop offset=".3" stop-color="#3a5c9d"/><stop offset=".4" stop-color="#385899"/><stop offset=".5" stop-color="#365593"/><stop offset=".583" stop-color="#34528e"/><stop offset=".667" stop-color="#324f88"/><stop offset=".75" stop-color="#314e86"/><stop offset=".833" stop-color="#304d84"/><stop offset=".86" stop-color="#304c83"/><stop offset=".88" stop-color="#2f4b82"/><stop offset=".9" stop-color="#2f4a80"/><stop offset=".917" stop-color="#2f4a7f"/><stop offset="1" stop-color="#2c4679"/></linearGradient><linearGradient id="hc107" x2="0" y2="1"><stop offset="0" stop-color="#3f66a5"/><stop offset=".033" stop-color="#3f66a5"/><stop offset=".117" stop-color="#3c61a1"/><stop offset=".207" stop-color="#3a5c9d"/><stop offset=".3" stop-color="#38599a"/><stop offset=".4" stop-color="#365694"/><stop offset=".5" stop-color="#34538f"/><stop offset=".583" stop-color="#32508a"/><stop offset=".667" stop-color="#314e86"/><stop offset=".75" stop-color="#304d84"/><stop offset=".833" stop-color="#304c82"/><stop offset=".86" stop-color="#2f4b81"/><stop offset=".88" stop-color="#2f4a80"/><stop offset=".9" stop-color="#2f4a7f"/><stop offset=".917" stop-color="#2e4a7f"/><stop offset="1" stop-color="#2c4678"/></linearGradient><linearGradient id="hc108" x2="0" y2="1"><stop offset="0" stop-color="#3b5f9f"/><stop offset=".033" stop-color="#3b5f9f"/><stop offset=".117" stop-color="#395b9c"/><stop offset=".207" stop-color="#375796"/><stop offset=".3" stop-color="#355492"/><stop offset=".4" stop-color="#33528d"/><stop offset=".5" stop-color="#324f88"/><stop offset=".583" stop-color="#304d84"/><stop offset=".667" stop-color="#2f4b80"/><stop offset=".75" stop-color="#2f4a7f"/><stop offset=".833" stop-color="#2e497e"/><stop offset=".86" stop-color="#2e497d"/><stop offset=".88" stop-color="#2d487c"/><stop offset=".9" stop-color="#2e497e"/><stop offset=".917" stop-color="#2e497d"/><stop offset="1" stop-color="#2c4678"/></linearGradient><linearGradient id="hc109" x2="0" y2="1"><stop offset="0" stop-color="#395b9c"/><stop offset=".033" stop-color="#395b9c"/><stop offset=".117" stop-color="#375898"/><stop offset=".207" stop-color="#355592"/><stop offset=".3" stop-color="#34528e"/><stop offset=".4" stop-color="#325089"/><stop offset=".5" stop-color="#304d85"/><stop offset=".583" stop-color="#2f4b81"/><stop offset=".667" stop-color="#2e4a7e"/><stop offset=".75" stop-color="#2e497d"/><stop offset=".833" stop-color="#2e497c"/><stop offset=".86" stop-color="#2d487b"/><stop offset=".88" stop-color="#2d477b"/><stop offset=".9" stop-color="#2e497d"/><stop offset=".917" stop-color="#2e497d"/><stop offset="1" stop-color="#2c4678"/></linearGradient><linearGradient id="hc110" x2="0" y2="1"><stop offset="0" stop-color="#3a5c9d"/><stop offset=".033" stop-color="#3a5c9d"/><stop offset=".117" stop-color="#385999"/><stop offset=".207" stop-color="#365594"/><stop offset=".3" stop-color="#34538f"/><stop offset=".4" stop-color="#33518b"/><stop offset=".5" stop-color="#314e86"/><stop offset=".583" stop-color="#304d84"/><stop offset=".667" stop-color="#2f4b81"/><stop offset=".75" stop-color="#2f4b80"/><stop offset=".833" stop-color="#2f4a80"/><stop offset=".86" stop-color="#2e4a7f"/><stop offset=".88" stop-color="#2e497e"/><stop offset=".9" stop-color="#2e4a7f"/><stop offset=".917" stop-color="#2e497e"/><stop offset="1" stop-color="#2c4678"/></linearGradient><linearGradient id="hc111" x2="0" y2="1"><stop offset="0" stop-color="#3b5e9e"/><stop offset=".033" stop-color="#3b5e9e"/><stop offset=".117" stop-color="#395b9b"/><stop offset=".207" stop-color="#375797"/><stop offset=".3" stop-color="#365593"/><stop offset=".4" stop-color="#34538f"/><stop offset=".5" stop-color="#33508a"/><stop offset=".583" stop-color="#324f88"/><stop offset=".667" stop-color="#314d85"/><stop offset=".75" stop-color="#304d85"/><stop offset=".833" stop-color="#304d84"/><stop offset=".86" stop-color="#304c83"/><stop offset=".88" stop-color="#304c82"/><stop offset=".9" stop-color="#2f4a80"/><stop offset=".917" stop-color="#2f4a80"/><stop offset="1" stop-color="#2c4679"/></linearGradient><linearGradient id="hc112" x2="0" y2="1"><stop offset="0" stop-color="#395c9c"/><stop offset=".033" stop-color="#395c9c"/><stop offset=".117" stop-color="#38599a"/><stop offset=".207" stop-color="#365695"/><stop offset=".3" stop-color="#355491"/><stop offset=".4" stop-color="#34528d"/><stop offset=".5" stop-color="#32508a"/><stop offset=".583" stop-color="#314e87"/><stop offset=".667" stop-color="#304d85"/><stop offset=".75" stop-color="#304d84"/><stop offset=".833" stop-color="#304c83"/><stop offset=".86" stop-color="#304c82"/><stop offset=".88" stop-color="#2f4b82"/><stop offset=".9" stop-color="#2f4a80"/><stop offset=".917" stop-color="#2f4a80"/><stop offset="1" stop-color="#2c4679"/></linearGradient><linearGradient id="hc113" x2="0" y2="1"><stop offset="0" stop-color="#385899"/><stop offset=".033" stop-color="#385899"/><stop offset=".117" stop-color="#365695"/><stop offset=".207" stop-color="#355491"/><stop offset=".3" stop-color="#34528e"/><stop offset=".4" stop-color="#32508a"/><stop offset=".5" stop-color="#314e87"/><stop offset=".583" stop-color="#314d85"/><stop offset=".667" stop-color="#304c82"/><stop offset=".75" stop-color="#304c82"/><stop offset=".833" stop-color="#2f4b82"/><stop offset=".86" stop-color="#2f4b81"/><stop offset=".88" stop-color="#2f4a80"/><stop offset=".9" stop-color="#2f4a7f"/><stop offset=".917" stop-color="#2e4a7f"/><stop offset="1" stop-color="#2c4678"/></linearGradient><linearGradient id="hc114" x2="0" y2="1"><stop offset="0" stop-color="#375898"/><stop offset=".033" stop-color="#375898"/><stop offset=".117" stop-color="#365695"/><stop offset=".207" stop-color="#355491"/><stop offset=".3" stop-color="#34528e"/><stop offset=".4" stop-color="#33518b"/><stop offset=".5" stop-color="#324f88"/><stop offset=".583" stop-color="#314e86"/><stop offset=".667" stop-color="#304d84"/><stop offset=".75" stop-color="#304c83"/><stop offset=".833" stop-color="#304c83"/><stop offset=".86" stop-color="#304c82"/><stop offset=".88" stop-color="#2f4b81"/><stop offset=".9" stop-color="#2f4a80"/><stop offset=".917" stop-color="#2f4a80"/><stop offset="1" stop-color="#2c4679"/></linearGradient><linearGradient id="hc115" x2="0" y2="1"><stop offset="0" stop-color="#365694"/><stop offset=".033" stop-color="#365694"/><stop offset=".117" stop-color="#355491"/><stop offset=".207" stop-color="#34528e"/><stop offset=".3" stop-color="#33518b"/><stop offset=".4" stop-color="#325089"/><stop offset=".5" stop-color="#314e87"/><stop offset=".583" stop-color="#304d85"/><stop offset=".667" stop-color="#304c83"/><stop offset=".75" stop-color="#304c82"/><stop offset=".833" stop-color="#304c82"/><stop offset=".86" stop-color="#2f4b81"/><stop offset=".88" stop-color="#2f4b80"/><stop offset=".9" stop-color="#2f4a7f"/><stop offset=".917" stop-color="#2f4a7f"/><stop offset="1" stop-color="#2c4678"/></linearGradient><linearGradient id="hc116" x2="0" y2="1"><stop offset="0" stop-color="#34538f"/><stop offset=".033" stop-color="#34538f"/><stop offset=".117" stop-color="#33518c"/><stop offset=".207" stop-color="#325089"/><stop offset=".3" stop-color="#324f88"/><stop offset=".4" stop-color="#314e86"/><stop offset=".5" stop-color="#304d84"/><stop offset=".583" stop-color="#304c82"/><stop offset=".667" stop-color="#2f4b81"/><stop offset=".75" stop-color="#2f4b80"/><stop offset=".833" stop-color="#2f4a80"/><stop offset=".86" stop-color="#2f4a7f"/><stop offset=".88" stop-color="#2e4a7f"/><stop offset=".9" stop-color="#2e4a7f"/><stop offset=".917" stop-color="#2e4a7f"/><stop offset="1" stop-color="#2c4678"/></linearGradient><linearGradient id="hc117" x2="0" y2="1"><stop offset="0" stop-color="#34528d"/><stop offset=".033" stop-color="#34528d"/><stop offset=".117" stop-color="#33518b"/><stop offset=".207" stop-color="#324f88"/><stop offset=".3" stop-color="#314e87"/><stop offset=".4" stop-color="#314e86"/><stop offset=".5" stop-color="#304d85"/><stop offset=".583" stop-color="#304c83"/><stop offset=".667" stop-color="#2f4b81"/><stop offset=".75" stop-color="#2f4b81"/><stop offset=".833" stop-color="#2f4b81"/><stop offset=".86" stop-color="#2f4a80"/><stop offset=".88" stop-color="#2f4a7f"/><stop offset=".9" stop-color="#2e4a7f"/><stop offset=".917" stop-color="#2e4a7f"/><stop offset="1" stop-color="#2c4678"/></linearGradient><linearGradient id="hc118" x2="0" y2="1"><stop offset="0" stop-color="#325089"/><stop offset=".033" stop-color="#325089"/><stop offset=".117" stop-color="#314f87"/><stop offset=".207" stop-color="#314d85"/><stop offset=".3" stop-color="#304d85"/><stop offset=".4" stop-color="#304d84"/><stop offset=".5" stop-color="#304c83"/><stop offset=".583" stop-color="#2f4b81"/><stop offset=".667" stop-color="#2f4a80"/><stop offset=".75" stop-color="#2f4a80"/><stop offset=".833" stop-color="#2f4a80"/><stop offset=".86" stop-color="#2e4a7f"/><stop offset=".88" stop-color="#2e4a7e"/><stop offset=".9" stop-color="#2e4a7f"/><stop offset=".917" stop-color="#2e4a7e"/><stop offset="1" stop-color="#2c4678"/></linearGradient><linearGradient id="hc119" x2="0" y2="1"><stop offset="0" stop-color="#304d85"/><stop offset=".033" stop-color="#304d85"/><stop offset=".117" stop-color="#304c83"/><stop offset=".207" stop-color="#2f4b81"/><stop offset=".3" stop-color="#2f4b81"/><stop offset=".4" stop-color="#2f4b81"/><stop offset=".5" stop-color="#2f4b80"/><stop offset=".583" stop-color="#2e4a7f"/><stop offset=".667" stop-color="#2e497e"/><stop offset=".75" stop-color="#2e497d"/><stop offset=".833" stop-color="#2e497d"/><stop offset=".86" stop-color="#2e497d"/><stop offset=".88" stop-color="#2e487c"/><stop offset=".9" stop-color="#2e497e"/><stop offset=".917" stop-color="#2e497e"/><stop offset="1" stop-color="#2c4678"/></linearGradient><linearGradient id="hc120" x2="0" y2="1"><stop offset="0" stop-color="#304c84"/><stop offset=".033" stop-color="#304c84"/><stop offset=".117" stop-color="#304c82"/><stop offset=".207" stop-color="#2f4b81"/><stop offset=".3" stop-color="#2f4b81"/><stop offset=".4" stop-color="#2f4b81"/><stop offset=".5" stop-color="#2f4b81"/><stop offset=".583" stop-color="#2f4a80"/><stop offset=".667" stop-color="#2e4a7e"/><stop offset=".75" stop-color="#2e4a7e"/><stop offset=".833" stop-color="#2e4a7e"/><stop offset=".86" stop-color="#2e497e"/><stop offset=".88" stop-color="#2e497d"/><stop offset=".9" stop-color="#2e497e"/><stop offset=".917" stop-color="#2e497e"/><stop offset="1" stop-color="#2c4678"/></linearGradient><linearGradient id="hc121" x2="0" y2="1"><stop offset="0" stop-color="#314e86"/><stop offset=".033" stop-color="#314e86"/><stop offset=".117" stop-color="#304d85"/><stop offset=".207" stop-color="#304c83"/><stop offset=".3" stop-color="#304c83"/><stop offset=".4" stop-color="#304c83"/><stop offset=".5" stop-color="#304c83"/><stop offset=".583" stop-color="#304c82"/><stop offset=".667" stop-color="#2f4b81"/><stop offset=".75" stop-color="#2f4b81"/><stop offset=".833" stop-color="#2f4b81"/><stop offset=".86" stop-color="#2f4b80"/><stop offset=".88" stop-color="#2f4a80"/><stop offset=".9" stop-color="#2f4a7f"/><stop offset=".917" stop-color="#2f4a7f"/><stop offset="1" stop-color="#2c4678"/></linearGradient><linearGradient id="hc122" x2="0" y2="1"><stop offset="0" stop-color="#314e86"/><stop offset=".033" stop-color="#314e86"/><stop offset=".117" stop-color="#314d85"/><stop offset=".207" stop-color="#304d84"/><stop offset=".3" stop-color="#304d84"/><stop offset=".4" stop-color="#304d84"/><stop offset=".5" stop-color="#304d84"/><stop offset=".583" stop-color="#304c83"/><stop offset=".667" stop-color="#304c82"/><stop offset=".75" stop-color="#304c82"/><stop offset=".833" stop-color="#304c82"/><stop offset=".86" stop-color="#2f4b81"/><stop offset=".88" stop-color="#2f4b81"/><stop offset=".9" stop-color="#2f4a80"/><stop offset=".917" stop-color="#2f4a7f"/><stop offset="1" stop-color="#2c4678"/></linearGradient><linearGradient id="hc123" x2="0" y2="1"><stop offset="0" stop-color="#304c83"/><stop offset=".033" stop-color="#304c83"/><stop offset=".117" stop-color="#304c82"/><stop offset=".207" stop-color="#2f4b81"/><stop offset=".3" stop-color="#2f4b81"/><stop offset=".4" stop-color="#2f4b81"/><stop offset=".5" stop-color="#2f4b81"/><stop offset=".583" stop-color="#2f4b80"/><stop offset=".667" stop-color="#2f4a7f"/><stop offset=".75" stop-color="#2f4a7f"/><stop offset=".833" stop-color="#2f4a7f"/><stop offset=".86" stop-color="#2e4a7f"/><stop offset=".88" stop-color="#2e497e"/><stop offset=".9" stop-color="#2e4a7f"/><stop offset=".917" stop-color="#2e4a7e"/><stop offset="1" stop-color="#2c4678"/></linearGradient><linearGradient id="hc124" x2="0" y2="1"><stop offset="0" stop-color="#304c83"/><stop offset=".033" stop-color="#304c83"/><stop offset=".117" stop-color="#304c82"/><stop offset=".207" stop-color="#2f4b81"/><stop offset=".3" stop-color="#2f4b81"/><stop offset=".4" stop-color="#2f4b81"/><stop offset=".5" stop-color="#2f4b81"/><stop offset=".583" stop-color="#2f4b80"/><stop offset=".667" stop-color="#2f4a80"/><stop offset=".75" stop-color="#2f4a80"/><stop offset=".833" stop-color="#2f4a80"/><stop offset=".86" stop-color="#2e4a7f"/><stop offset=".88" stop-color="#2e4a7e"/><stop offset=".9" stop-color="#2e4a7f"/><stop offset=".917" stop-color="#2e4a7f"/><stop offset="1" stop-color="#2c4678"/></linearGradient><linearGradient id="hc125" x2="0" y2="1"><stop offset="0" stop-color="#304c83"/><stop offset=".033" stop-color="#304c83"/><stop offset=".117" stop-color="#304c82"/><stop offset=".207" stop-color="#2f4b81"/><stop offset=".3" stop-color="#2f4b81"/><stop offset=".4" stop-color="#2f4b81"/><stop offset=".5" stop-color="#2f4b81"/><stop offset=".583" stop-color="#2f4b81"/><stop offset=".667" stop-color="#2f4b80"/><stop offset=".75" stop-color="#2f4b80"/><stop offset=".833" stop-color="#2f4b80"/><stop offset=".86" stop-color="#2f4a80"/><stop offset=".88" stop-color="#2e4a7f"/><stop offset=".9" stop-color="#2e4a7f"/><stop offset=".917" stop-color="#2e4a7f"/><stop offset="1" stop-color="#2c4678"/></linearGradient><linearGradient id="hc126" x2="0" y2="1"><stop offset="0" stop-color="#2f4b81"/><stop offset=".033" stop-color="#2f4b81"/><stop offset=".117" stop-color="#2f4b80"/><stop offset=".207" stop-color="#2f4a80"/><stop offset=".3" stop-color="#2f4a80"/><stop offset=".4" stop-color="#2f4a80"/><stop offset=".5" stop-color="#2f4a80"/><stop offset=".583" stop-color="#2f4a7f"/><stop offset=".667" stop-color="#2e4a7f"/><stop offset=".75" stop-color="#2e4a7f"/><stop offset=".833" stop-color="#2e4a7f"/><stop offset=".86" stop-color="#2e497e"/><stop offset=".88" stop-color="#2e497e"/><stop offset=".9" stop-color="#2e4a7e"/><stop offset=".917" stop-color="#2e4a7e"/><stop offset="1" stop-color="#2c4678"/></linearGradient><linearGradient id="hc127" x2="0" y2="1"><stop offset="0" stop-color="#2f4a80"/><stop offset=".033" stop-color="#2f4a80"/><stop offset=".117" stop-color="#2f4a80"/><stop offset=".207" stop-color="#2f4a7f"/><stop offset=".3" stop-color="#2f4a7f"/><stop offset=".4" stop-color="#2f4a7f"/><stop offset=".5" stop-color="#2f4a7f"/><stop offset=".583" stop-color="#2e4a7f"/><stop offset=".667" stop-color="#2e4a7f"/><stop offset=".75" stop-color="#2e4a7f"/><stop offset=".833" stop-color="#2e4a7f"/><stop offset=".86" stop-color="#2e497e"/><stop offset=".88" stop-color="#2e497d"/><stop offset=".9" stop-color="#2e4a7e"/><stop offset=".917" stop-color="#2e497e"/><stop offset="1" stop-color="#2c4678"/></linearGradient><linearGradient id="hc128" x2="0" y2="1"><stop offset="0" stop-color="#304c83"/><stop offset=".033" stop-color="#304c83"/><stop offset=".117" stop-color="#304c83"/><stop offset=".207" stop-color="#304c83"/><stop offset=".3" stop-color="#304c83"/><stop offset=".4" stop-color="#304c83"/><stop offset=".5" stop-color="#304c83"/><stop offset=".583" stop-color="#304c83"/><stop offset=".667" stop-color="#304c83"/><stop offset=".75" stop-color="#304c83"/><stop offset=".833" stop-color="#304c83"/><stop offset=".86" stop-color="#2f4c82"/><stop offset=".88" stop-color="#2f4b81"/><stop offset=".9" stop-color="#2f4a80"/><stop offset=".917" stop-color="#2f4a80"/><stop offset="1" stop-color="#2c4679"/></linearGradient><linearGradient id="hc129" x2="0" y2="1"><stop offset="0" stop-color="#314d85"/><stop offset=".033" stop-color="#314d85"/><stop offset=".117" stop-color="#314d85"/><stop offset=".207" stop-color="#314d85"/><stop offset=".3" stop-color="#314d85"/><stop offset=".4" stop-color="#314d85"/><stop offset=".5" stop-color="#314d85"/><stop offset=".583" stop-color="#314d85"/><stop offset=".667" stop-color="#314d85"/><stop offset=".75" stop-color="#314d85"/><stop offset=".833" stop-color="#314d85"/><stop offset=".86" stop-color="#304d84"/><stop offset=".88" stop-color="#304c84"/><stop offset=".9" stop-color="#2f4b81"/><stop offset=".917" stop-color="#2f4b81"/><stop offset="1" stop-color="#2c4779"/></linearGradient><linearGradient id="cbc" x1="0" y1="0" x2="0" y2="1"><stop offset="0.0000" stop-color="#9b2222"/><stop offset="0.0625" stop-color="#c02a2a"/><stop offset="0.1250" stop-color="#d5342b"/><stop offset="0.1875" stop-color="#e2553a"/><stop offset="0.2500" stop-color="#ee7d4c"/><stop offset="0.3125" stop-color="#f6a35f"/><stop offset="0.3750" stop-color="#fac77a"/><stop offset="0.4375" stop-color="#fbe49e"/><stop offset="0.5000" stop-color="#f7eec2"/><stop offset="0.5625" stop-color="#e8f2f2"/><stop offset="0.6250" stop-color="#c5dcec"/><stop offset="0.6875" stop-color="#9fc4e2"/><stop offset="0.7500" stop-color="#7ba8d2"/><stop offset="0.8125" stop-color="#5a8bc2"/><stop offset="0.8750" stop-color="#4470ae"/><stop offset="0.9375" stop-color="#38599a"/><stop offset="1.0000" stop-color="#2c4678"/></linearGradient><clipPath id="gcf"><rect x="236.1" y="374.0" width="153.4" height="111.0"/></clipPath><clipPath id="gcfd"><rect x="236.1" y="374.0" width="153.4" height="104.39999999999998"/></clipPath><filter id="nzf" x="0" y="0" width="100%" height="100%" filterUnits="objectBoundingBox" color-interpolation-filters="sRGB"><feTurbulence type="fractalNoise" baseFrequency="1.6" numOctaves="1" seed="3" result="t"/><feColorMatrix in="t" type="matrix" values="0 0 0 0 0.12  0 0 0 0 0.38  0 0 0 0 0.82  0 0 0 -6 3.1"/></filter><radialGradient id="rgf" gradientUnits="userSpaceOnUse" cx="271.4" cy="481.0" r="135"><stop offset="0" stop-color="#fff" stop-opacity="1"/><stop offset="0.33" stop-color="#fff" stop-opacity="0.85"/><stop offset="0.5" stop-color="#fff" stop-opacity="0.45"/><stop offset="0.8" stop-color="#fff" stop-opacity="0.3"/><stop offset="1" stop-color="#fff" stop-opacity="0.05"/></radialGradient><mask id="mkf"><rect x="236.1" y="374.0" width="153.4" height="106.39999999999998" fill="url(#rgf)" opacity="1.0"/></mask><linearGradient id="rgcf0" gradientUnits="userSpaceOnUse" x1="0" y1="374.0" x2="0" y2="481.0"><stop offset="0" stop-color="#40c86a"/><stop offset="0.55" stop-color="#40c86a"/><stop offset="1" stop-color="#1aa0c0"/></linearGradient><linearGradient id="rgcf1" gradientUnits="userSpaceOnUse" x1="0" y1="374.0" x2="0" y2="481.0"><stop offset="0" stop-color="#1e96d8"/><stop offset="0.55" stop-color="#1e96d8"/><stop offset="1" stop-color="#1e96d8"/></linearGradient><linearGradient id="rgcf2" gradientUnits="userSpaceOnUse" x1="0" y1="374.0" x2="0" y2="481.0"><stop offset="0" stop-color="#40c86a"/><stop offset="0.55" stop-color="#40c86a"/><stop offset="1" stop-color="#40c86a"/></linearGradient><linearGradient id="rgcf3" gradientUnits="userSpaceOnUse" x1="0" y1="374.0" x2="0" y2="481.0"><stop offset="0" stop-color="#1e96d8"/><stop offset="0.55" stop-color="#1e96d8"/><stop offset="1" stop-color="#1e96d8"/></linearGradient><linearGradient id="rgcf4" gradientUnits="userSpaceOnUse" x1="0" y1="374.0" x2="0" y2="481.0"><stop offset="0" stop-color="#40c86a"/><stop offset="0.55" stop-color="#40c86a"/><stop offset="1" stop-color="#1a9ad0"/></linearGradient><linearGradient id="rgcf5" gradientUnits="userSpaceOnUse" x1="0" y1="374.0" x2="0" y2="481.0"><stop offset="0" stop-color="#1e96d8"/><stop offset="0.55" stop-color="#1e96d8"/><stop offset="1" stop-color="#1e96d8"/></linearGradient><linearGradient id="rgcf6" gradientUnits="userSpaceOnUse" x1="0" y1="374.0" x2="0" y2="481.0"><stop offset="0" stop-color="#40c86a"/><stop offset="0.55" stop-color="#40c86a"/><stop offset="1" stop-color="#22b0a0"/></linearGradient><linearGradient id="rgcf7" gradientUnits="userSpaceOnUse" x1="0" y1="374.0" x2="0" y2="481.0"><stop offset="0" stop-color="#1e96d8"/><stop offset="0.55" stop-color="#1e96d8"/><stop offset="1" stop-color="#1e96d8"/></linearGradient><linearGradient id="rgcf8" gradientUnits="userSpaceOnUse" x1="0" y1="374.0" x2="0" y2="481.0"><stop offset="0" stop-color="#58cc64"/><stop offset="0.55" stop-color="#58cc64"/><stop offset="1" stop-color="#58cc64"/></linearGradient><linearGradient id="rgcf9" gradientUnits="userSpaceOnUse" x1="0" y1="374.0" x2="0" y2="481.0"><stop offset="0" stop-color="#1e96d8"/><stop offset="0.55" stop-color="#1e96d8"/><stop offset="1" stop-color="#1e96d8"/></linearGradient><linearGradient id="rgcf10" gradientUnits="userSpaceOnUse" x1="0" y1="374.0" x2="0" y2="481.0"><stop offset="0" stop-color="#48c664"/><stop offset="0.55" stop-color="#48c664"/><stop offset="1" stop-color="#48c664"/></linearGradient><linearGradient id="rgcf11" gradientUnits="userSpaceOnUse" x1="0" y1="374.0" x2="0" y2="481.0"><stop offset="0" stop-color="#1a88d8"/><stop offset="0.55" stop-color="#1a88d8"/><stop offset="1" stop-color="#1a88d8"/></linearGradient><linearGradient id="gcbf" x1="0" y1="0" x2="0" y2="1"><stop offset="0.0000" stop-color="#f6f2f2"/><stop offset="0.0833" stop-color="#ece2e0"/><stop offset="0.2500" stop-color="#c4a89e"/><stop offset="0.4167" stop-color="#8e5c48"/><stop offset="0.5000" stop-color="#a88c52"/><stop offset="0.5833" stop-color="#f0ec78"/><stop offset="0.6667" stop-color="#b4e06c"/><stop offset="0.7500" stop-color="#52c862"/><stop offset="0.8333" stop-color="#22b05a"/><stop offset="0.8667" stop-color="#1ea888"/><stop offset="0.8833" stop-color="#1490e0"/><stop offset="0.9167" stop-color="#1a7ae0"/><stop offset="0.9500" stop-color="#2058c8"/><stop offset="1.0000" stop-color="#2a2a8e"/></linearGradient><clipPath id="gcg"><rect x="486.0" y="374.6" width="154.29999999999995" height="109.0"/></clipPath><clipPath id="gcgd"><rect x="486.0" y="374.6" width="154.29999999999995" height="103.19999999999993"/></clipPath><filter id="nzg" x="0" y="0" width="100%" height="100%" filterUnits="objectBoundingBox" color-interpolation-filters="sRGB"><feTurbulence type="fractalNoise" baseFrequency="1.6" numOctaves="1" seed="8" result="t"/><feColorMatrix in="t" type="matrix" values="0 0 0 0 0.12  0 0 0 0 0.38  0 0 0 0 0.82  0 0 0 -6 3.1"/></filter><radialGradient id="rgg" gradientUnits="userSpaceOnUse" cx="521.6" cy="480.4" r="135"><stop offset="0" stop-color="#fff" stop-opacity="1"/><stop offset="0.33" stop-color="#fff" stop-opacity="0.85"/><stop offset="0.5" stop-color="#fff" stop-opacity="0.45"/><stop offset="0.8" stop-color="#fff" stop-opacity="0.3"/><stop offset="1" stop-color="#fff" stop-opacity="0.05"/></radialGradient><mask id="mkg"><rect x="486.0" y="374.6" width="154.29999999999995" height="105.19999999999993" fill="url(#rgg)" opacity="0.7"/></mask><linearGradient id="rgcg0" gradientUnits="userSpaceOnUse" x1="0" y1="374.6" x2="0" y2="480.4"><stop offset="0" stop-color="#1e96d8"/><stop offset="0.55" stop-color="#1e96d8"/><stop offset="1" stop-color="#1a7ad0"/></linearGradient><linearGradient id="rgcg1" gradientUnits="userSpaceOnUse" x1="0" y1="374.6" x2="0" y2="480.4"><stop offset="0" stop-color="#40c86a"/><stop offset="0.55" stop-color="#40c86a"/><stop offset="1" stop-color="#40c86a"/></linearGradient><linearGradient id="rgcg2" gradientUnits="userSpaceOnUse" x1="0" y1="374.6" x2="0" y2="480.4"><stop offset="0" stop-color="#40c86a"/><stop offset="0.55" stop-color="#40c86a"/><stop offset="1" stop-color="#1a9ad0"/></linearGradient><linearGradient id="rgcg3" gradientUnits="userSpaceOnUse" x1="0" y1="374.6" x2="0" y2="480.4"><stop offset="0" stop-color="#40c86a"/><stop offset="0.55" stop-color="#40c86a"/><stop offset="1" stop-color="#22b0a0"/></linearGradient><linearGradient id="rgcg4" gradientUnits="userSpaceOnUse" x1="0" y1="374.6" x2="0" y2="480.4"><stop offset="0" stop-color="#58cc64"/><stop offset="0.55" stop-color="#58cc64"/><stop offset="1" stop-color="#58cc64"/></linearGradient><linearGradient id="rgcg5" gradientUnits="userSpaceOnUse" x1="0" y1="374.6" x2="0" y2="480.4"><stop offset="0" stop-color="#48c664"/><stop offset="0.55" stop-color="#48c664"/><stop offset="1" stop-color="#48c664"/></linearGradient><linearGradient id="rgcg6" gradientUnits="userSpaceOnUse" x1="0" y1="374.6" x2="0" y2="480.4"><stop offset="0" stop-color="#1a88d8"/><stop offset="0.55" stop-color="#1a88d8"/><stop offset="1" stop-color="#1a88d8"/></linearGradient><linearGradient id="gcbg" x1="0" y1="0" x2="0" y2="1"><stop offset="0.0000" stop-color="#f6f2f2"/><stop offset="0.0833" stop-color="#ece2e0"/><stop offset="0.2500" stop-color="#c4a89e"/><stop offset="0.4167" stop-color="#8e5c48"/><stop offset="0.5000" stop-color="#a88c52"/><stop offset="0.5833" stop-color="#f0ec78"/><stop offset="0.6667" stop-color="#b4e06c"/><stop offset="0.7500" stop-color="#52c862"/><stop offset="0.8333" stop-color="#22b05a"/><stop offset="0.8667" stop-color="#1ea888"/><stop offset="0.8833" stop-color="#1490e0"/><stop offset="0.9167" stop-color="#1a7ae0"/><stop offset="0.9500" stop-color="#2058c8"/><stop offset="1.0000" stop-color="#2a2a8e"/></linearGradient></defs><text x="0.60" y="12.10" font-size="13.5" font-weight="bold" fill="#000" stroke="#000" stroke-width="0.3">a</text><text x="40.30" y="17.60" font-size="9.2" text-anchor="end" textLength="25.4" lengthAdjust="spacingAndGlyphs">3,000</text><line x1="43.40" y1="46.77" x2="46.40" y2="46.77" stroke="#7a7a7a" stroke-width="0.9"/><text x="40.30" y="49.97" font-size="9.2" text-anchor="end" textLength="25.4" lengthAdjust="spacingAndGlyphs">2,000</text><line x1="43.40" y1="79.13" x2="46.40" y2="79.13" stroke="#7a7a7a" stroke-width="0.9"/><text x="40.30" y="82.33" font-size="9.2" text-anchor="end" textLength="25.4" lengthAdjust="spacingAndGlyphs">1,000</text><text x="39.40" y="114.70" font-size="9.2" text-anchor="end" textLength="5.3" lengthAdjust="spacingAndGlyphs">0</text><path d="M43.4,111.4l22.5-.2 12.2-.3 4.1-.3 3.3-.3 2.6-.6 2.1-.7 1.7-.8 1.4-1.2 1.2-1.5 1.1-1.8.9-2.1.8-2.5 2.5-9.9.5-1.2.2-.3.2-.1.3,.1.2,.3.5,1.3 2.4,9.4.7,2.5.9,2 .9,1.8 1.1,1.5 1.1,1.1 1.5,.9 2.1,.9 2.7,.7 3.5,.5 4.6,.3 8,.2 6.9,0 2.9-.3.8-.3.7-.4.5-.5.4-.7.5-2 .4-3.4.2-5.9.4-18.5.4-53.2.4,48.4.3,20 .2,5.8.3,4.6.3,2.8.6,1.7.6,.8.9,.6 1.3,.4 2.2,.2 8.7,.2 25.3,.1" fill="none" stroke="#f7a35c" stroke-width="1.35" stroke-linejoin="round"/><line x1="46.00" y1="23.50" x2="65.60" y2="23.50" stroke="#f7a35c" stroke-width="1.3"/><text x="71.60" y="26.60" font-size="10.2">FAI</text><text x="40.30" y="124.60" font-size="9.2" text-anchor="end" textLength="25.4" lengthAdjust="spacingAndGlyphs">3,000</text><line x1="43.40" y1="153.70" x2="46.40" y2="153.70" stroke="#7a7a7a" stroke-width="0.9"/><text x="40.30" y="156.90" font-size="9.2" text-anchor="end" textLength="25.4" lengthAdjust="spacingAndGlyphs">2,000</text><line x1="43.40" y1="186.00" x2="46.40" y2="186.00" stroke="#7a7a7a" stroke-width="0.9"/><text x="40.30" y="189.20" font-size="9.2" text-anchor="end" textLength="25.4" lengthAdjust="spacingAndGlyphs">1,000</text><text x="39.40" y="221.50" font-size="9.2" text-anchor="end" textLength="5.3" lengthAdjust="spacingAndGlyphs">0</text><path d="M43.4,218.1l19.4-.2 6-.2 4.6-.3 3.5-.4 2.8-.5 2.1-.7 1.7-.9 1.4-1.3 1.2-1.5.9-2 .9-2.6.6-2.8.7-3.8 1.9-13.9.3-1.8.2-.4.2-.1.1,0 .2,.4.4,1.7 1.7,12.5 1.1,5.5.6,2.2.7,1.8.8,1.3.9,.8.6,.3.7,.1.6-.2.6-.3.6-.6.5-.8 1-2.1.8-2.6.8-3.3 2-12.6.4-1.5.2-.3.2-.2.2,.2.2,.4.3,1.6 1.9,12.3.7,3.2.6,2.5.7,2.4.9,1.9 1,1.5 1.1,1.3 1.6,1.1 2,.9 2.6,.6 3.2,.5 5.4,.3 5.5,0 3.3-.2 1.1-.3 1-.3.7-.5.6-.5.5-.7.4-.9.7-2.3.5-3.5.4-4.4.3-5.3.8-25.5.2-3.5.3,3.5.7,24.4.6,9.4.4,3.6.6,2.4.3,1 .6,.6.8,1.5.9,.7 1.3,.6 1.9,.3 2.6,.2 5.7,.2 7.7,.1 1.2-.1.8-.5.8,.5 1,.1 12.5,.1" fill="none" stroke="#f27352" stroke-width="1.35" stroke-linejoin="round"/><line x1="46.00" y1="130.00" x2="65.60" y2="130.00" stroke="#f27352" stroke-width="1.3"/><text x="71.60" y="133.50" font-size="10.2">BuSO:FAI</text><text x="40.30" y="231.40" font-size="9.2" text-anchor="end" textLength="25.4" lengthAdjust="spacingAndGlyphs">3,000</text><line x1="43.40" y1="260.70" x2="46.40" y2="260.70" stroke="#7a7a7a" stroke-width="0.9"/><text x="40.30" y="263.90" font-size="9.2" text-anchor="end" textLength="25.4" lengthAdjust="spacingAndGlyphs">2,000</text><line x1="43.40" y1="293.20" x2="46.40" y2="293.20" stroke="#7a7a7a" stroke-width="0.9"/><text x="40.30" y="296.40" font-size="9.2" text-anchor="end" textLength="25.4" lengthAdjust="spacingAndGlyphs">1,000</text><text x="39.40" y="328.90" font-size="9.2" text-anchor="end" textLength="5.3" lengthAdjust="spacingAndGlyphs">0</text><path d="M43.4,325.5l20.5-.2 6.3-.2 4.7-.3 3.5-.4 2.8-.6 2.1-.8 1.7-1.1.7-.6.7-.8 1.1-1.8.9-2.5.9-3.1.6-3.4.6-4.5 1.8-17.4.3-2 .3-.6.1,.1.2,.6.3,2.1 1.6,15.4.5,4 .6,3.1.6,2.8.7,2.2.8,1.6 1,1.1.6,.4.7,.1.8-.2.7-.4.6-.7.6-.9.5-1.1.6-1.5.7-2.7.6-3.3.7-5 1.4-12.1.4-2 .2-.6.2-.1.2,.1.1,.5.4,2 1.8,14.9.6,3.8.5,3.1.7,2.8.9,2.3.9,1.8 1.1,1.5.7,.7.8,.6 1.9,1 2.4,.7 3.1,.6 5.2,.4 5.8,0 3.5-.2 1.2-.3.9-.4.7-.4.6-.6.5-.7.4-1 .7-2.6.4-3.6.4-4.3.3-5.8.7-27 .3-4.1.2,4.1.7,24.6.5,10.3.4,4 .4,2.6.6,2 .4,.9.4,.6.9,.9 1.3,.6 1.7,.4 2.6,.3 9,.3 21,.1" fill="none" stroke="#d83a3a" stroke-width="1.35" stroke-linejoin="round"/><line x1="46.00" y1="236.10" x2="65.60" y2="236.10" stroke="#d83a3a" stroke-width="1.3"/><text x="71.60" y="238.40" font-size="10.2">BuSO:FAI:PbI<tspan font-size="7" dy="2">2</tspan></text><line x1="43.40" y1="14.40" x2="43.40" y2="335.00" stroke="#8a8a8a" stroke-width="1"/><line x1="186.40" y1="14.40" x2="186.40" y2="335.00" stroke="#8a8a8a" stroke-width="1"/><line x1="43.40" y1="14.40" x2="186.40" y2="14.40" stroke="#8a8a8a" stroke-width="1"/><line x1="43.40" y1="121.40" x2="186.40" y2="121.40" stroke="#5e5e5e" stroke-width="1"/><line x1="43.40" y1="228.20" x2="186.40" y2="228.20" stroke="#5e5e5e" stroke-width="1"/><line x1="43.40" y1="335.00" x2="186.40" y2="335.00" stroke="#8a8a8a" stroke-width="1"/><text x="43.40" y="347.10" font-size="9.2" text-anchor="middle" textLength="18.2" lengthAdjust="spacingAndGlyphs">10.0</text><line x1="67.23" y1="335.00" x2="67.23" y2="331.80" stroke="#7a7a7a" stroke-width="0.9"/><text x="67.23" y="347.10" font-size="9.2" text-anchor="middle" textLength="12.9" lengthAdjust="spacingAndGlyphs">9.5</text><line x1="91.07" y1="335.00" x2="91.07" y2="331.80" stroke="#7a7a7a" stroke-width="0.9"/><text x="91.07" y="347.10" font-size="9.2" text-anchor="middle" textLength="12.9" lengthAdjust="spacingAndGlyphs">9.0</text><line x1="114.90" y1="335.00" x2="114.90" y2="331.80" stroke="#7a7a7a" stroke-width="0.9"/><text x="114.90" y="347.10" font-size="9.2" text-anchor="middle" textLength="12.9" lengthAdjust="spacingAndGlyphs">8.5</text><line x1="138.73" y1="335.00" x2="138.73" y2="331.80" stroke="#7a7a7a" stroke-width="0.9"/><text x="138.73" y="347.10" font-size="9.2" text-anchor="middle" textLength="12.9" lengthAdjust="spacingAndGlyphs">8.0</text><line x1="162.57" y1="335.00" x2="162.57" y2="331.80" stroke="#7a7a7a" stroke-width="0.9"/><text x="162.57" y="347.10" font-size="9.2" text-anchor="middle" textLength="12.9" lengthAdjust="spacingAndGlyphs">7.5</text><text x="186.40" y="347.10" font-size="9.2" text-anchor="middle" textLength="12.9" lengthAdjust="spacingAndGlyphs">7.0</text><circle cx="157.1" cy="36.5" r="6.2" fill="#f0aa7a"/><text x="157.20" y="39.45" font-size="8.3" text-anchor="middle" fill="#fff">1</text><circle cx="101.0" cy="77.4" r="6.2" fill="#f0aa7a"/><text x="101.10" y="80.35" font-size="8.3" text-anchor="middle" fill="#fff">2</text><text x="114.20" y="359.60" font-size="9.2" text-anchor="middle" textLength="32.5" lengthAdjust="spacingAndGlyphs"><tspan font-style="italic">δ</tspan> (ppm)</text><text x="8.20" y="174.50" font-size="8.8" text-anchor="middle" textLength="68" lengthAdjust="spacingAndGlyphs" transform="rotate(-90 8.20 174.50)">Intensity (a.u.)</text><rect x="33.6" y="377.3" width="153" height="109" rx="14" fill="none" stroke="#3a3a3a" stroke-width="0.9" stroke-dasharray="2.6,1.8"/><line x1="54.47" y1="403.28" x2="62.67" y2="412.08" stroke="#4a4a4a" stroke-width="0.75"/><line x1="55.93" y1="401.92" x2="64.13" y2="410.72" stroke="#4a4a4a" stroke-width="0.75"/><line x1="77.22" y1="402.27" x2="67.92" y2="410.87" stroke="#4a4a4a" stroke-width="0.75"/><line x1="78.58" y1="403.73" x2="69.28" y2="412.33" stroke="#4a4a4a" stroke-width="0.75"/><line x1="69.00" y1="415.80" x2="82.60" y2="422.50" stroke="#4a4a4a" stroke-width="0.8"/><line x1="82.60" y1="422.50" x2="82.60" y2="441.50" stroke="#4a4a4a" stroke-width="0.8"/><line x1="82.60" y1="441.50" x2="66.00" y2="451.10" stroke="#4a4a4a" stroke-width="0.8"/><line x1="66.00" y1="451.10" x2="49.30" y2="441.50" stroke="#4a4a4a" stroke-width="0.8"/><line x1="49.30" y1="441.50" x2="49.30" y2="426.60" stroke="#4a4a4a" stroke-width="0.8"/><line x1="52.30" y1="421.40" x2="63.00" y2="416.00" stroke="#4a4a4a" stroke-width="0.8"/><text x="52.90" y="403.20" font-size="7.6" text-anchor="middle" fill="#3a3a3a">O</text><text x="80.30" y="403.60" font-size="7.6" text-anchor="middle" fill="#3a3a3a">O</text><text x="66.00" y="416.90" font-size="7.6" text-anchor="middle" fill="#3a3a3a">S</text><text x="49.30" y="425.80" font-size="7.6" text-anchor="middle" fill="#3a3a3a">O</text><text x="54.90" y="465.50" font-size="10.3" textLength="27.0" lengthAdjust="spacingAndGlyphs">BuSO</text><line x1="138.50" y1="413.60" x2="138.50" y2="423.80" stroke="#4a4a4a" stroke-width="0.8"/><line x1="109.40" y1="430.00" x2="119.30" y2="435.20" stroke="#4a4a4a" stroke-width="0.8"/><line x1="157.60" y1="435.40" x2="167.00" y2="430.00" stroke="#4a4a4a" stroke-width="0.8"/><line x1="122.60" y1="440.60" x2="122.60" y2="451.40" stroke="#4a4a4a" stroke-width="0.8"/><line x1="154.30" y1="440.60" x2="154.30" y2="451.40" stroke="#4a4a4a" stroke-width="0.8"/><line x1="126.65" y1="435.98" x2="135.05" y2="431.18" stroke="#4a4a4a" stroke-width="0.75"/><line x1="125.75" y1="434.42" x2="134.15" y2="429.62" stroke="#4a4a4a" stroke-width="0.75" stroke-dasharray="1.2,0.8"/><line x1="141.95" y1="431.18" x2="150.35" y2="435.98" stroke="#4a4a4a" stroke-width="0.75"/><line x1="142.85" y1="429.62" x2="151.25" y2="434.42" stroke="#4a4a4a" stroke-width="0.75" stroke-dasharray="1.2,0.8"/><text x="138.50" y="412.45" font-size="6.8" text-anchor="middle" font-weight="bold" fill="#1a1a1a" stroke="#1a1a1a" stroke-width="0.2">H</text><text x="138.50" y="430.25" font-size="6.8" text-anchor="middle" font-weight="bold" fill="#1a1a1a" stroke="#1a1a1a" stroke-width="0.2">C</text><text x="122.60" y="439.55" font-size="6.8" text-anchor="middle" font-weight="bold" fill="#1a1a1a" stroke="#1a1a1a" stroke-width="0.2">N</text><text x="154.30" y="439.85" font-size="6.8" text-anchor="middle" font-weight="bold" fill="#1a1a1a" stroke="#1a1a1a" stroke-width="0.2">N</text><text x="106.50" y="430.85" font-size="6.8" text-anchor="middle" font-weight="bold" fill="#1a1a1a" stroke="#1a1a1a" stroke-width="0.2">H</text><text x="169.90" y="430.85" font-size="6.8" text-anchor="middle" font-weight="bold" fill="#1a1a1a" stroke="#1a1a1a" stroke-width="0.2">H</text><text x="122.60" y="457.65" font-size="6.8" text-anchor="middle" font-weight="bold" fill="#1a1a1a" stroke="#1a1a1a" stroke-width="0.2">H</text><text x="154.30" y="457.65" font-size="6.8" text-anchor="middle" font-weight="bold" fill="#1a1a1a" stroke="#1a1a1a" stroke-width="0.2">H</text><circle cx="137.8" cy="436.0" r="2.0" fill="none" stroke="#333" stroke-width="0.6"/><path d="M136.6,436 H139.0 M137.8,434.8 V437.2" stroke="#333" stroke-width="0.5"/><circle cx="138.2" cy="395.0" r="6.0" fill="#f0a77a"/><text x="138.20" y="398.00" font-size="8.2" text-anchor="middle" fill="#fff">1</text><circle cx="153.5" cy="467.9" r="6.0" fill="#f0a77a"/><text x="153.50" y="470.90" font-size="8.2" text-anchor="middle" fill="#fff">2</text><g shape-rendering="crispEdges"><rect x="231" y="13.3" width="1" height="129.0" fill="url(#hb0)"/><rect x="232" y="13.3" width="1" height="129.0" fill="url(#hb1)"/><rect x="233" y="13.3" width="1" height="129.0" fill="url(#hb2)"/><rect x="234" y="13.3" width="1" height="129.0" fill="url(#hb3)"/><rect x="235" y="13.3" width="1" height="129.0" fill="url(#hb4)"/><rect x="236" y="13.3" width="1" height="129.0" fill="url(#hb5)"/><rect x="237" y="13.3" width="1" height="129.0" fill="url(#hb6)"/><rect x="238" y="13.3" width="1" height="129.0" fill="url(#hb7)"/><rect x="239" y="13.3" width="1" height="129.0" fill="url(#hb8)"/><rect x="240" y="13.3" width="1" height="129.0" fill="url(#hb9)"/><rect x="241" y="13.3" width="1" height="129.0" fill="url(#hb10)"/><rect x="242" y="13.3" width="1" height="129.0" fill="url(#hb11)"/><rect x="243" y="13.3" width="1" height="129.0" fill="url(#hb12)"/><rect x="244" y="13.3" width="1" height="129.0" fill="url(#hb13)"/><rect x="245" y="13.3" width="1" height="129.0" fill="url(#hb14)"/><rect x="246" y="13.3" width="1" height="129.0" fill="url(#hb15)"/><rect x="247" y="13.3" width="1" height="129.0" fill="url(#hb16)"/><rect x="248" y="13.3" width="1" height="129.0" fill="url(#hb17)"/><rect x="249" y="13.3" width="1" height="129.0" fill="url(#hb18)"/><rect x="250" y="13.3" width="1" height="129.0" fill="url(#hb19)"/><rect x="251" y="13.3" width="1" height="129.0" fill="url(#hb20)"/><rect x="252" y="13.3" width="1" height="129.0" fill="url(#hb21)"/><rect x="253" y="13.3" width="1" height="129.0" fill="url(#hb22)"/><rect x="254" y="13.3" width="1" height="129.0" fill="url(#hb23)"/><rect x="255" y="13.3" width="1" height="129.0" fill="url(#hb24)"/><rect x="256" y="13.3" width="1" height="129.0" fill="url(#hb25)"/><rect x="257" y="13.3" width="1" height="129.0" fill="url(#hb26)"/><rect x="258" y="13.3" width="1" height="129.0" fill="url(#hb27)"/><rect x="259" y="13.3" width="1" height="129.0" fill="url(#hb28)"/><rect x="260" y="13.3" width="1" height="129.0" fill="url(#hb29)"/><rect x="261" y="13.3" width="1" height="129.0" fill="url(#hb30)"/><rect x="262" y="13.3" width="1" height="129.0" fill="url(#hb31)"/><rect x="263" y="13.3" width="1" height="129.0" fill="url(#hb32)"/><rect x="264" y="13.3" width="1" height="129.0" fill="url(#hb33)"/><rect x="265" y="13.3" width="1" height="129.0" fill="url(#hb34)"/><rect x="266" y="13.3" width="1" height="129.0" fill="url(#hb35)"/><rect x="267" y="13.3" width="1" height="129.0" fill="url(#hb36)"/><rect x="268" y="13.3" width="1" height="129.0" fill="url(#hb37)"/><rect x="269" y="13.3" width="1" height="129.0" fill="url(#hb38)"/><rect x="270" y="13.3" width="1" height="129.0" fill="url(#hb39)"/><rect x="271" y="13.3" width="1" height="129.0" fill="url(#hb40)"/><rect x="272" y="13.3" width="1" height="129.0" fill="url(#hb41)"/><rect x="273" y="13.3" width="1" height="129.0" fill="url(#hb42)"/><rect x="274" y="13.3" width="1" height="129.0" fill="url(#hb43)"/><rect x="275" y="13.3" width="1" height="129.0" fill="url(#hb44)"/><rect x="276" y="13.3" width="1" height="129.0" fill="url(#hb45)"/><rect x="277" y="13.3" width="1" height="129.0" fill="url(#hb46)"/><rect x="278" y="13.3" width="1" height="129.0" fill="url(#hb47)"/><rect x="279" y="13.3" width="1" height="129.0" fill="url(#hb48)"/><rect x="280" y="13.3" width="1" height="129.0" fill="url(#hb49)"/><rect x="281" y="13.3" width="1" height="129.0" fill="url(#hb50)"/><rect x="282" y="13.3" width="1" height="129.0" fill="url(#hb51)"/><rect x="283" y="13.3" width="1" height="129.0" fill="url(#hb52)"/><rect x="284" y="13.3" width="1" height="129.0" fill="url(#hb53)"/><rect x="285" y="13.3" width="1" height="129.0" fill="url(#hb54)"/><rect x="286" y="13.3" width="1" height="129.0" fill="url(#hb55)"/><rect x="287" y="13.3" width="1" height="129.0" fill="url(#hb56)"/><rect x="288" y="13.3" width="1" height="129.0" fill="url(#hb57)"/><rect x="289" y="13.3" width="1" height="129.0" fill="url(#hb58)"/><rect x="290" y="13.3" width="1" height="129.0" fill="url(#hb59)"/><rect x="291" y="13.3" width="1" height="129.0" fill="url(#hb60)"/><rect x="292" y="13.3" width="1" height="129.0" fill="url(#hb61)"/><rect x="293" y="13.3" width="1" height="129.0" fill="url(#hb62)"/><rect x="294" y="13.3" width="1" height="129.0" fill="url(#hb63)"/><rect x="295" y="13.3" width="1" height="129.0" fill="url(#hb64)"/><rect x="296" y="13.3" width="1" height="129.0" fill="url(#hb65)"/><rect x="297" y="13.3" width="1" height="129.0" fill="url(#hb66)"/><rect x="298" y="13.3" width="1" height="129.0" fill="url(#hb67)"/><rect x="299" y="13.3" width="1" height="129.0" fill="url(#hb68)"/><rect x="300" y="13.3" width="1" height="129.0" fill="url(#hb69)"/><rect x="301" y="13.3" width="1" height="129.0" fill="url(#hb70)"/><rect x="302" y="13.3" width="1" height="129.0" fill="url(#hb71)"/><rect x="303" y="13.3" width="1" height="129.0" fill="url(#hb72)"/><rect x="304" y="13.3" width="1" height="129.0" fill="url(#hb73)"/><rect x="305" y="13.3" width="1" height="129.0" fill="url(#hb74)"/><rect x="306" y="13.3" width="1" height="129.0" fill="url(#hb75)"/><rect x="307" y="13.3" width="1" height="129.0" fill="url(#hb76)"/><rect x="308" y="13.3" width="1" height="129.0" fill="url(#hb77)"/><rect x="309" y="13.3" width="1" height="129.0" fill="url(#hb78)"/><rect x="310" y="13.3" width="1" height="129.0" fill="url(#hb79)"/><rect x="311" y="13.3" width="1" height="129.0" fill="url(#hb80)"/><rect x="312" y="13.3" width="1" height="129.0" fill="url(#hb81)"/><rect x="313" y="13.3" width="1" height="129.0" fill="url(#hb82)"/><rect x="314" y="13.3" width="1" height="129.0" fill="url(#hb83)"/><rect x="315" y="13.3" width="1" height="129.0" fill="url(#hb84)"/><rect x="316" y="13.3" width="1" height="129.0" fill="url(#hb85)"/><rect x="317" y="13.3" width="1" height="129.0" fill="url(#hb86)"/><rect x="318" y="13.3" width="1" height="129.0" fill="url(#hb87)"/><rect x="319" y="13.3" width="1" height="129.0" fill="url(#hb88)"/><rect x="320" y="13.3" width="1" height="129.0" fill="url(#hb89)"/><rect x="321" y="13.3" width="1" height="129.0" fill="url(#hb90)"/><rect x="322" y="13.3" width="1" height="129.0" fill="url(#hb91)"/><rect x="323" y="13.3" width="1" height="129.0" fill="url(#hb92)"/><rect x="324" y="13.3" width="1" height="129.0" fill="url(#hb93)"/><rect x="325" y="13.3" width="1" height="129.0" fill="url(#hb94)"/><rect x="326" y="13.3" width="1" height="129.0" fill="url(#hb95)"/><rect x="327" y="13.3" width="1" height="129.0" fill="url(#hb96)"/><rect x="328" y="13.3" width="1" height="129.0" fill="url(#hb97)"/><rect x="329" y="13.3" width="1" height="129.0" fill="url(#hb98)"/><rect x="330" y="13.3" width="1" height="129.0" fill="url(#hb99)"/><rect x="331" y="13.3" width="1" height="129.0" fill="url(#hb100)"/><rect x="332" y="13.3" width="1" height="129.0" fill="url(#hb101)"/><rect x="333" y="13.3" width="1" height="129.0" fill="url(#hb102)"/><rect x="334" y="13.3" width="1" height="129.0" fill="url(#hb103)"/><rect x="335" y="13.3" width="1" height="129.0" fill="url(#hb104)"/><rect x="336" y="13.3" width="1" height="129.0" fill="url(#hb105)"/><rect x="337" y="13.3" width="1" height="129.0" fill="url(#hb106)"/><rect x="338" y="13.3" width="1" height="129.0" fill="url(#hb107)"/><rect x="339" y="13.3" width="1" height="129.0" fill="url(#hb108)"/><rect x="340" y="13.3" width="1" height="129.0" fill="url(#hb109)"/><rect x="341" y="13.3" width="1" height="129.0" fill="url(#hb110)"/><rect x="342" y="13.3" width="1" height="129.0" fill="url(#hb111)"/><rect x="343" y="13.3" width="1" height="129.0" fill="url(#hb112)"/><rect x="344" y="13.3" width="1" height="129.0" fill="url(#hb113)"/><rect x="345" y="13.3" width="1" height="129.0" fill="url(#hb114)"/><rect x="346" y="13.3" width="1" height="129.0" fill="url(#hb115)"/><rect x="347" y="13.3" width="1" height="129.0" fill="url(#hb116)"/><rect x="348" y="13.3" width="1" height="129.0" fill="url(#hb117)"/><rect x="349" y="13.3" width="1" height="129.0" fill="url(#hb118)"/><rect x="350" y="13.3" width="1" height="129.0" fill="url(#hb119)"/><rect x="351" y="13.3" width="1" height="129.0" fill="url(#hb120)"/><rect x="352" y="13.3" width="1" height="129.0" fill="url(#hb121)"/><rect x="353" y="13.3" width="1" height="129.0" fill="url(#hb122)"/><rect x="354" y="13.3" width="1" height="129.0" fill="url(#hb123)"/><rect x="355" y="13.3" width="1" height="129.0" fill="url(#hb124)"/><rect x="356" y="13.3" width="1" height="129.0" fill="url(#hb125)"/><rect x="357" y="13.3" width="1" height="129.0" fill="url(#hb126)"/><rect x="358" y="13.3" width="1" height="129.0" fill="url(#hb127)"/><rect x="359" y="13.3" width="1" height="129.0" fill="url(#hb128)"/><rect x="360" y="13.3" width="1" height="129.0" fill="url(#hb129)"/></g><rect x="231.2" y="13.3" width="130.0" height="129.0" fill="none" stroke="#2a3550" stroke-width="0.8"/><line x1="231.20" y1="120.80" x2="234.70" y2="120.80" stroke="#22304a" stroke-width="0.9"/><line x1="231.20" y1="99.30" x2="234.70" y2="99.30" stroke="#22304a" stroke-width="0.9"/><line x1="231.20" y1="77.80" x2="234.70" y2="77.80" stroke="#22304a" stroke-width="0.9"/><line x1="231.20" y1="56.30" x2="234.70" y2="56.30" stroke="#22304a" stroke-width="0.9"/><line x1="231.20" y1="34.80" x2="234.70" y2="34.80" stroke="#22304a" stroke-width="0.9"/><line x1="263.70" y1="142.30" x2="263.70" y2="138.80" stroke="#22304a" stroke-width="0.9"/><line x1="296.20" y1="142.30" x2="296.20" y2="138.80" stroke="#22304a" stroke-width="0.9"/><line x1="328.70" y1="142.30" x2="328.70" y2="138.80" stroke="#22304a" stroke-width="0.9"/><text x="227.50" y="145.50" font-size="9.2" text-anchor="end" textLength="5.3" lengthAdjust="spacingAndGlyphs">0</text><text x="227.50" y="124.00" font-size="9.2" text-anchor="end" textLength="5.3" lengthAdjust="spacingAndGlyphs">5</text><text x="227.50" y="102.50" font-size="9.2" text-anchor="end" textLength="10.6" lengthAdjust="spacingAndGlyphs">10</text><text x="227.50" y="81.00" font-size="9.2" text-anchor="end" textLength="10.6" lengthAdjust="spacingAndGlyphs">15</text><text x="227.50" y="59.50" font-size="9.2" text-anchor="end" textLength="10.6" lengthAdjust="spacingAndGlyphs">20</text><text x="227.50" y="38.00" font-size="9.2" text-anchor="end" textLength="10.6" lengthAdjust="spacingAndGlyphs">25</text><text x="227.50" y="16.50" font-size="9.2" text-anchor="end" textLength="10.6" lengthAdjust="spacingAndGlyphs">30</text><text x="231.20" y="153.65" font-size="9.2" text-anchor="middle" textLength="15.9" lengthAdjust="spacingAndGlyphs">650</text><text x="263.70" y="153.65" font-size="9.2" text-anchor="middle" textLength="15.9" lengthAdjust="spacingAndGlyphs">700</text><text x="296.20" y="153.65" font-size="9.2" text-anchor="middle" textLength="15.9" lengthAdjust="spacingAndGlyphs">750</text><text x="328.70" y="153.65" font-size="9.2" text-anchor="middle" textLength="15.9" lengthAdjust="spacingAndGlyphs">800</text><text x="361.20" y="153.65" font-size="9.2" text-anchor="middle" textLength="15.9" lengthAdjust="spacingAndGlyphs">850</text><text x="208.60" y="78.70" font-size="9.6" text-anchor="middle" textLength="41" lengthAdjust="spacingAndGlyphs" transform="rotate(-90 208.60 78.70)">Time (s)</text><text x="296.70" y="167.50" font-size="10" text-anchor="middle" textLength="80.6" lengthAdjust="spacingAndGlyphs">Wavelength (nm)</text><text x="357.00" y="137.10" font-size="10" text-anchor="end" textLength="21.3" lengthAdjust="spacingAndGlyphs" fill="#e4ecf4">DMF</text><rect x="380.6" y="13.1" width="10.5" height="129.0" fill="url(#cbb)" stroke="#3a3a3a" stroke-width="0.6"/><line x1="391.10" y1="138.90" x2="393.60" y2="138.90" stroke="#555" stroke-width="0.8"/><text x="396.60" y="142.10" font-size="9.2" textLength="25.4" lengthAdjust="spacingAndGlyphs">2,000</text><line x1="391.10" y1="123.40" x2="393.60" y2="123.40" stroke="#555" stroke-width="0.8"/><text x="396.60" y="126.60" font-size="9.2" textLength="25.4" lengthAdjust="spacingAndGlyphs">2,250</text><line x1="391.10" y1="107.90" x2="393.60" y2="107.90" stroke="#555" stroke-width="0.8"/><text x="396.60" y="111.10" font-size="9.2" textLength="25.4" lengthAdjust="spacingAndGlyphs">2,500</text><line x1="391.10" y1="92.40" x2="393.60" y2="92.40" stroke="#555" stroke-width="0.8"/><text x="396.60" y="95.60" font-size="9.2" textLength="25.4" lengthAdjust="spacingAndGlyphs">2,750</text><line x1="391.10" y1="76.90" x2="393.60" y2="76.90" stroke="#555" stroke-width="0.8"/><text x="396.60" y="80.10" font-size="9.2" textLength="25.4" lengthAdjust="spacingAndGlyphs">3,000</text><line x1="391.10" y1="61.40" x2="393.60" y2="61.40" stroke="#555" stroke-width="0.8"/><text x="396.60" y="64.60" font-size="9.2" textLength="25.4" lengthAdjust="spacingAndGlyphs">3,250</text><line x1="391.10" y1="45.90" x2="393.60" y2="45.90" stroke="#555" stroke-width="0.8"/><text x="396.60" y="49.10" font-size="9.2" textLength="25.4" lengthAdjust="spacingAndGlyphs">3,500</text><line x1="391.10" y1="30.40" x2="393.60" y2="30.40" stroke="#555" stroke-width="0.8"/><text x="396.60" y="33.60" font-size="9.2" textLength="25.4" lengthAdjust="spacingAndGlyphs">3,750</text><line x1="391.10" y1="14.90" x2="393.60" y2="14.90" stroke="#555" stroke-width="0.8"/><text x="396.60" y="18.10" font-size="9.2" textLength="25.4" lengthAdjust="spacingAndGlyphs">4,000</text><text x="391.90" y="7.80" font-size="9.6" text-anchor="middle" textLength="67.5" lengthAdjust="spacingAndGlyphs">Intensity (a.u.)</text><g shape-rendering="crispEdges"><rect x="474" y="13.3" width="1" height="129.0" fill="url(#hc0)"/><rect x="475" y="13.3" width="1" height="129.0" fill="url(#hc1)"/><rect x="476" y="13.3" width="1" height="129.0" fill="url(#hc2)"/><rect x="477" y="13.3" width="1" height="129.0" fill="url(#hc3)"/><rect x="478" y="13.3" width="1" height="129.0" fill="url(#hc4)"/><rect x="479" y="13.3" width="1" height="129.0" fill="url(#hc5)"/><rect x="480" y="13.3" width="1" height="129.0" fill="url(#hc6)"/><rect x="481" y="13.3" width="1" height="129.0" fill="url(#hc7)"/><rect x="482" y="13.3" width="1" height="129.0" fill="url(#hc8)"/><rect x="483" y="13.3" width="1" height="129.0" fill="url(#hc9)"/><rect x="484" y="13.3" width="1" height="129.0" fill="url(#hc10)"/><rect x="485" y="13.3" width="1" height="129.0" fill="url(#hc11)"/><rect x="486" y="13.3" width="1" height="129.0" fill="url(#hc12)"/><rect x="487" y="13.3" width="1" height="129.0" fill="url(#hc13)"/><rect x="488" y="13.3" width="1" height="129.0" fill="url(#hc14)"/><rect x="489" y="13.3" width="1" height="129.0" fill="url(#hc15)"/><rect x="490" y="13.3" width="1" height="129.0" fill="url(#hc16)"/><rect x="491" y="13.3" width="1" height="129.0" fill="url(#hc17)"/><rect x="492" y="13.3" width="1" height="129.0" fill="url(#hc18)"/><rect x="493" y="13.3" width="1" height="129.0" fill="url(#hc19)"/><rect x="494" y="13.3" width="1" height="129.0" fill="url(#hc20)"/><rect x="495" y="13.3" width="1" height="129.0" fill="url(#hc21)"/><rect x="496" y="13.3" width="1" height="129.0" fill="url(#hc22)"/><rect x="497" y="13.3" width="1" height="129.0" fill="url(#hc23)"/><rect x="498" y="13.3" width="1" height="129.0" fill="url(#hc24)"/><rect x="499" y="13.3" width="1" height="129.0" fill="url(#hc25)"/><rect x="500" y="13.3" width="1" height="129.0" fill="url(#hc26)"/><rect x="501" y="13.3" width="1" height="129.0" fill="url(#hc27)"/><rect x="502" y="13.3" width="1" height="129.0" fill="url(#hc28)"/><rect x="503" y="13.3" width="1" height="129.0" fill="url(#hc29)"/><rect x="504" y="13.3" width="1" height="129.0" fill="url(#hc30)"/><rect x="505" y="13.3" width="1" height="129.0" fill="url(#hc31)"/><rect x="506" y="13.3" width="1" height="129.0" fill="url(#hc32)"/><rect x="507" y="13.3" width="1" height="129.0" fill="url(#hc33)"/><rect x="508" y="13.3" width="1" height="129.0" fill="url(#hc34)"/><rect x="509" y="13.3" width="1" height="129.0" fill="url(#hc35)"/><rect x="510" y="13.3" width="1" height="129.0" fill="url(#hc36)"/><rect x="511" y="13.3" width="1" height="129.0" fill="url(#hc37)"/><rect x="512" y="13.3" width="1" height="129.0" fill="url(#hc38)"/><rect x="513" y="13.3" width="1" height="129.0" fill="url(#hc39)"/><rect x="514" y="13.3" width="1" height="129.0" fill="url(#hc40)"/><rect x="515" y="13.3" width="1" height="129.0" fill="url(#hc41)"/><rect x="516" y="13.3" width="1" height="129.0" fill="url(#hc42)"/><rect x="517" y="13.3" width="1" height="129.0" fill="url(#hc43)"/><rect x="518" y="13.3" width="1" height="129.0" fill="url(#hc44)"/><rect x="519" y="13.3" width="1" height="129.0" fill="url(#hc45)"/><rect x="520" y="13.3" width="1" height="129.0" fill="url(#hc46)"/><rect x="521" y="13.3" width="1" height="129.0" fill="url(#hc47)"/><rect x="522" y="13.3" width="1" height="129.0" fill="url(#hc48)"/><rect x="523" y="13.3" width="1" height="129.0" fill="url(#hc49)"/><rect x="524" y="13.3" width="1" height="129.0" fill="url(#hc50)"/><rect x="525" y="13.3" width="1" height="129.0" fill="url(#hc51)"/><rect x="526" y="13.3" width="1" height="129.0" fill="url(#hc52)"/><rect x="527" y="13.3" width="1" height="129.0" fill="url(#hc53)"/><rect x="528" y="13.3" width="1" height="129.0" fill="url(#hc54)"/><rect x="529" y="13.3" width="1" height="129.0" fill="url(#hc55)"/><rect x="530" y="13.3" width="1" height="129.0" fill="url(#hc56)"/><rect x="531" y="13.3" width="1" height="129.0" fill="url(#hc57)"/><rect x="532" y="13.3" width="1" height="129.0" fill="url(#hc58)"/><rect x="533" y="13.3" width="1" height="129.0" fill="url(#hc59)"/><rect x="534" y="13.3" width="1" height="129.0" fill="url(#hc60)"/><rect x="535" y="13.3" width="1" height="129.0" fill="url(#hc61)"/><rect x="536" y="13.3" width="1" height="129.0" fill="url(#hc62)"/><rect x="537" y="13.3" width="1" height="129.0" fill="url(#hc63)"/><rect x="538" y="13.3" width="1" height="129.0" fill="url(#hc64)"/><rect x="539" y="13.3" width="1" height="129.0" fill="url(#hc65)"/><rect x="540" y="13.3" width="1" height="129.0" fill="url(#hc66)"/><rect x="541" y="13.3" width="1" height="129.0" fill="url(#hc67)"/><rect x="542" y="13.3" width="1" height="129.0" fill="url(#hc68)"/><rect x="543" y="13.3" width="1" height="129.0" fill="url(#hc69)"/><rect x="544" y="13.3" width="1" height="129.0" fill="url(#hc70)"/><rect x="545" y="13.3" width="1" height="129.0" fill="url(#hc71)"/><rect x="546" y="13.3" width="1" height="129.0" fill="url(#hc72)"/><rect x="547" y="13.3" width="1" height="129.0" fill="url(#hc73)"/><rect x="548" y="13.3" width="1" height="129.0" fill="url(#hc74)"/><rect x="549" y="13.3" width="1" height="129.0" fill="url(#hc75)"/><rect x="550" y="13.3" width="1" height="129.0" fill="url(#hc76)"/><rect x="551" y="13.3" width="1" height="129.0" fill="url(#hc77)"/><rect x="552" y="13.3" width="1" height="129.0" fill="url(#hc78)"/><rect x="553" y="13.3" width="1" height="129.0" fill="url(#hc79)"/><rect x="554" y="13.3" width="1" height="129.0" fill="url(#hc80)"/><rect x="555" y="13.3" width="1" height="129.0" fill="url(#hc81)"/><rect x="556" y="13.3" width="1" height="129.0" fill="url(#hc82)"/><rect x="557" y="13.3" width="1" height="129.0" fill="url(#hc83)"/><rect x="558" y="13.3" width="1" height="129.0" fill="url(#hc84)"/><rect x="559" y="13.3" width="1" height="129.0" fill="url(#hc85)"/><rect x="560" y="13.3" width="1" height="129.0" fill="url(#hc86)"/><rect x="561" y="13.3" width="1" height="129.0" fill="url(#hc87)"/><rect x="562" y="13.3" width="1" height="129.0" fill="url(#hc88)"/><rect x="563" y="13.3" width="1" height="129.0" fill="url(#hc89)"/><rect x="564" y="13.3" width="1" height="129.0" fill="url(#hc90)"/><rect x="565" y="13.3" width="1" height="129.0" fill="url(#hc91)"/><rect x="566" y="13.3" width="1" height="129.0" fill="url(#hc92)"/><rect x="567" y="13.3" width="1" height="129.0" fill="url(#hc93)"/><rect x="568" y="13.3" width="1" height="129.0" fill="url(#hc94)"/><rect x="569" y="13.3" width="1" height="129.0" fill="url(#hc95)"/><rect x="570" y="13.3" width="1" height="129.0" fill="url(#hc96)"/><rect x="571" y="13.3" width="1" height="129.0" fill="url(#hc97)"/><rect x="572" y="13.3" width="1" height="129.0" fill="url(#hc98)"/><rect x="573" y="13.3" width="1" height="129.0" fill="url(#hc99)"/><rect x="574" y="13.3" width="1" height="129.0" fill="url(#hc100)"/><rect x="575" y="13.3" width="1" height="129.0" fill="url(#hc101)"/><rect x="576" y="13.3" width="1" height="129.0" fill="url(#hc102)"/><rect x="577" y="13.3" width="1" height="129.0" fill="url(#hc103)"/><rect x="578" y="13.3" width="1" height="129.0" fill="url(#hc104)"/><rect x="579" y="13.3" width="1" height="129.0" fill="url(#hc105)"/><rect x="580" y="13.3" width="1" height="129.0" fill="url(#hc106)"/><rect x="581" y="13.3" width="1" height="129.0" fill="url(#hc107)"/><rect x="582" y="13.3" width="1" height="129.0" fill="url(#hc108)"/><rect x="583" y="13.3" width="1" height="129.0" fill="url(#hc109)"/><rect x="584" y="13.3" width="1" height="129.0" fill="url(#hc110)"/><rect x="585" y="13.3" width="1" height="129.0" fill="url(#hc111)"/><rect x="586" y="13.3" width="1" height="129.0" fill="url(#hc112)"/><rect x="587" y="13.3" width="1" height="129.0" fill="url(#hc113)"/><rect x="588" y="13.3" width="1" height="129.0" fill="url(#hc114)"/><rect x="589" y="13.3" width="1" height="129.0" fill="url(#hc115)"/><rect x="590" y="13.3" width="1" height="129.0" fill="url(#hc116)"/><rect x="591" y="13.3" width="1" height="129.0" fill="url(#hc117)"/><rect x="592" y="13.3" width="1" height="129.0" fill="url(#hc118)"/><rect x="593" y="13.3" width="1" height="129.0" fill="url(#hc119)"/><rect x="594" y="13.3" width="1" height="129.0" fill="url(#hc120)"/><rect x="595" y="13.3" width="1" height="129.0" fill="url(#hc121)"/><rect x="596" y="13.3" width="1" height="129.0" fill="url(#hc122)"/><rect x="597" y="13.3" width="1" height="129.0" fill="url(#hc123)"/><rect x="598" y="13.3" width="1" height="129.0" fill="url(#hc124)"/><rect x="599" y="13.3" width="1" height="129.0" fill="url(#hc125)"/><rect x="600" y="13.3" width="1" height="129.0" fill="url(#hc126)"/><rect x="601" y="13.3" width="1" height="129.0" fill="url(#hc127)"/><rect x="602" y="13.3" width="1" height="129.0" fill="url(#hc128)"/><rect x="603" y="13.3" width="1" height="129.0" fill="url(#hc129)"/></g><rect x="474.3" y="13.3" width="129.99999999999994" height="129.0" fill="none" stroke="#2a3550" stroke-width="0.8"/><line x1="474.30" y1="120.80" x2="477.80" y2="120.80" stroke="#22304a" stroke-width="0.9"/><line x1="474.30" y1="99.30" x2="477.80" y2="99.30" stroke="#22304a" stroke-width="0.9"/><line x1="474.30" y1="77.80" x2="477.80" y2="77.80" stroke="#22304a" stroke-width="0.9"/><line x1="474.30" y1="56.30" x2="477.80" y2="56.30" stroke="#22304a" stroke-width="0.9"/><line x1="474.30" y1="34.80" x2="477.80" y2="34.80" stroke="#22304a" stroke-width="0.9"/><line x1="506.80" y1="142.30" x2="506.80" y2="138.80" stroke="#22304a" stroke-width="0.9"/><line x1="539.30" y1="142.30" x2="539.30" y2="138.80" stroke="#22304a" stroke-width="0.9"/><line x1="571.80" y1="142.30" x2="571.80" y2="138.80" stroke="#22304a" stroke-width="0.9"/><text x="471.00" y="145.50" font-size="9.2" text-anchor="end" textLength="5.3" lengthAdjust="spacingAndGlyphs">0</text><text x="471.00" y="124.00" font-size="9.2" text-anchor="end" textLength="5.3" lengthAdjust="spacingAndGlyphs">5</text><text x="471.00" y="102.50" font-size="9.2" text-anchor="end" textLength="10.6" lengthAdjust="spacingAndGlyphs">10</text><text x="471.00" y="81.00" font-size="9.2" text-anchor="end" textLength="10.6" lengthAdjust="spacingAndGlyphs">15</text><text x="471.00" y="59.50" font-size="9.2" text-anchor="end" textLength="10.6" lengthAdjust="spacingAndGlyphs">20</text><text x="471.00" y="38.00" font-size="9.2" text-anchor="end" textLength="10.6" lengthAdjust="spacingAndGlyphs">25</text><text x="471.00" y="16.50" font-size="9.2" text-anchor="end" textLength="10.6" lengthAdjust="spacingAndGlyphs">30</text><text x="474.30" y="153.65" font-size="9.2" text-anchor="middle" textLength="15.9" lengthAdjust="spacingAndGlyphs">650</text><text x="506.80" y="153.65" font-size="9.2" text-anchor="middle" textLength="15.9" lengthAdjust="spacingAndGlyphs">700</text><text x="539.30" y="153.65" font-size="9.2" text-anchor="middle" textLength="15.9" lengthAdjust="spacingAndGlyphs">750</text><text x="571.80" y="153.65" font-size="9.2" text-anchor="middle" textLength="15.9" lengthAdjust="spacingAndGlyphs">800</text><text x="604.30" y="153.65" font-size="9.2" text-anchor="middle" textLength="15.9" lengthAdjust="spacingAndGlyphs">850</text><text x="450.30" y="78.70" font-size="9.6" text-anchor="middle" textLength="41" lengthAdjust="spacingAndGlyphs" transform="rotate(-90 450.30 78.70)">Time (s)</text><text x="539.80" y="167.50" font-size="10" text-anchor="middle" textLength="80.6" lengthAdjust="spacingAndGlyphs">Wavelength (nm)</text><text x="602.80" y="137.10" font-size="10" text-anchor="end" textLength="59.2" lengthAdjust="spacingAndGlyphs" fill="#e4ecf4">DMF + BuSO</text><rect x="624.0" y="13.1" width="10.5" height="129.0" fill="url(#cbc)" stroke="#3a3a3a" stroke-width="0.6"/><line x1="634.50" y1="138.90" x2="637.00" y2="138.90" stroke="#555" stroke-width="0.8"/><text x="639.50" y="142.10" font-size="9.2" textLength="25.4" lengthAdjust="spacingAndGlyphs">2,000</text><line x1="634.50" y1="123.40" x2="637.00" y2="123.40" stroke="#555" stroke-width="0.8"/><text x="639.50" y="126.60" font-size="9.2" textLength="25.4" lengthAdjust="spacingAndGlyphs">2,250</text><line x1="634.50" y1="107.90" x2="637.00" y2="107.90" stroke="#555" stroke-width="0.8"/><text x="639.50" y="111.10" font-size="9.2" textLength="25.4" lengthAdjust="spacingAndGlyphs">2,500</text><line x1="634.50" y1="92.40" x2="637.00" y2="92.40" stroke="#555" stroke-width="0.8"/><text x="639.50" y="95.60" font-size="9.2" textLength="25.4" lengthAdjust="spacingAndGlyphs">2,750</text><line x1="634.50" y1="76.90" x2="637.00" y2="76.90" stroke="#555" stroke-width="0.8"/><text x="639.50" y="80.10" font-size="9.2" textLength="25.4" lengthAdjust="spacingAndGlyphs">3,000</text><line x1="634.50" y1="61.40" x2="637.00" y2="61.40" stroke="#555" stroke-width="0.8"/><text x="639.50" y="64.60" font-size="9.2" textLength="25.4" lengthAdjust="spacingAndGlyphs">3,250</text><line x1="634.50" y1="45.90" x2="637.00" y2="45.90" stroke="#555" stroke-width="0.8"/><text x="639.50" y="49.10" font-size="9.2" textLength="25.4" lengthAdjust="spacingAndGlyphs">3,500</text><line x1="634.50" y1="30.40" x2="637.00" y2="30.40" stroke="#555" stroke-width="0.8"/><text x="639.50" y="33.60" font-size="9.2" textLength="25.4" lengthAdjust="spacingAndGlyphs">3,750</text><line x1="634.50" y1="14.90" x2="637.00" y2="14.90" stroke="#555" stroke-width="0.8"/><text x="639.50" y="18.10" font-size="9.2" textLength="25.4" lengthAdjust="spacingAndGlyphs">4,000</text><text x="640.30" y="7.80" font-size="9.6" text-anchor="middle" textLength="67.5" lengthAdjust="spacingAndGlyphs">Intensity (a.u.)</text><text x="201.60" y="12.70" font-size="15" font-weight="bold" fill="#000" stroke="#000" stroke-width="0.35">b</text><text x="444.00" y="12.60" font-size="13.5" font-weight="bold" fill="#000" stroke="#000" stroke-width="0.3">c</text><clipPath id="clipd"><rect x="253.6" y="193.7" width="155.1" height="128.90000000000003"/></clipPath><g clip-path="url(#clipd)"><path d="M253.6,316.7l.2,.2.2-.5.3,.7.2-.3.2,.5.2-.8.3-.2.2-.4.2,.3.2-.1.2,.1.3,.3.2-.2.2,.4.2-.1.2-.4.3,0 .2,.1.2-.7.2,.2.3,.3.2,0 .2,.2.2,.1.2,0 .3-.8.2,.2.2,.1.2-.1.2-.5.3,.4.2,.3.2-.7.2,.8.3,.1.2-.3.2-.6.2,.6.2,.9.3-.5.2,.1.2,0 .2-.3.2-.1.3-.1.2,.2.2-.5.2-.3.3,.3.2,.3.2-.2.2,0 .2,.4.3,.1.2-.4.2,.1.2,.1.3-.1.2,.1.2-.1.2,.7.2-.9.3,.1.2,.3.2-.4.2,0 .2,.1.3-.3.2-.6.2,.2.2-.2.3-.3.2,.8.2,.4.2-.3.2,.7.3,0 .2-.6.2-.3.2,0 .2,.9.3-1 .2,.1.2-.1.2,.1.3,.7.2,.4.2,.2.2-1 .2,.3.3,0 .2,0 .2-.2.2-.2.2,0 .3,.5.2,.9.2-.5.2-.4.3-.5.2,.1.2,.2.2-.2.2,.5.3,.2.2,.1.2-.4.2-.9.3-.1.2-.1.2,.2.2,.1.2,.3.3,.1.2,.8.2,0 .2,.1.2-.7.3-.3.2-.4.2-.4.2,.4.3-.2.2-.5.2,.4.2-.1.2,.3.3,.7.2-.1.2,.2.2-.2.2,.1.3-.3.2,.7.2-1 .2-.3.3,.3.2,.4.2,0 .2-.3.2-.1.3,0 .2,.8.2,.2.2-.8.2,0 .3,.5.2,.1.2,.3.2,0 .3-.7.2,0 .2-.4.2,.1.2,.6.3,.1.2-1 .2,.5.2,.4.3-.6.2,.1.2,0 .2-.4.2,.8.3-.2.2,.3.2,.4.2,0 .2-.7.3,.1.2,.6.2,.1.2-.8.3-.4.2,.6.2-.9.2,.4.2,.6.3-.1.2-.4.2-.4.2-.1.2,.5.3,.3.2,.5.2-.2.2,.1.3-.2.2,.3.2,0 .2,.1.2,.2.3,.1.2,0 .2,.1.2-.6.2-.2.3,.4.2-.4.2-.1.2-.5.3,.2.2,.2.2,.3.2-.2.2-.2.3,0 .2,.2.2-.2.2,0 .3,0 .2,.4.2-.2.2,.3.2,.2.3-.3.2-.8.2-.1.2,.2.2,.3.3-.3.2-.3.2-.2.2,.5.3,.1.2,.2.2,.1.2,.3.2-.1.3,.7.2,0 .2-.5.2,.1.2-.4.3,.4.2-.1.2-.4.2,.3.3,.1.2-1.1.2,.5.2,.2.2,.2.3-.2.2-.1.2-.4.2-.1.2,.3.3,.1.2,.5.2,.3.2-.1.3-.5.2-.1.2-.4.2-.2.2,.2.3-.6.2,.5.2,.4.2,.1.3-.4.2,.2.2,.3.2-.2.2-.4.3,.2.2,.2.2-.3.2-.2.2-.1.3,.6.2-.1.2,0 .2,.7.3-.6.2,.1.2,.1.2-.7.2,.2.3,.5.2,0 .2-.1.2-.2.2,.2.3,.3.2,.2.2,.2.2,.1.3-.2.2,0 .2-.2.2,.2.2,.2.3-.2.2,0 .2-.6.2,.4.2-.1.3,0 .2,.4.2-.5.2,0 .3,.7.2-.5.2-.4.2,.4.2-.7.3,.2.2,.5.2-.3.2,.2.3,.4.2,.5.2-.5.2,0 .2-.4.3-.2.2,.2.2,.1.2-.8.2-.4.3,.1.2,.4.2,.5.2,0 .3-.7.2,0 .2,.3.2,.5.2-.2.3,.2.2-.2.2-.3.2-.4.2,.2.3,.2.2-.1.2-.6.2,.2.3,.7.2-.6.2,0 .2-1 .2,.7.3,.3.2,.2.2,0 .2,.2.3,.5.2,.5.2-.4.2-.1.2,0 .3-1 .2-.1.2-.2.2,.4.2,0 .3,.2.2,.1.2-.3.2-.1.3,0 .2,.1.2,.6.2,.1.2-.3.3,0 .2,.2.2-.3.2,.3.2,.1.3-.6.2,.2.2-.6.2,0 .3-.1.2-.2.2,1.1.2-.2.2,.4.3-.1.2-.2.2-.5.2,.1.2-.6.3,.5.2,.1.2,0 .2-.3.3,.1.2,.3.2,.1.2,.4.2-.7.3-.2.2,0 .2,0 .2,.3.3,.1.2-.3.2,.3.2,.2.2-.7.3-.4.2,.2.2,0 .2,.1.2-.3.3,.4.2,.1.2-.1.2-.4.3,.3.2,.1.2,.3.2,.2.2,.1.3-.2.2-.4.2,.3.2,.2.2,0 .3-.3.2-.3.2,.6.2-.3.3,.3.2-.4.2,.3.2,.3.2,0 .3-.3.2,.2.2-.3.2-.2.2-.1.3-.1.2-.3.2,.4.2,0 .3,0 .2,.7.2-.4.2,.1.2,.1.3-.1.2-.2.2-.2.2-.2.3,.3.2-.3.2-.1.2,.3.2,0 .3-.3.2,0 .2-.2.2,.2.2-.3.3-.6.2,.4.2,.9.2-.6.3,.4.2,.6.2,.7.2-.6.2-.6.3-.3.2,.3.2-.4.2,.2.2,.4.3,0 .2-.1.2,.1.2-.1.3,.8.2-.8.2,.3.2-.2.2,.3.3-.1.2,.1.2,.5.2-.3.2-.3.3,.4.2,.7.2-.2.2,0 .3-.3.2-.1.2-.7.2,0 .2,.3.3,0 .2,1.1.2,0 .2,0 .3-.3.2-.3.2-.1.2-.3.2,.4.3-.1.2,.1.2,0 .2-.1.2,.2.3-.1.2,.1.2-.4.2,.3.3-.1.2-.7.2,.2.2,.2.2-.1.3,.7.2-.2.2-.1.2,0 .2-.1.3,0 .2-.1.2,.5.2,0 .3,.3.2-.4.2,.2.2,.5.2-.1.3,.3.2-.4.2,.1.2,.8.2-.2.3-.5.2-.1.2,.2.2-.2.3-.1.2-.3.2-.1.2,.2.2,.5.3-.1.2,0 .2,.1.2-.1.3,.5.2-.3.2,0 .2-.1.2,.1.3,.2.2-.1.2-.3.2,.2.2,0 .3,.3.2-.2.2,0 .2,.4.3-.5.2,.4.2-.1.2,.3.2,.4.3-.5.2,.3.2,.4.2-.3.2,.2.3-.3.2-.8.2,.2.2-.1.3-.1.2,0 .2,.2.2-.4.2,.2.3,0 .2,.1.2,.5.2-.2.2-.1.3-.2.2-.1.2-.4.2,.9.3,.1.2,0 .2,.2.2-.3.2,0 .3-.1.2,.5.2,.1.2-.3.3,0 .2,.1.2-.1.2-.1.2,.3.3-.7.2,.3.2-.2.2-.2.2-.1.3,.3.2,.4.2-.3.2,0 .3,.7.2,.5.2-.3.2-.2.2-.2.3-.3.2,.2.2-.9.2-.1.2-.1.3,.2.2,.9.2-.2.2,.1.3-.2.2,0 .2-.2.2,.3.2,.1.3-.1.2,.2.2,0 .2-.3.2-.6.3,.3.2-.1.2,.5.2,.1.3-.2.2-.1.2,.3.2-.2.2,0 .3-.4.2-.1.2,.1.2,.3.3,0 .2,.3.2,.2.2,.4.2,.1.3,.1.2-.4.2-.2.2,.3.2-.2.3-.3.2-.3.2,.1.2,0 .3,.1.2-.3.2,.6.2-.2.2,.7.3-.8.2-.3.2,.8.2-.1.2,.3.3,.3.2-.3.2,0 .2-.6.3,.2.2,.2.2-.1.2-.3.2-.2.3-.1.2,.5.2,.2.2-.1.2,.1.3-.4.2,.1.2,0 .2,.1.3-.1.2,.4.2-.8" fill="none" stroke="#0b2e6c" stroke-width="1.4" stroke-linejoin="round"/><path d="M253.6,315.9l.2,.1.2,.4.3-.4.2,.2.2-.5.2-.6.3-.2.2,.2.2-.4.2,.1.2,.1.3-.1.2,.2.2-.3.2,.4.2,.5.3-.9.2,.2.2-.1.2-.3.3,.1.2,.3.2-.2.2,.1.2-.5.3,0 .2,0 .2-.5.2,.6.2,.3.3-.7.2-.6.2,0 .2,.3.3-.6.2-.1.2-.2.2,.8.2-.1.3,.2.2,.2.2-.6.2-.5.2,.2.3,0 .2-.7.2-.1.2,.2.3-.2.2,0 .2,.6.2,0 .2-.4.3-.4.2,.5.2,.1.2-.1.3,.3.2-.9.2-.4.2-.6.2,1.1.3,.1.2-1.2.2,.7.2,.5.2-.6.3-1 .2-.3.2,.6.2-.5.3-.2.2-.1.2-.2.2-.3.2-.4.3-.4.2-.2.2,.5.2,1 .2-.6.3,.6.2-1.5.2,.7.2,.7.3,.4.2-.9.2-.5.2-.6.2-.2.3,.4.2-.6.2,.3.2,.6.2-.9.3-.4.2,.5.2-.1.2-.8.3-.4.2,.7.2-.7.2,1.5.2-.6.3-.5.2-.1.2-.2.2,.8.3-.4.2-.6.2,.4.2-.3.2-.1.3,1 .2-.2.2-.9.2,.6.2-.5.3-.5.2,.6.2-.3.2-.8.3-.4.2,.6.2-.7.2-.1.2,0 .3-.7.2-.1.2,.2.2-.3.2,0 .3-.4.2,.5.2,1.3.2-1.2.3-.3.2,0 .2,.2.2,.2.2,0 .3,.6.2-.7.2,0 .2,.6.2-.4.3,.1.2-.2.2-.4.2-1.6.3,1.3.2-.1.2-.3.2,0 .2-.6.3,.7.2,.4.2,0 .2,.8.3-1 .2,.8.2-.6.2-.8.2,.7.3,.1.2,0 .2-1.2.2,.2.2,1.3.3-.9.2-.6.2,1.5.2,1.4.3-2.5.2,0 .2,1.4.2-1.1.2-1 .3,1.8.2-1.2.2-.4.2,.2.2,.5.3-.4.2,.6.2-.4.2,.1.3,.1.2-.5.2-.7.2-.3.2,0 .3-.8.2,1.4.2,0 .2-.1.2-.8.3,1.8.2-.1.2-.2.2-.5.3-1.6.2,.3.2,.3.2-.1.2-.5.3,.4.2-.9.2,1.3.2-.9.3-.3.2-.3.2-.6.2,.7.2,0 .3,.1.2,.5.2,.4.2,.3.2-1.1.3,1.5.2,.1.2-.9.2-1.5.3,.1.2-1 .2,.2.2,.5.2,1 .3-.8.2-1.6.2,.1.2,.9.2-.8.3,1 .2,.3.2-1.5.2-.5.3-.7.2,0 .2,.3.2-.2.2,.3.3-1 .2,1.2.2,1.2.2-.2.2-1.5.3,.2.2,1.5.2-3.3.2,1 .3,0 .2-.6.2-.2.2,.2.2,1.3.3-.9.2,.6.2-.2.2-.9.3,.4.2,1.4.2,0 .2-1 .2-.7.3,1.3.2-.3.2-.3.2-.7.2,.1.3,.4.2,.6.2-.2.2-.3.3,.7.2,.5.2-1.2.2,.7.2,1 .3-.4.2,1.2.2,.7.2-1.1.2,.1.3-.5.2-.3.2,1 .2-.3.3,.5.2-.1.2,0 .2,.2.2,1 .3-.5.2,0 .2-.4.2,.9.2-.3.3,.1.2,.3.2,.1.2,0 .3,.9.2-.1.2,0 .2-.7.2,0 .3-1 .2,0 .2,.2.2,.2.3,1.3.2-.4.2-.9.2,1.1.2-1 .3-.1.2,.2.2,.6.2,.1.2,.6.3-.2.2-.1.2-.1.2,.9.3-.9.2,.5.2-.4.2-.3.2,.4.3-1.6.2,.7.2,.3.2,.6.2,.1.3,1.2.2-.5.2,.4.2,.4.3-.5.2-.3.2,.7.2,.9.2,1.2.3,.1.2-.7.2-.5.2,1 .3-.2.2-.6.2,.8.2,.4.2,.6.3-.4.2,1.2.2-.2.2-.4.2,.1.3-.4.2,0 .2,.8.2,.7.3,.6.2-.4.2,.1.2,0 .2,.7.3-.7.2-.1.2,0 .2,1 .2-1.2.3,.3.2,1.1.2-.3.2,.5.3,.6.2,.4.2-.3.2,0 .2,.1.3,.2.2,.7.2-.2.2,.1.2,.2.3-.3.2-.6.2,.8.2-.3.3,.7.2-.3.2,0 .2,.3.2,.2.3,.5.2,.2.2-.4.2-.1.3-.7.2,1 .2,.5.2,0 .2,.1.3,.3.2,.2.2,.1.2-.5.2,.2.3,.5.2-.1.2,1.1.2,.1.3-.1.2-.3.2,.8.2-.3.2,.2.3-.6.2-.3.2,.3.2-.1.2,.6.3-.1.2-.1.2-.3.2,.4.3,.9.2-.6.2,.4.2,.1.2,0 .3-.7.2,.2.2-.3.2,.3.2,.6.3-.2.2-.1.2,.3.2,.6.3-1.2.2-.4.2,.3.2,.2.2,0 .3,.1.2,.8.2,.5.2-.5.3-.4.2-.1.2,0 .2,.3.2-.2.3-.2.2,.2.2-.1.2-.1.2,.6.3-.2.2,.5.2,.4.2-.6.3,.7.2,0 .2-.4.2-.1.2,.3.3,.3.2-.3.2-.1.2,.1.2,.4.3,.3.2-.2.2-.1.2-.3.3,.1.2-.2.2,.5.2,.4.2-.5.3,.1.2,.2.2-.1.2,.3.2-.1.3,.3.2-.3.2,0 .2-.1.3-.1.2-.2.2,.6.2-.2.2,0 .3,.2.2-.1.2-.3.2-.1.3-.6.2,.4.2,.1.2-.5.2,.5.3,.4.2,.1.2,.1.2-.1.2-.1.3,.2.2,.3.2-.2.2,.2.3,.1.2-.4.2,0 .2,.2.2,.3.3,0 .2,.2.2-.5.2-.3.2-.1.3-.1.2,.3.2-.1.2,0 .3,0 .2,.2.2,.2.2-.2.2-.2.3,.4.2-.1.2-.1.2-.2.2,.6.3,.2.2,.1.2,.1.2,0 .3-.6.2,.2.2-.8.2,.1.2-.1.3,.1.2-.1.2,0 .2-.1.3,0 .2,0 .2,.1.2-.2.2,.3.3,.2.2-.4.2,.3.2,0 .2-.5.3,.5.2,.1.2,.3.2,.2.3-.3.2,0 .2,0 .2,.5.2-.4.3,.2.2,.4.2-.1.2,.2.2-.8.3,.5.2-.3.2,.2.2,.1.3,.2.2-.6.2,.3.2,0 .2-.2.3,0 .2-.2.2,.2.2,.4.2-.3.3-.5.2,0 .2,.3.2-.3.3-.1.2,.2.2,0 .2,.1.2,0 .3-.2.2-.1.2,.1.2,.1.3,.8.2,0 .2-.4.2,.2.2-.3.3,.1.2-.1.2-.1.2-.3.2,0 .3,.1.2,.5.2-.2.2,.3.3-.5.2,.3.2,.1.2,0 .2,.2.3-.3.2-.1.2,.2.2,.1.2-.7.3-.1.2,0 .2,.1.2-.2.3,.3.2,.2.2,.1.2,.3.2,.2.3-.7.2,0 .2,.4.2,0 .2,.1.3,0 .2-.1.2,.4.2,.3.3-.3.2-.1.2,.2.2-.2.2,0 .3-.2.2,0 .2-.4.2-.3.3,0 .2,.2.2-.1.2,0 .2,0 .3,0 .2,.3.2-.2.2,0 .2,0 .3,.2.2,.2.2-.2.2,.2.3,.3.2-.6.2-.2.2,.4.2-.4.3,.8.2-.3.2-.2.2,0 .2,.2.3-.2.2-.1.2,.5.2,.1.3-.4.2-.1.2,.4.2,.4.2-.4.3,.2.2,.1.2-.1.2-.2.2,.5.3-.4.2,0 .2-.3.2,.3.3,.2.2-.3.2-.3" fill="none" stroke="#1f6db5" stroke-width="1.4" stroke-linejoin="round"/><path d="M253.6,314.5l.2,0 .2-.7.3-.3.2,.1.2,.1.2-.4.3-.1.2,.2.2-.5.2-.3.2,.2.3,0 .2-.2.2,.3.2,.4.2-.6.3,.6.2,.3.2,.1.2-.7.3-.7.2,.2.2-.7.2-.5.2-.3.3,.8.2-.5.2-.8.2,.8.2,.7.3-.8.2-.2.2,.1.2,0 .3,.7.2,0 .2-.5.2-.5.2-.5.3-.3.2,.3.2,0 .2-.7.2,.8.3-.4.2,.3.2-.3.2-1 .3,0 .2,.4.2,.3.2,.4.2-.4.3,.8.2-.6.2-.6.2,.2.3,0 .2-1.1.2-.7.2-.8.2-.2.3,.3.2,.4.2-.6.2-.1.2,.1.3-.8.2,.5.2,0 .2-.5.3-.1.2,.2.2-.5.2-1.3.2,.8.3-.1.2,0 .2,.1.2-.9.2,.4.3-.8.2,1 .2-.1.2,.4.3-.5.2-.5.2-.3.2-.1.2,.2.3,.6.2-.9.2-.1.2-.8.2,1.2.3-.2.2,.7.2-1.3.2,.3.3,.3.2-1.1.2,0 .2-.3.2,0 .3-.8.2,0 .2-.1.2,.2.3-.6.2-.5.2,.6.2-.4.2,1.2.3,.3.2-.1.2,.1.2-.9.2,.8.3,.5.2-.8.2,.1.2-.5.3-.4.2,.2.2-.1.2-.9.2,0 .3-.1.2-.5.2,.7.2,.6.2-.2.3-1.5.2-.3.2-1.3.2,0 .3,0 .2,1 .2,1.3.2,1.1.2-1 .3,.3.2,.1.2-1.2.2-.6.2,.8.3-.7.2-1.3.2-.5.2,.8.3-.7.2,1.6.2-.3.2-.1.2-1.4.3,1 .2,.3.2-.3.2-1 .3,.9.2-.7.2-.1.2,0 .2,.6.3-1 .2-.4.2-.6.2-.2.2,.1.3,.6.2-.4.2-.9.2-.1.3-.4.2-.6.2,0 .2,.5.2,.8.3-1.4.2,.3.2,.1.2-.2.2-.8.3-.6.2,1 .2-.1.2-1.1.3,.8.2-.2.2,.7.2,.8.2,.3.3-1.1.2-.9.2,2 .2-.9.2-.6.3,.7.2-.9.2,0 .2-1.9.3,.8.2-1.3.2,1.1.2,.5.2-2 .3,.8.2,.1.2,1 .2-1 .3-1.8.2,.4.2,.2.2-.2.2,.5.3,.7.2-.8.2-.2.2,1.1.2,1.3.3-2.1.2,.4.2-1.5.2-1.4.3,.1.2,.4.2,2.2.2-2.8.2-1.1.3,.9.2,.8.2-1.2.2,1.8.2-1.8.3-1.3.2,1.3.2,.6.2-2.6.3,.7.2-.4.2,.3.2,1.9.2-2.1.3-2 .2,1.1.2,.9.2-2.1.2,2 .3-.2.2,.9.2,.8.2-.6.3,1.8.2-.5.2-1.7.2-.3.2,.3.3-3.9.2-.4.2,1.1.2-1.1.3-.3.2,.4.2-.4.2,.9.2,.8.3-2.1.2,.6.2-1.3.2,3.2.2,.6.3,.4.2-.9.2-.3.2-1.4.3-.3.2,.4.2-.4.2-.4.2,.2.3,3.1.2-.3.2-1.4.2,.3.2-1.9.3,1 .2-.1.2,1 .2-.3.3-1.5.2-1.3.2-.2.2,.1.2,.6.3,2 .2-1 .2,.8.2-.6.2,.1.3-1.1.2,1.1.2-1.1.2,.3.3-1.7.2,.9.2,.6.2,2.3.2-1.7.3-.1.2,2.4.2-1.5.2-1 .3,.4.2-1.7.2,.7.2,.4.2-.4.3,1.5.2-1 .2,1 .2-.6.2-1.3.3,.9.2,.8.2-2.1.2,.6.3-.7.2,.1.2,.2.2-.9.2,1.2.3,2.4.2,0 .2,.5.2,.9.2-.2.3-.9.2-.6.2,.1.2,.5.3,0 .2,.7.2,.9.2-.3.2-1.1.3,1.2.2,0 .2-.6.2,1.4.3-.5.2,.1.2-.8.2,1.6.2,.5.3-1.6.2-1.4.2,.7.2-.2.2,1.9.3-.3.2,.5.2,.1.2,2 .3-.1.2-.4.2-.6.2,.3.2,.4.3-.2.2-.8.2,2.6.2,2.1.2-.4.3-1.7.2-1 .2,.4.2,2 .3-.2.2,1.1.2-.5.2,.7.2-1.2.3,1.8.2-.9.2,1.4.2-.2.2,.3.3,1.7.2,1.6.2-.4.2,0 .3,.3.2-.7.2,0 .2-.1.2,1.3.3,.3.2,.2.2-.6.2-.5.3,1.2.2,.5.2,2.2.2-1.9.2,.2.3,.2.2,.3.2,.6.2,1.7.2,.5.3,.3.2-.1.2,.6.2-.4.3-.4.2,.1.2,.2.2-1.2.2,1.4.3,.9.2-.4.2,.6.2-.8.2,1.1.3,.3.2-.8.2,1.7.2-.6.3,.3.2,.2.2-.5.2,1 .2,0 .3,.7.2-.6.2,1.2.2,.2.2,.4.3,.6.2-.7.2,.4.2-.2.3,1.5.2,.3.2,.2.2-.5.2,.8.3-.5.2-.5.2,.1.2,.2.3,.4.2,.6.2,0 .2-.1.2-.6.3,.3.2,.7.2-.3.2,.8.2,1 .3-.2.2,.2.2-.5.2,.1.3,.7.2,.2.2,0 .2-1 .2,.9.3,.4.2-.6.2-.4.2,.5.2-.3.3,.4.2,.7.2,.1.2-.3.3-.4.2,.5.2,.8.2-.1.2,.3.3,.3.2-.2.2,0 .2,.6.2,.2.3-.7.2,.3.2-.6.2,1.3.3,.3.2-.1.2,.3.2-.2.2-.1.3,.5.2-.8.2-.4.2,1 .3,.2.2,.5.2,0 .2,0 .2,0 .3-.4.2-.3.2,.4.2,0 .2,0 .3,.7.2,0 .2,.3.2-.5.3-.3.2,.2.2-.3.2,.4.2,.5.3-.4.2,.2.2,0 .2,.6.2-.3.3,.1.2,.1.2,.4.2,.1.3,0 .2-.2.2-.4.2,.7.2,.3.3,.1.2-.1.2,.1.2,.1.2-.1.3-.3.2,0 .2,.2.2-.3.3-.1.2,.3.2-.5.2,.3.2,.3.3-.2.2,.2.2,.2.2-.6.3,.2.2,.3.2-.2.2,0 .2,.5.3-.1.2-.3.2,.1.2-.3.2,.4.3-.4.2,.1.2,.2.2,.3.3-.5.2,0 .2,.1.2-.1.2,.1.3,0 .2-.1.2,.2.2-.4.2-.6.3,.9.2,0 .2,.1.2-.2.3,.6.2-.8.2-.1.2-.5.2,.1.3,.6.2,.1.2-.4.2-.1.2,.5.3,0 .2-.4.2-.1.2,.4.3,0 .2-.1.2,.2.2,.2.2-.3.3,.1.2,.1.2-.3.2-.2.3,.1.2,.3.2,.3.2,.3.2,0 .3-.2.2,.3.2,.1.2,.1.2-.3.3,0 .2-.6.2-.3.2,.2.3,.2.2-.3.2,.5.2-.3.2,.5.3,0 .2-.2.2,0 .2,.4.2,.1.3-.2.2,.3.2-.7.2,.2.3-.1.2-.8.2,.4.2,.1.2-.1.3,.2.2,.4.2,.4.2-.3.2,0 .3-.5.2,0 .2-.1.2,.5.3,0 .2-.2.2,.1.2-.2.2,.2.3,.1.2-.2.2,.4.2-.9.3,.6.2-.4.2-.3.2,.3.2,0 .3-.1.2,.1.2,0 .2,.2.2-.1.3,.3.2,.3.2,0 .2-.4.3,0 .2-.1.2,.2.2,0 .2,.2.3,0 .2-.1.2,.2.2-.5.2,.6.3-.3.2,.1.2-.4.2,.3.3-.3.2,.3.2,.2.2,0 .2-.1.3,.2.2-.5.2,.4.2,0 .2-.1.3,0 .2-.4.2,.4.2-.3.3-.3.2,.2.2-.4" fill="none" stroke="#6aaad6" stroke-width="1.4" stroke-linejoin="round"/><path d="M253.6,313.8l.2-.1.2,.1.3,.7.2,.1.2-1.1.2-.1.3,.4.2-.8.2,0 .2-.4.2-.3.3-1.1.2,1 .2-.6.2-1.8.2,.3.3,0 .2,.1.2-.4.2-.1.3-.2.2,.6.2-.2.2-.5.2-.1.3-.3.2-.6.2-.5.2,.2.2-.1.3,.3.2,.1.2-.5.2,.6.3-.9.2,.6.2-.3.2,.1.2,.1.3-.7.2,.7.2-1.4.2,.8.2-.8.3-.1.2-.1.2-.4.2-.9.3,0 .2,.5.2-.2.2-.8.2,.7.3-.4.2-.9.2,.5.2-.1.3-.7.2,.4.2-.2.2,0 .2-.4.3,.6.2,.6.2-1.5.2,.3.2,.2.3-1.2.2,.2.2-.2.2,.4.3-.3.2-.8.2-.9.2-.5.2,1 .3-.1.2-.8.2,.5.2,.3.2-.3.3-1.3.2,.8.2-1 .2-.6.3,.5.2,.7.2-.4.2-.2.2,0 .3-.5.2-2.1.2-.3.2-.5.2,.6.3-.6.2,1 .2-.2.2-.9.3-1.4.2,.4.2,.5.2,.4.2,.9.3-.7.2-1.4.2-.1.2,.6.3,.4.2,.7.2-1.4.2,.2.2-.9.3,1.1.2-.7.2-.5.2,.4.2,.6.3-2.4.2-.6.2-.2.2,1.6.3-.9.2,.1.2-1 .2,1 .2,.6.3,1.1.2,1 .2,.7.2-.8.2-.8.3-1.9.2-1.6.2,1.3.2,2.1.3-1 .2-.7.2,.2.2,.5.2,0 .3-.8.2-.6.2,1.4.2-.7.2,.3.3,.1.2-1 .2,.2.2-1 .3,1.9.2-1.7.2-.8.2,.1.2,.3.3,.9.2,0 .2-2.9.2-.5.3,.2.2,.5.2,.3.2,.6.2-1.2.3-1.4.2,1 .2-1.1.2,.4.2-.7.3,.8.2-1.3.2-1.8.2,1.2.3,.3.2-1.2.2,.9.2,1.2.2,1.9.3-1 .2-2.5.2,.4.2-.4.2,2.2.3-.9.2-1 .2-.1.2-.3.3,.5.2-.1.2-2.4.2,1.1.2-2.2.3,1.5.2-2 .2,.2.2-.8.2,.4.3-.7.2-2.6.2,3.7.2,.3.3-1.2.2-2 .2,2 .2-.5.2-1.3.3,.7.2-.2.2-.5.2-1.3.3-.1.2-.2.2,1.2.2,.4.2-3.2.3,2.3.2,.2.2,.5.2-.8.2,.7.3-1.7.2,.8.2,.1.2,1.3.3-.7.2,.9.2-1.1.2-1.8.2,1.6.3-3.6.2-.9.2,.1.2,.8.2-1.4.3-.2.2,.9.2-.2.2-.2.3,1.1.2-2.4.2,2.2.2-1.2.2,1 .3-.6.2-.2.2-.7.2-2.4.2,1.2.3-.7.2-.3.2,0 .2,1.8.3-.5.2,1.9.2-2.8.2-2.3.2,.5.3-.3.2,.5.2,2.8.2-.5.3-2.1.2,.1.2,1.1.2,3.6.2-3.6.3-3.1.2-2 .2-2.4.2,5.4.2-.1.3-1 .2,1.2.2-.5.2-1.7.3,1.5.2-.9.2,1.7.2,3.3.2-1.8.3-1.8.2-1.1.2-1.2.2,2 .2-1.3.3,4.8.2-2.1.2,1 .2-1.5.3,.9.2-1.6.2-2 .2-1.6.2,1.5.3-2.1.2,.3.2-1.5.2,1.3.2,2.3.3-.4.2,1.3.2,.8.2,2.2.3-2.2.2-3.2.2,1.9.2-.3.2,1.9.3-1.9.2-2.3.2,.5.2-.9.3-.6.2,1.1.2-.8.2,3.3.2-.4.3-.7.2-1.1.2-1.7.2,1.3.2,1.9.3,.5.2,.1.2,1.1.2,1.4.3-1.7.2,1.3.2-1 .2-.5.2-.2.3-1.7.2,.1.2,.3.2-1.6.2,1.9.3,2.7.2,.5.2-1.9.2,1.9.3,1 .2-1.2.2-3.5.2,2.1.2-.8.3-1 .2,2.5.2,1.8.2,.6.3,1.1.2-.3.2,1.7.2-.2.2-.2.3-3.1.2,3.1.2-.1.2,1.3.2-.2.3,.6.2,1 .2-.1.2,.7.3-.7.2-1.3.2,0 .2,.6.2-.2.3,1.1.2-.1.2-2.8.2,1.4.2-1.1.3,1.1.2,2.2.2,.6.2,2.1.3-.6.2-1 .2,.5.2-.1.2,1 .3,1.3.2,2.6.2-1.1.2-1 .2-.3.3,1.1.2-.1.2,.2.2,.1.3,1.6.2,1.6.2,2.1.2-.4.2-.1.3,.6.2-.6.2,1.3.2-.7.3-1.6.2,.9.2,2.3.2-.2.2,.5.3-.1.2,.3.2,.7.2-.4.2-.7.3,.8.2,.3.2,1.9.2-2 .3,1.5.2,.3.2,1.5.2-.6.2,1 .3-.2.2,.7.2,.2.2,.3.2,.7.3,0 .2,.6.2,.2.2,.2.3,.8.2-.4.2-.5.2,.2.2,1.6.3-.5.2-.5.2,1.8.2-.9.2,2.1.3-.5.2-.5.2-.6.2-.4.3,.6.2,.1.2-.2.2-.2.2,1.1.3,.3.2,1.7.2,.8.2-.7.3,.2.2,1.3.2,.2.2,1.2.2-.1.3-.7.2,1.4.2-.1.2-.1.2,.2.3,.2.2,.6.2,.6.2-.1.3,1.1.2-.2.2,.8.2,.1.2-1 .3,.5.2,.4.2-.3.2,.7.2,.4.3,.1.2-.3.2,.7.2,.1.3,1 .2,.3.2-.2.2,.2.2-.3.3-.3.2,1.2.2-.3.2-.1.2,.3.3,0 .2,.5.2-.2.2,0 .3-.5.2,1.2.2,.5.2-.3.2-.4.3,.8.2,.4.2,.1.2-.2.3,.4.2-.5.2-.4.2,.5.2-.2.3,.9.2,.4.2-.3.2-.2.2,.7.3,.1.2-.2.2,.1.2,.3.3,0 .2-.3.2,.4.2,.5.2-.6.3,.3.2,.7.2-.3.2-.3.2-.3.3-.1.2,.3.2,.1.2,.1.3-.4.2,.2.2,.8.2-.3.2,.1.3,.1.2,.2.2-.2.2,.1.2,0 .3,.1.2-.2.2,.5.2-.1.3-.2.2,.1.2-.3.2-.3.2,.4.3-.2.2,.5.2-.5.2-.1.3,.5.2-.1.2,0 .2,.3.2,.5.3-.1.2-.4.2-.2.2,.1.2,0 .3,.4.2,.2.2-.1.2,0 .3,.3.2,.2.2-.5.2,0 .2-.1.3,.3.2,.3.2-.5.2-.1.2-.2.3,.4.2,.1.2-.2.2,.1.3-.4.2-.2.2,.4.2-.2.2,.2.3-.2.2,.1.2,.2.2-.1.2-.5.3,0 .2,.2.2,.3.2-.6.3-.1.2,.3.2,0 .2,.2.2,0 .3-.1.2,.2.2,.1.2,.2.3,.2.2,0 .2-.2.2,.7.2-.5.3,.2.2-.4.2-.3.2-.3.2,.1.3,.4.2-.5.2,.4.2-.3.3,.5.2,0 .2,.4.2-.1.2-.3.3-.2.2,.6.2,0 .2,.1.2-.5.3,0 .2-.3.2,.2.2-.4.3,.2.2-.1.2,0 .2,.1.2,.4.3,.1.2-.5.2-.2.2,.3.2,0 .3,.6.2-.4.2,.1.2,.7.3,0 .2-.2.2,0 .2-.2.2,.2.3,.3.2-.7.2,.3.2,.2.3,.2.2-.2.2-.5.2-.4.2-.4.3,.5.2,.1.2-.3.2,.3.2-.1.3-.4.2,.6.2,.3.2-.2.3,.2.2,0 .2-.5.2,0 .2-.3.3,.5.2,0 .2-.1.2,0 .2,.7.3,.1.2-.4.2,.5.2,.2.3-.1.2-.2.2-.4.2-.3.2,.2.3,.3.2,.1.2-.5.2-.1.2-.1.3,.7.2,.4.2-.6.2-.7.3,0 .2,.5.2,.5" fill="none" stroke="#c5daef" stroke-width="1.4" stroke-linejoin="round"/><path d="M253.6,312.5l.2-.6.2-.4.3,.1.2-.6.2-.9.2-.1.3,.3.2,.4.2-.2.2-.1.2-1.3.3,.2.2-1 .2,.3.2-.2.2-.4.3,.1.2-.2.2-.2.2-.1.3-.3.2-.9.2-.9.2,.4.2-.7.3,.3.2,0 .2-.2.2,0 .2-.6.3,.3.2-.1.2-.3.2,.2.3,.1.2-.7.2-.8.2,.2.2,.4.3,0 .2-.4.2-.2.2-.4.2-1.7.3,1 .2,.4.2-.2.2,.4.3-1.4.2,.6.2-.1.2,0 .2-1 .3-.4.2,.1.2-.3.2-.9.3-.6.2-1.5.2,.8.2-1.1.2-1.3.3,.2.2,1.8.2-.5.2-1 .2-.5.3-.1.2,.8.2-.9.2-.5.3-.1.2,1.4.2-1.3.2-.6.2-.7.3,.4.2-1.7.2-.5.2,.1.2,1.2.3,.2.2,.9.2-1.2.2,0 .3-.4.2,1.5.2-1.5.2,.3.2,1.1.3-3.1.2-2 .2,.4.2,2.2.2-.8.3-1.4.2,.7.2-1.3.2-1 .3-.3.2-.3.2,1.5.2,.3.2,.7.3,.7.2-1.8.2-.1.2-1.2.3,.3.2,.9.2-1.8.2-1 .2,.8.3-.3.2,2.2.2,0 .2-1.9.2,0 .3,.2.2-1.4.2-.9.2,1.9.3,.5.2-.4.2,1.1.2-1 .2-.8.3,.1.2,1.6.2-.3.2-.5.2-.7.3-.1.2,.3.2-2.1.2-.9.3,1.4.2,1.5.2-1.6.2,.8.2,.9.3-1 .2,.9.2,0 .2-.7.2-.8.3,0 .2-1.8.2-.8.2-1.9.3,.4.2,.3.2-.7.2,.9.2-1 .3,1.2.2,.5.2,2.8.2-.6.3-1.8.2-1.3.2-.5.2-.6.2-3 .3,.9.2,.3.2,.6.2-.7.2,1.7.3-1.1.2-2.6.2-.5.2-.2.3,1.8.2,1.8.2-.8.2-1.2.2,.6.3,.3.2,1 .2,.2.2-3.4.2-.5.3-1.3.2,.6.2,1.2.2,.1.3-1.3.2,.5.2-1.8.2-.7.2,2 .3-1.2.2-1 .2-2.9.2,2.5.2,.4.3-.1.2,.2.2-2.7.2,1.9.3-.2.2-1.8.2-2.1.2,.5.2-1.1.3,1.5.2-1.1.2,1.1.2-1.6.3,2.9.2-1.8.2,1 .2,.1.2-.4.3-.9.2,.2.2,1.5.2,.1.2-1.7.3-1.7.2,.2.2-.2.2,1.2.3-1.5.2,.4.2,2 .2-4.2.2,1.3.3-.2.2-2.4.2,1.6.2,2.4.2-2.1.3-1.5.2,1.1.2,.5.2-2.2.3,.9.2-.2.2,.2.2-4.1.2,3.6.3-2 .2,.5.2-2.5.2,4.9.2-1.8.3-1 .2,2.2.2,3 .2-5.7.3-1 .2,1 .2,1.1.2-2.3.2-1.8.3,1.6.2-.3.2-2.5.2,2.3.3-1.5.2-1.9.2,4.2.2,1.5.2-5.1.3,.8.2-1.6.2,0 .2-1.1.2-1.5.3-1.4.2,.3.2,3.7.2,1.9.3-4 .2,2.1.2,.3.2,2.4.2,.9.3-1 .2-2.5.2-.5.2,.5.2,1.3.3,2.3.2-3.1.2,1.3.2-3.4.3-1.3.2,3.5.2-1.4.2-3.3.2,3 .3-1.3.2-1.3.2-.5.2,.2.2-3.2.3,1 .2,2.7.2,1.3.2,.4.3,.4.2-.9.2,1.7.2-5.7.2-.2.3,1.3.2-2.8.2-1.5.2,4.3.3-1 .2,2.5.2,.9.2-2 .2,.4.3-1.4.2,1.3.2-1.8.2-.4.2,4 .3-.7.2,3.7.2,.3.2-3 .3-2.8.2,2.4.2,.4.2-.1.2,1.4.3-3.9.2-1.5.2,.9.2,1.6.2,.3.3,.5.2,1.4.2,2.2.2-.6.3-1.3.2,.3.2-2.4.2,4.6.2,.3.3-1.5.2-1.8.2,1.4.2,.4.3,.6.2,0 .2,.7.2,.5.2-.8.3,1.6.2,.8.2,2.5.2,1.2.2-.4.3-1.1.2,.9.2-2.4.2,2.2.3,.3.2,1.4.2-1.9.2,1.6.2,2.7.3,1 .2,3.4.2-2.7.2-4 .2,2 .3-.2.2-.3.2,1.7.2,1.8.3-1.6.2,2.7.2-.7.2-.2.2,2.2.3,2.8.2-1.9.2,.1.2-.7.2,2.2.3,.6.2-.9.2,.1.2,.2.3,1.2.2-.1.2,.1.2-.6.2,.3.3,.3.2,1.1.2-2.8.2,3.6.3-.1.2,3.9.2,.3.2-1.8.2,2.9.3-2 .2,1.8.2-1 .2,1.1.2,.8.3,.6.2-1.1.2,.8.2-.6.3,.6.2,1.5.2-1.4.2,1.5.2,.7.3-1.3.2-.7.2,1.1.2-.2.2,.7.3,2.3.2,1.1.2,.1.2-1 .3,1.4.2,1 .2,1.1.2,.2.2,.9.3-.5.2-.6.2,.5.2,2.4.2,1.1.3-.4.2-1.4.2,1.1.2-.4.3,.6.2-.5.2,1.9.2,1.2.2,.4.3-.2.2,0 .2-1.4.2,.7.3,1.7.2-.3.2,2.1.2-.6.2,.4.3,1 .2,.4.2,.5.2-.4.2,.5.3-.5.2,1.1.2-.8.2-.7.3,.9.2,.1.2,1.1.2,.5.2,.4.3,2 .2-.7.2,1 .2,.4.2,.4.3-.4.2,.4.2,.4.2,.3.3,.5.2-.4.2,1 .2,0 .2,.3.3,.2.2,.5.2,.5.2-.3.2-.1.3,.8.2,.9.2,.1.2-.2.3,.6.2,.4.2,1.1.2-.6.2,.2.3-.5.2-.1.2,.3.2,.1.3,0 .2,.3.2,.1.2-.1.2,.7.3,.7.2,0 .2,.3.2-.7.2,.4.3,.7.2,0 .2,.1.2-.4.3,.2.2-.1.2,.3.2,.7.2,.1.3,.3.2-.8.2-.2.2,.6.2,1.1.3,0 .2,0 .2,.1.2-.2.3-.1.2-.2.2,0 .2,.3.2,.2.3-.2.2,0 .2,.8.2-.4.2-.4.3,.5.2,.1.2-.6.2,.3.3-.3.2,.4.2,.2.2,.2.2,0 .3-.1.2,.2.2-.1.2,.2.3-.5.2,.1.2-.3.2,.5.2,0 .3-.4.2,.4.2-.4.2,.2.2,0 .3,0 .2,.1.2-.1.2-.1.3,.4.2-.3.2,.3.2,0 .2-.2.3,.5.2-.1.2-.2.2-.2.2-.1.3,.5.2,.3.2-.2.2-.6.3-.1.2,.4.2,0 .2-.1.2,.2.3,.1.2,.4.2,.2.2-.4.2-.1.3,0 .2-.4.2-.1.2,.6.3,0 .2-.1.2,.2.2,0 .2,.1.3-.8.2,.3.2-.2.2,.5.3,.6.2-.7.2-.1.2,.1.2,.2.3-.3.2-.1.2,.3.2-.4.2-.3.3,.4.2,1 .2-.7.2-.3.3,.2.2,.4.2-.2.2-.4.2-.1.3,.2.2,.4.2,.5.2,0 .2,.1.3,0 .2-.7.2,.3.2,.5.3-.5.2-.3.2,0 .2-.2.2,0 .3-.2.2,.4.2-.1.2,.3.2-.1.3-.2.2-.1.2-.1.2-.2.3-.3.2,.9.2,0 .2-.4.2,.1.3-.2.2-.4.2,0 .2,.1.3,.1.2,.4.2,.1.2-.4.2-.3.3-.1.2,.4.2,.5.2,0 .2,.1.3-.3.2,.4.2,.3.2-.6.3,.1.2,0 .2,0 .2,0 .2,.2.3,0 .2,.1.2-.3.2,.1.2,.4.3-.1.2-.4.2,0 .2,.1.3,.3.2,.1.2-.2.2-.1.2-.4.3-.2.2,.1.2,.5.2-.5.2,.1.3,.8.2-.6.2,0 .2-.1.3,.1.2-.1.2,.4" fill="none" stroke="#fddccd" stroke-width="1.4" stroke-linejoin="round"/><path d="M253.6,311l.2-.6.2-.8.3,.7.2-.6.2-.5.2,.7.3-.5.2-.3.2,.2.2-.3.2-.8.3-.9.2,.2.2-.3.2-.8.2-.4.3,.8.2-1.1.2-1.3.2,.3.3-1.3.2,1.5.2,.5.2-.5.2-1.5.3-.2.2-.4.2,.5.2-.1.2-.2.3-1 .2,.1.2,.2.2-.6.3-1.5.2,1.4.2,.2.2-1.1.2-.1.3-1.5.2,1 .2,.5.2-1.6.2-.3.3-.4.2-.2.2,.3.2,.1.3-1.1.2-.7.2-.6.2,.1.2,1.5.3-1.1.2-.7.2-.4.2,.6.3,0 .2-2.3.2-.4.2-.1.2,1.1.3-.7.2-2.5.2-.2.2-3 .2,3.3.3,.6.2,.8.2-.5.2-1.7.3,.1.2,.5.2-3.1.2-.1.2,.3.3-1.1.2,1.6.2-.6.2-1.1.2-1.8.3-.2.2-1.2.2-.1.2-.1.3,3.7.2-2.4.2-1.3.2-.1.2,0 .3-.1.2,.6.2,0 .2,2.9.2-.4.3-1.7.2-2.2.2,.9.2-2.3.3,.4.2,.4.2-.3.2-1.7.2,1.7.3-1.3.2-1.1.2,.8.2-.9.3,.4.2,0 .2,2.3.2-.9.2,.4.3,1.9.2-2.8.2,1.1.2-.5.2-2.3.3,.8.2,.9.2-2.6.2,.8.3-.5.2-1.2.2,.1.2,1.7.2,1 .3,.3.2-2.1.2-.2.2,1.5.2,.9.3-.4.2-.5.2,0 .2,1 .3-2.6.2-.2.2,.8.2-.5.2,1.3.3,.1.2,.8.2-.7.2,.2.2-.6.3,2.4.2-1.8.2-1.5.2-1.9.3,1.3.2-1 .2,.7.2-2.2.2-.6.3,.5.2,3.3.2-2.7.2-2.6.3,.3.2,1.2.2-1.6.2,.2.2,.9.3-2.4.2-.5.2-1.2.2,.8.2-1.2.3,1.3.2,.9.2,1.4.2-1.4.3,1.4.2-.5.2,.8.2-1.7.2-4.2.3,1.7.2,.7.2,.1.2,0 .2-1.3.3-4 .2,.5.2-.9.2,2.2.3,.7.2-1.7.2-.8.2,0 .2,.9.3,.2.2-.7.2-4.4.2-.9.2,3.1.3-.7.2-.6.2-.1.2,4 .3-1.1.2-2.6.2,.4.2,.7.2-.7.3-1.1.2,.5.2-.2.2-1.7.3,.2.2,3.2.2-.2.2-2.2.2-1.5.3,.1.2-.6.2,1.2.2-2 .2,.6.3-2.9.2,3 .2-.2.2-1.8.3,.3.2,.2.2,.9.2-.2.2-.5.3-.1.2-.3.2,.5.2,1.4.2-.4.3-2.5.2-2.2.2,.7.2,2.4.3-1.8.2-.4.2,.6.2-2.1.2-1.9.3,1.9.2,.1.2-1.5.2,1.6.2-1.4.3-2.9.2,.5.2-1 .2,2.1.3,3.6.2-2.8.2-5.3.2,2.8.2,.3.3,1.2.2,.6.2-2.2.2-1.2.3,3.6.2-1.7.2,.4.2-1.8.2-6.4.3,3.6.2-1.5.2,4 .2-1.9.2-3.4.3,1.3.2-1.8.2,3.2.2,1.9.3-3.2.2-.4.2-2.9.2,.8.2,3.8.3-.4.2,2.8.2-2.1.2,3.7.2-2.6.3,3.2.2-2.6.2-.9.2-3 .3-4.8.2-2.2.2,0 .2,2.3.2,2.3.3-2.5.2,3.2.2-.8.2-2 .2,1.8.3,2.5.2,2.4.2-.3.2-.5.3-6.1.2-3.9.2,2.6.2,2.1.2-.9.3,2.2.2-.9.2-.1.2,.3.3-.5.2-1.4.2-1.3.2-.8.2,4.6.3,0 .2,2.3.2-5.2.2,5.7.2-2.2.3-.2.2-2.7.2-2 .2-2.4.3,6.4.2,2.4.2,2.2.2-2.3.2-3.8.3-4 .2,.8.2,1.3.2,.6.2,1.4.3-5.6.2,5.1.2-.6.2,1 .3,.1.2,7 .2,3.5.2-1 .2,1.4.3-3.5.2-3.2.2-.2.2,.5.3-1.9.2,2.3.2,1 .2,2.7.2-.1.3,.8.2,.5.2,1.7.2-.6.2,2.1.3-2.2.2,1 .2,2.8.2,1.1.3-1.2.2,2.5.2,1.2.2-1 .2-1.3.3,.8.2,1.6.2-.3.2,2.3.2-2 .3-.5.2-2.3.2,3.2.2,4 .3,3.9.2-5 .2,.2.2-1.1.2,2.2.3-.9.2,1.5.2-4 .2,3.6.2-.9.3,5 .2,.5.2,1.7.2-2.9.3-1.2.2-1.8.2,.3.2,.9.2,4.7.3,.2.2,1.5.2,1.2.2,.5.3-1.8.2,1.8.2,1.8.2-1.8.2-.1.3,2.5.2,1.1.2-2 .2,1 .2,.5.3,.3.2-.4.2,1.3.2,.3.3,.3.2,2.1.2-1.5.2-.8.2,1 .3,1.2.2,.8.2,1.9.2-2.2.2,2.6.3,1.7.2,1.1.2-1.3.2-1.5.3,1.6.2,2.3.2,.6.2-.5.2,.7.3-.3.2,1.2.2,1.5.2,1.1.2,.7.3-.3.2-1.6.2,.2.2,2 .3-.3.2-.3.2,1 .2-.3.2,1.1.3,1.3.2-.4.2-1.5.2,2.9.3,1.2.2,.4.2-.1.2-1.4.2,.3.3,.7.2,.9.2,1.5.2,.8.2-.4.3,.4.2,.9.2,.6.2,.7.3-.2.2,1.9.2-.1.2,1 .2,.4.3-.3.2,.2.2-.8.2-.1.2,1.4.3,.3.2,.1.2,.8.2,1.2.3-.2.2,.1.2,.4.2,.2.2-.9.3,1 .2,.7.2-.3.2,.8.2-.1.3,.6.2,.6.2,.4.2-.7.3,.4.2,.7.2,.2.2,.4.2-.3.3,1.1.2,.8.2-.1.2,.9.3-.4.2-.3.2-.4.2-.4.2,0 .3,.2.2-.2.2,.8.2,.7.2,.3.3,.1.2,.4.2-.3.2,.3.3-.8.2,1.2.2,.3.2,.1.2,.5.3-.1.2,.3.2,.3.2,.4.2-.6.3,0 .2,.3.2,.1.2,0 .3,.1.2,0 .2,.3.2,.2.2-.5.3,.3.2-.3.2-.3.2,.6.2-.2.3,.2.2,.4.2,.1.2-.1.3,0 .2-.1.2,.4.2-.1.2-.2.3-.2.2-.7.2,.4.2,0 .3,.5.2-.5.2,.3.2,.4.2,0 .3,.2.2,.5.2-.4.2,.3.2-.4.3,.1.2-.3.2,.9.2-.5.3-.1.2,.1.2,.3.2-.2.2-.2.3-.8.2,.7.2-.1.2,.1.2,0 .3,.4.2,0 .2-.3.2,.1.3,.2.2-.1.2-.2.2-.3.2,.1.3,.1.2,.5.2-.8.2,.4.2-.3.3,.4.2,.4.2-.1.2,0 .3,0 .2,.2.2-.1.2,.2.2-.2.3,.2.2-.2.2-.1.2-.2.3-.5.2,.2.2,.2.2-.5.2,.2.3,.4.2,0 .2-.2.2-.1.2,.1.3-.6.2,.7.2,.6.2,.4.3-.7.2-.2.2-.2.2,.1.2-.6.3,.2.2,.7.2,.4.2-.7.2-.2.3,.6.2,.2.2-.2.2-.2.3,.2.2,.1.2-.3.2-.1.2-.3.3-.1.2,.1.2,.3.2-.2.2-.4.3,.2.2-.2.2,0 .2-.2.3,.4.2,.3.2,.3.2-.5.2,.1.3,0 .2,.1.2,0 .2-.1.3,.1.2,.2.2-.5.2-.1.2,.4.3,.1.2,.6.2-.5.2,0 .2,.2.3,.5.2-.3.2-.1.2-.4.3,.5.2-.1.2-.1.2-.1.2-.1.3,.4.2-.1.2-.6.2-.2.2,.3.3,0 .2,.3.2,0 .2-.1.3-.2.2,0 .2,.2.2,0 .2-.2.3,.3.2,.3.2,0 .2-.2.2-.8.3,.2.2,.2.2,.2.2,.3.3,.3.2-.4.2-.8" fill="none" stroke="#fc8d6f" stroke-width="1.4" stroke-linejoin="round"/><path d="M253.6,307.4l.2-.7.2,1.2.3-1.2.2,.6.2-.8.2-.4.3,0 .2,0 .2-.9.2-.3.2-.9.3-1.2.2-1.6.2,.3.2,.5.2-.6.3,.1.2-.1.2,.6.2,.2.3-.9.2-1.3.2-.3.2-.1.2-1.8.3,.8.2,.3.2-.8.2,.7.2,.3.3,.1.2-.9.2-.2.2-1.7.3,.7.2-.7.2,.8.2-1.2.2-2.9.3,.7.2,1.9.2-.8.2-1.4.2-2.5.3,2.7.2-.5.2,0 .2-.4.3-1.8.2-.9.2,.1.2,1.9.2,0 .3-.3.2,.8.2-2 .2-2.8.3,0 .2-.8.2,.6.2,.4.2-2.1.3,0 .2-1.4.2-.2.2-.6.2-.4.3-.5.2,1.2.2-.9.2-2.2.3-.3.2,1.3.2,.1.2,.7.2-1.4.3-.3.2,1.5.2,.2.2-1.6.2-1.2.3-.1.2-1.4.2,1.2.2-2.3.3,1.4.2-2.1.2,1.7.2,1.6.2,1.5.3-.4.2-1 .2-3 .2-1 .2-1.3.3,1.5.2-2.9.2-.9.2,1.5.3,.6.2-1.4.2,1.4.2,.1.2-2.7.3,.4.2,1.3.2-1.7.2,3.6.3-1.9.2-1.5.2-2.1.2,1.2.2-.9.3-.2.2,.7.2,1 .2-.7.2,.9.3,.7.2,.4.2-1.9.2,2.2.3,0 .2-1 .2-1 .2-.2.2,4.6.3-1.7.2-1.3.2-3.8.2,4.5.2,2.3.3-3.7.2,2.3.2,.6.2-1.7.3-.9.2-1.4.2,1.3.2-2.6.2-1.2.3-.3.2,.7.2,.4.2,2.5.2,.9.3-1.3.2-.1.2-.5.2,.2.3-2.9.2-.4.2-2.7.2-.9.2,2.1.3-.4.2-.8.2,1.8.2,.5.3-.5.2-.8.2,.7.2-1.8.2-3.7.3-1.8.2,1.1.2,5.2.2-1 .2-3.2.3,.7.2,1.2.2,1.6.2,.1.3,.2.2-.6.2-1.6.2-2.3.2,.5.3-2.4.2,1.2.2-.9.2-5 .2-.1.3,3.8.2-2.8.2,.2.2,1.4.3-.4.2-1 .2-.8.2,.6.2,2.3.3,1 .2-2.3.2-2.5.2,2.2.2,1.6.3-.2.2,1.4.2-3 .2-1.5.3-.3.2,1.4.2-.4.2,1.7.2-2.4.3,1.8.2,1.6.2-4.6.2,.1.3,.7.2-2.3.2,.8.2,.3.2-3.6.3-1.3.2,.5.2,.2.2-1 .2,1.4.3,1.2.2,.7.2-1.8.2,.8.3-3.3.2-1.4.2-1.7.2-.6.2-1 .3,3.4.2-.3.2,1.3.2-4.2.2,.5.3-2.1.2-.8.2,1.8.2,3.3.3-2.4.2,3.6.2-1.7.2-2.2.2,.8.3,1.7.2-1.4.2,1.9.2-2.7.2-1.5.3-2 .2,.2.2-2.2.2,1.6.3-1.5.2-2.2.2,2.4.2,.8.2-1 .3,2.3.2,1.5.2-.8.2-.9.3,2.2.2,.6.2,.9.2-1.3.2-.8.3-3.7.2-.3.2-4.3.2,1.3.2,3.4.3,1.1.2-1.2.2-1.6.2-.2.3,1.4.2-.2.2-2.9.2,5.8.2,.9.3-.9.2-4.4.2-7.5.2,6.6.2-2.1.3-2 .2,.5.2,.9.2,1.3.3-2.8.2,.2.2,1.6.2,3.8.2-3.6.3-4.1.2-2.3.2,4.2.2,1.2.2,.9.3-2 .2-3 .2,1.9.2-.1.3-.4.2,.9.2-.2.2-.2.2,.6.3,3.1.2-5.1.2,.6.2-2.6.3,.3.2,1.2.2-2.3.2,.6.2-.8.3,2.2.2-3.4.2,.6.2,3.1.2-4.1.3,2.7.2,.1.2,4.8.2,.7.3-5.4.2,2.2.2-.8.2,1.8.2,2.7.3-5.4.2-.5.2,.4.2,1.2.2-1.7.3,2.5.2-1.4.2,2.6.2,4.1.3-1.7.2,.7.2-1.5.2,2.1.2,2.1.3-2.2.2,.5.2-2.1.2,4.2.3-1.3.2-.8.2,3 .2,1.7.2-2.2.3,6.9.2,1.2.2,2 .2-.4.2-2.2.3,1.8.2,3.2.2-1.6.2,.4.3-5.1.2,1.7.2,1.7.2,2 .2-.3.3-.3.2,.4.2,3.4.2-1.3.2,.7.3,1.5.2-1 .2-1.1.2,4.1.3,.3.2,2.3.2-.3.2-2 .2-1.3.3-.3.2,3.7.2,2 .2-.6.2,1.2.3,.8.2,.8.2,.1.2-2.2.3,4.8.2-.1.2-.3.2-1.3.2,2 .3-.6.2,1.5.2,1.8.2,2.2.3-2.3.2-1.5.2,.2.2,3 .2,.4.3,1.3.2-.2.2-1.1.2-.6.2,2.1.3,0 .2,.6.2-.8.2,2.3.3,2.7.2-1.3.2,.6.2,1.5.2,0 .3,.7.2,1.9.2-.8.2,1.8.2-.1.3-2.1.2,.3.2,1.1.2,1.6.3,.4.2,1.5.2,1.2.2-2.1.2,2.1.3-.1.2,.7.2,1.7.2,1.8.2-.3.3-.8.2-1.8.2,1.8.2,2.2.3-.8.2-.5.2,1.6.2,2.9.2-1.2.3,1.8.2,.8.2-.3.2,.4.3,0 .2,.3.2,1 .2-1.9.2,1.5.3,1.7.2,1.2.2,.6.2,.9.2-.1.3-1 .2,1.3.2-.6.2,.5.3,.1.2,1.3.2,.4.2,.5.2,1.2.3,.5.2,1.2.2,.2.2,.8.2-.5.3,.8.2,.5.2,.3.2,0 .3,.2.2-.8.2,.3.2,.7.2-.2.3,.4.2-.5.2,1.3.2,.4.2-.3.3-.2.2,.5.2-.3.2,.5.3,1.2.2,.3.2,.7.2,.2.2,.6.3,0 .2-.2.2,.5.2,0 .3,1.2.2,.4.2,.1.2,.4.2,0 .3,.9.2-.3.2-.2.2-.3.2,.8.3,.1.2-.6.2,.1.2,.3.3,.6.2,0 .2,.6.2,0 .2,.4.3-.9.2,.1.2,.6.2,.2.2,.3.3-.1.2-.2.2,1.2.2,0 .3-.2.2-.6.2-.3.2,.7.2,.3.3,.3.2-.2.2,.5.2,.3.2-.1.3,.4.2-.4.2,.4.2,0 .3,0 .2,.1.2-.3.2-.4.2,.7.3,.1.2,.4.2-.3.2-.1.3-.3.2-.1.2,.4.2-.9.2,0 .3,.1.2,.4.2,0 .2,0 .2,.7.3,.3.2-.3.2-.3.2-.2.3,.1.2,.8.2-.5.2,.5.2-.4.3-.7.2,.1.2,.1.2,.7.2,0 .3,.2.2,.2.2-.2.2,.2.3-.5.2-.1.2,.5.2,0 .2,.2.3-.5.2-.3.2,.4.2,.3.2-.2.3-.4.2-.1.2-.2.2,.2.3,.6.2-.3.2,0 .2-.3.2,.1.3-.3.2,.7.2,0 .2-.1.3,.3.2-.6.2,.1.2,.2.2-.1.3-.3.2,.1.2,.3.2,.1.2-.3.3-.2.2,0 .2,0 .2,.6.3-.1.2,.2.2-.5.2,.1.2-.1.3,0 .2,.5.2,.1.2,.2.2-.1.3-.2.2-.3.2-.3.2,.1.3,.2.2,0 .2,.7.2,.2.2,0 .3,.1.2-.4.2-.6.2-.1.2,.1.3,.5.2-.5.2,.1.2-.5.3,0 .2-.5.2,.4.2,.1.2,.2.3,.4.2,.5.2-.2.2-.6.3,.3.2,.1.2-.3.2,.1.2-.3.3-.4.2,.2.2,.5.2-.2.2,.2.3-.1.2-.1.2-.1.2,.3.3,.2.2,.1.2,0 .2-.1.2-.5.3-.3.2,.4.2,0 .2,.1.2,0 .3,0 .2,.2.2,0 .2-.3.3-.4.2,.1.2,.4.2,.4.2,.4.3-.4.2,.1.2-.4.2-.1.2,.2.3,.2.2-.2.2-.8.2,0 .3-.1.2,.7.2-.6" fill="none" stroke="#ec3a2d" stroke-width="1.4" stroke-linejoin="round"/><path d="M253.6,300.2l.2-1.5.2-1.1.3,.3.2-.1.2-.3.2-.1.3-.6.2,0 .2-.7.2-.3.2-1.4.3-1.1.2,1.1.2,.3.2-1.7.2-1.2.3-1.1.2,1.5.2-1.5.2,.9.3-1.3.2,.6.2,.4.2-1.5.2-1.1.3-.1.2-.5.2-2.7.2,.1.2-.6.3-1 .2,3 .2-1.4.2-1.1.3,.8.2-1 .2,0 .2,.2.2-.8.3-1.3.2,0 .2-2.1.2-1.8.2,.2.3,.9.2,.8.2,.1.2-.1.3-2.3.2-1.4.2-.8.2-1.6.2,1.1.3-3.1.2,.2.2,.1.2,.2.3,.4.2-1.5.2-.3.2,1.2.2-1.8.3,1.7.2,.2.2-2.4.2-.1.2,.7.3-1.7.2-1.4.2-2.1.2-.3.3,1.1.2-.7.2-.8.2,5.1.2-6.1.3,.4.2,.2.2-1.8.2,.1.2,1.7.3-1.9.2-3.8.2,1.4.2,2.4.3-4.5.2,3.2.2,1 .2-.5.2-3.4.3,.8.2,5 .2-3.9.2,.8.2-3.9.3-1.4.2-2.4.2-1.5.2-1.5.3,3.4.2-.9.2-.2.2,3.4.2,2.3.3-1.5.2,.4.2-.4.2-.4.3-2 .2,1.1.2,3.4.2,1.2.2-1.8.3-1.8.2,1.3.2,1.3.2-.4.2,1.6.3,1.1.2,0 .2,2.4.2-5 .3-.4.2,1.7.2,2.1.2-.2.2-.8.3-1.3.2,2.2.2-1.7.2-.9.2,2.3.3,1.4.2-.9.2-2 .2-.2.3,0 .2,2.5.2-3.9.2-1.1.2-1.4.3,3.7.2-.2.2,1.4.2-.7.2-2.2.3,.7.2-.5.2-1 .2-2.2.3,.6.2,1.2.2-.6.2-.9.2-.5.3,2.2.2,.2.2-3.1.2,.7.3,2.3.2,1.6.2,0 .2,.5.2-1.5.3,1.5.2-4.2.2-3.2.2,1.2.2,2.4.3,.9.2-3.3.2-2.1.2,1.1.3-3 .2-.2.2,2.7.2,2.1.2-.8.3,0 .2-4.2.2-.7.2,1.8.2-1.2.3-.5.2,1.6.2,.5.2-1.6.3-.6.2,1.5.2-1.8.2-.3.2,3.3.3-4.1.2-2.5.2-.4.2-.1.2-.1.3-1.1.2,1.4.2,1 .2-2.7.3-1.6.2,.6.2-2.2.2,2.9.2-1.4.3-.6.2-1.1.2-4.4.2-.3.3-.7.2-3.5.2,3.9.2,.4.2,1.6.3,.4.2-.4.2-3.3.2,1.6.2-.5.3,1.3.2,1.1.2-2.4.2,.3.3-1.2.2-1.6.2-1 .2,5.3.2-1.9.3,.8.2,1.2.2-3.5.2,5 .2-1.6.3-2.5.2,1.6.2-6.9.2-5.6.3-1.5.2,3.6.2,1.8.2,5 .2-4.8.3,2.2.2,2.4.2,.2.2-.9.2-.8.3-.2.2-.3.2-1.8.2,.4.3,.1.2-4.9.2,.1.2-.4.2,6.9.3-2.2.2-2.2.2-.1.2-1.8.3,.2.2-.9.2,4.1.2-2.8.2,2.5.3,3.1.2-4.5.2,2.5.2-5.2.2,1.3.3,.3.2-3.4.2,.3.2,4.4.3-7.6.2-1 .2,1.2.2,1.6.2,3.1.3,.6.2,1.5.2-1.7.2-2 .2,3.1.3,.4.2,.3.2-1.4.2-3.2.3-1.8.2-2 .2,2.3.2,.5.2-.2.3-1.4.2-2 .2-2.6.2,.5.2,1.5.3-1.5.2,6.5.2-6 .2-.8.3-1.1.2,2.7.2-3.9.2,0 .2-1.2.3,1.2.2,2 .2-7.8.2,6.1.3,2.8.2,1.1.2-2.5.2-.3.2,2.8.3,.6.2-3.3.2,2.7.2-1.8.2,4.1.3-3.5.2,.8.2-7.1.2,2.4.3-.9.2,.3.2-1.2.2,.7.2,.5.3,.1.2,4.8.2-2 .2,2.5.2-.1.3-4.4.2,3.4.2,5.2.2-2 .3,.7.2,1.1.2,5 .2,.5.2-2.1.3,1.8.2-4.5.2,7.3.2,2.2.3-3 .2-2.3.2,.1.2,.9.2,6.6.3,1.6.2,.8.2-2.1.2-1.3.2,1.9.3,1.5.2,2.8.2-4.2.2,5.9.3,2.8.2-3 .2-1.3.2,1 .2-2 .3-.8.2,3.4.2-1.8.2,3.7.2,.4.3-2.2.2,4.2.2,4 .2-1 .3,1.2.2-.1.2,4.6.2-3.5.2,.7.3,2.8.2-.1.2,.5.2-.6.2,4.3.3-.2.2-.6.2,.3.2,1.6.3,.5.2-2.8.2,3.1.2,1.1.2-1 .3-1.3.2,1 .2-.4.2-1 .3,4.1.2,.9.2-.1.2,.4.2,.6.3,.1.2,.1.2,.4.2,3.3.2,.8.3,1.9.2-1.2.2-1 .2,.6.3,1.3.2,1.1.2,2.3.2,2.7.2-4.6.3,1.8.2,1.2.2-.5.2,.5.2,.8.3,1.7.2,1.8.2-2 .2,.6.3,.1.2,2.8.2,1.4.2-.5.2-.3.3,.7.2-1.4.2,1.9.2,0 .2-.5.3,1.1.2,1.6.2,1.7.2,.3.3,.2.2,2.7.2,0 .2,1.8.2,1.3.3,1.4.2-1.3.2,1.3.2-.5.3,0 .2,1.3.2-.6.2,.3.2,.9.3,1.3.2-.4.2,1.4.2,.9.2,1.8.3-1.3.2-.8.2-1.1.2,2.2.3,.9.2-1.2.2,1.6.2-.3.2,1.1.3,0 .2-.3.2,1.6.2,.1.2,.9.3,1.7.2-.8.2-.1.2,.2.3-.4.2,.7.2,.3.2,.3.2,.1.3,1.1.2,.4.2,.3.2,.3.2,.5.3,.7.2,0 .2,.6.2-.2.3,.5.2-.4.2-.4.2,1.2.2,1.3.3,1.1.2-.6.2-.7.2,1 .3-.1.2,1.4.2-.6.2-.5.2,.2.3,0 .2,.8.2,0 .2,.6.2,.2.3,1.2.2,.2.2,.2.2-.2.3,.1.2,.5.2,0 .2,0 .2,.5.3,1 .2-.1.2,.3.2-.1.2,.5.3-.8.2,.1.2-.8.2-.7.3,.9.2,.8.2-.4.2,.8.2,.4.3-.3.2-.3.2-.4.2,.6.2,.7.3-.1.2-.5.2-.3.2,.6.3,.4.2,0 .2,.2.2,.1.2,.3.3-.2.2-.5.2,.4.2-.2.3-.1.2,.3.2,.3.2,.1.2,0 .3,0 .2,.4.2-.8.2,.5.2,0 .3-.1.2,.2.2,.4.2-.2.3,.1.2,.3.2-.6.2,.2.2,.1.3-.5.2-.2.2,.4.2-.7.2,.1.3,.6.2,0 .2,0 .2,.5.3-.1.2-.3.2-.2.2,.3.2-.2.3,.3.2,.1.2,0 .2,.1.2-.1.3,.3.2,.2.2-.1.2-.9.3,.6.2-.5.2,0 .2,.5.2,0 .3-.1.2-.4.2,.4.2-.2.3-.2.2,.3.2,.1.2-.1.2,.1.3-.2.2,.2.2-.2.2,.2.2-.3.3,.4.2-.1.2,.2.2,.2.3,.1.2-.3.2,.3.2-.2.2,.4.3-1 .2-.1.2,.7.2-.3.2-.2.3,.5.2,.3.2,.2.2-.5.3-.1.2-.1.2-.7.2,.3.2,.5.3-.5.2,0 .2-.3.2,.4.2,.3.3-.2.2,.1.2-.2.2-.3.3,.2.2,.1.2,.2.2,.1.2,.3.3-.2.2-.1.2,.2.2-.2.3,.2.2-.4.2,.1.2-.2.2-.2.3-.3.2,.4.2,.1.2-.1.2,.3.3,.4.2-.4.2-.3.2-.1.3,.5.2-.5.2,.2.2-.1.2-.3.3,.4.2,1.1.2-.3.2-.5.2-.3.3,.4.2-.3.2-.3.2-.2.3,.3.2,.2.2,0 .2-.3.2,.2.3,.2.2,0 .2-.3.2,.2.2,.3.3,.3.2-.4.2,.3.2-.5.3,.4.2,0 .2-.4" fill="none" stroke="#a8141b" stroke-width="1.4" stroke-linejoin="round"/></g><line x1="253.60" y1="193.80" x2="408.70" y2="193.80" stroke="#b2b2b2" stroke-width="1.2"/><line x1="253.60" y1="193.20" x2="253.60" y2="323.10" stroke="#8a8a8a" stroke-width="1"/><line x1="408.70" y1="193.20" x2="408.70" y2="323.10" stroke="#8a8a8a" stroke-width="1"/><line x1="253.10" y1="322.60" x2="409.20" y2="322.60" stroke="#8a8a8a" stroke-width="1"/><text x="249.30" y="320.10" font-size="9.2" text-anchor="end" textLength="25.4" lengthAdjust="spacingAndGlyphs">2,000</text><line x1="253.60" y1="301.57" x2="256.70" y2="301.57" stroke="#7a7a7a" stroke-width="0.9"/><line x1="253.60" y1="286.25" x2="256.70" y2="286.25" stroke="#7a7a7a" stroke-width="0.9"/><text x="249.30" y="289.45" font-size="9.2" text-anchor="end" textLength="25.4" lengthAdjust="spacingAndGlyphs">2,500</text><line x1="253.60" y1="270.93" x2="256.70" y2="270.93" stroke="#7a7a7a" stroke-width="0.9"/><line x1="253.60" y1="255.60" x2="256.70" y2="255.60" stroke="#7a7a7a" stroke-width="0.9"/><text x="249.30" y="258.80" font-size="9.2" text-anchor="end" textLength="25.4" lengthAdjust="spacingAndGlyphs">3,000</text><line x1="253.60" y1="240.28" x2="256.70" y2="240.28" stroke="#7a7a7a" stroke-width="0.9"/><line x1="253.60" y1="224.95" x2="256.70" y2="224.95" stroke="#7a7a7a" stroke-width="0.9"/><text x="249.30" y="228.15" font-size="9.2" text-anchor="end" textLength="25.4" lengthAdjust="spacingAndGlyphs">3,500</text><line x1="253.60" y1="209.62" x2="256.70" y2="209.62" stroke="#7a7a7a" stroke-width="0.9"/><text x="249.30" y="197.50" font-size="9.2" text-anchor="end" textLength="25.4" lengthAdjust="spacingAndGlyphs">4,000</text><text x="253.20" y="334.40" font-size="9.2" text-anchor="middle" textLength="15.9" lengthAdjust="spacingAndGlyphs">650</text><line x1="269.11" y1="322.60" x2="269.11" y2="319.50" stroke="#7a7a7a" stroke-width="0.9"/><line x1="284.62" y1="322.60" x2="284.62" y2="319.50" stroke="#7a7a7a" stroke-width="0.9"/><text x="284.22" y="334.40" font-size="9.2" text-anchor="middle" textLength="15.9" lengthAdjust="spacingAndGlyphs">700</text><line x1="300.13" y1="322.60" x2="300.13" y2="319.50" stroke="#7a7a7a" stroke-width="0.9"/><line x1="315.64" y1="322.60" x2="315.64" y2="319.50" stroke="#7a7a7a" stroke-width="0.9"/><text x="315.24" y="334.40" font-size="9.2" text-anchor="middle" textLength="15.9" lengthAdjust="spacingAndGlyphs">750</text><line x1="331.15" y1="322.60" x2="331.15" y2="319.50" stroke="#7a7a7a" stroke-width="0.9"/><line x1="346.66" y1="322.60" x2="346.66" y2="319.50" stroke="#7a7a7a" stroke-width="0.9"/><text x="346.26" y="334.40" font-size="9.2" text-anchor="middle" textLength="15.9" lengthAdjust="spacingAndGlyphs">800</text><line x1="362.17" y1="322.60" x2="362.17" y2="319.50" stroke="#7a7a7a" stroke-width="0.9"/><line x1="377.68" y1="322.60" x2="377.68" y2="319.50" stroke="#7a7a7a" stroke-width="0.9"/><text x="377.28" y="334.40" font-size="9.2" text-anchor="middle" textLength="15.9" lengthAdjust="spacingAndGlyphs">850</text><line x1="393.19" y1="322.60" x2="393.19" y2="319.50" stroke="#7a7a7a" stroke-width="0.9"/><text x="408.30" y="334.40" font-size="9.2" text-anchor="middle" textLength="15.9" lengthAdjust="spacingAndGlyphs">900</text><text x="216.40" y="258.50" font-size="9.6" text-anchor="middle" textLength="67.8" lengthAdjust="spacingAndGlyphs" transform="rotate(-90 216.40 258.50)">Intensity (a.u.)</text><text x="331.15" y="347.60" font-size="10" text-anchor="middle" textLength="80.6" lengthAdjust="spacingAndGlyphs">Wavelength (nm)</text><text x="258.20" y="205.20" font-size="10" textLength="21.5" lengthAdjust="spacingAndGlyphs">DMF</text><rect x="371.0" y="197.10" width="8.1" height="7.7" fill="#0b2e6c"/><text x="383.30" y="204.40" font-size="10" textLength="14.0" lengthAdjust="spacingAndGlyphs">0 s</text><rect x="371.0" y="207.00" width="8.1" height="7.7" fill="#1f6db5"/><text x="383.30" y="214.30" font-size="10" textLength="14.0" lengthAdjust="spacingAndGlyphs">4 s</text><rect x="371.0" y="216.90" width="8.1" height="7.7" fill="#6aaad6"/><text x="383.30" y="224.20" font-size="10" textLength="14.0" lengthAdjust="spacingAndGlyphs">8 s</text><rect x="371.0" y="226.80" width="8.1" height="7.7" fill="#c5daef"/><text x="383.30" y="234.10" font-size="10" textLength="19.3" lengthAdjust="spacingAndGlyphs">12 s</text><rect x="371.0" y="236.70" width="8.1" height="7.7" fill="#fddccd"/><text x="383.30" y="244.00" font-size="10" textLength="19.3" lengthAdjust="spacingAndGlyphs">16 s</text><rect x="371.0" y="246.60" width="8.1" height="7.7" fill="#fc8d6f"/><text x="383.30" y="253.90" font-size="10" textLength="19.3" lengthAdjust="spacingAndGlyphs">20 s</text><rect x="371.0" y="256.50" width="8.1" height="7.7" fill="#ec3a2d"/><text x="383.30" y="263.80" font-size="10" textLength="19.3" lengthAdjust="spacingAndGlyphs">24 s</text><rect x="371.0" y="266.40" width="8.1" height="7.7" fill="#a8141b"/><text x="383.30" y="273.70" font-size="10" textLength="19.3" lengthAdjust="spacingAndGlyphs">28 s</text><clipPath id="clipe"><rect x="492.3" y="193.7" width="154.40000000000003" height="128.90000000000003"/></clipPath><g clip-path="url(#clipe)"><path d="M492.3,317.5l.2-.2.2-.4.3-.3.2-.1.2,.2.2,.1.2,.3.3,.4.2,0 .2-.4.2,0 .2,.1.3,.3.2-.1.2,.1.2-.1.2-.2.3,.7.2-.3.2,.3.2,0 .3,.1.2-.6.2-.3.2-.1.2,.3.3,.4.2-.1.2-.2.2,0 .2-.3.3,.2.2-.6.2,0 .2-.4.2,.3.3,.3.2,.4.2-.3.2-.2.2,.1.3,0 .2,.2.2,.2.2,0 .2,.6.3,0 .2-.3.2-.2.2-.4.2-.1.3,0 .2,.1.2,.8.2-.3.3,.2.2-.4.2,.1.2,0 .2,.1.3-.1.2,.5.2,.2.2-.8.2-.2.3,.2.2,0 .2,.1.2-1.1.2,.2.3,.2.2,.4.2,.7.2-.3.2-.6.3-.2.2,.1.2,.3.2,.3.2-.2.3,.1.2,.2.2-.7.2,.4.2,.1.3,.6.2-.9.2,0 .2,0 .3-.1.2,.3.2,.1.2-.2.2,.2.3-.3.2-.4.2-.1.2-.3.2,0 .3-.3.2,.3.2,.2.2,.5.2,.1.3,.2.2-.1.2,.2.2-.2.2-.9.3,.5.2-.1.2-.1.2,.4.2,.1.3,.1.2-.2.2,.2.2-.9.2,0 .3-.1.2-.3.2,0 .2,.5.3,.1.2,.2.2,0 .2-.2.2,.8.3,.4.2-.2.2-.3.2,0 .2,0 .3-.4.2-.1.2,.1.2,.2.2,.5.3-.4.2-.1.2,.3.2-.3.2,.1.3,.1.2,.4.2-.5.2,.2.2-.2.3-.1.2,.2.2-.1.2,.1.2,0 .3-.1.2,.2.2-.3.2,0 .3,.4.2-.3.2,.1.2-.2.2,.7.3-.3.2,.5.2-.2.2-1.2.2,0 .3-.1.2,.5.2,.4.2-.1.2-.1.3,0 .2,.2.2,.2.2-.1.2-.6.3,.1.2,.2.2,.1.2,.2.2,.3.3-.3.2-.6.2,0 .2,.5.2-.6.3,.1.2-.5.2,.3.2,.6.2-.1.3,0 .2,.3.2,.1.2-.1.3,.1.2-.4.2-.1.2,.2.2,0 .3-.3.2-.1.2,.5.2-.2.2-.6.3,.1.2,.4.2-.4.2-.6.2,.3.3,1 .2,.3.2-.8.2,.1.2-.2.3,0 .2,0 .2-.4.2,.2.2,0 .3,.1.2,.1.2-.7.2,.7.2,.5.3-.5.2,.5.2-.1.2,.2.3-.4.2,0 .2-.2.2,.3.2,0 .3,.7.2-.6.2-.2.2,0 .2,0 .3,.2.2-.1.2-.6.2,.4.2,.2.3-.2.2,0 .2,.2.2-.5.2-.3.3,.4.2-.4.2,.7.2-.4.2,.7.3-.2.2,0 .2,.1.2-.3.2,.4.3,.1.2,.2.2-.7.2,.3.3-.2.2,.1.2-.3.2,.4.2,.2.3,.1.2-.2.2,.1.2-.3.2-.2.3-.2.2,0 .2-.3.2,.4.2,.2.3,.3.2,.1.2,.3.2-.4.2-.1.3,.6.2-.3.2,.1.2,0 .2-.1.3-.5.2,0 .2,.6.2-.3.2,.2.3-.7.2,.3.2,0 .2,0 .3,.3.2,0 .2-.1.2-.8.2,.2.3,0 .2,.1.2,.1.2-.1.2-.3.3,1.1.2,0 .2,0 .2-.4.2,.2.3-.5.2-.2.2,.3.2-.2.2,.3.3-.3.2,0 .2-.3.2,0 .2,.5.3-.4.2,.2.2-.2.2,.1.2-.1.3,.5.2-.4.2,.4.2,0 .3-.1.2,.5.2-.3.2-.1.2-.3.3,.2.2,.3.2,.2.2,.1.2-.3.3,0 .2-.3.2-.4.2,.3.2,.2.3-.1.2-.1.2,.7.2,0 .2-.2.3-.3.2,.1.2,.3.2-.8.2,1.1.3-.8.2,.3.2,0 .2-.1.2-.2.3,.3.2,.3.2-.3.2-.5.2,.2.3-.7.2,.7.2-.3.2,0 .3-.3.2,.5.2-.2.2,.1.2,.8.3-.2.2,.3.2-.3.2-.4.2,0 .3-.7.2,0 .2,.4.2,.1.2-.1.3,.2.2-.2.2-.2.2-.2.2,.1.3,.1.2,.4.2-.2.2,0 .2-.1.3-.1.2,.3.2,0 .2,.1.2,.3.3,.3.2-.1.2-.5.2,.6.3-.5.2-.4.2-.3.2,.2.2,.1.3-.4.2-.1.2-.4.2,.4.2,.3.3-.3.2,.2.2,.1.2-.4.2-.1.3,.4.2-.2.2,.2.2-.3.2,0 .3,.5.2-.6.2,.2.2,.1.2,.3.3-.1.2,.1.2-.2.2-.1.2-.3.3-.1.2,.4.2,.3.2,.2.3-.5.2,.3.2-.5.2,.1.2,.1.3,0 .2-.5.2,.2.2,.3.2,.4.3,.4.2,0 .2-.7.2-.1.2,.3.3,.7.2-.7.2-.1.2,.6.2-.1.3,.1.2-.5.2-.2.2,.3.2,.6.3-.2.2-1 .2,.1.2,.3.2-.2.3,.3.2-.5.2,.8.2,0 .3-.6.2-.2.2,.1.2,.7.2-.1.3-.2.2,.2.2,0 .2-.3.2,.2.3-.1.2,.2.2,.4.2,.3.2,0 .3,0 .2-.6.2,0 .2,.6.2-.7.3-.7.2,.5.2-.1.2,.2.2-.1.3,.1.2,0 .2,.1.2,.3.2,0 .3,.2.2,.1.2,0 .2-1 .3,0 .2-.3.2,.8.2,.2.2-.3.3-.3.2,.1.2,.3.2,.5.2-.2.3,.5.2-.3.2,.1.2,0 .2,.1.3,.3.2,.1.2-.4.2,0 .2,.1.3-.5.2-.1.2-.1.2,.6.2-.5.3-.1.2,.4.2,.1.2-.3.2-.4.3,.3.2,.4.2-.4.2,.2.2-.3.3,.1.2,.1.2,.2.2-.5.3,.3.2,0 .2,.2.2-.6.2,.2.3,.4.2,0 .2,.5.2-.1.2,.2.3-.6.2-.5.2-.5.2,.5.2,.4.3,.7.2-.3.2,.1.2-.6.2-.5.3,.7.2,0 .2-.5.2,.6.2,.4.3-.5.2-.1.2,.6.2-.3.2,0 .3-.1.2-.1.2-.5.2-.1.3,.6.2-.4.2-.1.2,.1.2,.4.3,.3.2-.1.2-.5.2,0 .2,.1.3,0 .2,0 .2,.2.2,0 .2,.6.3-.2.2-.4.2,0 .2-.4.2-.3.3,.4.2,.6.2-.1.2,.4.2-.5.3,.1.2-.3.2,.2.2,.2.2-.5.3,.1.2,.1.2,0 .2,.2.3,.1.2,.3.2-.2.2-.2.2,.3.3,.4.2-.2.2-.4.2-.3.2,0 .3,.3.2-.2.2,.1.2-.3.2,0 .3,.4.2-.2.2,0 .2-.3.2-.4.3,.7.2,.2.2,.1.2,0 .2,0 .3-.6.2-.1.2,.2.2-.1.2,.1.3,.2.2,0 .2-.2.2-.2.3,.4.2,0 .2-.1.2-.1.2,.2.3,.1.2,.4.2,.1.2,0 .2,0 .3-.4.2,0 .2,.1.2,.1.2-.2.3,.4.2-.7.2,.4.2,.1.2-.2.3,0 .2-.2.2,.6.2-.2.2,.2.3-.6.2,.6.2-.2.2-.3.2,0 .3-.1.2,0 .2-.1.2-.3.3,.2.2-.3.2,.2.2-.2.2,.6.3-.5.2,0 .2,0 .2-.4.2,.6.3,.4.2,.7.2-.7.2-.2.2-.6.3,.2.2,0 .2,.2" fill="none" stroke="#0b2e6c" stroke-width="1.4" stroke-linejoin="round"/><path d="M492.3,316.8l.2-.1.2,.2.3,.1.2,0 .2,.2.2-.7.2,.3.3-.1.2-.1.2,.1.2-.6.2,0 .3-.3.2,.6.2,.2.2,.5.2-.8.3,.1.2-.3.2-.5.2,.6.3-.3.2,0 .2-.1.2-.1.2-.2.3,.2.2,.5.2,0 .2-.2.2-.1.3,.2.2-.1.2-.2.2-.6.2,0 .3,.3.2-.2.2,.3.2-.3.2,.4.3-.6.2,.2.2-.6.2,.1.2,.2.3-.2.2,.1.2-.1.2-.8.2,0 .3,0 .2,.9.2-.7.2-.2.3,.1.2,.5.2,.3.2,0 .2-.4.3-.3.2-.3.2-.2.2-.1.2,.1.3,.4.2-1.1.2-.2.2-.2.2,.2.3,.7.2-.8.2,.4.2,.5.2-.6.3-.7.2,.3.2-.1.2-.3.2,0 .3,0 .2-.3.2-.3.2,.4.2,0 .3-.2.2-.4.2,0 .2,.3.3-.1.2,.4.2-.2.2-.6.2,0 .3-.1.2-.2.2,.1.2,.5.2,.1.3-.7.2,0 .2,.6.2-1 .2,.3.3,.5.2-1.3.2-.1.2,.2.2-.3.3-.1.2,.5.2-.4.2,.4.2,.2.3,.5.2-.5.2-1.3.2,.8.2,.2.3-.5.2-.9.2,.3.2,0 .3,.3.2,.2.2-.6.2,.3.2-.5.3-.3.2,.4.2,.5.2-.1.2,.4.3,0 .2-.4.2-.4.2-.1.2,.9.3-.3.2-.6.2-.7.2-.3.2,1.3.3,.3.2-.2.2,.2.2,.5.2-.1.3-1 .2-.1.2-.5.2-.3.2-1 .3,.3.2-.4.2,.6.2,.1.3,.8.2,.1.2,.1.2-.8.2,0 .3-.2.2-.1.2-.2.2,1 .2-.9.3,.8.2-.4.2-.7.2,.3.2-1.1.3-.1.2,.4.2,.7.2,.6.2-.6.3-.1.2-.2.2-.3.2,.3.2,0 .3-.3.2,.7.2,.1.2,.2.2-.5.3,.1.2-.5.2,.3.2,.6.2-.3.3,.1.2,.3.2-.4.2-.1.3,.4.2-.3.2-.1.2-.1.2-.2.3,0 .2-.4.2-.1.2-.3.2,.1.3,.1.2,.2.2,.2.2,.1.2,.5.3,.1.2-.2.2,.2.2-.5.2-.3.3-.6.2-.2.2,1 .2-.6.2-.5.3,0 .2,.6.2-.1.2-.6.2-.2.3,0 .2,.1.2-.2.2,.6.3,0 .2,.3.2-.2.2,1 .2-1.4.3-.1.2-.9.2,.9.2-.8.2-.4.3,.4.2,.6.2,.4.2,.5.2-.7.3-1.1.2,.2.2,.4.2,.8.2-.4.3-.8.2,.2.2-.4.2,.5.2,1.5.3-.6.2-1.3.2,1.3.2-2.4.2-.6.3,1.2.2,0 .2,0 .2-.5.3,1.2.2,.5.2,.7.2-.3.2,.1.3,0 .2-.1.2,.3.2-1.7.2,.3.3-.5.2,0 .2,.5.2,1 .2,.4.3,.1.2-.4.2-1.1.2,.5.2,1.3.3,0 .2-.2.2-.3.2,1.5.2-.1.3-1.2.2-.8.2-.7.2,.8.2,.6.3,.5.2,.8.2,.5.2-.7.3-.9.2,.7.2,1.5.2-.8.2,.5.3,.4.2,.5.2-.3.2-.5.2,.5.3,.1.2-.4.2,.4.2,.5.2-.1.3-.4.2,.2.2,.7.2-.1.2,0 .3-.7.2,.7.2-.2.2,.4.2,0 .3-.6.2-1.1.2,.7.2,.4.2,.1.3,.2.2,.6.2,.7.2,.1.3-.2.2-.3.2,.3.2,.9.2-.5.3,0 .2,.1.2-.6.2-.8.2,.2.3-.2.2,1.5.2-.8.2,.7.2,.1.3-.7.2,.2.2,.3.2-1.1.2,0 .3-.3.2,.2.2,.9.2,.1.2,1 .3-.7.2,.4.2,.3.2-.2.2,.5.3-.3.2,.5.2-.4.2,.5.2,.7.3-1.4.2-.2.2,.4.2,.8.3,0 .2,.1.2,.3.2-.6.2,.3.3-.5.2,.3.2-.7.2,.9.2,.2.3-.1.2,.6.2,.2.2,0 .2-.4.3,.1.2-.2.2,.6.2-.2.2,.7.3-.5.2,.6.2-.5.2,0 .2,.4.3,.1.2-.2.2,.2.2,.6.2-1 .3,.2.2-.5.2,.3.2,1.2.3-.7.2,0 .2,.1.2-.3.2,.5.3-.3.2,.3.2,.3.2,.2.2,.4.3,.1.2,0 .2-.7.2-.2.2,.1.3-.3.2,.6.2,0 .2-.1.2,.2.3-.1.2-.1.2-.3.2,.7.2,.5.3,.2.2,.1.2-.3.2-.2.2,0 .3-.2.2,.2.2,.1.2,.2.3,0 .2-.3.2-.1.2-.2.2,.3.3,.3.2,.3.2,.3.2-.4.2-.4.3,.3.2-.1.2,.3.2,0 .2-.1.3,.1.2,0 .2,0 .2-.4.2,.3.3-.1.2,.7.2-.5.2,.5.2,0 .3-.6.2,.1.2-.4.2,.4.2-.1.3,.6.2-.5.2,.1.2,.3.3-.4.2-.1.2,0 .2,0 .2,.3.3,.3.2-.2.2,.5.2,.3.2-.1.3-.6.2-.2.2,.1.2,.5.2-.3.3-.5.2,.7.2,.2.2-.1.2-.4.3,.6.2-.3.2,.4.2,0 .2,.1.3,0 .2-.1.2,0 .2,.4.2-.2.3-.7.2-.1.2,0 .2,0 .3-.2.2,.5.2-.2.2,0 .2,.1.3-.1.2,.2.2,.1.2-.4.2,.5.3-.2.2-.4.2,0 .2,0 .2,.1.3,.2.2-.3.2,.1.2,.2.2-.3.3,.1.2,.1.2-.4.2,0 .2,.8.3-.8.2,.3.2,.1.2-.3.2,0 .3-.1.2,.4.2,.5.2-.4.2,.1.3,.6.2-.5.2-.1.2,.2.3,.3.2-.5.2-.5.2,0 .2-.1.3,.5.2-.2.2-.1.2-.2.2-.3.3,.4.2,.1.2,.4.2-.1.2-.1.3,.3.2-.3.2-.1.2,.5.2-.2.3-.3.2,.2.2-.1.2,.2.2,.6.3-.3.2-.3.2,.4.2-1.1.2-.3.3,.7.2-.2.2,.1.2,.1.3,.6.2-.4.2,0 .2,.4.2-.1.3-.5.2,.3.2,0 .2-.1.2,0 .3-.4.2-.1.2-.3.2,.5.2,.3.3,.4.2-.1.2-.4.2,.5.2-.4.3-.3.2,.3.2,.1.2-.5.2-.5.3,.8.2-.5.2,.4.2-.1.2,.5.3,0 .2,.2.2-.4.2,.1.3-.1.2,.6.2-.4.2,.2.2-.1.3-.1.2-.3.2,.4.2-.3.2-.2.3,.4.2-.3.2,.2.2-.2.2,.6.3-.1.2,.2.2-.3.2,.5.2-.8.3,0 .2,.5.2-.6.2-.1.2,.5.3-.2.2,.1.2-.1.2,.5.2-.1.3-.3.2-.4.2,.1.2,0 .3-.2.2,.1.2,.1.2-.1.2,.4.3-.5.2,.5.2,0 .2-.2.2,.2.3-.4.2,.4.2,.1.2,.6.2-.5.3-.4.2,.4.2,0 .2-.3.2,0 .3,.1.2-.6.2,.1.2,.4.2-.3.3,0 .2,.7.2,.1.2,.1.2-.1.3-.3.2,.4.2-.2.2-.1.3,0 .2,.2.2,.1.2-.1.2-.2.3,0 .2-.2.2,.1.2-.3.2,.5.3-.5.2,0 .2-.1.2,.3.2-.4.3-.5.2,.2.2-.7" fill="none" stroke="#1f6db5" stroke-width="1.4" stroke-linejoin="round"/><path d="M492.3,317l.2-.8.2,.2.3,0 .2-.1.2-.4.2-.1.2,.1.3,.2.2-.1.2-.4.2,.3.2,.2.3-.3.2-.3.2-.2.2,.5.2,.4.3-.6.2,.5.2-.1.2-.3.3-.6.2-.1.2,.2.2,.2.2,.1.3,.6.2-.9.2-.1.2-.1.2,.6.3-.2.2-.5.2-.2.2-.1.2,.7.3,.2.2-.1.2-.7.2-.6.2,.4.3-.1.2-.3.2,0 .2,.1.2,.4.3-.2.2-.4.2-.4.2,.3.2-.3.3-.2.2,.7.2-.2.2-.1.3-.3.2,.4.2,.7.2-.5.2,.5.3-.5.2-.4.2-.2.2-.4.2,.1.3,.3.2-.2.2-.2.2-.1.2,.4.3-.4.2-.1.2-1 .2,.5.2-.1.3-.3.2-.3.2,.3.2-.5.2-.6.3,.5.2-.2.2-.2.2,0 .2,.1.3-.8.2,.6.2-.2.2,.2.3-.4.2,.5.2,.1.2-.4.2,.2.3-.9.2,.3.2-1.4.2,.2.2,1.3.3,.1.2,.3.2-.5.2-.6.2-.7.3-.3.2-.2.2,.5.2,.4.2-.1.3,.4.2,.5.2-.5.2,.1.2-1 .3,.1.2-1.1.2,.4.2,.1.2,.6.3,0 .2-.7.2,.2.2-1 .3-.2.2,.4.2,.3.2-.3.2-.1.3-.5.2-.4.2,.5.2-.2.2,.2.3-.2.2,.5.2-.9.2,.1.2-.1.3-.3.2-.4.2,1 .2-1.1.2,0 .3,.1.2,.4.2-.7.2-.4.2,.6.3,.2.2-.3.2-.2.2,.4.2-.5.3-1.1.2,.8.2-.7.2,.5.3-.1.2,.8.2-1 .2,.3.2-.1.3,.4.2-.1.2-.7.2-.7.2-.2.3,1.4.2,.1.2-1.2.2-1.3.2,.1.3,1.3.2,.4.2-.6.2,.7.2,0 .3-.7.2-.3.2-1.2.2,.9.2-.6.3,.4.2,.3.2-1.6.2-.1.2,.8.3,.4.2-.6.2-.3.2-.3.2,.3.3-.5.2,1.1.2,.3.2,.1.3-.5.2-.5.2-1 .2-.2.2-.4.3-.3.2-.5.2,.6.2,.6.2-.3.3-.4.2-.1.2-1.2.2,.9.2,.3.3,.8.2-1 .2-.4.2,.7.2-.4.3,.4.2-.1.2-1.1.2,.9.2,.4.3-.8.2-.6.2,.2.2-1.4.2-.3.3,1 .2,.6.2,.4.2-.7.3-.3.2,1.1.2-1 .2-.6.2,.7.3,.6.2,1.8.2-1 .2-.8.2-1.2.3-.7.2,1.5.2,.2.2-.7.2,0 .3,.7.2,.1.2,.4.2-.8.2,.9.3-.4.2,.8.2-.8.2,.3.2-2.2.3,1.1.2,.1.2,.7.2-.8.2,.7.3-1.2.2-.4.2-.2.2,.5.3-.6.2-.4.2-.2.2,0 .2,.1.3,0 .2,.1.2-.7.2-.7.2,.5.3,1.3.2,.4.2-1.2.2,0 .2-.1.3,.5.2-.9.2-1.2.2,.2.2,1.5.3-.4.2-1.4.2-.9.2,1.1.2,.7.3-1.8.2,.2.2,2 .2,1.8.2-1.8.3-.4.2,.4.2,.1.2-.7.3,.5.2-.3.2-.3.2-.6.2,0 .3,1.4.2-1 .2-.5.2-.8.2,.3.3,.3.2,2.4.2-1.1.2-.5.2-1.9.3,1.2.2-.2.2,2.3.2-1.1.2-1.4.3-.9.2,.5.2-.3.2,1 .2-1.9.3,1.5.2-.2.2-.2.2,.3.2,1.7.3,.4.2-1.5.2-.1.2,.5.3-1.5.2,.7.2,.1.2-1 .2-.7.3,2.5.2,.5.2-.5.2,.7.2,.4.3-.8.2,.6.2-.3.2,.4.2-.7.3,.9.2-1.2.2,.6.2,.1.2,1.7.3,.6.2-2 .2,.7.2-.4.2,.6.3-.3.2,.9.2,.1.2-.8.2-.8.3,1.2.2,.5.2,.8.2,0 .2,.5.3,1.2.2-1 .2-1 .2,.5.3,1 .2,.3.2-.9.2-.3.2,.8.3,.5.2,.6.2-.5.2-.6.2,1.4.3,.3.2-.4.2,.6.2-.1.2,.3.3-.2.2,0 .2-.4.2-.3.2,.5.3,.9.2,1 .2,.8.2-.7.2,0 .3,.5.2,.3.2,.8.2-.1.2,1.1.3,0 .2-.4.2,.6.2-.8.3,.6.2,.5.2,.1.2-.5.2-.3.3,.5.2,.3.2,.6.2-.6.2,.2.3,.8.2,1.3.2,1.2.2-.7.2-.5.3,.4.2,.1.2-.2.2,.9.2-.1.3,.5.2,0 .2-1 .2,.8.2,.1.3-.1.2-.7.2-.3.2,.7.2-.8.3,.8.2,.6.2,.6.2,.1.3,.4.2-.4.2,.2.2,.2.2-.9.3,.2.2,1 .2-.2.2-.1.2,.1.3,.2.2,1.2.2-.1.2-1.2.2,.5.3,.7.2-.1.2-.1.2,.2.2,0 .3,.9.2,.4.2,.5.2-.4.2-1 .3,1.1.2,.4.2-.2.2,.2.2,.6.3-.1.2,.2.2,.2.2-.1.3-.5.2,0 .2-.4.2,.2.2,.5.3,.4.2-.8.2-.1.2,.4.2,.4.3,.4.2-.2.2,.2.2-.4.2-.4.3,.7.2,.4.2,.4.2-.1.2,.2.3-.1.2,0 .2-.4.2,.6.2-.3.3-.2.2,.1.2-.3.2-.3.2,.6.3,.2.2,.4.2,.1.2-.2.3-.5.2-.1.2,0 .2,.3.2,.3.3-.1.2-.1.2-.3.2,.1.2-.4.3,.3.2-.6.2-.4.2,.3.2,.2.3,1 .2,0 .2,0 .2,0 .2,.4.3-.4.2-.5.2,.3.2,0 .2,.1.3,.6.2-.2.2-.2.2,.4.2,.2.3-.3.2,.1.2-.3.2,.2.2-.3.3-.3.2,.5.2,.2.2,.4.3-.1.2,.1.2-.1.2-.1.2-.3.3-.2.2-.1.2-.4.2,0 .2-.2.3,.2.2,.8.2,0 .2,.1.2,.1.3-.2.2-.5.2-.1.2,0 .2-.3.3,.7.2-.7.2,.5.2,.2.2,0 .3,.1.2,.5.2-.5.2-.2.2-.1.3,.2.2,0 .2-.3.2,0 .3,.2.2-.2.2-.1.2,.5.2-.2.3-.1.2,.1.2,.1.2-.4.2-.1.3,.1.2-.7.2,.5.2,.9.2,.2.3-.2.2-.7.2,.1.2,.8.2-.3.3-.5.2-.4.2,.4.2,.4.2,.1.3-.6.2,.6.2-.4.2-.4.2,.4.3-.4.2,.2.2-.3.2,.1.3,.3.2,.3.2,0 .2,0 .2,0 .3,0 .2-.2.2,0 .2,.2.2,.1.3-.1.2-.4.2,0 .2,.1.2,.6.3-.1.2-.1.2,.2.2-.2.2,0 .3,.4.2,.1.2-.4.2-.4.2,0 .3-.5.2,.1.2-.2.2,.1.2,.6.3,.3.2-.1.2-.3.2,.3.3-.2.2,.1.2,.2.2-.3.2-.3.3-.4.2-.1.2,.5.2,.3.2-.3.3,.4.2-.2.2-.1.2,0 .2,.4.3,.2.2,.1.2-.4.2-.1.2,.3.3-.2.2-.4.2,.6.2,.5.2-.2.3-.3.2,.2.2-.1.2,.1.2-.1.3-.3.2,.1.2,.1.2-.4.3,.2.2,0 .2,.3.2-.4.2,.4.3,0 .2,.3.2,.2.2-.6.2-.1.3-.2.2,.4.2-.2.2-.2.2,0 .3,.2.2-.5.2,0" fill="none" stroke="#6aaad6" stroke-width="1.4" stroke-linejoin="round"/><path d="M492.3,316.9l.2-.8.2,.6.3-.6.2,.1.2-.3.2-.4.2,.3.3-.2.2-.4.2,0 .2-.1.2,.1.3,.1.2-.2.2,.1.2-.7.2,.7.3,0 .2-.5.2-.3.2,.3.3,0 .2,.1.2-.4.2-.3.2,1 .3-.2.2,.5.2-.3.2-.4.2-.6.3-.2.2-.5.2,.6.2-.2.2-.1.3,0 .2-.1.2-.4.2-.5.2,.8.3,.1.2,.5.2-.5.2-.9.2,.4.3-.6.2-.4.2-.3.2,.1.2,0 .3,.4.2-.8.2,.5.2,.2.3-.1.2,.2.2-1.1.2,0 .2,.5.3,0 .2-.7.2,0 .2-.2.2,.8.3-1.3.2-.4.2,.4.2,.2.2,.5.3-1.1.2-.9.2,.3.2,.1.2,.3.3,0 .2,.9.2,.9.2-1.1.2-1.4.3-.4.2,.5.2,.7.2-.8.2,.2.3-.3.2-.2.2-.2.2-1.1.3,1 .2,0 .2-.9.2-.4.2-.6.3,0 .2-.1.2,1 .2-1.3.2,.3.3,.3.2,.6.2-.2.2,.7.2-1.8.3-.6.2,.3.2,.7.2,1 .2-1.8.3,.5.2,.6.2-2 .2,.3.2,.4.3,.4.2-.2.2,.4.2,.3.2-1.6.3-.6.2-.2.2,.2.2-.1.3,.8.2,.1.2,.1.2-.2.2-.1.3-.8.2-.3.2-.4.2,0 .2-.2.3-.1.2,1 .2,.2.2-.8.2-1.2.3,.4.2,.1.2-.3.2-.8.2,.4.3,1.6.2-1.3.2-.3.2-.1.2,.7.3-.2.2-.7.2-.1.2-1.1.2,0 .3,0 .2-.1.2-.8.2-.8.3,.2.2,2.2.2,.9.2,.1.2-.4.3,.6.2-.4.2-.9.2-.7.2,.1.3-.7.2-2.2.2,.9.2,1.2.2,.1.3-.6.2-.4.2,.1.2-.8.2,.1.3,.8.2,0 .2-.4.2-.3.2,.8.3-.3.2,.1.2,.2.2-1.2.2,0 .3,0 .2,.2.2,.5.2-.4.2-1.2.3-.5.2,.1.2-.2.2,1.2.3-.2.2-.6.2,.4.2-2.4.2,0 .3,.4.2,1.1.2,1.8.2-2.6.2-1.8.3,.9.2,.3.2,.2.2-1.4.2-.2.3-.2.2,0 .2,.8.2-.5.2,2 .3-1.2.2-.3.2-.1.2-1.2.2,.2.3-.2.2,.3.2-.2.2-1.3.2,1.1.3,.1.2-1.6.2-.7.2-1.5.3,1.8.2,0 .2,.7.2-.3.2-.1.3-2.6.2,.1.2,1.7.2-1.5.2,0 .3,.1.2,.3.2,1.1.2-2.9.2-.2.3,.9.2-.7.2,.2.2,.5.2-.6.3,1.5.2-.4.2-.7.2,1.4.2-.6.3-.3.2,.1.2-1.6.2-.1.2,0 .3,1.1.2-.1.2,1 .2,0 .3-1.3.2-.5.2-1.3.2,.3.2-.2.3-1.5.2-.5.2,1 .2-.3.2-.9.3-.6.2,.5.2,1.4.2-2.2.2,.3.3,.8.2,1.9.2-.6.2-1.2.2-.4.3,.8.2,.1.2-1.4.2,1 .2-1.6.3,1 .2-.2.2-.1.2,.7.2-.1.3,.3.2-1.3.2-.4.2,.9.3,1.1.2-1.9.2,.7.2-.6.2-.2.3-.3.2-.2.2-.2.2-.1.2,.5.3-1.6.2-.9.2,1.9.2,1.4.2-1.2.3,0 .2-.7.2-1.8.2-.8.2,1.3.3,.7.2,.7.2-.4.2-.1.2,.3.3-2 .2,.4.2,1.5.2-1 .2-1.4.3-.8.2,1 .2,2.4.2,.9.3-.7.2,1.8.2-.2.2,.2.2-2.6.3,1.3.2,.1.2-.3.2-1 .2-.9.3-1.8.2,1.3.2,1.7.2,1.5.2-.2.3-.8.2-1.4.2,0 .2,1.1.2,.2.3,1.2.2,.9.2-.8.2,2.1.2-.8.3-.2.2,.6.2-.1.2,2.2.2-1.3.3,.2.2-.6.2,.5.2,.8.2-1.8.3,1.3.2,0 .2,1.9.2,.6.3-1.8.2-.1.2,.1.2,1.1.2,.8.3-1.8.2,2.4.2-.1.2,1.1.2,1.3.3-1 .2,1.5.2-1.3.2,.5.2,1.2.3-.2.2,.6.2,1.7.2-1 .2,1.4.3,0 .2,.1.2,.3.2,.2.2,.3.3-1.4.2,1 .2,1.2.2,2.2.2-.9.3-1.6.2,.3.2,0 .2,0 .3,1.3.2-.3.2,.5.2,1.4.2-.3.3,.2.2-.1.2,.7.2,.7.2-1.4.3,.3.2,1.3.2,.1.2,1.1.2-.5.3-.3.2,.5.2-.1.2,.8.2-.9.3,1.6.2,.9.2-.1.2-.4.2,.4.3-.7.2,2.2.2,.2.2,.3.2,.2.3,.3.2,.8.2-.7.2,.9.3,.4.2,.5.2-.5.2,0 .2,1.3.3-.6.2-.4.2,.3.2,.3.2,.5.3-.3.2-.2.2,.6.2,1.2.2-.4.3-.4.2-.2.2,.2.2,.4.2,.2.3,.5.2-.1.2,.2.2,.1.2,.4.3,0 .2,.6.2,0 .2-.1.2,.3.3,.8.2,.1.2-.2.2-.4.3,.3.2,.1.2,.4.2,.1.2-.3.3,.4.2,.3.2-.4.2-.1.2,1.6.3,0 .2-.3.2-.4.2,.6.2-.5.3,0 .2-.2.2,.3.2,0 .2,.7.3-.4.2,.2.2,.7.2,0 .2-.2.3,.6.2-.5.2-.6.2,.7.2,0 .3,.5.2-.4.2,.1.2,.4.3,0 .2,0 .2,.5.2-.4.2-.4.3,.8.2,.3.2-.3.2-.6.2,.2.3,.5.2,.2.2,.1.2,.4.2-.4.3-.3.2,.5.2,.1.2-.3.2,.4.3,.2.2-.1.2,.4.2-.1.2,.5.3-.3.2-.2.2-.1.2-.3.2,0 .3,.4.2-.6.2,.1.2,.3.2,0 .3-.1.2,.2.2-.1.2,.2.3,.1.2,0 .2,0 .2-.6.2,.8.3-.4.2-.3.2-.2.2,.2.2-.6.3,.3.2,.5.2,0 .2-.2.2-.3.3-.1.2,0 .2,.3.2,.3.2,.1.3,.1.2,.3.2-.5.2,.2.2-.1.3-.1.2,0 .2,.1.2,0 .2-.1.3,.1.2,.1.2,.5.2-.8.3,.3.2-.2.2,0 .2-.2.2-.3.3-.2.2,.3.2,.1.2,0 .2,.2.3,0 .2-.4.2-.1.2,.6.2-.1.3-.2.2,.2.2-.1.2,0 .2,.3.3,0 .2,0 .2-.1.2-.2.2,.2.3,.6.2-.1.2,.1.2-.2.2,.2.3-.6.2-.1.2-.1.2,0 .3,.2.2,.4.2-.3.2-.1.2-.4.3,0 .2,0 .2,.2.2,.5.2,.3.3-.1.2,.2.2-.3.2,0 .2-.5.3,.2.2-.2.2,.6.2,.2.2-.7.3-.2.2-.5.2,0 .2,.2.2-.1.3,.2.2-.2.2,.4.2,0 .2-.4.3,.5.2,.2.2-.1.2-.1.3,.3.2-.1.2,0 .2-.2.2,.1.3-.5.2,.4.2-.6.2,.6.2,0 .3,.3.2-.6.2,.1.2,0 .2,.5.3,0 .2,0 .2-.5.2,.5.2-.4.3,0 .2-.2.2,.1.2,.4.2,0 .3,.3.2,.1.2-.6.2-.1.2,.7.3-.5.2-.1.2-.2.2,.6.3,.5.2-.6.2-.2.2-.2.2,.5.3-.6.2,.5.2,.3.2-.1.2,0 .3-.2.2-.3.2,.4.2-.1.2,.2.3-.2.2,.5.2-.2" fill="none" stroke="#c5daef" stroke-width="1.4" stroke-linejoin="round"/><path d="M492.3,315.8l.2-.4.2,.3.3-.3.2-.2.2,0 .2-.3.2,.8.3-.6.2-.5.2,.1.2-.2.2,.4.3-.7.2,.3.2-.2.2,.5.2,.3.3-.9.2,.2.2,.5.2-.1.3-.3.2,.4.2-.4.2-.3.2-.6.3,1.2.2-.6.2-.3.2-.8.2-.3.3-.3.2,.8.2-.6.2-.3.2-.6.3,.1.2,.5.2,.2.2,.3.2-.2.3-.6.2-.2.2,.1.2,.2.2-1 .3,.2.2,0 .2-.4.2-.2.2,.7.3-.6.2-.3.2-.1.2,.2.3,.4.2-.6.2,0 .2-.9.2-.1.3,.9.2-1.2.2-.4.2,.8.2,.6.3,.1.2-1.2.2,.9.2-.9.2-.8.3-.5.2,.8.2,.1.2,.4.2-1 .3-.7.2,1 .2,.3.2-1 .2-.6.3-.2.2-.8.2,.6.2-.7.2-.1.3-.2.2-.1.2-1.1.2,.2.3-1 .2,0 .2-1.1.2,1.5.2,.4.3-.3.2-.1.2-1.5.2-.3.2-.1.3-.6.2,.7.2-.4.2-.5.2,1.5.3,.3.2-.7.2-1.6.2,.4.2,.5.3-1.2.2,.9.2-.2.2-.1.2-1 .3,.1.2,.2.2-.5.2,.5.2,.5.3,.5.2-.6.2-1.6.2,.4.3,.7.2-1.7.2,.7.2-.5.2-.7.3,.3.2,.6.2-.4.2,0 .2,.5.3,.2.2-.6.2-.5.2,1 .2-1 .3-.2.2,.2.2,0 .2-1.3.2,.5.3-.3.2-.1.2,.2.2,.5.2-.5.3,1.1.2,0 .2-2.3.2,0 .2,.2.3-.5.2,.1.2,0 .2-.2.3-.2.2,0 .2,0 .2,.5.2-.4.3-.3.2-.4.2,.3.2-.1.2,0 .3,0 .2-.2.2,.1.2,0 .2-.8.3-.5.2-.4.2,1.3.2-.4.2-.6.3-.5.2-.5.2,1 .2,.7.2,.2.3-.3.2-.9.2,1 .2-2.3.2,1.6.3-.2.2,0 .2,1.2.2-.9.2-.5.3-1.6.2-.8.2,.7.2,1.1.3-.9.2,.5.2-1 .2,.7.2,0 .3-.3.2,.5.2,.6.2,.1.2-.1.3-2.4.2-.8.2,.6.2,.5.2,.2.3-2.1.2,1.7.2,.9.2-1.6.2-.3.3,.3.2-1 .2-1.4.2-.2.2-2 .3,.4.2-.5.2-.1.2-.6.2,1.4.3,2 .2-.4.2-.1.2-.5.3,1.5.2-2.1.2,.3.2-.6.2-2.4.3-.1.2-.7.2,.5.2-.3.2,1.5.3-1.1.2,.4.2,1.1.2-1.3.2-3.5.3-.1.2,.5.2,2.3.2-1.8.2-.3.3-.8.2,1.8.2-1.2.2-2.2.2-1.9.3,1 .2-1.9.2-.1.2,.9.2-.8.3,.6.2-1 .2,.9.2,3.6.3-.8.2-.9.2,.3.2-2.6.2-.3.3-.4.2-1.8.2,1.1.2,.7.2,1.4.3-2.3.2,1.6.2-.7.2-.6.2,.9.3-2.6.2-.2.2,.8.2,1.8.2-2 .3-2.3.2-1.5.2,2.8.2-.5.2,.4.3-1.2.2,3.9.2,.2.2-4.1.2-1.4.3,2.1.2,2 .2-.6.2-3.4.3-2.3.2,1.2.2,.2.2,1.8.2-.7.3-.5.2,2.2.2-2.3.2-1.2.2,1.6.3,1.2.2-1.3.2-2.4.2-.6.2-.3.3-2.2.2,3.2.2,.5.2-1.1.2-.4.3-.3.2,2.1.2,.5.2-.5.2-.4.3,1.4.2,0 .2-1.1.2-1.5.2,.4.3-.3.2,.5.2-2.1.2,1.9.3-3 .2,4.6.2-1.8.2-.7.2-2.6.3,1.7.2,.4.2,.9.2-.3.2-.1.3,2.6.2,1 .2-.5.2-2.1.2-.5.3,1.1.2,.2.2,2.9.2,1 .2-.4.3-1.8.2,.6.2,1 .2,.8.2,.9.3,1.2.2-1.5.2,3.1.2-1.7.2-.2.3,.1.2-1 .2-.4.2,1.2.2-.5.3,3.2.2,.4.2,.5.2-.3.3,2.2.2,1.3.2,.5.2-1.1.2,.7.3,.8.2,.7.2,.2.2-.8.2,2.2.3-2 .2-.8.2,1.2.2,.6.2,1.8.3-1.2.2-.9.2-.1.2,2.8.2,0 .3,1.8.2-.3.2,1.4.2,.5.2,.1.3-.7.2,.4.2-.3.2,.6.2,1.5.3-.4.2,2.1.2,2.1.2-2.3.3-.4.2-.4.2,1 .2,.3.2-2.3.3,.8.2,2.4.2-2.1.2,2 .2,3.3.3,.5.2-1.1.2-.5.2,.4.2-.2.3,0 .2,.2.2,1.2.2,1.5.2-.9.3,1.3.2,.5.2,.6.2-.7.2,.1.3,.1.2,.6.2,.8.2-1.5.2,.2.3,.2.2,.5.2,1 .2,.9.3-.7.2,1.2.2,.8.2,1 .2,.1.3,.1.2,1 .2,.6.2,.1.2,.6.3,.2.2-.2.2,0 .2-.5.2,.2.3,1.1.2-.6.2,.5.2-.4.2,0 .3,.5.2,.6.2-.2.2,.1.2,.3.3-.3.2,.1.2,1.3.2,1.2.2,.6.3-1 .2-.2.2,0 .2,.6.3,.3.2-.2.2,.6.2,.9.2,.1.3,0 .2-.6.2,.2.2,.4.2,.5.3-.3.2,.7.2,.3.2,.3.2,.6.3-.4.2,0 .2-.7.2,.6.2,.2.3-.1.2,.4.2,0 .2,.3.2,.5.3-.5.2-.2.2,.7.2-.4.2,.6.3-.2.2-.2.2-.1.2,.3.3,.2.2,.6.2-.5.2,.5.2-.2.3,.1.2-.7.2,.5.2,.4.2,.1.3,.1.2,.1.2-.5.2,.1.2,.4.3-.4.2-.3.2,.4.2-.4.2,.4.3,.5.2,.3.2-.4.2,.2.2-.3.3,.4.2-.2.2,0 .2,0 .2,.3.3,.1.2,0 .2,.6.2-.4.2,.4.3-.2.2-.3.2-.2.2-.3.3,.9.2,0 .2,.4.2,0 .2-.2.3-.2.2,0 .2,.2.2-.1.2,.1.3-.2.2-.2.2,.5.2-.4.2,.1.3-.3.2,.7.2,.1.2-.1.2-.1.3,.4.2,0 .2-.5.2,.1.2-.4.3,.2.2,.2.2,.1.2-.2.2-.3.3-.3.2,.2.2,.4.2-.1.3,.4.2-.3.2,.4.2,0 .2-.6.3-.5.2,.3.2-.1.2,.3.2,.3.3-.3.2,.2.2,0 .2,.1.2-.3.3,0 .2-.2.2-.1.2,.6.2,.5.3-.4.2-.1.2,.3.2-.7.2,0 .3,0 .2,.3.2,.1.2-.3.2,.3.3,.1.2-.1.2,.8.2-.2.3-.1.2-.3.2,0 .2-.2.2,.3.3-.3.2-.1.2-.1.2,0 .2-.1.3,.1.2-.7.2,.1.2-.3.2,.3.3,.4.2,.8.2,.2.2-.8.2,.6.3-.4.2-.6.2,.1.2-.1.2,.5.3-.1.2,0 .2,.4.2-.1.2-.1.3-.1.2-.2.2,.8.2-.1.3-.3.2,.4.2-.4.2-.1.2,.1.3-.1.2-.1.2,.1.2-.4.2,.2.3,0 .2,.7.2,.1.2-.5.2,.3.3-.4.2-.2.2,0 .2,.1.2,.2.3-.7.2,.6.2,.2.2-.1.2,.2.3-.4.2-.1.2-.1.2,.3.2-.6.3,0 .2-.1.2,.3.2,.6.3-.5.2,0 .2,.3.2-.7.2,.5.3,.3.2,.5.2,.4.2-.9.2,0 .3,0 .2-.1.2-.7.2,.4.2,.1.3-.2.2,.1.2,.3" fill="none" stroke="#fddccd" stroke-width="1.4" stroke-linejoin="round"/><path d="M492.3,315.6l.2-.2.2-.4.3,0 .2-.3.2,.2.2-.2.2,.4.3,.1.2,0 .2-.7.2,.2.2,.2.3-.2.2-.5.2-.2.2,.2.2,.5.3-.9.2,0 .2-.4.2,.4.3-.6.2-.2.2-.3.2,0 .2,.5.3,.3.2,0 .2-.7.2-.3.2-.2.3-.4.2-.1.2-.1.2-.1.2-.3.3,.5.2,0 .2-.3.2-.4.2,1 .3-.1.2-.6.2,0 .2-.7.2-.5.3,.3.2,.4.2-2 .2,.7.2,0 .3-.6.2,1 .2-.9.2,0 .3-.2.2-.4.2,.4.2,.1.2-.8.3-.1.2,.3.2-.6.2-.2.2-.3.3-.2.2,.5.2,.1.2-.8.2-.6.3,.4.2-.8.2-.5.2-.8.2,.5.3,0 .2,.2.2,.3.2-1 .2,.6.3-.2.2-.7.2-.9.2,.3.2,.3.3-.2.2-.5.2-.4.2,.2.3,.3.2-.7.2-.7.2,.6.2-.3.3,.1.2,.3.2-1.3.2-.2.2-.5.3,.2.2,.3.2-1 .2,.8.2-.8.3-.5.2-.9.2,2.2.2-.4.2-.9.3,0 .2-.3.2-.5.2,.8.2-1.3.3-.9.2-.1.2,2.3.2-1.4.2-1 .3,1.8.2-.3.2,.6.2-1.5.3-.7.2,.4.2,.4.2,1.2.2-1.6.3-.3.2-1 .2-.8.2,.5.2-.9.3,.3.2,.1.2,1.5.2-1.3.2,.9.3-.5.2-1.8.2-1.6.2,1.8.2-1 .3-.5.2,1.5.2-.6.2,1.4.2-.8.3,0 .2-.5.2-.7.2-.4.2,.3.3-.7.2,1 .2,.1.2,0 .3-1.7.2,.8.2-.8.2,.2.2,.5.3-1.9.2-.1.2-.7.2-.2.2,.5.3,2.3.2,1.4.2-1.7.2-1.5.2-1.3.3-.3.2-1 .2,.4.2,.3.2,.6.3,.8.2-.4.2,.1.2-.8.2,.5.3,1.1.2-.6.2,1 .2-1.4.2-.6.3,.7.2,.1.2-.1.2-2.5.2-.5.3,.4.2-.1.2-.2.2-1.7.3,.2.2-1.1.2,1.6.2,.8.2-1.8.3-1.5.2-.1.2,.1.2-1.8.2-.3.3,.5.2,.1.2,1 .2,.4.2-1.7.3-.3.2-.8.2,1.4.2-1.4.2,1.2.3-1.5.2-1.7.2,1.3.2-1.9.2,1.4.3,1.8.2-1.3.2,0 .2,.2.2-2.4.3,.4.2,.5.2-.7.2-2.1.3,.4.2,.3.2-.5.2-1 .2,1.7.3-2.2.2,.7.2-1.5.2,.7.2-.4.3-1.7.2,1.4.2,1.6.2-1.7.2-1 .3-.8.2,1.2.2,2 .2-5 .2-.9.3-2.6.2,2.2.2-.2.2,2.8.2-2.9.3-.1.2-.7.2,.4.2,1.4.2-.2.3,.8.2,.6.2-2.1.2-2.6.3-.5.2-.3.2,.4.2,3 .2-.1.3-2.3.2,.2.2,1.6.2-1.4.2,2.3.3-2.8.2-.9.2-1.2.2,2.3.2,1.5.3-3.2.2,0 .2-.6.2-1.3.2-1.7.3-.6.2,2.7.2-.5.2-.3.2-2.7.3,2.7.2,0 .2-1.3.2-1.1.2,.9.3-1.1.2,2.6.2-2 .2,.8.3,1.8.2-3.2.2,1.4.2-3.9.2-.2.3,.9.2-1.3.2,1.1.2,3.6.2-2 .3-.2.2-3.1.2-3.8.2,1.8.2-1.5.3,1.9.2,1.3.2,.3.2,1.5.2-.1.3,1 .2,.6.2-1.8.2-3.3.2-1.3.3-1.9.2,.6.2,1.6.2,0 .2,1 .3,1.3.2-1.2.2-.3.2,2.1.3,.4.2-.6.2,2.4.2-.9.2-1.7.3,.9.2,1.9.2,1.1.2,0 .2-.3.3,0 .2,.8.2-.3.2,.2.2-2.9.3,1.4.2,.4.2-.3.2,.2.2,.1.3,1.8.2-1 .2,.8.2-1.2.2-.2.3,1.1.2-1.3.2,.1.2,.5.2,3.1.3-2.7.2,1.4.2,1.1.2,.7.2-2.3.3,4.6.2,1.9.2-.5.2,1 .3-.2.2-.4.2,1 .2-2.4.2,4.5.3,1.1.2-.6.2,.4.2-.3.2,1.2.3,.2.2,1.5.2,2.3.2-1.1.2,2.3.3-1.5.2-1 .2,3.1.2,1.3.2,1.3.3-.8.2,0 .2,1.6.2,.8.2,0 .3-.5.2,1.2.2-1.2.2,2.7.2-2 .3-.6.2,2.5.2-1.8.2,2 .3,2.3.2,.1.2-.4.2,1.7.2,.3.3,2.8.2-.5.2-1.9.2,1.5.2,.5.3,.2.2-.2.2,1 .2,1.1.2-.3.3-1.1.2,1.5.2-.2.2,1.1.2,1.9.3,1.1.2-.9.2-.6.2,1.9.2,.1.3-1 .2-.1.2-.4.2,.5.2,.4.3,1 .2,.8.2,0 .2-.9.3,1.4.2-.2.2-1.3.2,1.6.2,1.3.3,1 .2,.2.2,.3.2,.3.2,1.5.3,0 .2-.2.2,.1.2-.2.2,0 .3,.2.2,.8.2,.2.2,.5.2-.2.3,1.1.2,.2.2,1.1.2,.1.2-.6.3,.6.2,.6.2,.1.2-.1.2,.7.3,0 .2,1 .2-.3.2-.5.3,.5.2-.7.2,.8.2,.6.2,.2.3,.1.2-.3.2,.9.2,.1.2-.5.3,.2.2,.9.2-.4.2-.2.2,.8.3,.4.2-.5.2-.2.2,.3.2,.7.3,.8.2,.1.2-.7.2,.5.2-.3.3,.4.2-.2.2,.7.2-.1.2,0 .3,.7.2,0 .2-.1.2-.6.3,0 .2,.7.2,.5.2-.1.2,.5.3,.1.2,.1.2,0 .2,.3.2-.6.3,.7.2-.1.2-.5.2,.5.2,.2.3,.4.2-.1.2-.2.2-.4.2,.6.3,0 .2,.2.2,.3.2,.1.2,0 .3-.2.2-.2.2,.3.2,.7.2-.6.3,.1.2-.1.2,.1.2,.2.2-.1.3-.4.2,0 .2,0 .2,.8.3,.2.2,.1.2-.9.2,.4.2-.5.3,.2.2,.2.2-.3.2,.2.2-.2.3-.2.2,.7.2-.2.2,.3.2-.1.3,.1.2-.1.2-.1.2-.4.2,.3.3-.1.2,0 .2,.2.2,.4.2,0 .3-.3.2,.4.2-.4.2,.4.2-.6.3-.5.2-.2.2,.3.2-.2.3,.3.2-.2.2,.2.2,0 .2,.3.3-.2.2,0 .2,.7.2,0 .2-.3.3,0 .2,0 .2-.1.2,.2.2,.2.3-.4.2,.1.2-.3.2,.4.2-.3.3-.8.2,.2.2,.4.2,.4.2-.2.3,.6.2-.4.2,.1.2,.2.2-.1.3,.1.2-.4.2,.2.2,.5.3-.5.2,.2.2-.2.2-.3.2-.2.3,.4.2-.1.2-.2.2,.2.2,.2.3,.4.2,0 .2,.2.2-.4.2-.7.3,.2.2-.1.2,.2.2,0 .2,.1.3-.8.2,0 .2,.5.2,.4.2,.3.3,.1.2-.2.2-.4.2-.5.2,.5.3,0 .2-.2.2,1 .2-.5.3-.1.2,.5.2-.5.2,.1.2,.8.3-.4.2-.4.2-.2.2,.4.2,.1.3,.2.2-.5.2-.2.2,0 .2,.3.3-.2.2,.5.2,0 .2-.2.2-.2.3-.1.2-.1.2,.2.2,.6.2-.5.3-.2.2-.4.2,.3.2,.4.2-.2.3-.5.2-.4.2,.4.2,.2.3,.2.2-.1.2-.6.2,.5.2,.2.3,.4.2-.2.2-.1.2-.2.2-.4.3,.8.2,0 .2-1.1.2,.3.2,.2.3,.2.2,0 .2-.4" fill="none" stroke="#fc8d6f" stroke-width="1.4" stroke-linejoin="round"/><path d="M492.3,315l.2,.1.2,0 .3-.4.2-.2.2,.5.2,0 .2,.4.3-.6.2-.1.2,0 .2-.8.2-.4.3-.6.2-.2.2-.2.2-.2.2-.3.3,.5.2,.1.2-.2.2-.8.3,.3.2,.1.2-.3.2,.1.2,.1.3-.4.2-.5.2,.7.2-.6.2-.7.3-.1.2-.2.2-.4.2,.4.2-.1.3,.7.2-1.3.2,.7.2,0 .2-.2.3-.9.2-.1.2,.5.2-.1.2,.2.3,.4.2-.8.2-1 .2-.2.2,0 .3-.3.2,.9.2-.1.2-1.1.3-.3.2,.1.2,.4.2,0 .2-.9.3-.7.2-.2.2-1 .2-.7.2,.7.3,.4.2-.1.2,.7.2-.5.2,0 .3-.4.2,.5.2-1.2.2,.4.2-1 .3,0 .2,.5.2-1.1.2-.4.2-.7.3-1.5.2,.2.2,0 .2,.8.2,.9.3-1.4.2-1.4.2,1.1.2-.3.3-.6.2,.1.2-.6.2,.5.2,.7.3,.2.2-2 .2-.4.2,.8.2,.5.3-1.3.2,0 .2-.4.2-.2.2,.4.3,.7.2-1 .2-.9.2-.4.2-.3.3,1 .2-.9.2,.2.2,.2.2-1.5.3,1.3.2-1 .2,.3.2-1.1.2-.4.3-.9.2,.6.2,.5.2,.2.3-1.5.2,.6.2,2 .2-1 .2,.1.3-.2.2,1.1.2-2 .2-.7.2-.4.3-1.4.2-.4.2,.8.2,1.2.2,.3.3,.4.2,0 .2-.6.2,.7.2-1.9.3,0 .2,1.9.2-1.6.2,1.6.2-.9.3-.7.2-1.2.2-1.3.2,.8.2,.6.3,.5.2,.2.2-.7.2-.1.3-1.2.2,.5.2-1 .2-.3.2-2 .3,.3.2,.8.2,.5.2-.5.2,1.1.3-.8.2-.5.2-1.4.2-1.1.2-.1.3-1.2.2,1.2.2,1.9.2,.2.2-1.2.3-.3.2-1.9.2,.3.2,.5.2,.8.3,0 .2-.4.2-.3.2,.9.2-2.5.3,.7.2-.1.2,1.9.2-1.6.2-2.3.3-.8.2,0 .2-.6.2,.2.3,.5.2,1.2.2,1 .2-2.2.2-.1.3-.8.2-1.5.2,.5.2-.1.2,.1.3-.2.2-.6.2-.8.2-2.6.2-2.1.3,3.5.2-1.5.2,.5.2-.1.2-2.6.3,2.7.2,2.6.2-1.2.2-1.8.2-.7.3-.4.2,.4.2-.2.2,0 .2,.3.3-2.1.2,1.5.2,.4.2-1.7.3-1.4.2-1 .2-.3.2,2.7.2,.6.3-1.2.2-3.2.2-.7.2-.5.2,0 .3-.4.2-.4.2,.9.2-1.6.2-1.4.3,.2.2-1.8.2-.3.2,1.3.2,3.2.3,.9.2-2.4.2-.2.2-2.3.2-1.9.3,3.1.2-2.8.2-.5.2,1.5.2-.2.3-.1.2-1.2.2-3.2.2,1.6.3-.9.2-1.4.2-.7.2,2.5.2-.7.3,3.1.2,.1.2-.7.2-.3.2-.4.3-.7.2-4 .2,1.9.2,2.8.2-1.7.3-1.4.2,1 .2,.4.2,2.3.2-1.2.3-3.5.2-2.9.2,5.6.2-2.6.2-1.2.3,.6.2,3.4.2-4.4.2-.1.2,.1.3-.1.2,1.2.2,.8.2-1.7.3-2.7.2-.1.2,1.7.2-.8.2-1 .3-.1.2-4.7.2-2.5.2,.7.2,1.6.3-.3.2,1.1.2,1.2.2-.4.2-.2.3-2.1.2,3.8.2-2 .2,.7.2-1.6.3-2.5.2,.5.2,.9.2-3.3.2,3 .3,1.6.2,1.6.2,1.7.2-1.6.2,.8.3-.2.2,1.2.2-2.5.2,.1.3-2.2.2,3.4.2,.2.2-.1.2-.8.3,.3.2-.4.2-1.2.2,1.8.2-1.1.3-.1.2,2 .2-3.4.2,3.5.2-.9.3,0 .2-2.3.2,2.6.2,1.8.2-.2.3,4 .2,.2.2-1.2.2,.1.2-.1.3,2.4.2,.2.2,1.9.2-1.1.2-2.3.3-.3.2,3.8.2,1.6.2,1.1.2-.8.3,.1.2-.2.2,1.1.2,2 .3-2.2.2,1 .2,4.2.2,.9.2-2.1.3-4.1.2,2.4.2,3.2.2,1.7.2-1 .3,3.1.2-3.5.2,3.4.2,1 .2,1.4.3,0 .2,1.4.2-.7.2-1.6.2-.5.3,1.1.2,2.7.2,0 .2,2.1.2-.6.3-.2.2,2.2.2,.4.2,.2.2,1.2.3,1.6.2,1.4.2-.8.2,0 .3,1.8.2-.4.2,.7.2-.2.2,.8.3-1.6.2,.2.2,1.6.2,.6.2-.6.3-.2.2,.9.2,1.4.2,.9.2,.6.3,1.2.2-.7.2,.7.2,.5.2-.2.3,1.4.2-.1.2-1.6.2-.3.2,2.6.3-.1.2-1.5.2,2.7.2,.5.2,1.4.3,.1.2,.9.2,1 .2,1.7.3-1.7.2-.3.2-1.4.2,1.3.2,1.1.3,.2.2-.3.2,2.4.2,.2.2,.4.3-.4.2-.3.2-.5.2,.6.2,.9.3,1.8.2-.3.2,1.2.2-1.1.2,1.4.3,.6.2,.3.2-.4.2,.6.2-.6.3,0 .2,.2.2,1.3.2,0 .2,.1.3-.9.2,1.4.2-.6.2,.9.3,1.3.2-.4.2-.4.2-.8.2,.6.3,.6.2,0 .2,.2.2-.1.2,.2.3-.6.2,.3.2,0 .2,.9.2,.1.3,.2.2,.4.2,.2.2,.4.2-.6.3,0 .2,1.1.2,.4.2,.1.2,.8.3,.5.2,.3.2-.1.2,0 .2-.2.3,.2.2,.1.2-.2.2,.1.3,0 .2-.2.2,.2.2,.6.2,.6.3-.3.2,.2.2,1 .2-.8.2,.2.3-.4.2,0 .2-.2.2,.9.2-.1.3,.6.2-.4.2,.3.2,0 .2,.1.3-.1.2,.5.2-.2.2,.2.2-.1.3,.2.2,.5.2-.6.2,.4.2,0 .3-.1.2,0 .2-.1.2-.1.2,.3.3,.3.2,.6.2-.3.2-.4.3-.2.2-.3.2,.2.2,.4.2-.1.3,.1.2,.2.2,.7.2-.5.2-.1.3,.4.2-.1.2-.1.2-.1.2,.8.3-.1.2-.5.2,.5.2,0 .2-.6.3,.1.2,0 .2-.1.2-.4.2,.4.3-.4.2-.1.2-.2.2,.3.2,.2.3,.2.2-.3.2,.8.2,.2.3,0 .2-.4.2-.3.2,0 .2-.4.3-.2.2,.7.2-.5.2,.4.2-.5.3-.1.2,.3.2,.2.2-.1.2,.6.3,0 .2-.5.2-.1.2,.1.2,.1.3-.9.2,.1.2,1.1.2,.2.2,0 .3-.3.2-.5.2,.5.2-.5.2,0 .3,0 .2,.1.2-.1.2,.8.3-.3.2,.1.2-.4.2,0 .2-.6.3,.7.2,.5.2-.2.2,.3.2,.1.3-.2.2-1 .2,.1.2,.1.2,.2.3-.4.2-.2.2,.2.2,.5.2,.4.3,.1.2-.3.2-.3.2,.3.2,.8.3-.6.2,.1.2,.4.2-.1.2,.1.3-.7.2,.2.2,.1.2-.7.3,.3.2-.1.2-.5.2,.5.2-.3.3,.3.2,.7.2-.4.2,.2.2-.3.3-.3.2-.1.2,.4.2-.8.2,.6.3,.1.2-.3.2,.1.2,.6.2,0 .3-.5.2,.1.2-.7.2-.2.2,.2.3,.4.2-.3.2,.5.2-.3.2-.1.3,.7.2-.6.2,.3.2-.1.3-.2.2-.3.2,.6.2,.1.2,.3.3,.1.2-.4.2,.1.2-.4.2,.1.3,.2.2-.1.2,.1.2-.5.2,.4.3,0 .2-.3.2,.1" fill="none" stroke="#ec3a2d" stroke-width="1.4" stroke-linejoin="round"/><path d="M492.3,313.8l.2,0 .2,.3.3,.1.2,.1.2-.4.2,.1.2-.2.3-.2.2-.4.2-.1.2-.7.2-.8.3-.1.2,.2.2-.2.2-.1.2-.7.3-.4.2,.5.2-.4.2-.4.3,.4.2-.4.2,.1.2,0 .2-.4.3,.2.2-.8.2-.5.2,0 .2,.2.3,.1.2,.9.2-.2.2-1.3.2,.2.3-.7.2,.1.2,.1.2-1 .2,.5.3-.1.2-.7.2-.1.2-.1.2-.1.3,.1.2-.1.2,.8.2-.1.2-.5.3-.5.2-.7.2-.4.2-.5.3,.5.2-.2.2-.2.2-1 .2,.5.3-.7.2-.3.2-.6.2-1.9.2-.2.3,1.1.2,.4.2,0 .2-.7.2-.9.3-.8.2,.6.2,1.5.2-.4.2-1 .3-1.3.2,1.1.2,.8.2-.9.2,.5.3-.4.2-.3.2,.4.2-.6.2-.7.3-1 .2-.7.2-.4.2-.8.3-.6.2,1.8.2-1.3.2,1.2.2,1.2.3-.9.2,0 .2-.5.2-1 .2-1.2.3-.7.2,.3.2,.1.2,.1.2-1 .3-.8.2,1 .2,.4.2,0 .2-1 .3,.5.2-1.5.2,.7.2-.5.2-.1.3,.3.2,.7.2,.5.2-.5.2-.5.3-.2.2-1.2.2-.2.2,1.2.3-1 .2-.3.2,.3.2,.3.2-2.8.3,.1.2-.1.2-1.7.2,.1.2,.4.3,2 .2-.5.2-.9.2,.6.2-.7.3,.6.2-1.4.2-1 .2,0 .2-1.4.3,2 .2,.8.2-.2.2-.4.2,.6.3-.5.2-1.1.2,.5.2-1.9.2,1.3.3,.2.2,.6.2,1.2.2-.7.3-3.9.2-.4.2-2 .2-.2.2,1.3.3-.1.2-.1.2-.1.2,.9.2,.5.3,1.1.2,.3.2-2.4.2-1.2.2,1.8.3,2.1.2-1.9.2,1 .2,.5.2-.3.3,1.5.2-1.8.2-1.8.2,.9.2-1.1.3-.7.2-1.1.2-.2.2-2.9.2,.2.3,.1.2-1.1.2,.5.2,.8.2-.8.3,.8.2,2.1.2-.9.2,.4.3-1.9.2-1.4.2-.8.2,2.1.2,.1.3,1.9.2,.9.2-4 .2,.2.2-1.3.3-2 .2,1.3.2-1.2.2-.4.2,1.8.3-.3.2,.4.2,.1.2-1.3.2-.7.3,.2.2,0 .2-.9.2-1.1.2-1.2.3,.3.2,1 .2-1.3.2,1.2.2-1 .3-.1.2,.3.2-2.4.2,2.5.3-3.3.2,1.5.2-3 .2-.4.2,.9.3,1.1.2-.7.2,.3.2-2.7.2,.7.3,.2.2,0 .2,.6.2-1 .2-3.1.3,.4.2,.8.2,.8.2-1.3.2-.5.3,.3.2-.4.2-.9.2-3.6.2,1.7.3,1.3.2-1.9.2,.3.2-.7.2-1.9.3-2.6.2,1.6.2-2.2.2,5.5.3,2.7.2-3.1.2,1.1.2,.7.2,1.2.3-4 .2,.8.2-2.9.2,1.5.2-3.2.3,6.2.2,0 .2-1.5.2-2 .2-.1.3,.7.2-.2.2-1.2.2-1.5.2-.9.3,.5.2-1.9.2-.5.2,2.1.2-1.7.3,1.1.2-2.2.2,1 .2,1.4.2-1.5.3,.5.2-3.3.2-2 .2,4.9.3-.8.2-.8.2-3.6.2-.6.2,2 .3,1.3.2-.9.2-3.8.2,1.5.2-.4.3-.7.2-1.2.2,.4.2-3.7.2-1.3.3,2.8.2-.3.2,.3.2-.3.2,1.1.3,3.3.2-3.3.2,.8.2,1.6.2,.2.3,.2.2-1.6.2-.3.2,.8.2-2.5.3-1.6.2,3.3.2-.1.2,1.4.3-1.4.2,2.1.2-1.4.2-.8.2,2.1.3-1.8.2-.1.2-.4.2,1.3.2-.8.3,.8.2,2.2.2,.2.2,1.2.2-1.2.3-.8.2,2.7.2-.6.2,.2.2,1.9.3-.5.2-2 .2,.4.2,.9.2-1.1.3,3.7.2-2.1.2-.2.2,3 .2-.1.3,.8.2-.6.2,1.7.2,2 .2,2.2.3-.6.2,.1.2,0 .2,2.4.3,2.8.2-.2.2,.1.2-1.4.2,.8.3,3.2.2,2.7.2-1.6.2,1.7.2,2 .3,1.1.2,.3.2-1 .2-1.7.2,.8.3,0 .2,1.9.2,.4.2,.2.2-1.6.3,.2.2,.1.2,.9.2-1.5.2,1.6.3,1.8.2,2 .2,1.9.2-1.9.2,.8.3,0 .2,3.1.2-2 .2,1.3.3,1.6.2-1.3.2,1.6.2,1 .2,0 .3,1.4.2,1.3.2-1.7.2-.3.2,.2.3,.9.2,1.5.2,1.4.2,1 .2,.8.3,.4.2,.3.2-1 .2,0 .2,.5.3,.4.2,.3.2,.1.2,1.3.2-.5.3,.2.2,1.3.2,1.8.2,1.2.2,.7.3-1 .2-.8.2,1.8.2,.4.3-.2.2,1.3.2,1.6.2-.1.2,0 .3-.4.2,.8.2-.5.2,1.6.2-.5.3,1.3.2,1.8.2-.6.2,.4.2,.7.3-.2.2,.4.2,.7.2-.1.2,.8.3-1.2.2,.6.2,.1.2,1.2.2,1.2.3-.4.2-.1.2,.1.2-.2.2,0 .3,.1.2,1.5.2-.1.2,.7.3-.8.2,1.2.2,.3.2,.1.2-.3.3,.4.2,.4.2,.5.2,.9.2-1.2.3,.9.2,.3.2,.2.2-.5.2,.1.3,.1.2,.8.2-.9.2,0 .2,0 .3,.7.2-.2.2,.7.2,.4.2,.7.3-.2.2,.2.2-.3.2,.2.2,.1.3,0 .2,.5.2,1 .2-.8.3,.6.2-.1.2,.3.2-.2.2,.4.3,.3.2,.1.2-.1.2,.3.2,.3.3,.1.2,.1.2-.3.2-.2.2,0 .3,.7.2,.3.2,0 .2,.3.2-.1.3,.4.2,.1.2,.2.2-.4.2-.1.3-.6.2,.5.2,.2.2-.3.2,.8.3,.2.2,.1.2,.4.2-.9.2,.3.3-.1.2,.5.2,0 .2,0 .3-.4.2,.1.2,.1.2-.2.2,.4.3,.1.2,.1.2,.2.2,0 .2-.2.3,.1.2,.1.2,.2.2-.5.2-.4.3,0 .2-.7.2,.3.2,0 .2,.5.3,.6.2-.2.2,.2.2,0 .2-.2.3-.6.2,0 .2,.5.2-.2.2,.4.3,.1.2,.2.2-.5.2-.3.3,.4.2,.4.2-.2.2,.1.2,0 .3-.5.2,0 .2,.1.2,1 .2-.3.3-.2.2,0 .2-.5.2-.2.2,.5.3-.2.2,.1.2,.5.2,0 .2,.1.3,.1.2-.4.2,.4.2-.2.2-.2.3-.1.2-.4.2-.1.2-.2.2,.1.3,.1.2,0 .2,0 .2,0 .3,.3.2,0 .2-.4.2,.1.2,0 .3-.2.2,.9.2,.2.2-.3.2,.2.3-.4.2-.2.2-.1.2,0 .2,.7.3-.1.2,0 .2-.1.2-.2.2-.2.3-.1.2,.2.2,0 .2,.3.2,0 .3,0 .2,.3.2,0 .2,0 .2-.4.3-.1.2,.4.2,.2.2-.2.3-.1.2,.2.2,.2.2-.1.2-.3.3-.2.2-.5.2,.6.2,0 .2,.7.3-.2.2,0 .2,.3.2-.5.2-.6.3,.2.2,.2.2,0 .2,0 .2-.2.3-.1.2,0 .2-.6.2,.8.2,.5.3,.2.2-.6.2,0 .2-.3.2,1 .3-.3.2-.4.2-.4.2,0 .3,0 .2,.1.2-.3.2-.4.2,.6.3-.1.2,.5.2,.1.2-.2.2-.4.3-.3.2-.2.2,.3.2-.2.2,.3.3,.4.2,.1.2-.2" fill="none" stroke="#a8141b" stroke-width="1.4" stroke-linejoin="round"/></g><line x1="492.30" y1="193.80" x2="646.70" y2="193.80" stroke="#b2b2b2" stroke-width="1.2"/><line x1="492.30" y1="193.20" x2="492.30" y2="323.10" stroke="#8a8a8a" stroke-width="1"/><line x1="646.70" y1="193.20" x2="646.70" y2="323.10" stroke="#8a8a8a" stroke-width="1"/><line x1="491.80" y1="322.60" x2="647.20" y2="322.60" stroke="#8a8a8a" stroke-width="1"/><text x="488.00" y="320.10" font-size="9.2" text-anchor="end" textLength="25.4" lengthAdjust="spacingAndGlyphs">2,000</text><line x1="492.30" y1="301.57" x2="495.40" y2="301.57" stroke="#7a7a7a" stroke-width="0.9"/><line x1="492.30" y1="286.25" x2="495.40" y2="286.25" stroke="#7a7a7a" stroke-width="0.9"/><text x="488.00" y="289.45" font-size="9.2" text-anchor="end" textLength="25.4" lengthAdjust="spacingAndGlyphs">2,500</text><line x1="492.30" y1="270.93" x2="495.40" y2="270.93" stroke="#7a7a7a" stroke-width="0.9"/><line x1="492.30" y1="255.60" x2="495.40" y2="255.60" stroke="#7a7a7a" stroke-width="0.9"/><text x="488.00" y="258.80" font-size="9.2" text-anchor="end" textLength="25.4" lengthAdjust="spacingAndGlyphs">3,000</text><line x1="492.30" y1="240.28" x2="495.40" y2="240.28" stroke="#7a7a7a" stroke-width="0.9"/><line x1="492.30" y1="224.95" x2="495.40" y2="224.95" stroke="#7a7a7a" stroke-width="0.9"/><text x="488.00" y="228.15" font-size="9.2" text-anchor="end" textLength="25.4" lengthAdjust="spacingAndGlyphs">3,500</text><line x1="492.30" y1="209.62" x2="495.40" y2="209.62" stroke="#7a7a7a" stroke-width="0.9"/><text x="488.00" y="197.50" font-size="9.2" text-anchor="end" textLength="25.4" lengthAdjust="spacingAndGlyphs">4,000</text><text x="491.90" y="334.40" font-size="9.2" text-anchor="middle" textLength="15.9" lengthAdjust="spacingAndGlyphs">650</text><line x1="507.74" y1="322.60" x2="507.74" y2="319.50" stroke="#7a7a7a" stroke-width="0.9"/><line x1="523.18" y1="322.60" x2="523.18" y2="319.50" stroke="#7a7a7a" stroke-width="0.9"/><text x="522.78" y="334.40" font-size="9.2" text-anchor="middle" textLength="15.9" lengthAdjust="spacingAndGlyphs">700</text><line x1="538.62" y1="322.60" x2="538.62" y2="319.50" stroke="#7a7a7a" stroke-width="0.9"/><line x1="554.06" y1="322.60" x2="554.06" y2="319.50" stroke="#7a7a7a" stroke-width="0.9"/><text x="553.66" y="334.40" font-size="9.2" text-anchor="middle" textLength="15.9" lengthAdjust="spacingAndGlyphs">750</text><line x1="569.50" y1="322.60" x2="569.50" y2="319.50" stroke="#7a7a7a" stroke-width="0.9"/><line x1="584.94" y1="322.60" x2="584.94" y2="319.50" stroke="#7a7a7a" stroke-width="0.9"/><text x="584.54" y="334.40" font-size="9.2" text-anchor="middle" textLength="15.9" lengthAdjust="spacingAndGlyphs">800</text><line x1="600.38" y1="322.60" x2="600.38" y2="319.50" stroke="#7a7a7a" stroke-width="0.9"/><line x1="615.82" y1="322.60" x2="615.82" y2="319.50" stroke="#7a7a7a" stroke-width="0.9"/><text x="615.42" y="334.40" font-size="9.2" text-anchor="middle" textLength="15.9" lengthAdjust="spacingAndGlyphs">850</text><line x1="631.26" y1="322.60" x2="631.26" y2="319.50" stroke="#7a7a7a" stroke-width="0.9"/><text x="646.30" y="334.40" font-size="9.2" text-anchor="middle" textLength="15.9" lengthAdjust="spacingAndGlyphs">900</text><text x="455.10" y="258.50" font-size="9.6" text-anchor="middle" textLength="67.8" lengthAdjust="spacingAndGlyphs" transform="rotate(-90 455.10 258.50)">Intensity (a.u.)</text><text x="569.50" y="347.60" font-size="10" text-anchor="middle" textLength="80.6" lengthAdjust="spacingAndGlyphs">Wavelength (nm)</text><text x="494.40" y="205.20" font-size="10" textLength="58.5" lengthAdjust="spacingAndGlyphs">DMF + BuSO</text><rect x="609.8" y="197.10" width="8.1" height="7.7" fill="#0b2e6c"/><text x="622.10" y="204.40" font-size="10" textLength="14.0" lengthAdjust="spacingAndGlyphs">0 s</text><rect x="609.8" y="207.00" width="8.1" height="7.7" fill="#1f6db5"/><text x="622.10" y="214.30" font-size="10" textLength="14.0" lengthAdjust="spacingAndGlyphs">4 s</text><rect x="609.8" y="216.90" width="8.1" height="7.7" fill="#6aaad6"/><text x="622.10" y="224.20" font-size="10" textLength="14.0" lengthAdjust="spacingAndGlyphs">8 s</text><rect x="609.8" y="226.80" width="8.1" height="7.7" fill="#c5daef"/><text x="622.10" y="234.10" font-size="10" textLength="19.3" lengthAdjust="spacingAndGlyphs">12 s</text><rect x="609.8" y="236.70" width="8.1" height="7.7" fill="#fddccd"/><text x="622.10" y="244.00" font-size="10" textLength="19.3" lengthAdjust="spacingAndGlyphs">16 s</text><rect x="609.8" y="246.60" width="8.1" height="7.7" fill="#fc8d6f"/><text x="622.10" y="253.90" font-size="10" textLength="19.3" lengthAdjust="spacingAndGlyphs">20 s</text><rect x="609.8" y="256.50" width="8.1" height="7.7" fill="#ec3a2d"/><text x="622.10" y="263.80" font-size="10" textLength="19.3" lengthAdjust="spacingAndGlyphs">24 s</text><rect x="609.8" y="266.40" width="8.1" height="7.7" fill="#a8141b"/><text x="622.10" y="273.70" font-size="10" textLength="19.3" lengthAdjust="spacingAndGlyphs">28 s</text><text x="201.50" y="190.80" font-size="15" font-weight="bold" fill="#000" stroke="#000" stroke-width="0.35">d</text><text x="444.00" y="190.80" font-size="13.5" font-weight="bold" fill="#000" stroke="#000" stroke-width="0.3">e</text><text x="256.50" y="243.00" font-size="10" textLength="35.5" lengthAdjust="spacingAndGlyphs">685 nm</text><line x1="275.9" y1="245.5" x2="275.9" y2="254" stroke="#d84a4a" stroke-width="0.9"/><path d="M273.9,252.2 L275.9,256.4 L277.9,252.2 Z" fill="#d84a4a"/><rect x="236.1" y="374.0" width="153.4" height="111.0" fill="#343496"/><g mask="url(#mkf)"><rect x="236.1" y="374.0" width="153.4" height="106.39999999999998" fill="#2d44aa" opacity="0.5"/><rect x="236.1" y="374.0" width="153.4" height="106.39999999999998" filter="url(#nzf)"/></g><g clip-path="url(#gcfd)"><ellipse cx="271.4" cy="481.0" rx="37.5" ry="36.5" fill="none" stroke="url(#rgcf0)" stroke-width="1.5" opacity="0.95"/><ellipse cx="271.4" cy="481.0" rx="41.5" ry="40.5" fill="none" stroke="url(#rgcf1)" stroke-width="1.3" opacity="0.75" stroke-dasharray="1.2,1"/><ellipse cx="271.4" cy="481.0" rx="45.5" ry="44.0" fill="none" stroke="url(#rgcf2)" stroke-width="2.8" opacity="1"/><ellipse cx="271.4" cy="481.0" rx="45.5" ry="44.0" fill="none" stroke="#e0ea72" stroke-width="1.5" opacity="1"/><ellipse cx="271.4" cy="481.0" rx="51.3" ry="50.0" fill="none" stroke="url(#rgcf3)" stroke-width="1.2" opacity="0.6" stroke-dasharray="1,1.5"/><ellipse cx="271.4" cy="481.0" rx="65.9" ry="64.5" fill="none" stroke="url(#rgcf4)" stroke-width="2.2" opacity="1"/><ellipse cx="271.4" cy="481.0" rx="75.5" ry="74.5" fill="none" stroke="url(#rgcf5)" stroke-width="1.5" opacity="0.8" stroke-dasharray="1.2,1"/><ellipse cx="271.4" cy="481.0" rx="82.5" ry="81.8" fill="none" stroke="url(#rgcf6)" stroke-width="2.2" opacity="1"/><ellipse cx="271.4" cy="481.0" rx="88.8" ry="88.0" fill="none" stroke="url(#rgcf7)" stroke-width="1.5" opacity="0.8" stroke-dasharray="1.2,1"/><ellipse cx="271.4" cy="481.0" rx="98.5" ry="97.7" fill="none" stroke="url(#rgcf8)" stroke-width="3.8" opacity="1"/><ellipse cx="271.4" cy="481.0" rx="98.5" ry="97.7" fill="none" stroke="#dcec74" stroke-width="2.0" opacity="1"/><ellipse cx="271.4" cy="481.0" rx="105.4" ry="104.0" fill="none" stroke="url(#rgcf9)" stroke-width="1.5" opacity="0.8" stroke-dasharray="1.2,1"/><ellipse cx="271.4" cy="481.0" rx="113.1" ry="111.4" fill="none" stroke="url(#rgcf10)" stroke-width="3.6" opacity="1"/><ellipse cx="271.4" cy="481.0" rx="113.1" ry="111.4" fill="none" stroke="#c0e468" stroke-width="1.8" opacity="1"/><ellipse cx="271.4" cy="481.0" rx="128.2" ry="126.4" fill="none" stroke="url(#rgcf11)" stroke-width="2.4" opacity="0.85" stroke-dasharray="1.4,0.7"/></g><path d="M246.7,373.0 L246.9,374.0 L250.0,385.0 L253.3,395.0 L259.5,415.0 L266.2,435.0 L269.3,450.0 L270.7,465.0 L271.4,468.0 L272.1,465.0 L273.6,450.0 L276.5,435.0 L281.5,415.0 L289.3,395.0 L292.7,385.0 L299.0,374.0 L299.3,373.0 Z" fill="#343496"/><rect x="268.4" y="448.0" width="6" height="23.0" fill="#2a6fd0" opacity="0.3"/><rect x="270.9" y="464.0" width="1" height="5.0" fill="#2a2a8a" opacity="0.9"/><path d="M268.59999999999997,475.5 L271.4,467.0 L274.2,475.5 Z" fill="#3fbf6a" opacity="0.9"/><path d="M270.09999999999997,474.5 L271.4,470.0 L272.7,474.5 Z" fill="#d8e870"/><path d="M268.4,480.5 Q271.4,476.5 274.4,480.5" fill="none" stroke="#2fb0a0" stroke-width="1"/><line x1="232.10" y1="480.10" x2="236.10" y2="480.10" stroke="#555" stroke-width="0.9"/><text x="228.00" y="483.30" font-size="9.2" text-anchor="end" textLength="5.3" lengthAdjust="spacingAndGlyphs">0</text><line x1="232.10" y1="436.10" x2="236.10" y2="436.10" stroke="#555" stroke-width="0.9"/><text x="228.00" y="439.30" font-size="9.2" text-anchor="end" textLength="12.9" lengthAdjust="spacingAndGlyphs">1.0</text><line x1="232.10" y1="385.40" x2="236.10" y2="385.40" stroke="#555" stroke-width="0.9"/><text x="228.00" y="388.60" font-size="9.2" text-anchor="end" textLength="12.9" lengthAdjust="spacingAndGlyphs">2.0</text><line x1="248.90" y1="485.00" x2="248.90" y2="489.00" stroke="#555" stroke-width="0.9"/><text x="248.90" y="500.40" font-size="9.2" text-anchor="middle" textLength="12.9" lengthAdjust="spacingAndGlyphs">0.5</text><line x1="271.50" y1="485.00" x2="271.50" y2="489.00" stroke="#555" stroke-width="0.9"/><text x="271.50" y="500.40" font-size="9.2" text-anchor="middle" textLength="5.3" lengthAdjust="spacingAndGlyphs">0</text><line x1="294.40" y1="485.00" x2="294.40" y2="489.00" stroke="#555" stroke-width="0.9"/><text x="294.40" y="500.40" font-size="9.2" text-anchor="middle" textLength="18.5" lengthAdjust="spacingAndGlyphs">−0.5</text><line x1="317.20" y1="485.00" x2="317.20" y2="489.00" stroke="#555" stroke-width="0.9"/><text x="317.20" y="500.40" font-size="9.2" text-anchor="middle" textLength="18.5" lengthAdjust="spacingAndGlyphs">−1.0</text><line x1="342.30" y1="485.00" x2="342.30" y2="489.00" stroke="#555" stroke-width="0.9"/><text x="342.30" y="500.40" font-size="9.2" text-anchor="middle" textLength="18.5" lengthAdjust="spacingAndGlyphs">−1.5</text><line x1="370.40" y1="485.00" x2="370.40" y2="489.00" stroke="#555" stroke-width="0.9"/><text x="370.40" y="500.40" font-size="9.2" text-anchor="middle" textLength="18.5" lengthAdjust="spacingAndGlyphs">−2.0</text><text x="387.60" y="385.00" font-size="10" text-anchor="end" textLength="21.3" lengthAdjust="spacingAndGlyphs" fill="#eef0fa">DMF</text><rect x="396.2" y="387.8" width="6.1" height="77.8" fill="url(#gcbf)" stroke="#555" stroke-width="0.5"/><line x1="402.30" y1="393.00" x2="404.50" y2="393.00" stroke="#555" stroke-width="0.8"/><text x="408.00" y="396.20" font-size="9.2" textLength="12.9" lengthAdjust="spacingAndGlyphs">4.0</text><line x1="402.30" y1="406.38" x2="404.50" y2="406.38" stroke="#555" stroke-width="0.8"/><text x="408.00" y="409.58" font-size="9.2" textLength="12.9" lengthAdjust="spacingAndGlyphs">3.5</text><line x1="402.30" y1="419.76" x2="404.50" y2="419.76" stroke="#555" stroke-width="0.8"/><text x="408.00" y="422.96" font-size="9.2" textLength="12.9" lengthAdjust="spacingAndGlyphs">3.0</text><line x1="402.30" y1="433.14" x2="404.50" y2="433.14" stroke="#555" stroke-width="0.8"/><text x="408.00" y="436.34" font-size="9.2" textLength="12.9" lengthAdjust="spacingAndGlyphs">2.5</text><line x1="402.30" y1="446.52" x2="404.50" y2="446.52" stroke="#555" stroke-width="0.8"/><text x="408.00" y="449.72" font-size="9.2" textLength="12.9" lengthAdjust="spacingAndGlyphs">2.0</text><line x1="402.30" y1="459.90" x2="404.50" y2="459.90" stroke="#555" stroke-width="0.8"/><text x="408.00" y="463.10" font-size="9.2" textLength="12.9" lengthAdjust="spacingAndGlyphs">1.5</text><text x="414.80" y="476.00" font-size="9.4" text-anchor="middle" textLength="39.7" lengthAdjust="spacingAndGlyphs">Intensity</text><text x="414.60" y="485.60" font-size="9.4" text-anchor="middle" textLength="23.2" lengthAdjust="spacingAndGlyphs">(a.u.)</text><rect x="486.0" y="374.6" width="154.29999999999995" height="109.0" fill="#343496"/><g mask="url(#mkg)"><rect x="486.0" y="374.6" width="154.29999999999995" height="105.19999999999993" fill="#2d44aa" opacity="0.5"/><rect x="486.0" y="374.6" width="154.29999999999995" height="105.19999999999993" filter="url(#nzg)"/></g><g clip-path="url(#gcgd)"><ellipse cx="521.6" cy="480.4" rx="42.3" ry="41.3" fill="none" stroke="url(#rgcg0)" stroke-width="1.5" opacity="0.85"/><ellipse cx="521.6" cy="480.4" rx="45.5" ry="44.0" fill="none" stroke="url(#rgcg1)" stroke-width="2.9" opacity="1"/><ellipse cx="521.6" cy="480.4" rx="45.5" ry="44.0" fill="none" stroke="#e0ea72" stroke-width="1.6" opacity="1"/><ellipse cx="521.6" cy="480.4" rx="65.5" ry="64.0" fill="none" stroke="url(#rgcg2)" stroke-width="2.3" opacity="1"/><ellipse cx="521.6" cy="480.4" rx="82.5" ry="81.8" fill="none" stroke="url(#rgcg3)" stroke-width="2.4" opacity="1"/><ellipse cx="521.6" cy="480.4" rx="98.5" ry="97.7" fill="none" stroke="url(#rgcg4)" stroke-width="3.6" opacity="1"/><ellipse cx="521.6" cy="480.4" rx="98.5" ry="97.7" fill="none" stroke="#dcec74" stroke-width="2.0" opacity="1"/><ellipse cx="521.6" cy="480.4" rx="113.1" ry="111.4" fill="none" stroke="url(#rgcg5)" stroke-width="3.4" opacity="1"/><ellipse cx="521.6" cy="480.4" rx="113.1" ry="111.4" fill="none" stroke="#c0e468" stroke-width="1.8" opacity="1"/><ellipse cx="521.6" cy="480.4" rx="128.2" ry="126.4" fill="none" stroke="url(#rgcg6)" stroke-width="2.6" opacity="0.85" stroke-dasharray="1.4,0.7"/></g><path d="M496.9,373.6 L497.1,374.6 L500.2,385.6 L503.5,395.6 L509.7,415.6 L516.4,435.6 L519.5,450.6 L520.9,465.6 L521.6,468.6 L522.3,465.6 L523.8,450.6 L526.7,435.6 L531.7,415.6 L539.5,395.6 L542.9,385.6 L549.2,374.6 L549.5,373.6 Z" fill="#343496"/><rect x="518.6" y="448.6" width="6" height="21.799999999999955" fill="#2a6fd0" opacity="0.3"/><rect x="521.1" y="464.6" width="1" height="3.7999999999999545" fill="#2a2a8a" opacity="0.9"/><path d="M518.8000000000001,474.9 L521.6,466.4 L524.4,474.9 Z" fill="#3fbf6a" opacity="0.9"/><path d="M520.3000000000001,473.9 L521.6,469.4 L522.9,473.9 Z" fill="#d8e870"/><path d="M518.6,479.9 Q521.6,475.9 524.6,479.9" fill="none" stroke="#2fb0a0" stroke-width="1"/><line x1="482.00" y1="479.40" x2="486.00" y2="479.40" stroke="#555" stroke-width="0.9"/><text x="479.00" y="482.60" font-size="9.2" text-anchor="end" textLength="5.3" lengthAdjust="spacingAndGlyphs">0</text><line x1="482.00" y1="436.30" x2="486.00" y2="436.30" stroke="#555" stroke-width="0.9"/><text x="479.00" y="439.50" font-size="9.2" text-anchor="end" textLength="12.9" lengthAdjust="spacingAndGlyphs">1.0</text><line x1="482.00" y1="385.75" x2="486.00" y2="385.75" stroke="#555" stroke-width="0.9"/><text x="479.00" y="388.95" font-size="9.2" text-anchor="end" textLength="12.9" lengthAdjust="spacingAndGlyphs">2.0</text><line x1="498.50" y1="483.60" x2="498.50" y2="487.60" stroke="#555" stroke-width="0.9"/><text x="498.50" y="500.40" font-size="9.2" text-anchor="middle" textLength="12.9" lengthAdjust="spacingAndGlyphs">0.5</text><line x1="521.60" y1="483.60" x2="521.60" y2="487.60" stroke="#555" stroke-width="0.9"/><text x="521.60" y="500.40" font-size="9.2" text-anchor="middle" textLength="5.3" lengthAdjust="spacingAndGlyphs">0</text><line x1="544.40" y1="483.60" x2="544.40" y2="487.60" stroke="#555" stroke-width="0.9"/><text x="544.40" y="500.40" font-size="9.2" text-anchor="middle" textLength="18.5" lengthAdjust="spacingAndGlyphs">−0.5</text><line x1="567.40" y1="483.60" x2="567.40" y2="487.60" stroke="#555" stroke-width="0.9"/><text x="567.40" y="500.40" font-size="9.2" text-anchor="middle" textLength="18.5" lengthAdjust="spacingAndGlyphs">−1.0</text><line x1="592.20" y1="483.60" x2="592.20" y2="487.60" stroke="#555" stroke-width="0.9"/><text x="592.20" y="500.40" font-size="9.2" text-anchor="middle" textLength="18.5" lengthAdjust="spacingAndGlyphs">−1.5</text><line x1="619.80" y1="483.60" x2="619.80" y2="487.60" stroke="#555" stroke-width="0.9"/><text x="619.80" y="500.40" font-size="9.2" text-anchor="middle" textLength="18.5" lengthAdjust="spacingAndGlyphs">−2.0</text><text x="638.40" y="386.60" font-size="10" text-anchor="end" textLength="57.8" lengthAdjust="spacingAndGlyphs" fill="#eef0fa">DMF + BuSO</text><rect x="647.0" y="387.8" width="6.1" height="77.8" fill="url(#gcbg)" stroke="#555" stroke-width="0.5"/><line x1="653.10" y1="393.00" x2="655.30" y2="393.00" stroke="#555" stroke-width="0.8"/><text x="658.80" y="396.20" font-size="9.2" textLength="12.9" lengthAdjust="spacingAndGlyphs">4.0</text><line x1="653.10" y1="406.38" x2="655.30" y2="406.38" stroke="#555" stroke-width="0.8"/><text x="658.80" y="409.58" font-size="9.2" textLength="12.9" lengthAdjust="spacingAndGlyphs">3.5</text><line x1="653.10" y1="419.76" x2="655.30" y2="419.76" stroke="#555" stroke-width="0.8"/><text x="658.80" y="422.96" font-size="9.2" textLength="12.9" lengthAdjust="spacingAndGlyphs">3.0</text><line x1="653.10" y1="433.14" x2="655.30" y2="433.14" stroke="#555" stroke-width="0.8"/><text x="658.80" y="436.34" font-size="9.2" textLength="12.9" lengthAdjust="spacingAndGlyphs">2.5</text><line x1="653.10" y1="446.52" x2="655.30" y2="446.52" stroke="#555" stroke-width="0.8"/><text x="658.80" y="449.72" font-size="9.2" textLength="12.9" lengthAdjust="spacingAndGlyphs">2.0</text><line x1="653.10" y1="459.90" x2="655.30" y2="459.90" stroke="#555" stroke-width="0.8"/><text x="658.80" y="463.10" font-size="9.2" textLength="12.9" lengthAdjust="spacingAndGlyphs">1.5</text><text x="664.90" y="477.60" font-size="10" text-anchor="middle" textLength="40.6" lengthAdjust="spacingAndGlyphs">Intensity</text><text x="665.10" y="487.60" font-size="10" text-anchor="middle" textLength="24.8" lengthAdjust="spacingAndGlyphs">(a.u.)</text><text x="202.20" y="372.60" font-size="14.5" font-weight="bold" fill="#000" stroke="#000" stroke-width="0.35">f</text><text x="209.2" y="429.7" font-size="10" text-anchor="middle" fill="#363636" transform="rotate(-90 209.2 429.7)"><tspan font-style="italic">q</tspan><tspan font-size="7.4" dy="2.6" font-style="italic">z</tspan><tspan dy="-2.6"> (Å</tspan><tspan font-size="7.4" dy="-3.8">−1</tspan><tspan dy="3.8">)</tspan></text><text x="457.8" y="429.3" font-size="10" text-anchor="middle" fill="#363636" transform="rotate(-90 457.8 429.3)"><tspan>q</tspan><tspan font-size="7.4" dy="2.6">z</tspan><tspan dy="-2.6"> (Å</tspan><tspan font-size="7.4" dy="-3.8">−1</tspan><tspan dy="3.8">)</tspan></text><text x="313.0" y="516.3" font-size="10.6" text-anchor="middle" fill="#363636"><tspan font-style="italic">q</tspan><tspan font-size="7.4" dy="2.6" font-style="italic">xy</tspan><tspan dy="-2.6"> (Å</tspan><tspan font-size="7.4" dy="-3.8">−1</tspan><tspan dy="3.8">)</tspan></text><text x="562.7" y="516.3" font-size="10.6" text-anchor="middle" fill="#363636"><tspan>q</tspan><tspan font-size="7.4" dy="2.6">xy</tspan><tspan dy="-2.6"> (Å</tspan><tspan font-size="7.4" dy="-3.8">−1</tspan><tspan dy="3.8">)</tspan></text><text x="270.3" y="431.7" font-size="10" fill="#eef0fa"><tspan textLength="23.3" lengthAdjust="spacingAndGlyphs">(100)</tspan><tspan font-size="6.5" dy="2.5" font-style="italic">α</tspan></text><text x="271.0" y="455.4" font-size="10" fill="#eef0fa"><tspan textLength="22" lengthAdjust="spacingAndGlyphs">(100)</tspan><tspan font-size="6.5" dy="2.5" font-style="italic">δ</tspan></text><text x="520.2" y="431.9" font-size="10" fill="#eef0fa"><tspan textLength="23.3" lengthAdjust="spacingAndGlyphs">(100)</tspan><tspan font-size="6.5" dy="2.5" font-style="italic">α</tspan></text><text x="520.2" y="455.2" font-size="10" fill="#eef0fa"><tspan textLength="22" lengthAdjust="spacingAndGlyphs">(100)</tspan><tspan font-size="7.2" dy="2.5">PbI<tspan font-size="5" dy="1.2">2</tspan></tspan></text><text x="443.90" y="370.00" font-size="14.5" font-weight="bold" fill="#000" stroke="#000" stroke-width="0.35">g</text></svg></body></html>
